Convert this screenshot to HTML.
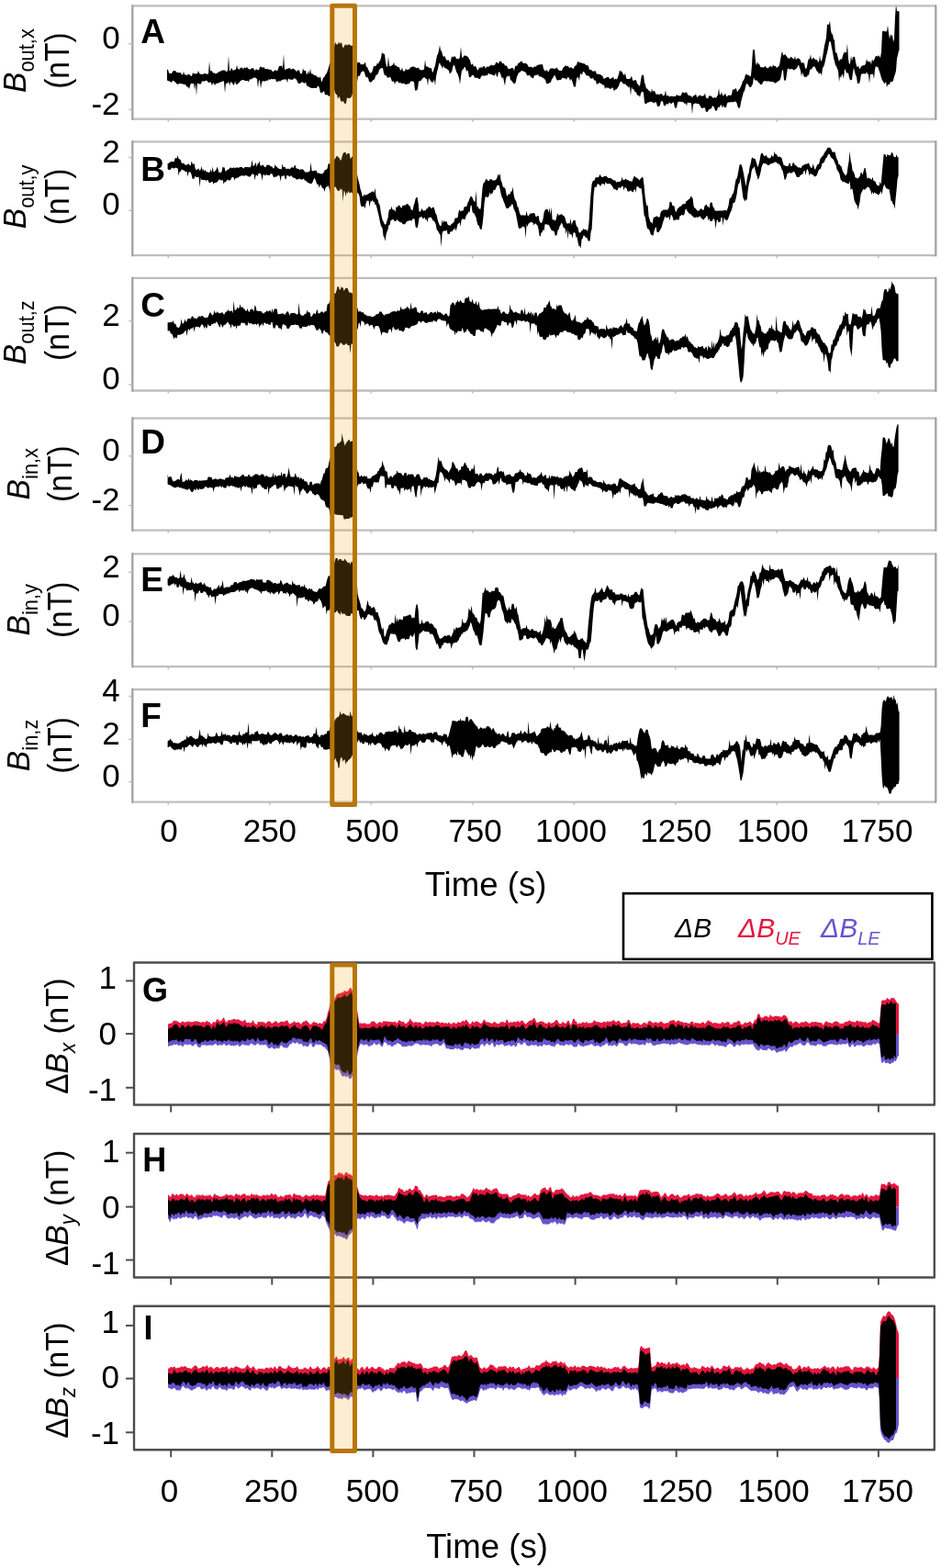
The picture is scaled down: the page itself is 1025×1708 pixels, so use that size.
<!DOCTYPE html><html><head><meta charset="utf-8"><style>html,body{margin:0;padding:0;background:#fff;}svg{display:block;}</style></head><body><svg width="1025" height="1708" viewBox="0 0 1025 1708" font-family='"Liberation Sans", Arial, sans-serif'>
<rect width="1025" height="1708" fill="#fff"/>
<path d="M182,75.7L183,75.7L184,79.5L185,79.9L186,79.9L187,79.9L188,78.1L189,77L190,77L191,77L192,78.6L193,78.9L194,78.9L195,79L196,79.3L197,79.3L198,81.3L199,81.7L200,77.7L201,81.3L202,81.3L203,81.9L204,81.8L205,80.8L206,80.8L207,82.1L208,82.8L209,82.8L210,78.9L211,80.2L212,80.3L213,80.3L214,80.6L215,80L216,77.1L217,79.5L218,80.8L219,80.8L220,80.8L221,81.2L222,80.1L223,80L224,80L225,81.1L226,80.6L227,80.5L228,66.7L229,77.3L230,77.3L231,77.3L232,79.6L233,79.6L234,79.6L235,80.8L236,79.5L237,79.4L238,78.7L239,77.4L240,78.3L241,76.7L242,76.7L243,76.6L244,76.6L245,76.6L246,77.5L247,78.4L248,76.5L249,60.6L250,77.2L251,76.7L252,73.8L253,75.5L254,77.3L255,76.1L256,76.1L257,75.4L258,70.8L259,75L260,75.2L261,75.8L262,73.1L263,74.4L264,73.2L265,75.7L266,73.3L267,74.1L268,74.1L269,72.7L270,74.5L271,75.2L272,75.5L273,75.5L274,74.2L275,74.2L276,74.2L277,76.2L278,77L279,74.7L280,76.1L281,76.1L282,76.5L283,72.8L284,72.8L285,72.8L286,74L287,73L288,74L289,75.2L290,75.2L291,75L292,75.2L293,75.7L294,75.7L295,75.7L296,76.7L297,78.1L298,78L299,76.5L300,76.5L301,76.5L302,77.7L303,74.9L304,72L305,72L306,72L307,70.9L308,75.1L309,58.6L310,75.7L311,76L312,75L313,75L314,74.5L315,74.3L316,74.3L317,76L318,74.9L319,74.7L320,74.7L321,76.2L322,76.2L323,78.5L324,76.4L325,76.4L326,76.4L327,79.9L328,80.2L329,80.2L330,74.3L331,76.9L332,76.9L333,76.9L334,81.2L335,80.2L336,77L337,81L338,74.4L339,80.2L340,80.2L341,80.7L342,81.9L343,81.9L344,82.2L345,83.1L346,84.2L347,84.2L348,84.8L349,83L350,88.7L351,88.6L352,84.5L353,84.5L354,82.5L355,80.5L356,79.5L357,76.6L358,73.4L359,69.6L360,68L361,57.9L362,52.5L363,51.2L364,51.2L365,45.8L366,47.7L367,48.6L368,48.3L369,45.5L370,47.6L371,47L372,46L373,50.8L374,52.6L375,50L376,48.4L377,48.4L378,49.8L379,48.4L380,48.4L381,48.4L382,49.8L383,49.8L384,49.8L385,48L386,53.4L387,59.7L388,63.8L389,68.8L390,68L391,68L392,68L393,70.4L394,69.9L395,69.9L396,70.6L397,68.7L398,67.8L399,72.9L400,73.1L401,75.5L402,77.4L403,79.7L404,79.3L405,79L406,76L407,72L408,72L409,72L410,71.2L411,68.2L412,70L413,66.9L414,66.2L415,63.1L416,57.3L417,58.1L418,58.8L419,58.9L420,67.2L421,72L422,72.9L423,61.3L424,71.8L425,72L426,72.3L427,70.7L428,70.7L429,67.8L430,71.3L431,71.3L432,71.7L433,73.1L434,73.1L435,73.4L436,76.4L437,76.4L438,73.4L439,77.6L440,77.6L441,77.6L442,74.5L443,76.5L444,75.8L445,75.7L446,75.2L447,73.2L448,73.2L449,72.9L450,72.1L451,73.5L452,72.4L453,74.2L454,74.1L455,74.1L456,73.4L457,75.9L458,75.9L459,76.6L460,76.3L461,76.3L462,75.2L463,65.1L464,72.6L465,72.6L466,72.6L467,73.7L468,73.7L469,74.2L470,74.2L471,79.2L472,77.6L473,74L474,71.6L475,65.8L476,60.8L477,58.8L478,55L479,49.3L480,55L481,55.5L482,59.6L483,62.2L484,60.7L485,62.2L486,65.1L487,65.7L488,65.5L489,65.5L490,68.6L491,66.6L492,60.9L493,62.7L494,61.6L495,61.6L496,61.6L497,64L498,64L499,64L500,64.4L501,61.5L502,50.7L503,61.5L504,63.4L505,61L506,60.4L507,60.4L508,60.9L509,61.6L510,62.3L511,64.2L512,65.5L513,70.3L514,70.4L515,69.1L516,73.1L517,72L518,71.9L519,73.8L520,76.6L521,76.2L522,73L523,74.7L524,72.3L525,74.6L526,72.2L527,72.2L528,72.2L529,75L530,72.6L531,72.7L532,72.4L533,72.4L534,71.2L535,70.8L536,70.8L537,71.5L538,71.1L539,70.7L540,68.6L541,67.6L542,68.6L543,69.5L544,66.7L545,66.7L546,66.7L547,69L548,69L549,69.3L550,71.4L551,71.4L552,71.4L553,73.9L554,75.5L555,74.8L556,75L557,74.1L558,74.1L559,74.1L560,77.2L561,72.8L562,71L563,72.4L564,69.6L565,68.5L566,68.5L567,66.7L568,66.7L569,67.5L570,69.1L571,69.1L572,68.5L573,69.5L574,69.5L575,71.3L576,73.3L577,72.7L578,72.7L579,73L580,73.6L581,73.8L582,72.5L583,72.5L584,72.5L585,70.9L586,70.8L587,70.6L588,70.3L589,70.3L590,70.3L591,69.9L592,74.7L593,76.5L594,77.7L595,76.3L596,76.3L597,78.7L598,77.2L599,74.9L600,74.6L601,74.6L602,74.5L603,74.5L604,75L605,75.1L606,73.6L607,73.9L608,75.9L609,76.8L610,76.8L611,77.3L612,76.9L613,74.7L614,72.8L615,72.8L616,71.1L617,72.1L618,72.1L619,72.1L620,73.9L621,73.5L622,73.5L623,73.5L624,74.9L625,74.5L626,71.7L627,71.7L628,70.4L629,67.8L630,66.4L631,68.8L632,67.7L633,68.3L634,68.9L635,69L636,69.2L637,69.6L638,70.7L639,71.1L640,71.1L641,72L642,75.9L643,75.9L644,75.8L645,77.5L646,77.6L647,77.7L648,76.9L649,78L650,81.2L651,79.9L652,81.1L653,81.1L654,81.1L655,82.2L656,82.2L657,84.4L658,86.2L659,85L660,85L661,84L662,84L663,84L664,85.9L665,85.9L666,84.9L667,84.9L668,83.3L669,87.1L670,85.8L671,85.8L672,86.8L673,83.8L674,81L675,76.3L676,78.1L677,77.3L678,79.2L679,81.1L680,82.2L681,79.2L682,84.5L683,86.2L684,86L685,86L686,86L687,84.7L688,82.6L689,86.9L690,88.3L691,87.2L692,87.2L693,87.2L694,91.1L695,92L696,93.1L697,94L698,87.2L699,81.7L700,81.7L701,81.7L702,89.8L703,92.4L704,96.6L705,96.6L706,97.8L707,99L708,99L709,101.4L710,96.2L711,99.9L712,99L713,99L714,101.3L715,103.4L716,101.9L717,103.3L718,102.7L719,102.7L720,101.9L721,102.2L722,104.1L723,104.5L724,103L725,98.2L726,104.4L727,104.1L728,104.1L729,105.4L730,105.1L731,104.6L732,105.1L733,105.1L734,105.1L735,105L736,104.9L737,102.9L738,103.8L739,104.3L740,104.3L741,104.4L742,103.7L743,100.6L744,100.6L745,101.3L746,101.2L747,100.5L748,100.6L749,102.7L750,104L751,104L752,104.6L753,104.6L754,106.6L755,104.4L756,104L757,104L758,102L759,105.7L760,105.7L761,104.2L762,103.7L763,103.7L764,104.7L765,104.7L766,104.2L767,104.2L768,101.3L769,106.4L770,107L771,107.6L772,105.3L773,104.2L774,104.2L775,104.9L776,105.9L777,107.3L778,106.1L779,106.1L780,106.9L781,104.8L782,103.6L783,96.1L784,103.6L785,103L786,100.3L787,103.8L788,104.6L789,103.2L790,101.6L791,104.4L792,105.5L793,103.7L794,103.7L795,103.7L796,104.3L797,102.7L798,97.5L799,97.5L800,97.5L801,96.3L802,96.6L803,100.5L804,98.8L805,97.1L806,96.7L807,93.7L808,92L809,88.3L810,87.6L811,85.1L812,81.5L813,80.4L814,81.7L815,81.7L816,81.7L817,83.7L818,82.2L819,70.8L820,54.2L821,54.2L822,54.2L823,67.7L824,71.3L825,67.2L826,69.9L827,69.3L828,72.6L829,73.4L830,73L831,73.4L832,73.6L833,72.3L834,72.3L835,74.1L836,74.3L837,74.3L838,72.4L839,72.3L840,72.3L841,73.6L842,70.3L843,72L844,72L845,72L846,74.3L847,72.8L848,72.5L849,71L850,65.6L851,59.8L852,55.7L853,59.8L854,60.4L855,58.7L856,60.3L857,61.5L858,63.3L859,63.3L860,64.2L861,62L862,62L863,63L864,64.1L865,64.6L866,61.1L867,65.5L868,63.7L869,63.6L870,63.6L871,64.2L872,65.8L873,68.9L874,67.8L875,68.8L876,68.8L877,74.2L878,75.1L879,72.9L880,66.8L881,64.1L882,64.1L883,59.2L884,64.9L885,64L886,62.6L887,63.8L888,65L889,65L890,64.9L891,67.4L892,67.4L893,60.5L894,66.5L895,66.3L896,62.2L897,56.3L898,49.8L899,45.8L900,40.7L901,26.4L902,26.7L903,26.7L904,22.5L905,33.6L906,36.9L907,37.2L908,43L909,43.5L910,57.9L911,56.6L912,59.7L913,64L914,67L915,64.5L916,64.5L917,64.4L918,60.8L919,58.1L920,56.5L921,57.4L922,57.1L923,47.3L924,64.3L925,69.9L926,69.1L927,60.8L928,66.2L929,61.9L930,61.9L931,61.5L932,67.2L933,71.8L934,73.6L935,71.3L936,75.1L937,74.5L938,72.5L939,71.6L940,71.5L941,71L942,71L943,69.1L944,63.9L945,67.5L946,66.2L947,68.3L948,66L949,70.7L950,64.1L951,67.1L952,65.4L953,63L954,61L955,61L956,61.8L957,60.1L958,61.8L959,62.8L960,56.4L961,34.6L962,33.7L963,33.7L964,34.2L965,34.2L966,34.2L967,27.6L968,36.1L969,42.4L970,37.1L971,39.6L972,37.7L973,46L974,42.5L975,18.6L976,4.1L977,12.3L978,12.3L979,12.3L979.5,11.9L979.5,55.2L979,55.2L978,59.8L977,63.8L976,77.1L975,80.8L974,83.4L973,87.4L972,89.2L971,89.2L970,88.8L969,92.1L968,92.1L967,92.1L966,95.3L965,88.8L964,90.7L963,90.7L962,88.8L961,87.4L960,84.8L959,81.3L958,77.7L957,75.2L956,72.2L955,73.6L954,71.7L953,75.6L952,86.3L951,80.7L950,80.7L949,80.7L948,81.1L947,91L946,81.1L945,80.6L944,78.2L943,80.6L942,80.6L941,80.1L940,80.4L939,80.4L938,80.7L937,87.4L936,90.9L935,90.9L934,90.9L933,83.7L932,81.8L931,78.4L930,73.5L929,79.2L928,86.7L927,87.3L926,87.3L925,84.4L924,79.4L923,79.4L922,79.4L921,76.5L920,75L919,85.9L918,81.2L917,81.2L916,85.1L915,82.5L914,89.2L913,76.8L912,74.9L911,71.9L910,71L909,66.8L908,63L907,56.8L906,52.2L905,46.1L904,44.8L903,46.4L902,52.6L901,57.5L900,60.7L899,65.7L898,70.2L897,72.8L896,74.3L895,82.7L894,79.6L893,79.6L892,81L891,78L890,78L889,75.9L888,73.6L887,72.2L886,72.8L885,73.5L884,75.9L883,75L882,76.7L881,82.3L880,81.2L879,83.8L878,83.8L877,83.8L876,83.8L875,81.4L874,78.5L873,83.4L872,76.8L871,73.9L870,70.8L869,72L868,74.4L867,74.4L866,75.9L865,76.2L864,76.2L863,75L862,75.1L861,75.5L860,75.5L859,75L858,74.2L857,80.4L856,87.5L855,87.5L854,87.5L853,76.6L852,76.3L851,82.4L850,86.3L849,87.8L848,88.6L847,88.6L846,89.8L845,90.4L844,90.4L843,89.8L842,89.1L841,89.1L840,89.1L839,88.9L838,88.4L837,88.4L836,88.6L835,88.6L834,88.4L833,88L832,88.6L831,89.4L830,92L829,92L828,92L827,89.9L826,89.9L825,87.7L824,87.7L823,87.2L822,87.2L821,84L820,91.3L819,93L818,94.9L817,94.9L816,94.4L815,92L814,91.2L813,91.2L812,94.6L811,99.3L810,100L809,104L808,107.4L807,111.9L806,117.4L805,117.4L804,117.4L803,113.7L802,111.1L801,110.7L800,110.6L799,111.2L798,111.2L797,111.2L796,111.1L795,111.5L794,111.5L793,111.5L792,112.8L791,117L790,117L789,117L788,114.5L787,117.7L786,114.7L785,113.9L784,116.7L783,116.7L782,116.7L781,120.5L780,120.5L779,120.5L778,117L777,116L776,115.1L775,118.3L774,118.3L773,119.2L772,119.2L771,121.7L770,121.7L769,121.7L768,117.8L767,117.1L766,117.8L765,117.8L764,117.8L763,115.9L762,114.2L761,112.9L760,112.9L759,112.7L758,112.7L757,112.2L756,113.5L755,113.6L754,124.6L753,112.5L752,112.1L751,111.9L750,111.9L749,111.3L748,115.5L747,112.1L746,113.5L745,112.1L744,111.1L743,111.1L742,110.7L741,110.7L740,110.8L739,110.8L738,112.1L737,117.4L736,117.4L735,117.4L734,112.2L733,111.1L732,112.8L731,112.8L730,112.7L729,111.1L728,113.7L727,113.6L726,112.7L725,115.1L724,115.4L723,115.1L722,110.6L721,110.3L720,110.3L719,114.5L718,115.9L717,115.9L716,115.8L715,112L714,110.8L713,112.3L712,112.2L711,111.3L710,111.2L709,110.7L708,110.7L707,111.5L706,111.5L705,112L704,113.3L703,113.3L702,111.8L701,101.1L700,100.1L699,99.8L698,102.1L697,105.7L696,104.1L695,104.1L694,103.4L693,100.5L692,100.5L691,99L690,96.4L689,97.7L688,94.6L687,104.6L686,93.7L685,95.9L684,94L683,94L682,92.2L681,91.5L680,91.5L679,91.5L678,90.2L677,88.8L676,88.8L675,90.5L674,93.7L673,95.2L672,96.8L671,97.6L670,97.6L669,99.5L668,96.8L667,94.9L666,96.4L665,96.8L664,96.8L663,95.5L662,95.7L661,95.5L660,95.3L659,97L658,92.6L657,92.8L656,92.1L655,91.2L654,90.7L653,89.8L652,91.1L651,91.1L650,92.4L649,87.7L648,87.7L647,87.1L646,85L645,85.4L644,85.4L643,85.4L642,83.2L641,82.5L640,82.4L639,82.3L638,81.6L637,79.3L636,78.6L635,77.8L634,81.8L633,80.3L632,80.3L631,88.3L630,84.2L629,84.2L628,85.6L627,94.4L626,94.4L625,94.4L624,90.8L623,87.5L622,85.8L621,88.3L620,85L619,84L618,84.6L617,86.9L616,85.2L615,85.2L614,85.6L613,84.5L612,85.6L611,87.1L610,87.1L609,87.1L608,87.5L607,87.5L606,86.3L605,83.3L604,81.4L603,83.6L602,85.3L601,86.5L600,89.6L599,90.1L598,90.4L597,91.2L596,91.2L595,90.7L594,86.6L593,86.6L592,84.7L591,84.7L590,84.1L589,83.2L588,83.4L587,82.9L586,81.1L585,81.6L584,82.1L583,82.1L582,82.3L581,85.2L580,85.2L579,84.3L578,84.1L577,81.5L576,82.3L575,82.3L574,82.3L573,79.5L572,78.5L571,77.8L570,77.8L569,77.3L568,76.7L567,78.2L566,78.9L565,78.9L564,81.8L563,83.4L562,88.4L561,91.2L560,90.9L559,90.5L558,89.1L557,87.6L556,87.5L555,81.9L554,83.3L553,83.3L552,83.2L551,86.1L550,93.4L549,89L548,83.7L547,85.8L546,83.3L545,80L544,78.3L543,78.4L542,83.4L541,83.4L540,78.9L539,82.4L538,82.1L537,82.1L536,81.6L535,80.7L534,80.7L533,80.7L532,79.2L531,82.4L530,81.6L529,82.4L528,82.4L527,82.5L526,82.5L525,82.3L524,83.6L523,86L522,86L521,85.5L520,84.7L519,84.7L518,84.7L517,84.7L516,82.3L515,81.7L514,82L513,83.9L512,83.9L511,84.3L510,78.2L509,76.1L508,78.3L507,73.4L506,72.7L505,74.9L504,75.7L503,77L502,83.4L501,91.9L500,85.3L499,81.8L498,79.7L497,78L496,74.5L495,71L494,71L493,73.9L492,78.8L491,78.8L490,81.1L489,77.3L488,75.7L487,75.5L486,74.5L485,74.3L484,73.8L483,71.3L482,74.9L481,72.1L480,71L479,68.2L478,70.1L477,75.1L476,78.6L475,83.8L474,93.6L473,86.2L472,89.4L471,89.6L470,89.6L469,87.9L468,86.4L467,85.1L466,93.3L465,85.9L464,85.9L463,84.8L462,83.9L461,85.1L460,85.5L459,87.4L458,87.9L457,88.5L456,88.5L455,96.7L454,98.5L453,98.5L452,98.5L451,89.1L450,89.1L449,88.3L448,88.8L447,88.8L446,91.2L445,91.2L444,91.2L443,92.2L442,91.7L441,91.7L440,90.5L439,90.9L438,90.9L437,90.9L436,89.6L435,90.7L434,89.8L433,88L432,89.1L431,89.1L430,91.9L429,88.4L428,88.4L427,89.1L426,85.7L425,83.8L424,84L423,84.8L422,84.8L421,82.4L420,82.3L419,81.9L418,79.3L417,74L416,74.3L415,74.3L414,75L413,76.6L412,79.5L411,81.5L410,81.5L409,83L408,86.4L407,86.7L406,87.4L405,89L404,89.6L403,89.6L402,88.8L401,84.7L400,84.2L399,83.9L398,83L397,78.8L396,77.5L395,77.5L394,78.2L393,79.2L392,82.6L391,82.8L390,82.8L389,89.5L388,92L387,96.7L386,98.1L385,100.6L384,101.5L383,105.2L382,106.3L381,107.1L380,107.1L379,107.1L378,106.3L377,112.7L376,112.7L375,112.7L374,109.7L373,110.8L372,110.8L371,109.5L370,105.5L369,105.5L368,108L367,103L366,103L365,100.7L364,97.7L363,96.4L362,103L361,103.5L360,103.7L359,104.7L358,104.7L357,103.5L356,103.3L355,103.3L354,103.3L353,99L352,99.9L351,101.1L350,101.1L349,101.1L348,96.3L347,93.8L346,93.7L345,96.1L344,96.1L343,96.1L342,95.7L341,96.1L340,96.1L339,96.1L338,95.3L337,95.3L336,94.1L335,94.1L334,92.9L333,89.2L332,90.7L331,90.7L330,89.6L329,89.6L328,89.7L327,90.9L326,90.9L325,90.9L324,89.3L323,86.6L322,86.6L321,84.8L320,86.1L319,86.7L318,86.7L317,86.7L316,86.4L315,86.4L314,85.3L313,90.2L312,86.6L311,86.6L310,86.6L309,86.4L308,86.8L307,87.5L306,87.5L305,89.3L304,87.6L303,89.1L302,89.1L301,89.1L300,86L299,86.2L298,86.2L297,86.2L296,86L295,86L294,87.5L293,85.8L292,87.7L291,87.7L290,87.7L289,88.5L288,88.5L287,88.5L286,88.1L285,90.4L284,96.5L283,87.6L282,87.4L281,96.1L280,85.9L279,85.2L278,84.4L277,84.4L276,84.8L275,85.7L274,85.5L273,87.3L272,85.4L271,89.4L270,88.1L269,88.1L268,88L267,88L266,87.6L265,86.9L264,86.9L263,87.8L262,87.8L261,89.7L260,89.7L259,91.7L258,91.7L257,91.7L256,88.4L255,92.6L254,92.6L253,90.3L252,89.6L251,89.6L250,93.6L249,88.4L248,90.7L247,90.7L246,90.7L245,101.4L244,88.7L243,88L242,88.9L241,89.3L240,89.3L239,90.3L238,90.3L237,90.8L236,90.9L235,90.9L234,93.2L233,90.8L232,90.2L231,93.2L230,90.6L229,89L228,90L227,90L226,88.6L225,87.7L224,87.8L223,88.6L222,88.6L221,88.6L220,88.5L219,91.5L218,91.6L217,91.5L216,91.3L215,90.3L214,103.9L213,90.3L212,98L211,90.9L210,90.9L209,90.9L208,90.7L207,93.6L206,96.9L205,94.7L204,94.7L203,93.8L202,92L201,92L200,91.9L199,91.2L198,91.2L197,91.5L196,90.5L195,91.2L194,91.8L193,91.8L192,90.8L191,89.5L190,89.1L189,88.1L188,87.8L187,90.1L186,89.4L185,88.6L184,88.5L183,88.1L182,87.5Z" fill="#000"/>
<path d="M144.3,6.3H1019.3M144.3,129.7H1019.3" stroke="#bebebe" stroke-width="2.3" fill="none"/>
<path d="M144.3,5.15V130.85M1019.3,5.15V130.85" stroke="#a2a2a2" stroke-width="2.3" fill="none"/>
<line x1="140.3" y1="47.6" x2="144.3" y2="47.6" stroke="#bcbcbc" stroke-width="1.5"/>
<text x="130.6" y="52.8" font-size="35" text-anchor="end" fill="#000">0</text>
<line x1="140.3" y1="119.3" x2="144.3" y2="119.3" stroke="#bcbcbc" stroke-width="1.5"/>
<text x="130.6" y="124.5" font-size="35" text-anchor="end" fill="#000">-2</text>
<line x1="183.3" y1="129.7" x2="183.3" y2="132.7" stroke="#bcbcbc" stroke-width="1.5"/>
<line x1="293.8" y1="129.7" x2="293.8" y2="132.7" stroke="#bcbcbc" stroke-width="1.5"/>
<line x1="404.3" y1="129.7" x2="404.3" y2="132.7" stroke="#bcbcbc" stroke-width="1.5"/>
<line x1="514.8" y1="129.7" x2="514.8" y2="132.7" stroke="#bcbcbc" stroke-width="1.5"/>
<line x1="625.3" y1="129.7" x2="625.3" y2="132.7" stroke="#bcbcbc" stroke-width="1.5"/>
<line x1="735.8" y1="129.7" x2="735.8" y2="132.7" stroke="#bcbcbc" stroke-width="1.5"/>
<line x1="846.3" y1="129.7" x2="846.3" y2="132.7" stroke="#bcbcbc" stroke-width="1.5"/>
<line x1="956.8" y1="129.7" x2="956.8" y2="132.7" stroke="#bcbcbc" stroke-width="1.5"/>
<text x="153.3" y="47" font-size="37" font-weight="bold" fill="#000">A</text>
<g transform="translate(28.3,66.1) rotate(-90) scale(0.95,1)"><text text-anchor="middle" font-size="35.5" fill="#000"><tspan font-style="italic">B</tspan><tspan font-size="23" dy="8.7">out,x</tspan></text></g>
<g transform="translate(75.1,66.1) rotate(-90) scale(0.92,1)"><text text-anchor="middle" font-size="36.5" fill="#000">(nT)</text></g>
<path d="M182.6,178L183.6,178L184.6,176.9L185.6,176.4L186.6,176.1L187.6,176.1L188.6,176.1L189.6,176.3L190.6,172.6L191.6,171.9L192.6,172.6L193.6,169.3L194.6,173.2L195.6,173.2L196.6,174.1L197.6,176.9L198.6,178.3L199.6,177.5L200.6,178.3L201.6,179.5L202.6,180.1L203.6,179.3L204.6,179.3L205.6,178L206.6,179.9L207.6,180.4L208.6,175.4L209.6,178L210.6,179.2L211.6,177.8L212.6,183.4L213.6,184.9L214.6,184.9L215.6,183.9L216.6,183.6L217.6,186.2L218.6,184.6L219.6,180.9L220.6,186L221.6,183.9L222.6,186.7L223.6,185.1L224.6,187.3L225.6,187.3L226.6,187.6L227.6,188L228.6,187.3L229.6,184.2L230.6,188.1L231.6,181.6L232.6,187.2L233.6,187.2L234.6,185.7L235.6,184.7L236.6,181.5L237.6,184.7L238.6,188.4L239.6,187.6L240.6,187.9L241.6,186.7L242.6,181.4L243.6,182.6L244.6,182.6L245.6,186.7L246.6,186.2L247.6,184.8L248.6,184.8L249.6,183.9L250.6,182.5L251.6,182.5L252.6,183.3L253.6,182.9L254.6,182.1L255.6,183.4L256.6,182.5L257.6,182.5L258.6,182.5L259.6,182.8L260.6,182.6L261.6,182.1L262.6,182.1L263.6,182.1L264.6,183.3L265.6,183.4L266.6,181.9L267.6,181.9L268.6,181.9L269.6,182L270.6,182.3L271.6,181.9L272.6,182.5L273.6,180.2L274.6,174.1L275.6,181.1L276.6,180.5L277.6,179.2L278.6,176.7L279.6,182L280.6,178.3L281.6,178.3L282.6,175.3L283.6,180.7L284.6,180.5L285.6,179.7L286.6,179.4L287.6,181L288.6,182.2L289.6,182.1L290.6,179.6L291.6,179.7L292.6,179.7L293.6,179.7L294.6,181.2L295.6,181.2L296.6,181.7L297.6,183.6L298.6,183L299.6,178.9L300.6,181.2L301.6,181.6L302.6,183.2L303.6,183.4L304.6,184.1L305.6,184.1L306.6,184.8L307.6,178.2L308.6,182L309.6,182L310.6,182L311.6,184.3L312.6,183.7L313.6,183.7L314.6,183.7L315.6,184.5L316.6,183.1L317.6,182.3L318.6,182.3L319.6,182.9L320.6,180.6L321.6,179.8L322.6,183.5L323.6,183.5L324.6,183.9L325.6,183.9L326.6,185.4L327.6,183.9L328.6,184.8L329.6,183.9L330.6,185.2L331.6,186.4L332.6,187.7L333.6,187.6L334.6,187.4L335.6,187.4L336.6,187.1L337.6,186.2L338.6,176.4L339.6,186.2L340.6,186.3L341.6,186.3L342.6,185.7L343.6,185.7L344.6,185.7L345.6,188.6L346.6,188.6L347.6,188.6L348.6,189.2L349.6,189.3L350.6,189.3L351.6,189.3L352.6,187.8L353.6,185.7L354.6,184.8L355.6,184.8L356.6,183.6L357.6,178.6L358.6,178.3L359.6,178.6L360.6,176.9L361.6,174.2L362.6,174.2L363.6,173.8L364.6,173.6L365.6,172.1L366.6,170L367.6,170L368.6,171.5L369.6,172.1L370.6,174.6L371.6,174.6L372.6,170.5L373.6,167.5L374.6,166.1L375.6,166L376.6,166L377.6,169L378.6,167.1L379.6,167.1L380.6,167.1L381.6,172.5L382.6,172.5L383.6,170L384.6,172.6L385.6,174.7L386.6,175.5L387.6,186.4L388.6,186.8L389.6,193.3L390.6,197.3L391.6,201.1L392.6,206.2L393.6,209L394.6,213.6L395.6,214.3L396.6,211.6L397.6,212.8L398.6,212.2L399.6,212.2L400.6,211.4L401.6,211L402.6,210.1L403.6,210.1L404.6,209.1L405.6,208.6L406.6,208.6L407.6,210.1L408.6,204.6L409.6,213.9L410.6,216.4L411.6,217.4L412.6,221.8L413.6,223.1L414.6,229.9L415.6,235.2L416.6,239.5L417.6,241.2L418.6,243.8L419.6,244.8L420.6,244.1L421.6,239.9L422.6,237.2L423.6,229.4L424.6,228L425.6,228L426.6,224.7L427.6,228.6L428.6,228.6L429.6,228.6L430.6,230.9L431.6,224.7L432.6,225.9L433.6,224.3L434.6,223.6L435.6,224.3L436.6,226.2L437.6,226.4L438.6,223.8L439.6,223.8L440.6,223.8L441.6,223.4L442.6,222.6L443.6,222L444.6,222.6L445.6,224.1L446.6,224.4L447.6,227.8L448.6,228.7L449.6,229.2L450.6,223.9L451.6,220.9L452.6,216.6L453.6,215L454.6,215L455.6,221.3L456.6,230.7L457.6,230.5L458.6,229.4L459.6,226.8L460.6,229.4L461.6,229.4L462.6,229.3L463.6,229.3L464.6,227.3L465.6,227.3L466.6,225.2L467.6,225.2L468.6,225.2L469.6,227.2L470.6,226.5L471.6,225.8L472.6,225.8L473.6,229L474.6,232.8L475.6,234L476.6,238.9L477.6,242.2L478.6,245.1L479.6,246.1L480.6,246.2L481.6,239.3L482.6,243L483.6,240L484.6,241.8L485.6,241.3L486.6,241.3L487.6,244.4L488.6,245.3L489.6,245.5L490.6,245.8L491.6,243.9L492.6,243.4L493.6,242.7L494.6,241.4L495.6,237.5L496.6,237.5L497.6,237.5L498.6,236.7L499.6,230.4L500.6,228.3L501.6,230.4L502.6,229.6L503.6,229.6L504.6,229.5L505.6,225.2L506.6,225.2L507.6,225.2L508.6,224L509.6,220.5L510.6,218.9L511.6,216.1L512.6,214.1L513.6,214.1L514.6,215.2L515.6,218.2L516.6,219.3L517.6,219.9L518.6,207.5L519.6,225.6L520.6,224.7L521.6,227.6L522.6,227.6L523.6,227.5L524.6,215.4L525.6,204.1L526.6,199.3L527.6,198.8L528.6,196.8L529.6,194.6L530.6,195.8L531.6,197L532.6,197.3L533.6,195.3L534.6,195.3L535.6,195.3L536.6,196.4L537.6,196.4L538.6,196.6L539.6,196.3L540.6,195.3L541.6,193.2L542.6,189.6L543.6,191.8L544.6,188.8L545.6,196.5L546.6,198.5L547.6,202.8L548.6,204.3L549.6,204.3L550.6,206.3L551.6,211.7L552.6,213.9L553.6,211.5L554.6,211.5L555.6,211.5L556.6,208.3L557.6,208.8L558.6,203.4L559.6,211.9L560.6,216.4L561.6,218.3L562.6,220L563.6,225.5L564.6,225.6L565.6,230.4L566.6,233.5L567.6,234.8L568.6,234.3L569.6,234.5L570.6,234.5L571.6,234.5L572.6,234.7L573.6,229.8L574.6,234.7L575.6,235.5L576.6,233.7L577.6,232.5L578.6,232.5L579.6,232.5L580.6,231.9L581.6,231.9L582.6,232.7L583.6,236.1L584.6,236.1L585.6,235L586.6,235L587.6,240.7L588.6,242.6L589.6,243L590.6,241.8L591.6,238L592.6,231.6L593.6,228.9L594.6,227.9L595.6,227.9L596.6,227.7L597.6,231.8L598.6,225.9L599.6,234.3L600.6,225.6L601.6,238.9L602.6,239.4L603.6,239.3L604.6,240.8L605.6,238.9L606.6,235.1L607.6,231.9L608.6,235.1L609.6,233.9L610.6,233.8L611.6,233.1L612.6,234.2L613.6,234.7L614.6,235.5L615.6,237.6L616.6,241.8L617.6,243.5L618.6,243.5L619.6,243.1L620.6,243.7L621.6,237.7L622.6,245.2L623.6,242.3L624.6,240.1L625.6,240.1L626.6,240.1L627.6,245.2L628.6,247L629.6,248.2L630.6,253.3L631.6,253.5L632.6,252.9L633.6,251.3L634.6,250.7L635.6,248.9L636.6,249.9L637.6,249.9L638.6,249.9L639.6,252.1L640.6,249.4L641.6,241.3L642.6,224.8L643.6,210.7L644.6,200.4L645.6,197.4L646.6,196.7L647.6,196.6L648.6,193.3L649.6,193.3L650.6,193.3L651.6,193.2L652.6,191.9L653.6,189.8L654.6,192L655.6,193L656.6,193L657.6,192.6L658.6,191.8L659.6,191.8L660.6,192.1L661.6,193.1L662.6,193.9L663.6,193.9L664.6,193.9L665.6,194.2L666.6,194.7L667.6,195.9L668.6,196.5L669.6,196.3L670.6,197.2L671.6,198.7L672.6,198L673.6,198L674.6,198L675.6,197.4L676.6,196.9L677.6,192.4L678.6,196.4L679.6,195.8L680.6,195.7L681.6,194.4L682.6,195.7L683.6,195.9L684.6,196.3L685.6,197.6L686.6,197.1L687.6,197.7L688.6,197.7L689.6,194.5L690.6,192.1L691.6,192.1L692.6,193.4L693.6,193.4L694.6,194.4L695.6,195.3L696.6,196.5L697.6,194.8L698.6,193.9L699.6,192.4L700.6,193.9L701.6,202.2L702.6,213.4L703.6,220.2L704.6,224.6L705.6,223.3L706.6,235.7L707.6,238.7L708.6,241.9L709.6,241.9L710.6,244.1L711.6,237.7L712.6,236.5L713.6,236.3L714.6,236.3L715.6,234.9L716.6,236.4L717.6,236.4L718.6,236.5L719.6,231.5L720.6,230L721.6,229.2L722.6,228.6L723.6,228.4L724.6,228.4L725.6,228.4L726.6,228.7L727.6,228.1L728.6,226.3L729.6,219.7L730.6,219.7L731.6,220.8L732.6,224.3L733.6,224.3L734.6,224.5L735.6,230.1L736.6,231L737.6,228.1L738.6,226.8L739.6,225.9L740.6,224.7L741.6,224.7L742.6,223.8L743.6,222.3L744.6,222.3L745.6,222.2L746.6,221.8L747.6,218.8L748.6,218.8L749.6,217.5L750.6,216.9L751.6,216.1L752.6,213.6L753.6,214.7L754.6,215.9L755.6,224.6L756.6,226.4L757.6,227L758.6,228.3L759.6,229.7L760.6,229.6L761.6,229.6L762.6,227.5L763.6,227.5L764.6,227.5L765.6,228.9L766.6,228.6L767.6,224.1L768.6,223.4L769.6,222.5L770.6,225L771.6,225L772.6,227.1L773.6,220.7L774.6,220.6L775.6,220.6L776.6,225.3L777.6,226.3L778.6,228.9L779.6,229.7L780.6,229.5L781.6,229.7L782.6,229.6L783.6,229.6L784.6,229.6L785.6,229.4L786.6,229.4L787.6,229.4L788.6,229.1L789.6,229.1L790.6,229.1L791.6,229.7L792.6,226.9L793.6,223.6L794.6,216.6L795.6,215.5L796.6,215.1L797.6,211.8L798.6,210.7L799.6,207.5L800.6,200.7L801.6,195.3L802.6,194.5L803.6,190.5L804.6,184.7L805.6,179.3L806.6,179.3L807.6,179.3L808.6,182.4L809.6,187L810.6,192.2L811.6,198.1L812.6,202.9L813.6,195.7L814.6,190.5L815.6,188.7L816.6,181.8L817.6,178.4L818.6,173.1L819.6,171.2L820.6,172.7L821.6,172.7L822.6,172.9L823.6,175.9L824.6,179.6L825.6,182.3L826.6,178.6L827.6,174.2L828.6,168.3L829.6,166.8L830.6,166.8L831.6,169L832.6,170L833.6,170L834.6,168.5L835.6,171.6L836.6,171.6L837.6,172.6L838.6,172.5L839.6,171.5L840.6,168.5L841.6,170.8L842.6,170.5L843.6,164.8L844.6,167.9L845.6,167.9L846.6,169.5L847.6,171L848.6,170.8L849.6,170.8L850.6,171.4L851.6,172.5L852.6,176.6L853.6,179.7L854.6,179.9L855.6,180.7L856.6,181.1L857.6,181.1L858.6,180.9L859.6,177.8L860.6,177.8L861.6,181.2L862.6,181L863.6,177.2L864.6,177.3L865.6,179.4L866.6,180L867.6,180.8L868.6,181.7L869.6,182.5L870.6,182.5L871.6,182.5L872.6,183.3L873.6,181.1L874.6,179.9L875.6,179.9L876.6,178.7L877.6,178.7L878.6,178.6L879.6,178.6L880.6,177.2L881.6,179.1L882.6,181.7L883.6,182.7L884.6,183.1L885.6,178.3L886.6,181.6L887.6,184.8L888.6,183.8L889.6,180.7L890.6,179.1L891.6,178.9L892.6,176.7L893.6,172.6L894.6,171.8L895.6,169.9L896.6,169.6L897.6,167.2L898.6,165.6L899.6,164.3L900.6,162.4L901.6,160.7L902.6,160.7L903.6,160.7L904.6,161.2L905.6,162.9L906.6,165.5L907.6,165.8L908.6,165.5L909.6,165.8L910.6,170.2L911.6,173.2L912.6,175.1L913.6,179.5L914.6,178.7L915.6,181.1L916.6,181.2L917.6,185.6L918.6,187.7L919.6,189.3L920.6,191L921.6,191L922.6,188.9L923.6,181.6L924.6,175.7L925.6,164.5L926.6,175.1L927.6,178.6L928.6,186.1L929.6,186.7L930.6,189.3L931.6,193.6L932.6,193.6L933.6,194L934.6,194.7L935.6,192.7L936.6,192.3L937.6,188L938.6,188L939.6,190.8L940.6,186.4L941.6,182.9L942.6,182.9L943.6,188.6L944.6,195.1L945.6,193.6L946.6,193.8L947.6,194.7L948.6,194.7L949.6,196L950.6,192.4L951.6,197.2L952.6,197.2L953.6,197.8L954.6,200.8L955.6,201.7L956.6,202.3L957.6,202.4L958.6,198.1L959.6,201L960.6,190L961.6,179.1L962.6,168L963.6,168L964.6,168.4L965.6,171.4L966.6,167.8L967.6,169L968.6,169L969.6,169.7L970.6,167.4L971.6,165.5L972.6,167.4L973.6,170.7L974.6,171.2L975.6,171.2L976.6,168.1L977.6,171.3L978.6,171.3L978.6,191.2L977.6,194.9L976.6,206.6L975.6,216.2L974.6,227.7L973.6,223L972.6,222.3L971.6,219L970.6,219L969.6,212.4L968.6,206.2L967.6,206.2L966.6,205.6L965.6,205.6L964.6,204L963.6,201L962.6,202.2L961.6,206L960.6,212L959.6,208.1L958.6,210.2L957.6,211.7L956.6,212.7L955.6,211.2L954.6,210.9L953.6,210.6L952.6,209.2L951.6,211.7L950.6,208.7L949.6,212.1L948.6,208.3L947.6,206.3L946.6,204.1L945.6,203.8L944.6,203.8L943.6,205.1L942.6,206.3L941.6,206.8L940.6,205.7L939.6,207.2L938.6,209.4L937.6,211.5L936.6,219.7L935.6,223.9L934.6,228.5L933.6,223.6L932.6,222.8L931.6,220.5L930.6,218.6L929.6,212.2L928.6,206.2L927.6,205.5L926.6,207.3L925.6,197.2L924.6,200.2L923.6,200.2L922.6,199.5L921.6,199.5L920.6,198.5L919.6,198.2L918.6,198.2L917.6,197.8L916.6,196.6L915.6,195.6L914.6,189.9L913.6,187.4L912.6,186.3L911.6,184.5L910.6,180.1L909.6,178.2L908.6,175.2L907.6,173.5L906.6,172.7L905.6,171.9L904.6,170.5L903.6,167.9L902.6,167.6L901.6,169.3L900.6,171.8L899.6,172.2L898.6,174.6L897.6,177L896.6,177.5L895.6,178.1L894.6,181.7L893.6,184.3L892.6,184.3L891.6,185.7L890.6,188.8L889.6,191.2L888.6,191.7L887.6,192.5L886.6,191.7L885.6,190.3L884.6,190.3L883.6,189.5L882.6,188.9L881.6,191.6L880.6,186.7L879.6,184.1L878.6,185.4L877.6,191L876.6,185.8L875.6,186.3L874.6,189.4L873.6,189.4L872.6,190.7L871.6,190.7L870.6,193.1L869.6,193.1L868.6,193.1L867.6,192.4L866.6,190.1L865.6,187.8L864.6,186.8L863.6,187.6L862.6,188.5L861.6,188.5L860.6,188.5L859.6,187.8L858.6,189L857.6,189L856.6,193.1L855.6,195.7L854.6,195.7L853.6,190.7L852.6,186L851.6,184.7L850.6,181.6L849.6,180.1L848.6,178.8L847.6,178.3L846.6,178.3L845.6,176.6L844.6,176.6L843.6,176.9L842.6,177.2L841.6,178.1L840.6,178.3L839.6,178.3L838.6,179.1L837.6,179.9L836.6,179.9L835.6,179.6L834.6,178.3L833.6,178.3L832.6,178.3L831.6,177.4L830.6,179.2L829.6,181.7L828.6,187.3L827.6,191.2L826.6,194.3L825.6,195.7L824.6,191.7L823.6,189.1L822.6,185.3L821.6,181.1L820.6,183.5L819.6,183.5L818.6,186.8L817.6,193.7L816.6,197.4L815.6,201.3L814.6,207.9L813.6,218.2L812.6,217.1L811.6,219.4L810.6,217.6L809.6,216.2L808.6,209.2L807.6,201.9L806.6,193.2L805.6,199.5L804.6,200L803.6,203.9L802.6,211.5L801.6,216L800.6,220L799.6,221L798.6,221L797.6,226.1L796.6,229.4L795.6,231.3L794.6,233.9L793.6,237L792.6,239.4L791.6,240L790.6,240L789.6,238.5L788.6,237L787.6,246.1L786.6,237L785.6,236.4L784.6,241.7L783.6,241.7L782.6,242.4L781.6,239.3L780.6,240.6L779.6,249.5L778.6,240.6L777.6,238.1L776.6,239.1L775.6,241.1L774.6,241.1L773.6,241.1L772.6,237.7L771.6,240.6L770.6,235.4L769.6,235.1L768.6,237.2L767.6,237.5L766.6,239.7L765.6,238.7L764.6,238.6L763.6,237.3L762.6,235.4L761.6,235.6L760.6,236.9L759.6,236.6L758.6,236.6L757.6,236.9L756.6,236.9L755.6,236.7L754.6,235.5L753.6,234.7L752.6,233.5L751.6,232.7L750.6,232.7L749.6,230.9L748.6,230.1L747.6,227.8L746.6,227.8L745.6,232.9L744.6,234.6L743.6,234.6L742.6,233.7L741.6,235L740.6,235L739.6,239.2L738.6,239.5L737.6,239.5L736.6,238.8L735.6,240L734.6,240L733.6,240L732.6,236.3L731.6,234.2L730.6,234.2L729.6,240.6L728.6,235.9L727.6,236.9L726.6,236.9L725.6,236.9L724.6,235.4L723.6,237.7L722.6,240.8L721.6,243.9L720.6,247.7L719.6,249.4L718.6,251.2L717.6,252.9L716.6,252.9L715.6,252.9L714.6,247L713.6,248.6L712.6,251.5L711.6,256.7L710.6,256.2L709.6,255.9L708.6,254.7L707.6,251.2L706.6,249.6L705.6,249.6L704.6,247.3L703.6,241.2L702.6,236L701.6,234.6L700.6,223.7L699.6,213.1L698.6,205.3L697.6,205.2L696.6,205.2L695.6,203.5L694.6,203.5L693.6,202.7L692.6,209.8L691.6,205.8L690.6,206.9L689.6,209.2L688.6,209.2L687.6,207.7L686.6,207.2L685.6,208.6L684.6,208.6L683.6,208.6L682.6,205.2L681.6,204.4L680.6,203.8L679.6,207.8L678.6,202.8L677.6,202.8L676.6,203.8L675.6,205.3L674.6,204.1L673.6,204.5L672.6,207.3L671.6,207.3L670.6,206.6L669.6,205.8L668.6,206.2L667.6,203.8L666.6,202.6L665.6,200.9L664.6,200.3L663.6,199.9L662.6,200.3L661.6,200.3L660.6,199.7L659.6,198.1L658.6,202L657.6,200.3L656.6,200.3L655.6,200L654.6,202.6L653.6,202.6L652.6,201L651.6,200.3L650.6,200.5L649.6,203.9L648.6,203.6L647.6,204L646.6,212.5L645.6,232.6L644.6,249.7L643.6,252.6L642.6,262.4L641.6,262.4L640.6,262.6L639.6,259.3L638.6,259.1L637.6,258.3L636.6,256.7L635.6,256.3L634.6,260.1L633.6,260.6L632.6,270.7L631.6,267.8L630.6,268.6L629.6,264.1L628.6,258.3L627.6,258.7L626.6,254L625.6,253.2L624.6,253.2L623.6,259.7L622.6,255.3L621.6,255.3L620.6,255.3L619.6,250.9L618.6,260.8L617.6,249.6L616.6,255.3L615.6,248.8L614.6,248.5L613.6,247.5L612.6,244.1L611.6,242.4L610.6,245L609.6,246.3L608.6,250.2L607.6,250.5L606.6,255.8L605.6,257.1L604.6,256.1L603.6,252L602.6,251.6L601.6,251.6L600.6,250.4L599.6,248.8L598.6,246.4L597.6,245.1L596.6,244.7L595.6,244.4L594.6,244.3L593.6,244.3L592.6,251.5L591.6,249.9L590.6,253.2L589.6,253.2L588.6,257.7L587.6,256.7L586.6,249.7L585.6,245.7L584.6,244.7L583.6,243.4L582.6,243.5L581.6,245.6L580.6,242.6L579.6,242.6L578.6,241.8L577.6,242L576.6,243.2L575.6,243.4L574.6,247.3L573.6,244L572.6,260.1L571.6,247.6L570.6,247.6L569.6,246L568.6,248L567.6,248L566.6,249L565.6,249L564.6,247.2L563.6,241.7L562.6,236.6L561.6,231.8L560.6,229.4L559.6,227.4L558.6,223L557.6,222L556.6,224.6L555.6,224.6L554.6,226.1L553.6,227.1L552.6,227.1L551.6,227.1L550.6,224.8L549.6,221.7L548.6,219.5L547.6,216.6L546.6,214.4L545.6,210.9L544.6,205.7L543.6,202L542.6,201.8L541.6,201.8L540.6,204.1L539.6,206.4L538.6,207L537.6,207L536.6,210.4L535.6,210.5L534.6,212.2L533.6,209.2L532.6,213.2L531.6,215L530.6,215L529.6,214.1L528.6,214.8L527.6,221L526.6,234.9L525.6,244L524.6,250L523.6,250L522.6,248.8L521.6,245.5L520.6,245.5L519.6,242L518.6,237.1L517.6,235L516.6,232.5L515.6,232L514.6,231.1L513.6,223.6L512.6,223.9L511.6,231.4L510.6,230.3L509.6,232.8L508.6,233.6L507.6,235.4L506.6,238.9L505.6,238.9L504.6,238.4L503.6,238.4L502.6,239.8L501.6,246.8L500.6,241.9L499.6,243.6L498.6,244L497.6,248.1L496.6,251.8L495.6,248.1L494.6,249.9L493.6,250.3L492.6,252.3L491.6,252.3L490.6,252.3L489.6,255L488.6,255L487.6,255L486.6,250.3L485.6,251.6L484.6,251.6L483.6,251.6L482.6,251.8L481.6,254.4L480.6,269.2L479.6,256.1L478.6,254.4L477.6,252.4L476.6,251.3L475.6,249.4L474.6,243.9L473.6,241.9L472.6,240.5L471.6,240.5L470.6,238.3L469.6,236.4L468.6,236.9L467.6,236.9L466.6,236.9L465.6,242.3L464.6,238.8L463.6,239.7L462.6,236.8L461.6,237.8L460.6,238.5L459.6,236.2L458.6,235.9L457.6,237L456.6,236.9L455.6,244.1L454.6,248.6L453.6,248.1L452.6,247.1L451.6,238.8L450.6,238.2L449.6,238.2L448.6,240.5L447.6,240.5L446.6,240.1L445.6,240.3L444.6,240.8L443.6,240.8L442.6,241.9L441.6,243.6L440.6,244.3L439.6,244.3L438.6,244.3L437.6,242.3L436.6,242.3L435.6,242.2L434.6,240.8L433.6,240.7L432.6,238.8L431.6,240.8L430.6,241.1L429.6,241.1L428.6,239.1L427.6,239.1L426.6,239.7L425.6,240L424.6,245L423.6,245L422.6,250L421.6,252.3L420.6,255.6L419.6,262.7L418.6,258.5L417.6,257.3L416.6,248.8L415.6,247.2L414.6,244.7L413.6,240.2L412.6,234.9L411.6,231.1L410.6,226.8L409.6,223L408.6,223L407.6,219.3L406.6,220.5L405.6,217.8L404.6,219.6L403.6,219.3L402.6,225.7L401.6,218.5L400.6,218.7L399.6,218.5L398.6,221.2L397.6,227.6L396.6,224.3L395.6,225.1L394.6,225.2L393.6,225.1L392.6,222.1L391.6,214L390.6,211.2L389.6,210.3L388.6,208.7L387.6,208.7L386.6,209.6L385.6,209.6L384.6,210.6L383.6,210.6L382.6,209.1L381.6,210.3L380.6,210.3L379.6,208.1L378.6,210.9L377.6,209.1L376.6,214L375.6,209.1L374.6,207.5L373.6,219.7L372.6,205.2L371.6,207.2L370.6,205.2L369.6,207.9L368.6,207.9L367.6,207.6L366.6,205.7L365.6,203.5L364.6,203.5L363.6,205.2L362.6,205.2L361.6,209.9L360.6,212.8L359.6,209.9L358.6,205.3L357.6,202.1L356.6,203.2L355.6,203.5L354.6,204.5L353.6,209L352.6,205.8L351.6,204.9L350.6,203.9L349.6,201.4L348.6,201.4L347.6,204.7L346.6,200.6L345.6,201.3L344.6,199.1L343.6,195.8L342.6,193.7L341.6,195.4L340.6,198.2L339.6,200.1L338.6,200.1L337.6,200.1L336.6,199.3L335.6,199.3L334.6,198.2L333.6,197.3L332.6,196.7L331.6,196L330.6,194.4L329.6,195.5L328.6,195.5L327.6,195.5L326.6,194.7L325.6,194.6L324.6,195.6L323.6,195.6L322.6,195.6L321.6,194L320.6,193.8L319.6,193.8L318.6,192.9L317.6,191.6L316.6,191.2L315.6,192.8L314.6,191.5L313.6,191.5L312.6,190.6L311.6,195.2L310.6,195.1L309.6,190.9L308.6,191.6L307.6,191.8L306.6,191.8L305.6,197.7L304.6,191.6L303.6,191.3L302.6,191.1L301.6,192.4L300.6,192.4L299.6,192.4L298.6,193.6L297.6,192.3L296.6,189.5L295.6,189.1L294.6,189.4L293.6,191L292.6,191L291.6,191L290.6,190.3L289.6,190.3L288.6,191.7L287.6,189.7L286.6,190.7L285.6,196.7L284.6,190.7L283.6,189.1L282.6,188.4L281.6,188.9L280.6,192L279.6,190.8L278.6,190.8L277.6,196.4L276.6,189.9L275.6,189.6L274.6,189.4L273.6,191.1L272.6,192.5L271.6,192.5L270.6,192.5L269.6,191.6L268.6,191.6L267.6,190.8L266.6,191.4L265.6,191.4L264.6,191.4L263.6,191.3L262.6,191.3L261.6,192.3L260.6,192.3L259.6,193.4L258.6,193.4L257.6,194.1L256.6,194.1L255.6,196.4L254.6,193.4L253.6,192.9L252.6,192.9L251.6,195.3L250.6,196.4L249.6,196.4L248.6,196.2L247.6,195.6L246.6,197.5L245.6,198.2L244.6,198.2L243.6,200.7L242.6,195.7L241.6,196.4L240.6,196.4L239.6,195.7L238.6,195.3L237.6,197.2L236.6,198L235.6,198.9L234.6,198.9L233.6,198.9L232.6,200.8L231.6,198.3L230.6,197.6L229.6,198.9L228.6,198.9L227.6,198.9L226.6,196L225.6,196L224.6,197.6L223.6,195.8L222.6,196.1L221.6,196.1L220.6,196.1L219.6,196L218.6,193.7L217.6,204.1L216.6,192.5L215.6,192.9L214.6,192.9L213.6,192.9L212.6,191.4L211.6,194.7L210.6,194.7L209.6,194.7L208.6,190.2L207.6,187.8L206.6,187.6L205.6,187.1L204.6,192.5L203.6,187L202.6,187L201.6,187L200.6,185.6L199.6,185.6L198.6,184.7L197.6,184.7L196.6,186.9L195.6,186.9L194.6,191.7L193.6,183.2L192.6,183.2L191.6,182.5L190.6,182.9L189.6,183.6L188.6,183.6L187.6,182.6L186.6,183.3L185.6,185L184.6,185L183.6,185L182.6,183.9Z" fill="#000"/>
<path d="M144.3,154.4H1019.3M144.3,278.2H1019.3" stroke="#bebebe" stroke-width="2.3" fill="none"/>
<path d="M144.3,153.25V279.34999999999997M1019.3,153.25V279.34999999999997" stroke="#a2a2a2" stroke-width="2.3" fill="none"/>
<line x1="140.3" y1="171.4" x2="144.3" y2="171.4" stroke="#bcbcbc" stroke-width="1.5"/>
<text x="130.6" y="176.6" font-size="35" text-anchor="end" fill="#000">2</text>
<line x1="140.3" y1="229.2" x2="144.3" y2="229.2" stroke="#bcbcbc" stroke-width="1.5"/>
<text x="130.6" y="234.4" font-size="35" text-anchor="end" fill="#000">0</text>
<line x1="183.3" y1="278.2" x2="183.3" y2="281.2" stroke="#bcbcbc" stroke-width="1.5"/>
<line x1="293.8" y1="278.2" x2="293.8" y2="281.2" stroke="#bcbcbc" stroke-width="1.5"/>
<line x1="404.3" y1="278.2" x2="404.3" y2="281.2" stroke="#bcbcbc" stroke-width="1.5"/>
<line x1="514.8" y1="278.2" x2="514.8" y2="281.2" stroke="#bcbcbc" stroke-width="1.5"/>
<line x1="625.3" y1="278.2" x2="625.3" y2="281.2" stroke="#bcbcbc" stroke-width="1.5"/>
<line x1="735.8" y1="278.2" x2="735.8" y2="281.2" stroke="#bcbcbc" stroke-width="1.5"/>
<line x1="846.3" y1="278.2" x2="846.3" y2="281.2" stroke="#bcbcbc" stroke-width="1.5"/>
<line x1="956.8" y1="278.2" x2="956.8" y2="281.2" stroke="#bcbcbc" stroke-width="1.5"/>
<text x="153.3" y="197" font-size="37" font-weight="bold" fill="#000">B</text>
<g transform="translate(28.3,214.4) rotate(-90) scale(0.95,1)"><text text-anchor="middle" font-size="35.5" fill="#000"><tspan font-style="italic">B</tspan><tspan font-size="23" dy="8.7">out,y</tspan></text></g>
<g transform="translate(75.1,214.4) rotate(-90) scale(0.92,1)"><text text-anchor="middle" font-size="36.5" fill="#000">(nT)</text></g>
<path d="M182.6,351.2L183.6,351.2L184.6,351.2L185.6,351.1L186.6,351.1L187.6,351.1L188.6,348.9L189.6,352.4L190.6,352.4L191.6,353.5L192.6,356.6L193.6,356.6L194.6,357.2L195.6,356L196.6,353.6L197.6,347.3L198.6,352.6L199.6,352.6L200.6,350.7L201.6,347.5L202.6,351.1L203.6,349.5L204.6,347.1L205.6,347.1L206.6,347.1L207.6,347.8L208.6,345.3L209.6,344.3L210.6,345.3L211.6,347.2L212.6,346.2L213.6,347.3L214.6,347.3L215.6,345.2L216.6,344.6L217.6,344.6L218.6,344.9L219.6,344L220.6,344L221.6,345.1L222.6,346.1L223.6,346L224.6,346L225.6,346L226.6,345.3L227.6,342.4L228.6,340.5L229.6,340.5L230.6,342.8L231.6,343.7L232.6,342.1L233.6,337.9L234.6,341L235.6,341L236.6,339.3L237.6,340.8L238.6,340.8L239.6,341.7L240.6,340.5L241.6,340.5L242.6,340.5L243.6,342.6L244.6,342.3L245.6,340.1L246.6,339.4L247.6,338.9L248.6,337.1L249.6,338.9L250.6,338.9L251.6,338.6L252.6,338.6L253.6,341.3L254.6,327.2L255.6,337.9L256.6,337.7L257.6,336.8L258.6,334.5L259.6,336.1L260.6,335.6L261.6,331.2L262.6,335.1L263.6,334.5L264.6,334.5L265.6,336.6L266.6,336.7L267.6,338.8L268.6,338.8L269.6,336.1L270.6,338.9L271.6,339.9L272.6,337.4L273.6,336.6L274.6,336.6L275.6,337.5L276.6,339.5L277.6,332.3L278.6,334L279.6,338.8L280.6,338.8L281.6,338.8L282.6,339.1L283.6,339.1L284.6,339.1L285.6,340.7L286.6,341.3L287.6,341.4L288.6,339.9L289.6,339.9L290.6,338L291.6,339.2L292.6,339.2L293.6,338.3L294.6,338.3L295.6,340.8L296.6,335.7L297.6,341.1L298.6,336.5L299.6,336.5L300.6,336.5L301.6,336.4L302.6,342.3L303.6,342.3L304.6,342.1L305.6,342.1L306.6,341.6L307.6,341.6L308.6,341.6L309.6,342.4L310.6,342.8L311.6,340.8L312.6,339.6L313.6,339.1L314.6,341.1L315.6,343.8L316.6,341L317.6,341L318.6,340.9L319.6,340.9L320.6,340.7L321.6,341.4L322.6,342.2L323.6,342.8L324.6,341.8L325.6,329.4L326.6,341.3L327.6,342.8L328.6,343.8L329.6,343.8L330.6,343.8L331.6,342.5L332.6,341.7L333.6,341.4L334.6,337.6L335.6,340.2L336.6,340.2L337.6,340.2L338.6,345L339.6,344.7L340.6,343.1L341.6,341.2L342.6,341.2L343.6,342.6L344.6,339.3L345.6,336.8L346.6,341.6L347.6,341.2L348.6,341.2L349.6,339.5L350.6,339.5L351.6,339.5L352.6,341.3L353.6,339.2L354.6,339.2L355.6,339.1L356.6,331.2L357.6,331.4L358.6,329.9L359.6,326.7L360.6,326.7L361.6,326.2L362.6,321.7L363.6,321.1L364.6,319.6L365.6,319.6L366.6,316.3L367.6,311.9L368.6,311.9L369.6,315L370.6,316L371.6,312.1L372.6,313.7L373.6,312.9L374.6,317.1L375.6,315.5L376.6,313.7L377.6,313.7L378.6,313.7L379.6,316.9L380.6,318.8L381.6,318.8L382.6,318.8L383.6,319.7L384.6,319.7L385.6,322.6L386.6,328.1L387.6,332.7L388.6,334L389.6,336.6L390.6,340L391.6,339L392.6,339L393.6,340.2L394.6,340.2L395.6,339.9L396.6,342.3L397.6,342.3L398.6,343.6L399.6,343.6L400.6,344.6L401.6,344.3L402.6,344.3L403.6,344.3L404.6,345.3L405.6,345.3L406.6,345L407.6,344.2L408.6,344.2L409.6,342.2L410.6,342.2L411.6,342.2L412.6,341.5L413.6,339.2L414.6,339.5L415.6,339.5L416.6,341.8L417.6,342.6L418.6,344L419.6,342.2L420.6,342.2L421.6,342.2L422.6,341.5L423.6,341.9L424.6,341L425.6,340.6L426.6,339.6L427.6,339.6L428.6,338.9L429.6,338.9L430.6,338.9L431.6,339.9L432.6,338.3L433.6,338.3L434.6,338.9L435.6,338.1L436.6,333.5L437.6,336.7L438.6,336.7L439.6,337.3L440.6,336.5L441.6,335.8L442.6,335.8L443.6,333.5L444.6,335.6L445.6,335.6L446.6,337.8L447.6,329.3L448.6,336.8L449.6,335.9L450.6,335.4L451.6,335.1L452.6,334.6L453.6,335.1L454.6,339.9L455.6,340.1L456.6,341.1L457.6,341.1L458.6,338.6L459.6,338.6L460.6,338.6L461.6,341.8L462.6,340.4L463.6,340.4L464.6,339.9L465.6,342.6L466.6,342.6L467.6,341.3L468.6,340.6L469.6,339.8L470.6,339.8L471.6,341.6L472.6,340.3L473.6,340.3L474.6,339.2L475.6,341.9L476.6,338.1L477.6,340.4L478.6,340.2L479.6,340.1L480.6,341.2L481.6,341.7L482.6,342.9L483.6,343.4L484.6,341.9L485.6,341.6L486.6,341.6L487.6,343.9L488.6,344.8L489.6,343.6L490.6,331.9L491.6,331.8L492.6,329.6L493.6,329.6L494.6,330.6L495.6,332.9L496.6,329.4L497.6,328.9L498.6,326.8L499.6,329.3L500.6,328.7L501.6,326.4L502.6,328.7L503.6,329.8L504.6,330.1L505.6,330.3L506.6,325.1L507.6,324.4L508.6,324.4L509.6,324.4L510.6,322.2L511.6,328.2L512.6,328.5L513.6,329.5L514.6,325.3L515.6,330.1L516.6,330.9L517.6,330.9L518.6,327.6L519.6,332.2L520.6,332.3L521.6,327.9L522.6,335.1L523.6,336.8L524.6,337.4L525.6,337.8L526.6,337.4L527.6,337.2L528.6,337.2L529.6,337L530.6,337L531.6,336.6L532.6,336.6L533.6,336.8L534.6,336.7L535.6,336.7L536.6,336.7L537.6,336.5L538.6,336.5L539.6,336.5L540.6,336.8L541.6,336.3L542.6,333.1L543.6,338.1L544.6,337.1L545.6,341.6L546.6,341.6L547.6,339.5L548.6,339.5L549.6,339.5L550.6,341.5L551.6,341.5L552.6,342.5L553.6,341.8L554.6,340L555.6,331.3L556.6,337.3L557.6,337.3L558.6,339.3L559.6,340.7L560.6,340.2L561.6,339.3L562.6,340.2L563.6,340.7L564.6,341.3L565.6,341.3L566.6,342.4L567.6,337.6L568.6,337.6L569.6,338.8L570.6,342.4L571.6,334.8L572.6,343L573.6,342.6L574.6,341.9L575.6,339.1L576.6,341.4L577.6,341.4L578.6,339L579.6,343.7L580.6,340.2L581.6,344.7L582.6,340.4L583.6,340.4L584.6,340.4L585.6,345.5L586.6,343L587.6,341.6L588.6,341.3L589.6,340.6L590.6,340L591.6,338.9L592.6,334.7L593.6,334.7L594.6,335.5L595.6,331.7L596.6,331.7L597.6,329.1L598.6,327.3L599.6,333.2L600.6,334L601.6,336.7L602.6,335.9L603.6,335.9L604.6,337.3L605.6,337.6L606.6,331.3L607.6,334.5L608.6,332.2L609.6,332.4L610.6,332.4L611.6,332.4L612.6,335.9L613.6,339.1L614.6,340.4L615.6,341.6L616.6,341.6L617.6,342.4L618.6,343.8L619.6,341L620.6,340L621.6,346.9L622.6,349L623.6,349.5L624.6,348.1L625.6,346.3L626.6,342.6L627.6,350L628.6,350.6L629.6,350.6L630.6,351L631.6,351L632.6,352.1L633.6,352.2L634.6,351L635.6,350.4L636.6,348.6L637.6,348.6L638.6,348.6L639.6,345.2L640.6,346.2L641.6,348.3L642.6,348.3L643.6,348.3L644.6,349.3L645.6,350.8L646.6,351.5L647.6,354.8L648.6,354.8L649.6,354.9L650.6,355.4L651.6,355.4L652.6,359.5L653.6,358.2L654.6,358.2L655.6,358.2L656.6,358.3L657.6,358.2L658.6,358.2L659.6,360L660.6,353.2L661.6,357.6L662.6,359L663.6,358.1L664.6,358.1L665.6,356.9L666.6,358.8L667.6,356.5L668.6,356.5L669.6,356.9L670.6,356.9L671.6,356.9L672.6,357.8L673.6,357.8L674.6,356.1L675.6,354.9L676.6,354L677.6,355.8L678.6,357.1L679.6,354L680.6,352.6L681.6,352.1L682.6,346.1L683.6,352.5L684.6,352.5L685.6,352.2L686.6,355.5L687.6,356L688.6,356.9L689.6,357.1L690.6,360.3L691.6,360.3L692.6,360.8L693.6,361.2L694.6,357.1L695.6,351.9L696.6,350.9L697.6,347.7L698.6,346.4L699.6,343.7L700.6,350.1L701.6,354.6L702.6,353.6L703.6,351.5L704.6,346.9L705.6,346.9L706.6,349.2L707.6,354.3L708.6,364.1L709.6,366.1L710.6,371.3L711.6,371.3L712.6,369.1L713.6,369.1L714.6,366.4L715.6,371.1L716.6,365.9L717.6,374.5L718.6,373.1L719.6,369.2L720.6,361.5L721.6,358.6L722.6,358.5L723.6,359.7L724.6,362.9L725.6,364.8L726.6,367.2L727.6,367.2L728.6,369.4L729.6,370.9L730.6,370.3L731.6,369.5L732.6,369.5L733.6,369.5L734.6,371.1L735.6,371.9L736.6,371L737.6,371L738.6,370.8L739.6,370.8L740.6,369.1L741.6,368.1L742.6,368.1L743.6,366.6L744.6,366.6L745.6,366.6L746.6,363.6L747.6,368.2L748.6,366.1L749.6,368.9L750.6,371.9L751.6,372L752.6,373.7L753.6,374.5L754.6,375.2L755.6,376.8L756.6,378.5L757.6,378.1L758.6,379.3L759.6,379.3L760.6,376.7L761.6,377.9L762.6,377.9L763.6,377.7L764.6,376.9L765.6,376.9L766.6,379.8L767.6,380L768.6,377.9L769.6,377.5L770.6,382.6L771.6,376L772.6,378.3L773.6,378.3L774.6,380.8L775.6,370.6L776.6,379.9L777.6,372.1L778.6,379.4L779.6,374.2L780.6,374.2L781.6,372.8L782.6,370.3L783.6,366.8L784.6,357.4L785.6,365.4L786.6,365.6L787.6,366.4L788.6,366.4L789.6,366.4L790.6,366.4L791.6,365L792.6,365.3L793.6,365L794.6,363.1L795.6,360.1L796.6,360.1L797.6,357.2L798.6,357.1L799.6,354.4L800.6,351L801.6,351L802.6,351L803.6,352L804.6,356.7L805.6,356.7L806.6,369.1L807.6,380.8L808.6,374.7L809.6,361.9L810.6,353.9L811.6,341.8L812.6,345.5L813.6,344.3L814.6,344.3L815.6,349.2L816.6,354.8L817.6,358.9L818.6,360.2L819.6,362.6L820.6,362.9L821.6,364.2L822.6,360.8L823.6,355.3L824.6,341.9L825.6,348.9L826.6,348.9L827.6,353.5L828.6,355.3L829.6,361.3L830.6,361.3L831.6,362.6L832.6,363.2L833.6,363.2L834.6,363.4L835.6,361L836.6,361L837.6,357.4L838.6,356.8L839.6,358.4L840.6,352.9L841.6,358.4L842.6,358.4L843.6,359.9L844.6,360.9L845.6,342.9L846.6,358.2L847.6,360.4L848.6,360.4L849.6,361.8L850.6,362.3L851.6,362L852.6,353.6L853.6,349.7L854.6,349.7L855.6,349.7L856.6,353.5L857.6,354.5L858.6,354.8L859.6,357.8L860.6,358.2L861.6,360.3L862.6,357.1L863.6,348.4L864.6,355.4L865.6,352.9L866.6,352.9L867.6,351L868.6,348.6L869.6,348.6L870.6,350.1L871.6,353.7L872.6,357L873.6,359.1L874.6,362.8L875.6,363.4L876.6,365.6L877.6,365.6L878.6,362L879.6,360.2L880.6,360.2L881.6,359.9L882.6,359.3L883.6,356.4L884.6,356.5L885.6,356.4L886.6,358.3L887.6,358.3L888.6,358.3L889.6,362.2L890.6,363L891.6,364.6L892.6,364.2L893.6,366.9L894.6,369.5L895.6,370.9L896.6,373.2L897.6,373.2L898.6,374.1L899.6,376.1L900.6,376.8L901.6,379.1L902.6,384.2L903.6,384.8L904.6,384.1L905.6,374.7L906.6,375.7L907.6,370L908.6,369.8L909.6,367.3L910.6,363.9L911.6,360.6L912.6,359.1L913.6,357.3L914.6,354L915.6,353.7L916.6,352.2L917.6,349.3L918.6,342.7L919.6,344.7L920.6,339.2L921.6,341.7L922.6,342.3L923.6,341.4L924.6,352.6L925.6,353.4L926.6,353.6L927.6,348L928.6,341.2L929.6,341.2L930.6,342.4L931.6,342.3L932.6,342.3L933.6,342.3L934.6,345L935.6,345L936.6,345L937.6,344.8L938.6,347.3L939.6,342.8L940.6,336.2L941.6,337.5L942.6,337.5L943.6,341.6L944.6,342.3L945.6,342.3L946.6,341.9L947.6,341.9L948.6,341.9L949.6,333.1L950.6,343.9L951.6,343.9L952.6,343.4L953.6,341.4L954.6,337.5L955.6,336.1L956.6,335.8L957.6,335.8L958.6,335.8L959.6,331.5L960.6,327.7L961.6,327.1L962.6,317.9L963.6,315.1L964.6,315.1L965.6,315.1L966.6,318.6L967.6,317.4L968.6,312.9L969.6,315.7L970.6,311.7L971.6,306.3L972.6,309.8L973.6,309.8L974.6,312.7L975.6,318.9L976.6,319.8L977.6,319.8L978.6,320.8L978.6,392.9L977.6,393.6L976.6,393.6L975.6,391.6L974.6,389.9L973.6,391L972.6,393.8L971.6,395.9L970.6,396.2L969.6,400.7L968.6,400.7L967.6,399L966.6,394.4L965.6,396.3L964.6,392.4L963.6,392.5L962.6,392.5L961.6,391.7L960.6,381L959.6,360.7L958.6,352.9L957.6,346.4L956.6,347.1L955.6,348.2L954.6,351.7L953.6,351.7L952.6,354.9L951.6,355.2L950.6,359.8L949.6,354.5L948.6,350.6L947.6,350.4L946.6,353.2L945.6,353.2L944.6,353.2L943.6,355.5L942.6,366.2L941.6,366.2L940.6,366.2L939.6,364L938.6,355.8L937.6,356.3L936.6,357.6L935.6,357.9L934.6,359.3L933.6,357.9L932.6,355.3L931.6,354.6L930.6,354.6L929.6,356.7L928.6,374.7L927.6,388.8L926.6,383.3L925.6,378L924.6,361L923.6,360.2L922.6,366.1L921.6,354.4L920.6,355.5L919.6,358.8L918.6,357.9L917.6,360.5L916.6,363.9L915.6,366.2L914.6,366.5L913.6,371.6L912.6,372.1L911.6,375.7L910.6,376.7L909.6,377.2L908.6,380.7L907.6,382.9L906.6,389.3L905.6,392.3L904.6,406.4L903.6,404.1L902.6,404.1L901.6,394.2L900.6,389.2L899.6,385.9L898.6,385.9L897.6,395.6L896.6,385.9L895.6,384L894.6,383.8L893.6,381.5L892.6,378.6L891.6,377.5L890.6,374.5L889.6,373.1L888.6,375L887.6,368.5L886.6,369.5L885.6,369.5L884.6,373L883.6,364.9L882.6,368.9L881.6,370.4L880.6,373.6L879.6,375.2L878.6,376.6L877.6,376.6L876.6,376.2L875.6,373.4L874.6,373.2L873.6,371.8L872.6,371.8L871.6,365.8L870.6,362L869.6,360.8L868.6,359.2L867.6,360.3L866.6,362.2L865.6,362.2L864.6,364.8L863.6,368.2L862.6,369.3L861.6,369.6L860.6,369.6L859.6,369.6L858.6,369.1L857.6,367.7L856.6,366.3L855.6,364.6L854.6,367.8L853.6,371.3L852.6,376.9L851.6,383L850.6,383L849.6,384.2L848.6,379.4L847.6,373.6L846.6,372.8L845.6,370L844.6,371.6L843.6,371.6L842.6,371.1L841.6,370.8L840.6,370.8L839.6,370.8L838.6,373.3L837.6,374L836.6,380.1L835.6,380.7L834.6,380.7L833.6,383.3L832.6,383.3L831.6,389.4L830.6,383.4L829.6,388.2L828.6,378.3L827.6,378.4L826.6,374.5L825.6,367.7L824.6,368.1L823.6,372L822.6,374.5L821.6,374.5L820.6,377.8L819.6,374.6L818.6,374.6L817.6,372.4L816.6,371.6L815.6,369.7L814.6,367.9L813.6,362.1L812.6,366.2L811.6,375.1L810.6,395.8L809.6,410.1L808.6,414.1L807.6,416.4L806.6,416.4L805.6,411.3L804.6,399.4L803.6,389.8L802.6,378.3L801.6,369.4L800.6,364.9L799.6,366.8L798.6,366.8L797.6,372.5L796.6,372.5L795.6,372.9L794.6,376.6L793.6,377.4L792.6,378L791.6,378L790.6,376.6L789.6,376.6L788.6,376.6L787.6,373.6L786.6,375.2L785.6,377.8L784.6,377.8L783.6,380.4L782.6,381.8L781.6,383.5L780.6,384.4L779.6,385.8L778.6,387.9L777.6,390.1L776.6,390.1L775.6,390.1L774.6,389.3L773.6,390.2L772.6,390.2L771.6,390.9L770.6,390.9L769.6,390.8L768.6,389.8L767.6,388.8L766.6,391.1L765.6,388.5L764.6,388.3L763.6,387.3L762.6,387.7L761.6,396.1L760.6,390.5L759.6,390.5L758.6,390.5L757.6,389.8L756.6,389.4L755.6,388.4L754.6,386.6L753.6,384.5L752.6,383.2L751.6,383.6L750.6,383.6L749.6,383.6L748.6,379.5L747.6,378L746.6,378.2L745.6,378.2L744.6,379.6L743.6,378.1L742.6,378.1L741.6,380.4L740.6,380.4L739.6,380.4L738.6,380.7L737.6,381.6L736.6,382.2L735.6,382.2L734.6,382.6L733.6,381L732.6,382L731.6,383.9L730.6,383.9L729.6,383.9L728.6,387.1L727.6,384.9L726.6,384.7L725.6,384.7L724.6,384L723.6,377.8L722.6,374.4L721.6,379L720.6,384.1L719.6,385.7L718.6,390.9L717.6,390.9L716.6,390.9L715.6,388.5L714.6,387.6L713.6,390.1L712.6,392.3L711.6,397.7L710.6,402.9L709.6,402.9L708.6,400.4L707.6,391.7L706.6,389.5L705.6,384.4L704.6,386.1L703.6,389.3L702.6,392.2L701.6,392.5L700.6,392.5L699.6,392.5L698.6,389L697.6,388.1L696.6,388.3L695.6,381.5L694.6,374.1L693.6,369.9L692.6,369.1L691.6,369.1L690.6,367.1L689.6,366L688.6,365.3L687.6,364.9L686.6,363.2L685.6,363.1L684.6,362.8L683.6,362.4L682.6,359.3L681.6,364.9L680.6,364.9L679.6,364.9L678.6,365.5L677.6,363.7L676.6,362.2L675.6,363.5L674.6,363.5L673.6,364.5L672.6,364.7L671.6,364.7L670.6,365.7L669.6,366.2L668.6,367.3L667.6,366.2L666.6,381L665.6,369.5L664.6,369.6L663.6,366.8L662.6,366.8L661.6,365.1L660.6,366.9L659.6,367.4L658.6,368.5L657.6,367.9L656.6,367.9L655.6,366.5L654.6,366.5L653.6,367.8L652.6,369.9L651.6,367.3L650.6,367.3L649.6,361.7L648.6,365.7L647.6,363.6L646.6,363.6L645.6,362.7L644.6,361.4L643.6,363.4L642.6,366.5L641.6,358.8L640.6,358.3L639.6,358.3L638.6,358L637.6,362.5L636.6,363.8L635.6,364.4L634.6,368.8L633.6,367.2L632.6,368.7L631.6,370.3L630.6,370.3L629.6,370L628.6,364.9L627.6,365.7L626.6,364.7L625.6,364.7L624.6,363.6L623.6,363.6L622.6,363.6L621.6,362.3L620.6,362L619.6,362L618.6,362L617.6,361.4L616.6,360.2L615.6,360.2L614.6,360.2L613.6,360.7L612.6,362L611.6,362L610.6,361.4L609.6,362.7L608.6,365.6L607.6,365.6L606.6,364.7L605.6,368.6L604.6,365.7L603.6,363.9L602.6,364.9L601.6,364.9L600.6,364.9L599.6,365.9L598.6,363.4L597.6,367.2L596.6,367.2L595.6,367.2L594.6,369.9L593.6,369.9L592.6,369.9L591.6,369.6L590.6,366.5L589.6,367L588.6,367L587.6,366.2L586.6,360.5L585.6,365.4L584.6,354.1L583.6,354.8L582.6,352.7L581.6,352.6L580.6,352.6L579.6,352.6L578.6,352.2L577.6,362.9L576.6,351.2L575.6,351L574.6,349.6L573.6,350.5L572.6,350.5L571.6,350.5L570.6,348.8L569.6,349.8L568.6,349.8L567.6,349.8L566.6,349.3L565.6,349.3L564.6,348.8L563.6,348.4L562.6,354.6L561.6,349.4L560.6,349.4L559.6,354.5L558.6,356.9L557.6,356.9L556.6,352.2L555.6,351.5L554.6,351.5L553.6,354.6L552.6,354.6L551.6,351.1L550.6,351.1L549.6,351.1L548.6,350L547.6,349.6L546.6,349.6L545.6,354.5L544.6,354.8L543.6,354.8L542.6,353.9L541.6,353.9L540.6,357.1L539.6,358.7L538.6,361L537.6,362.9L536.6,363.1L535.6,367.4L534.6,362.6L533.6,360.3L532.6,360.3L531.6,359.1L530.6,359L529.6,357.6L528.6,357.7L527.6,357.7L526.6,362.7L525.6,360.9L524.6,360.9L523.6,360.9L522.6,359.4L521.6,359L520.6,359L519.6,359.3L518.6,359.2L517.6,365.9L516.6,365.9L515.6,365.9L514.6,364.3L513.6,363.7L512.6,363.7L511.6,361.5L510.6,360.9L509.6,358.4L508.6,358.4L507.6,361.6L506.6,361.6L505.6,363.1L504.6,360L503.6,356.7L502.6,360.8L501.6,360.8L500.6,360.8L499.6,360.5L498.6,360.5L497.6,363.5L496.6,361.1L495.6,365.4L494.6,360.4L493.6,360.4L492.6,360.1L491.6,359.1L490.6,358.4L489.6,357.3L488.6,352.4L487.6,352.4L486.6,356.4L485.6,349.5L484.6,349.5L483.6,349.5L482.6,349.2L481.6,348.9L480.6,348.9L479.6,347.4L478.6,347.4L477.6,347.4L476.6,348.2L475.6,351L474.6,350L473.6,350L472.6,348.5L471.6,350.5L470.6,350.5L469.6,350.5L468.6,350.8L467.6,350.8L466.6,350.8L465.6,351.7L464.6,351.7L463.6,351.7L462.6,351.2L461.6,349.8L460.6,349.7L459.6,350L458.6,351.8L457.6,350.6L456.6,349.5L455.6,350.2L454.6,353.1L453.6,353.4L452.6,354L451.6,354.4L450.6,354.8L449.6,354.8L448.6,355.2L447.6,355.7L446.6,357L445.6,358.2L444.6,357L443.6,356.9L442.6,356.9L441.6,356.6L440.6,359.4L439.6,360.9L438.6,361.4L437.6,360.2L436.6,360.2L435.6,360.2L434.6,360L433.6,357.6L432.6,359.2L431.6,359.2L430.6,359.2L429.6,358.4L428.6,356L427.6,356.8L426.6,362.8L425.6,358.6L424.6,358.7L423.6,358.7L422.6,362.8L421.6,362.8L420.6,362.8L419.6,362.2L418.6,361.8L417.6,361.8L416.6,361.8L415.6,365.7L414.6,361.7L413.6,358.1L412.6,355.8L411.6,354.9L410.6,355.1L409.6,355.3L408.6,355.3L407.6,358.9L406.6,356.6L405.6,353.9L404.6,353.9L403.6,353.8L402.6,355.8L401.6,353.8L400.6,352.2L399.6,352.8L398.6,352.8L397.6,354.8L396.6,350.8L395.6,350.8L394.6,349.6L393.6,349.3L392.6,356.4L391.6,351.2L390.6,352.4L389.6,359.1L388.6,357.1L387.6,360.4L386.6,367.4L385.6,370.5L384.6,374.5L383.6,374.5L382.6,374.5L381.6,385.1L380.6,376L379.6,376L378.6,376L377.6,374.2L376.6,374.2L375.6,375.8L374.6,375.8L373.6,375.8L372.6,374.5L371.6,373.5L370.6,373.5L369.6,375.9L368.6,377.4L367.6,377.4L366.6,377.4L365.6,373.9L364.6,372.4L363.6,371.6L362.6,370.7L361.6,368L360.6,368L359.6,365.5L358.6,365.5L357.6,363.7L356.6,362.6L355.6,362L354.6,362L353.6,359.5L352.6,359.9L351.6,363.4L350.6,363.4L349.6,359.8L348.6,358.8L347.6,357.6L346.6,359.8L345.6,359.8L344.6,359.8L343.6,357.6L342.6,355L341.6,354.3L340.6,353.9L339.6,354.2L338.6,353.6L337.6,355.6L336.6,354L335.6,355.1L334.6,355.4L333.6,356.2L332.6,356L331.6,356L330.6,356L329.6,355.4L328.6,357.8L327.6,357.8L326.6,357.8L325.6,355.3L324.6,354L323.6,354L322.6,354L321.6,353.2L320.6,353.9L319.6,353.9L318.6,353.9L317.6,353.9L316.6,354.7L315.6,356.4L314.6,358L313.6,358L312.6,357.9L311.6,354.5L310.6,354.5L309.6,353.6L308.6,353.1L307.6,354.3L306.6,359.8L305.6,357.6L304.6,357.6L303.6,357.6L302.6,355L301.6,354.1L300.6,353.9L299.6,357.6L298.6,357.6L297.6,357.6L296.6,350.9L295.6,350.8L294.6,353.8L293.6,353.8L292.6,353.8L291.6,352.5L290.6,352.8L289.6,352.8L288.6,351.5L287.6,351.4L286.6,355.6L285.6,352L284.6,353.9L283.6,353.9L282.6,357.1L281.6,352.4L280.6,352.4L279.6,354.3L278.6,352.6L277.6,353.3L276.6,353.3L275.6,353.3L274.6,353.3L273.6,351.7L272.6,352.5L271.6,352.5L270.6,350.6L269.6,354.4L268.6,354.4L267.6,354.2L266.6,352L265.6,352L264.6,352L263.6,351.3L262.6,352.1L261.6,354.7L260.6,354.7L259.6,354.7L258.6,354.4L257.6,358.6L256.6,354.6L255.6,355.8L254.6,355.8L253.6,354.2L252.6,353.1L251.6,358.2L250.6,353.5L249.6,353.4L248.6,351.1L247.6,351.1L246.6,352.2L245.6,353.7L244.6,353.7L243.6,354.2L242.6,357.1L241.6,355.2L240.6,352.5L239.6,356.7L238.6,355.4L237.6,353.3L236.6,351.3L235.6,350.3L234.6,352.2L233.6,352.2L232.6,352.2L231.6,353.2L230.6,352.8L229.6,354.9L228.6,354.9L227.6,354.9L226.6,352.5L225.6,356.9L224.6,357.7L223.6,355.1L222.6,358.2L221.6,355.1L220.6,353.5L219.6,353.4L218.6,355L217.6,357.3L216.6,356L215.6,356L214.6,356L213.6,355.8L212.6,356.2L211.6,361.7L210.6,356L209.6,357.8L208.6,357.8L207.6,357.8L206.6,360.4L205.6,358L204.6,359.6L203.6,366.2L202.6,359.7L201.6,360.4L200.6,361.7L199.6,363.2L198.6,363.8L197.6,363.8L196.6,364.8L195.6,364.8L194.6,364.8L193.6,364.4L192.6,368.3L191.6,368.3L190.6,367L189.6,369.5L188.6,367L187.6,363.8L186.6,363.8L185.6,362.6L184.6,360L183.6,360.6L182.6,360.6Z" fill="#000"/>
<path d="M144.3,302.8H1019.3M144.3,425.5H1019.3" stroke="#bebebe" stroke-width="2.3" fill="none"/>
<path d="M144.3,301.65000000000003V426.65M1019.3,301.65000000000003V426.65" stroke="#a2a2a2" stroke-width="2.3" fill="none"/>
<line x1="140.3" y1="349.7" x2="144.3" y2="349.7" stroke="#bcbcbc" stroke-width="1.5"/>
<text x="130.6" y="354.9" font-size="35" text-anchor="end" fill="#000">2</text>
<line x1="140.3" y1="419" x2="144.3" y2="419" stroke="#bcbcbc" stroke-width="1.5"/>
<text x="130.6" y="424.2" font-size="35" text-anchor="end" fill="#000">0</text>
<line x1="183.3" y1="425.5" x2="183.3" y2="428.5" stroke="#bcbcbc" stroke-width="1.5"/>
<line x1="293.8" y1="425.5" x2="293.8" y2="428.5" stroke="#bcbcbc" stroke-width="1.5"/>
<line x1="404.3" y1="425.5" x2="404.3" y2="428.5" stroke="#bcbcbc" stroke-width="1.5"/>
<line x1="514.8" y1="425.5" x2="514.8" y2="428.5" stroke="#bcbcbc" stroke-width="1.5"/>
<line x1="625.3" y1="425.5" x2="625.3" y2="428.5" stroke="#bcbcbc" stroke-width="1.5"/>
<line x1="735.8" y1="425.5" x2="735.8" y2="428.5" stroke="#bcbcbc" stroke-width="1.5"/>
<line x1="846.3" y1="425.5" x2="846.3" y2="428.5" stroke="#bcbcbc" stroke-width="1.5"/>
<line x1="956.8" y1="425.5" x2="956.8" y2="428.5" stroke="#bcbcbc" stroke-width="1.5"/>
<text x="153.3" y="345" font-size="37" font-weight="bold" fill="#000">C</text>
<g transform="translate(28.3,362.2) rotate(-90) scale(0.95,1)"><text text-anchor="middle" font-size="35.5" fill="#000"><tspan font-style="italic">B</tspan><tspan font-size="23" dy="8.7">out,z</tspan></text></g>
<g transform="translate(75.1,362.2) rotate(-90) scale(0.92,1)"><text text-anchor="middle" font-size="36.5" fill="#000">(nT)</text></g>
<path d="M182.6,516.8L183.6,520.4L184.6,519.2L185.6,519.2L186.6,519.2L187.6,522.6L188.6,524.2L189.6,524.4L190.6,523.5L191.6,523.7L192.6,522.2L193.6,522.2L194.6,521.7L195.6,523.2L196.6,518L197.6,514.4L198.6,524.4L199.6,525.1L200.6,524.4L201.6,524.2L202.6,521.9L203.6,523.6L204.6,523.2L205.6,520.6L206.6,524L207.6,522L208.6,523.3L209.6,523.6L210.6,524.7L211.6,523L212.6,523L213.6,523L214.6,523L215.6,523.8L216.6,523.7L217.6,523.3L218.6,523.7L219.6,523.6L220.6,523.6L221.6,523.3L222.6,523.3L223.6,523.3L224.6,523L225.6,523L226.6,519.4L227.6,519.4L228.6,519.4L229.6,520.1L230.6,520.1L231.6,522.8L232.6,522.3L233.6,521.4L234.6,521.4L235.6,521.4L236.6,522.4L237.6,522.2L238.6,521.4L239.6,521.4L240.6,521.4L241.6,521.8L242.6,522.3L243.6,522.3L244.6,523L245.6,520.8L246.6,520.5L247.6,520.3L248.6,520.1L249.6,519.8L250.6,516.6L251.6,519.9L252.6,520L253.6,520L254.6,520.9L255.6,517.7L256.6,518.9L257.6,518.9L258.6,519.5L259.6,519.6L260.6,520L261.6,518.9L262.6,518.4L263.6,517.6L264.6,516.5L265.6,517.6L266.6,519.1L267.6,518.9L268.6,518.9L269.6,518.9L270.6,517L271.6,517L272.6,519.3L273.6,519.3L274.6,519.4L275.6,518.1L276.6,518.1L277.6,516.4L278.6,516.5L279.6,516.5L280.6,516.5L281.6,517.8L282.6,517.8L283.6,517.8L284.6,516.5L285.6,516.5L286.6,516.5L287.6,517.8L288.6,519.7L289.6,518.1L290.6,518.1L291.6,519.3L292.6,519.5L293.6,519.5L294.6,520.2L295.6,519.2L296.6,519.2L297.6,514.6L298.6,520.5L299.6,517.1L300.6,518L301.6,519.4L302.6,518L303.6,517.7L304.6,517.7L305.6,518.4L306.6,513.2L307.6,519.2L308.6,515.9L309.6,515.9L310.6,516.1L311.6,520.7L312.6,518.9L313.6,515.8L314.6,508.9L315.6,515.8L316.6,519.2L317.6,519.6L318.6,519.6L319.6,519.4L320.6,519.4L321.6,515.1L322.6,518L323.6,520L324.6,520L325.6,519.3L326.6,522.3L327.6,520.1L328.6,520.9L329.6,522.7L330.6,521.2L331.6,524.3L332.6,524.3L333.6,524.4L334.6,525.2L335.6,528.4L336.6,528.4L337.6,524.7L338.6,524.7L339.6,524.7L340.6,528.8L341.6,527.8L342.6,526.8L343.6,526.8L344.6,526.4L345.6,526.4L346.6,526.4L347.6,526.3L348.6,528.1L349.6,524.2L350.6,522.7L351.6,518.9L352.6,515.6L353.6,515.6L354.6,510.7L355.6,509.8L356.6,510.1L357.6,507.7L358.6,502.2L359.6,499.8L360.6,493.9L361.6,491L362.6,485.8L363.6,486.7L364.6,486.7L365.6,486.7L366.6,485.6L367.6,482.7L368.6,482.5L369.6,482.7L370.6,481L371.6,481L372.6,471.9L373.6,478.1L374.6,481.6L375.6,485.5L376.6,483.6L377.6,481.5L378.6,480.8L379.6,479.1L380.6,479.1L381.6,481.6L382.6,480.5L383.6,480.5L384.6,481.7L385.6,491.1L386.6,496.3L387.6,505.4L388.6,509.1L389.6,513.8L390.6,515.1L391.6,519.4L392.6,518.9L393.6,517.5L394.6,518.9L395.6,519.4L396.6,517.9L397.6,519L398.6,519L399.6,518.6L400.6,521.6L401.6,521.2L402.6,521.2L403.6,521.2L404.6,519.8L405.6,518.7L406.6,518.1L407.6,518.1L408.6,517.2L409.6,516.2L410.6,515.9L411.6,513.1L412.6,513L413.6,510L414.6,509.3L415.6,508L416.6,501.6L417.6,506.6L418.6,508.4L419.6,512.7L420.6,513.4L421.6,513.4L422.6,519.8L423.6,521.5L424.6,519.1L425.6,518.2L426.6,519.1L427.6,520.5L428.6,518.2L429.6,517.6L430.6,516.4L431.6,515.9L432.6,512.2L433.6,515.1L434.6,515.1L435.6,515.2L436.6,515.2L437.6,516.3L438.6,518.1L439.6,518.1L440.6,515L441.6,514.9L442.6,515L443.6,518.8L444.6,516.5L445.6,516.5L446.6,517.1L447.6,516.6L448.6,516.6L449.6,516.6L450.6,517.8L451.6,519.9L452.6,519.4L453.6,517.3L454.6,516.6L455.6,516.6L456.6,516.6L457.6,519.6L458.6,521.8L459.6,522.8L460.6,521.9L461.6,520L462.6,520L463.6,520.4L464.6,519.5L465.6,520.2L466.6,522L467.6,521.6L468.6,522.6L469.6,523L470.6,523L471.6,523.9L472.6,524.1L473.6,522L474.6,518.4L475.6,512.2L476.6,505.3L477.6,497.2L478.6,502.2L479.6,502.2L480.6,502L481.6,505.5L482.6,508.4L483.6,509.5L484.6,511L485.6,511.2L486.6,512.1L487.6,512.7L488.6,515.1L489.6,513.1L490.6,510.9L491.6,509.4L492.6,503.3L493.6,503.3L494.6,505.3L495.6,507L496.6,509.7L497.6,510.5L498.6,510.5L499.6,514.2L500.6,511.8L501.6,512L502.6,508.1L503.6,507.9L504.6,507.9L505.6,504.8L506.6,503.6L507.6,506.1L508.6,507.7L509.6,510.1L510.6,509.7L511.6,513.3L512.6,513.2L513.6,510.4L514.6,510.4L515.6,511.6L516.6,504.9L517.6,515.9L518.6,515.9L519.6,516.1L520.6,516.2L521.6,518.5L522.6,515.7L523.6,515.7L524.6,515.7L525.6,518.2L526.6,518.2L527.6,517.3L528.6,516.3L529.6,514.9L530.6,515.8L531.6,515.5L532.6,515.5L533.6,515.5L534.6,515.9L535.6,516.1L536.6,517.6L537.6,517.7L538.6,515.6L539.6,516L540.6,515.3L541.6,510L542.6,508.1L543.6,514.5L544.6,513.3L545.6,513.3L546.6,513.3L547.6,514.7L548.6,512.9L549.6,517.7L550.6,519L551.6,517.3L552.6,517.3L553.6,517.3L554.6,516.5L555.6,516.5L556.6,518.1L557.6,519.3L558.6,519.2L559.6,519.1L560.6,516.8L561.6,515.2L562.6,515.2L563.6,515.2L564.6,514.2L565.6,513.7L566.6,510.7L567.6,513.9L568.6,514.1L569.6,515L570.6,515.2L571.6,518L572.6,518.2L573.6,517.7L574.6,513.8L575.6,515.9L576.6,515.9L577.6,515.9L578.6,517.4L579.6,520.4L580.6,520.4L581.6,519.6L582.6,520.6L583.6,520.6L584.6,520.6L585.6,518.7L586.6,518.4L587.6,517.2L588.6,517.1L589.6,513.7L590.6,517.3L591.6,519.5L592.6,518.3L593.6,517.6L594.6,517L595.6,521.5L596.6,520.8L597.6,520.8L598.6,516.9L599.6,521.8L600.6,518.3L601.6,518.3L602.6,519.1L603.6,518.7L604.6,518.7L605.6,520L606.6,519L607.6,519L608.6,520.4L609.6,520.6L610.6,520.2L611.6,520.2L612.6,521.5L613.6,520.7L614.6,519.2L615.6,519.2L616.6,518.6L617.6,518.6L618.6,518.6L619.6,517.9L620.6,512.3L621.6,515.6L622.6,516.8L623.6,519.6L624.6,518.7L625.6,517L626.6,514.1L627.6,514.1L628.6,514.1L629.6,510.9L630.6,510.9L631.6,509.8L632.6,509.8L633.6,509.1L634.6,510.4L635.6,514.8L636.6,513.9L637.6,513.9L638.6,513.9L639.6,510.7L640.6,520.4L641.6,520.2L642.6,518.7L643.6,520.2L644.6,519.2L645.6,521.9L646.6,523.4L647.6,523.6L648.6,523.6L649.6,524.5L650.6,525.2L651.6,525.3L652.6,525L653.6,525L654.6,525L655.6,525.7L656.6,526.8L657.6,522.5L658.6,525.9L659.6,526.5L660.6,527.9L661.6,527.4L662.6,527.3L663.6,527.3L664.6,527.7L665.6,528.1L666.6,527.6L667.6,527.6L668.6,526.5L669.6,526.5L670.6,527.3L671.6,529.5L672.6,529.5L673.6,525L674.6,521.2L675.6,521.2L676.6,521.2L677.6,522.7L678.6,523L679.6,524.2L680.6,524.2L681.6,525L682.6,525.5L683.6,526.1L684.6,526.9L685.6,526.9L686.6,528.5L687.6,528.3L688.6,528.2L689.6,527.7L690.6,526.7L691.6,526.7L692.6,530.4L693.6,530.2L694.6,532L695.6,533L696.6,533L697.6,532.6L698.6,526.5L699.6,524.3L700.6,520.3L701.6,530.5L702.6,535.5L703.6,535.5L704.6,537.4L705.6,538.7L706.6,539.7L707.6,539.6L708.6,538.4L709.6,538.4L710.6,538.4L711.6,537L712.6,541.2L713.6,541.2L714.6,541.8L715.6,541.5L716.6,540.1L717.6,538.3L718.6,538.3L719.6,536.7L720.6,536.2L721.6,536.7L722.6,539.5L723.6,540.1L724.6,540.1L725.6,540.1L726.6,540.4L727.6,541.1L728.6,543.2L729.6,542.1L730.6,540.9L731.6,540.9L732.6,542L733.6,542L734.6,542.1L735.6,539L736.6,539.8L737.6,539.8L738.6,539.4L739.6,539.4L740.6,540.4L741.6,539.9L742.6,538.7L743.6,538.7L744.6,538.4L745.6,538.3L746.6,538.3L747.6,539L748.6,540.1L749.6,540.1L750.6,540.9L751.6,539.6L752.6,542.7L753.6,542.6L754.6,542.6L755.6,542.6L756.6,544.1L757.6,543.4L758.6,541.9L759.6,543.6L760.6,543.6L761.6,544.8L762.6,539.7L763.6,544.8L764.6,544.6L765.6,544.6L766.6,544.9L767.6,545.3L768.6,545.3L769.6,539.7L770.6,544.1L771.6,544.1L772.6,545.2L773.6,545.8L774.6,545.9L775.6,540.2L776.6,546.6L777.6,546.4L778.6,542L779.6,542.9L780.6,543L781.6,542.6L782.6,542.6L783.6,539.9L784.6,541.2L785.6,539.4L786.6,538.2L787.6,539.9L788.6,543.1L789.6,543.1L790.6,543.1L791.6,544.6L792.6,543.9L793.6,541.6L794.6,540.8L795.6,540.4L796.6,539.2L797.6,539.2L798.6,539.5L799.6,537.7L800.6,537.7L801.6,537.7L802.6,534.4L803.6,536.3L804.6,536.3L805.6,535.9L806.6,535L807.6,531.6L808.6,529.6L809.6,529.6L810.6,529.1L811.6,525.7L812.6,520L813.6,520.3L814.6,520.3L815.6,523.5L816.6,522.2L817.6,522.2L818.6,511.2L819.6,509.3L820.6,506.8L821.6,503.5L822.6,509.6L823.6,512.1L824.6,514.9L825.6,505.7L826.6,515.5L827.6,511.7L828.6,515L829.6,514L830.6,513.9L831.6,512.8L832.6,514L833.6,506.2L834.6,514L835.6,514L836.6,514.6L837.6,514.8L838.6,514.3L839.6,516L840.6,517.5L841.6,517.5L842.6,516.7L843.6,515.7L844.6,512.6L845.6,513.3L846.6,512.2L847.6,512.1L848.6,503.4L849.6,509.5L850.6,510.3L851.6,507.9L852.6,507.9L853.6,507.9L854.6,509.7L855.6,514.1L856.6,511.7L857.6,510.9L858.6,510.9L859.6,506.9L860.6,508.2L861.6,508.2L862.6,509.2L863.6,509.5L864.6,509.5L865.6,510.3L866.6,509.7L867.6,509L868.6,508.9L869.6,508.2L870.6,508.9L871.6,514L872.6,504.7L873.6,515L874.6,516.1L875.6,511.7L876.6,515.7L877.6,515.7L878.6,518.9L879.6,514.9L880.6,511L881.6,513.6L882.6,513L883.6,511.1L884.6,509.7L885.6,506.9L886.6,511.2L887.6,511.2L888.6,511.2L889.6,511.5L890.6,511.5L891.6,513.1L892.6,513.1L893.6,513.7L894.6,513.1L895.6,512.7L896.6,508.9L897.6,499.8L898.6,502.1L899.6,492.5L900.6,492.5L901.6,485.9L902.6,484.8L903.6,484.7L904.6,484.7L905.6,487.1L906.6,491.8L907.6,489.3L908.6,499.8L909.6,502.1L910.6,504.6L911.6,510.8L912.6,511L913.6,511L914.6,511.2L915.6,511.8L916.6,512.2L917.6,511.3L918.6,505.4L919.6,501.6L920.6,495.1L921.6,501.6L922.6,506L923.6,509.7L924.6,511.8L925.6,513.3L926.6,513.9L927.6,511.6L928.6,509.9L929.6,509.9L930.6,509.5L931.6,509.5L932.6,509.5L933.6,513.5L934.6,513.5L935.6,514.2L936.6,519.7L937.6,517.9L938.6,516.1L939.6,514.8L940.6,510.9L941.6,514.3L942.6,514.3L943.6,514.8L944.6,514.8L945.6,515.8L946.6,512.8L947.6,505.3L948.6,512.2L949.6,512.2L950.6,515L951.6,516L952.6,516.4L953.6,513.1L954.6,510.1L955.6,510.1L956.6,510.1L957.6,511.1L958.6,512.9L959.6,498.2L960.6,489.4L961.6,476.4L962.6,476.4L963.6,476.4L964.6,478.7L965.6,483.4L966.6,481.1L967.6,477.6L968.6,477.6L969.6,480.6L970.6,484.2L971.6,482.1L972.6,487L973.6,486.3L974.6,477.3L975.6,470.9L976.6,465.2L977.6,462.2L978.6,462.2L978.6,513.7L977.6,517.3L976.6,526.5L975.6,531.7L974.6,532.6L973.6,533.4L972.6,540.2L971.6,541.7L970.6,541.7L969.6,540.8L968.6,540.8L967.6,540.8L966.6,536.9L965.6,538.1L964.6,538.7L963.6,540.1L962.6,540.1L961.6,540L960.6,527.6L959.6,521.6L958.6,521.6L957.6,519.3L956.6,519.3L955.6,522.6L954.6,523.8L953.6,525.2L952.6,524.6L951.6,525.6L950.6,525.6L949.6,525.6L948.6,524.8L947.6,524.8L946.6,525L945.6,528.6L944.6,525.7L943.6,524.6L942.6,524.6L941.6,525.2L940.6,524.6L939.6,526.5L938.6,526.5L937.6,528.6L936.6,528.6L935.6,528.9L934.6,528.9L933.6,528.9L932.6,522.5L931.6,527.2L930.6,520.3L929.6,521.1L928.6,525.5L927.6,535.9L926.6,529.7L925.6,527.3L924.6,526.5L923.6,525L922.6,524L921.6,521.1L920.6,518.8L919.6,518.8L918.6,520.5L917.6,520.8L916.6,533.2L915.6,529.7L914.6,524L913.6,522.2L912.6,521.1L911.6,521.1L910.6,521.1L909.6,517.4L908.6,511.5L907.6,507.1L906.6,506.6L905.6,503.8L904.6,500L903.6,498.1L902.6,502.1L901.6,504.7L900.6,509.5L899.6,512.1L898.6,513.9L897.6,517.7L896.6,518.4L895.6,523.6L894.6,520L893.6,521.7L892.6,521.2L891.6,522.9L890.6,521.2L889.6,520L888.6,520L887.6,520L886.6,517.4L885.6,517.4L884.6,518L883.6,527.3L882.6,520.9L881.6,524.2L880.6,523.9L879.6,526L878.6,530.4L877.6,527.1L876.6,525.4L875.6,525.4L874.6,524.5L873.6,522.1L872.6,522.1L871.6,523.4L870.6,520.2L869.6,519L868.6,516.9L867.6,517.3L866.6,517.9L865.6,517.9L864.6,517.4L863.6,515.7L862.6,515.7L861.6,516.5L860.6,518L859.6,519.6L858.6,526.1L857.6,530.4L856.6,531.8L855.6,530.4L854.6,532.6L853.6,538L852.6,527.1L851.6,524.6L850.6,526.6L849.6,526.9L848.6,530.3L847.6,533.2L846.6,533.2L845.6,533.2L844.6,532.1L843.6,531.1L842.6,532.2L841.6,532.2L840.6,537.7L839.6,535.8L838.6,535.8L837.6,534.2L836.6,534.5L835.6,535L834.6,535L833.6,534.9L832.6,535.4L831.6,535.4L830.6,538.5L829.6,538.5L828.6,536.1L827.6,534.3L826.6,534.3L825.6,536.4L824.6,536.4L823.6,543.9L822.6,531.2L821.6,528.7L820.6,528L819.6,530L818.6,531.2L817.6,531.2L816.6,531.4L815.6,533.3L814.6,535.3L813.6,531.8L812.6,534.4L811.6,535.3L810.6,541.4L809.6,541.4L808.6,542.7L807.6,547.3L806.6,551L805.6,552.4L804.6,552.4L803.6,549.6L802.6,546.9L801.6,548.6L800.6,546L799.6,549.5L798.6,551.4L797.6,551.4L796.6,550.1L795.6,549.6L794.6,548.9L793.6,549.7L792.6,549.8L791.6,553.2L790.6,552.3L789.6,552.3L788.6,552.7L787.6,552.7L786.6,551.8L785.6,550.4L784.6,550.4L783.6,551.5L782.6,552.2L781.6,554.8L780.6,550.9L779.6,551.9L778.6,552.5L777.6,553L776.6,553L775.6,553.9L774.6,553.9L773.6,553.7L772.6,553.7L771.6,556L770.6,556L769.6,555.6L768.6,555.6L767.6,553.7L766.6,553.7L765.6,553.7L764.6,552.9L763.6,552L762.6,551.6L761.6,555.2L760.6,555.2L759.6,555.6L758.6,551.8L757.6,559.9L756.6,552.3L755.6,552.3L754.6,549.1L753.6,548.4L752.6,549.3L751.6,549.3L750.6,552.3L749.6,548.4L748.6,548.4L747.6,548.4L746.6,548.4L745.6,547L744.6,546.1L743.6,547.1L742.6,546.4L741.6,547.5L740.6,547.9L739.6,548.9L738.6,548.9L737.6,548.9L736.6,547.6L735.6,548.6L734.6,548.6L733.6,550.1L732.6,553.4L731.6,553.4L730.6,553.4L729.6,550.7L728.6,553.2L727.6,550L726.6,551L725.6,551L724.6,551L723.6,549.8L722.6,549.8L721.6,549.2L720.6,549.1L719.6,548.7L718.6,548.7L717.6,548L716.6,548L715.6,547.4L714.6,547.4L713.6,547.4L712.6,548.5L711.6,548.8L710.6,548.8L709.6,548.3L708.6,548.3L707.6,548.3L706.6,547.7L705.6,547.7L704.6,549.2L703.6,551.6L702.6,551.6L701.6,551.6L700.6,544.5L699.6,541.8L698.6,542.6L697.6,542.6L696.6,542.5L695.6,542.5L694.6,540.8L693.6,539.1L692.6,541.2L691.6,538.9L690.6,539.9L689.6,538.6L688.6,537.5L687.6,537.5L686.6,535.7L685.6,542.7L684.6,533.5L683.6,533.2L682.6,533.2L681.6,532.8L680.6,532.8L679.6,531.1L678.6,530.6L677.6,530.7L676.6,531.4L675.6,537.7L674.6,534.7L673.6,536L672.6,537.4L671.6,536.4L670.6,539.2L669.6,538.4L668.6,538.4L667.6,543.8L666.6,536.5L665.6,534.1L664.6,535L663.6,533.8L662.6,533.8L661.6,535.7L660.6,535.7L659.6,535.7L658.6,535L657.6,533.4L656.6,536.9L655.6,533.4L654.6,532.8L653.6,531.6L652.6,531.6L651.6,531.3L650.6,530.6L649.6,530.6L648.6,530.3L647.6,530.2L646.6,529.7L645.6,529.7L644.6,528.8L643.6,527.4L642.6,527L641.6,527L640.6,530L639.6,529.1L638.6,529.1L637.6,527.3L636.6,530.7L635.6,530.7L634.6,526.8L633.6,524.3L632.6,524.1L631.6,522.5L630.6,525.6L629.6,527.3L628.6,530.3L627.6,531.5L626.6,534.9L625.6,534.9L624.6,533.8L623.6,533.2L622.6,532.7L621.6,531.8L620.6,529.8L619.6,529.8L618.6,529.2L617.6,536.7L616.6,529.7L615.6,531.6L614.6,536.2L613.6,531.7L612.6,532.9L611.6,532.9L610.6,531.9L609.6,529.3L608.6,529.3L607.6,529.7L606.6,527L605.6,527.9L604.6,527.9L603.6,545L602.6,528.4L601.6,528.4L600.6,528.3L599.6,528.4L598.6,529.8L597.6,536.3L596.6,533.4L595.6,533.4L594.6,532L593.6,531.8L592.6,528.3L591.6,527.7L590.6,526.9L589.6,524.8L588.6,526.3L587.6,526.3L586.6,526.3L585.6,529L584.6,529.2L583.6,529L582.6,528.8L581.6,528.8L580.6,527.7L579.6,527.9L578.6,527.9L577.6,527L576.6,525.8L575.6,526.6L574.6,526.6L573.6,525.6L572.6,525.6L571.6,525.6L570.6,524.6L569.6,528.2L568.6,522.3L567.6,522.1L566.6,521.3L565.6,522.4L564.6,524.1L563.6,524.9L562.6,524.9L561.6,524.8L560.6,533.6L559.6,536.9L558.6,536.9L557.6,532.7L556.6,527.3L555.6,527.3L554.6,527.3L553.6,527.2L552.6,527.9L551.6,527.9L550.6,525.7L549.6,525.7L548.6,525.7L547.6,524.4L546.6,524.4L545.6,519.9L544.6,523.1L543.6,528.3L542.6,523.2L541.6,524.8L540.6,526L539.6,527.3L538.6,527.3L537.6,527.7L536.6,526.9L535.6,522.7L534.6,522.6L533.6,521.4L532.6,523.2L531.6,524.1L530.6,524.1L529.6,523.8L528.6,523.8L527.6,526.6L526.6,525.7L525.6,527L524.6,534.9L523.6,527L522.6,525.7L521.6,525.1L520.6,525.1L519.6,525.7L518.6,526.7L517.6,529L516.6,530.1L515.6,530.1L514.6,530.1L513.6,529.6L512.6,531.5L511.6,531.5L510.6,531.5L509.6,529.2L508.6,524.5L507.6,524.5L506.6,522.9L505.6,523.1L504.6,523.1L503.6,522.1L502.6,528.7L501.6,525.8L500.6,526.2L499.6,526.2L498.6,526.2L497.6,527.2L496.6,529.7L495.6,527.2L494.6,523.6L493.6,523.6L492.6,523.6L491.6,521.7L490.6,521.7L489.6,526.7L488.6,523.8L487.6,522.6L486.6,522L485.6,520.3L484.6,524.7L483.6,520.2L482.6,517.8L481.6,514.9L480.6,514.8L479.6,513.4L478.6,516.5L477.6,526.1L476.6,526.1L475.6,530.1L474.6,533.9L473.6,538L472.6,529.9L471.6,530.4L470.6,531.1L469.6,531.1L468.6,531.1L467.6,530.4L466.6,532.3L465.6,530L464.6,529.9L463.6,531.4L462.6,530.1L461.6,529.8L460.6,532.1L459.6,533.1L458.6,541L457.6,528.8L456.6,529.1L455.6,528.7L454.6,533.6L453.6,541.5L452.6,541.5L451.6,536.3L450.6,529.4L449.6,529.4L448.6,530.1L447.6,537.2L446.6,532.1L445.6,533L444.6,533.1L443.6,534.3L442.6,532.3L441.6,532.9L440.6,535.1L439.6,531.1L438.6,531.7L437.6,531.7L436.6,531.5L435.6,539.6L434.6,534.4L433.6,534.4L432.6,532.2L431.6,529.5L430.6,529.5L429.6,528.8L428.6,531.9L427.6,531.9L426.6,531.9L425.6,528.1L424.6,528L423.6,528L422.6,528L421.6,527.3L420.6,531.5L419.6,531.7L418.6,519.1L417.6,519.1L416.6,518.5L415.6,518.6L414.6,518.6L413.6,520.9L412.6,525.4L411.6,525.4L410.6,525.5L409.6,525.5L408.6,525.5L407.6,524.4L406.6,527.2L405.6,531L404.6,529.5L403.6,537.2L402.6,532.2L401.6,532.2L400.6,532.3L399.6,530L398.6,526.7L397.6,526.7L396.6,526.7L395.6,527.7L394.6,525L393.6,525.9L392.6,527.2L391.6,527.2L390.6,527.2L389.6,528.8L388.6,532.5L387.6,539.1L386.6,548.5L385.6,557.1L384.6,561.9L383.6,562.9L382.6,564.3L381.6,562.9L380.6,565L379.6,565L378.6,565L377.6,565L376.6,565.6L375.6,565.6L374.6,565.6L373.6,561.3L372.6,561.3L371.6,561.3L370.6,561.1L369.6,561.1L368.6,560.8L367.6,560.8L366.6,560.8L365.6,560.3L364.6,560.3L363.6,559.1L362.6,560.1L361.6,560.1L360.6,558.4L359.6,561L358.6,554.9L357.6,552.7L356.6,552.7L355.6,552.7L354.6,551L353.6,546.3L352.6,545.3L351.6,545.3L350.6,543.9L349.6,543.9L348.6,541.7L347.6,539.8L346.6,538.7L345.6,537.9L344.6,538.8L343.6,539.6L342.6,539.6L341.6,538.1L340.6,538.1L339.6,535.5L338.6,534.4L337.6,534.4L336.6,535.6L335.6,537.6L334.6,537.6L333.6,537.6L332.6,534.4L331.6,534.4L330.6,532.6L329.6,532.6L328.6,534.6L327.6,534.9L326.6,540.2L325.6,534.9L324.6,531L323.6,530.1L322.6,530.1L321.6,528L320.6,539.7L319.6,530.6L318.6,530.6L317.6,529.8L316.6,529.8L315.6,529.8L314.6,529.5L313.6,529.5L312.6,531.2L311.6,531.2L310.6,533.3L309.6,535.5L308.6,528.2L307.6,528.3L306.6,530.4L305.6,530.8L304.6,530.8L303.6,532.8L302.6,531.9L301.6,533L300.6,528.6L299.6,527.7L298.6,528.5L297.6,529.2L296.6,530L295.6,530.8L294.6,531.8L293.6,531.8L292.6,539.2L291.6,529.3L290.6,532.9L289.6,532.9L288.6,532.9L287.6,532.3L286.6,530.9L285.6,531.3L284.6,529.5L283.6,528.2L282.6,527.3L281.6,528L280.6,528L279.6,531.8L278.6,531.8L277.6,531.8L276.6,533.4L275.6,530.1L274.6,539L273.6,532.5L272.6,531L271.6,531L270.6,531L269.6,530.7L268.6,529.1L267.6,530.4L266.6,530.4L265.6,528.9L264.6,529.7L263.6,530.5L262.6,535.5L261.6,530.5L260.6,531.5L259.6,531.6L258.6,531.5L257.6,530.5L256.6,530.8L255.6,530.5L254.6,529.4L253.6,529.4L252.6,529.4L251.6,528.4L250.6,529.8L249.6,529.8L248.6,529.8L247.6,528.2L246.6,530.9L245.6,531.4L244.6,531.4L243.6,531.5L242.6,529.5L241.6,530.7L240.6,530.7L239.6,528.8L238.6,530.5L237.6,530.3L236.6,530.3L235.6,530.3L234.6,530.5L233.6,531.3L232.6,536L231.6,531.3L230.6,531.3L229.6,531.2L228.6,530.6L227.6,531.6L226.6,531.6L225.6,531.6L224.6,529.9L223.6,530.1L222.6,531.6L221.6,532.6L220.6,532.6L219.6,533.1L218.6,533.1L217.6,531.9L216.6,533.4L215.6,534L214.6,531.6L213.6,533.8L212.6,533.8L211.6,532.4L210.6,535L209.6,535.9L208.6,535.9L207.6,534.5L206.6,532.7L205.6,532.2L204.6,533.8L203.6,533.2L202.6,533.2L201.6,533L200.6,532.2L199.6,532.2L198.6,532.2L197.6,531.3L196.6,531.3L195.6,531.4L194.6,530.2L193.6,530.5L192.6,530.5L191.6,531.2L190.6,531.2L189.6,531.2L188.6,530.2L187.6,530.2L186.6,529.2L185.6,528.5L184.6,528.2L183.6,528.1L182.6,527.6Z" fill="#000"/>
<path d="M144.3,455.7H1019.3M144.3,577.7H1019.3" stroke="#bebebe" stroke-width="2.3" fill="none"/>
<path d="M144.3,454.55V578.85M1019.3,454.55V578.85" stroke="#a2a2a2" stroke-width="2.3" fill="none"/>
<line x1="140.3" y1="496.8" x2="144.3" y2="496.8" stroke="#bcbcbc" stroke-width="1.5"/>
<text x="130.6" y="502.0" font-size="35" text-anchor="end" fill="#000">0</text>
<line x1="140.3" y1="550.6" x2="144.3" y2="550.6" stroke="#bcbcbc" stroke-width="1.5"/>
<text x="130.6" y="555.8" font-size="35" text-anchor="end" fill="#000">-2</text>
<line x1="183.3" y1="577.7" x2="183.3" y2="580.7" stroke="#bcbcbc" stroke-width="1.5"/>
<line x1="293.8" y1="577.7" x2="293.8" y2="580.7" stroke="#bcbcbc" stroke-width="1.5"/>
<line x1="404.3" y1="577.7" x2="404.3" y2="580.7" stroke="#bcbcbc" stroke-width="1.5"/>
<line x1="514.8" y1="577.7" x2="514.8" y2="580.7" stroke="#bcbcbc" stroke-width="1.5"/>
<line x1="625.3" y1="577.7" x2="625.3" y2="580.7" stroke="#bcbcbc" stroke-width="1.5"/>
<line x1="735.8" y1="577.7" x2="735.8" y2="580.7" stroke="#bcbcbc" stroke-width="1.5"/>
<line x1="846.3" y1="577.7" x2="846.3" y2="580.7" stroke="#bcbcbc" stroke-width="1.5"/>
<line x1="956.8" y1="577.7" x2="956.8" y2="580.7" stroke="#bcbcbc" stroke-width="1.5"/>
<text x="153.3" y="494" font-size="37" font-weight="bold" fill="#000">D</text>
<g transform="translate(31.8,516.2) rotate(-90) scale(0.95,1)"><text text-anchor="middle" font-size="35.5" fill="#000"><tspan font-style="italic">B</tspan><tspan font-size="23" dy="8.7">in,x</tspan></text></g>
<g transform="translate(78.0,516.2) rotate(-90) scale(0.92,1)"><text text-anchor="middle" font-size="36.5" fill="#000">(nT)</text></g>
<path d="M182.6,630.2L183.6,630.2L184.6,627.8L185.6,627.8L186.6,627.8L187.6,627.6L188.6,626.1L189.6,627.6L190.6,629.1L191.6,628.8L192.6,628.8L193.6,630.2L194.6,629.7L195.6,629.3L196.6,621.1L197.6,629L198.6,629.4L199.6,628.4L200.6,624.9L201.6,630.2L202.6,631.7L203.6,634.2L204.6,633.8L205.6,634.5L206.6,634.5L207.6,635.2L208.6,628.2L209.6,634.5L210.6,634.5L211.6,636.2L212.6,635.6L213.6,634.2L214.6,636.2L215.6,635.5L216.6,635.5L217.6,634.7L218.6,633.9L219.6,634.7L220.6,637L221.6,636.7L222.6,634.6L223.6,636.9L224.6,638.7L225.6,638.5L226.6,639.3L227.6,639.4L228.6,640.3L229.6,639L230.6,642.8L231.6,643.4L232.6,642.3L233.6,641.1L234.6,641.8L235.6,641.6L236.6,640.2L237.6,638.6L238.6,637L239.6,641.1L240.6,637.9L241.6,637.9L242.6,631.5L243.6,640.2L244.6,640.5L245.6,639.8L246.6,639.6L247.6,639.6L248.6,639.4L249.6,639.4L250.6,639.3L251.6,637.2L252.6,637.2L253.6,637.2L254.6,634.7L255.6,633.9L256.6,633.9L257.6,633.9L258.6,636.1L259.6,635.2L260.6,634.3L261.6,634.3L262.6,633.7L263.6,633.7L264.6,632.4L265.6,632.8L266.6,632.8L267.6,632.8L268.6,633.1L269.6,632.1L270.6,631.9L271.6,631.9L272.6,630.9L273.6,630.7L274.6,630.7L275.6,631.2L276.6,631.2L277.6,631.6L278.6,633.1L279.6,630.5L280.6,631.4L281.6,631.4L282.6,631.4L283.6,631.2L284.6,631.2L285.6,631.2L286.6,634.4L287.6,634.4L288.6,634.6L289.6,634.9L290.6,631.8L291.6,631.8L292.6,631.8L293.6,632.4L294.6,632.4L295.6,634.1L296.6,634.1L297.6,635.9L298.6,635L299.6,635L300.6,635L301.6,636.4L302.6,635.6L303.6,635.6L304.6,635.6L305.6,631.5L306.6,632.9L307.6,635.8L308.6,637.5L309.6,635.7L310.6,635.7L311.6,634.7L312.6,634.7L313.6,634.7L314.6,636.6L315.6,636.6L316.6,636.5L317.6,637.9L318.6,632L319.6,636L320.6,635.5L321.6,637.1L322.6,637.5L323.6,637.5L324.6,637.4L325.6,636.9L326.6,636.9L327.6,639.9L328.6,638.6L329.6,638.6L330.6,639.6L331.6,636.2L332.6,640.2L333.6,640.2L334.6,641.3L335.6,642.7L336.6,640.8L337.6,640.8L338.6,642.5L339.6,640.8L340.6,643.6L341.6,644L342.6,644.5L343.6,644.5L344.6,644.9L345.6,644.5L346.6,642.4L347.6,641.1L348.6,641.1L349.6,641.8L350.6,640.8L351.6,639.7L352.6,639.1L353.6,638.5L354.6,638.5L355.6,634L356.6,630.2L357.6,627.5L358.6,627.5L359.6,626.5L360.6,623.4L361.6,617.8L362.6,615.6L363.6,614L364.6,612.1L365.6,608.1L366.6,608.1L367.6,608.1L368.6,611.2L369.6,609L370.6,609L371.6,609L372.6,611.1L373.6,610.8L374.6,610.8L375.6,608.2L376.6,610.5L377.6,611L378.6,613.1L379.6,613.1L380.6,612.4L381.6,615L382.6,611.7L383.6,611.7L384.6,617.5L385.6,621L386.6,626.8L387.6,631.5L388.6,631.9L389.6,646.9L390.6,651.4L391.6,654.5L392.6,658L393.6,662.6L394.6,662.6L395.6,664.2L396.6,666L397.6,666L398.6,663.4L399.6,658L400.6,653.5L401.6,659.1L402.6,660.3L403.6,660.3L404.6,662.8L405.6,662L406.6,661.3L407.6,661.3L408.6,663.2L409.6,667.1L410.6,667.1L411.6,667.1L412.6,671.3L413.6,673.6L414.6,678.9L415.6,683.7L416.6,685.7L417.6,683.4L418.6,693.4L419.6,693.3L420.6,690.5L421.6,686.6L422.6,684.4L423.6,681L424.6,680.2L425.6,680.2L426.6,678.3L427.6,678.3L428.6,679.1L429.6,679.2L430.6,668.8L431.6,678.3L432.6,672.7L433.6,677.5L434.6,674.5L435.6,674.5L436.6,674.5L437.6,675.4L438.6,675L439.6,670.9L440.6,671.4L441.6,671.4L442.6,671L443.6,670.6L444.6,670.5L445.6,669.4L446.6,669.4L447.6,670.1L448.6,673.4L449.6,672.8L450.6,672.8L451.6,673.2L452.6,662.7L453.6,658.2L454.6,658.2L455.6,664.1L456.6,678.4L457.6,680L458.6,679.3L459.6,674.4L460.6,678.9L461.6,678.9L462.6,678.7L463.6,677.2L464.6,677.2L465.6,676.4L466.6,677L467.6,678.8L468.6,680.1L469.6,678.6L470.6,680.1L471.6,680.3L472.6,682.4L473.6,683.8L474.6,684.2L475.6,685.4L476.6,689.9L477.6,692.3L478.6,695.1L479.6,696L480.6,695.2L481.6,695L482.6,694.1L483.6,692.7L484.6,692.6L485.6,692.6L486.6,693L487.6,691.8L488.6,691.8L489.6,691.8L490.6,693.6L491.6,693.6L492.6,691.1L493.6,688.7L494.6,683.9L495.6,687L496.6,683.6L497.6,683.6L498.6,684.5L499.6,683.6L500.6,683.6L501.6,683.2L502.6,681.3L503.6,673.2L504.6,678.4L505.6,678.4L506.6,678.7L507.6,678L508.6,676L509.6,673L510.6,662.6L511.6,664.1L512.6,666.1L513.6,659.6L514.6,667.6L515.6,668.6L516.6,669.4L517.6,672.5L518.6,672.5L519.6,673.6L520.6,677.4L521.6,677.5L522.6,679.8L523.6,675.5L524.6,662.2L525.6,645.6L526.6,646.1L527.6,643.6L528.6,639.6L529.6,643.2L530.6,643.2L531.6,643.2L532.6,644.7L533.6,645.5L534.6,644.8L535.6,643.7L536.6,643.7L537.6,643.8L538.6,644.1L539.6,640.1L540.6,639.7L541.6,640.1L542.6,640.4L543.6,644.9L544.6,644.9L545.6,646.5L546.6,648.5L547.6,648.5L548.6,649.8L549.6,655.8L550.6,659.9L551.6,662.9L552.6,665.2L553.6,663.9L554.6,660.7L555.6,663.9L556.6,663.9L557.6,657.8L558.6,657.8L559.6,657.8L560.6,663.3L561.6,663.3L562.6,660.3L563.6,668L564.6,669.9L565.6,676.4L566.6,681.5L567.6,685.9L568.6,685.3L569.6,684.3L570.6,684.2L571.6,684.2L572.6,684.2L573.6,680.6L574.6,685.2L575.6,685.2L576.6,685.8L577.6,687.5L578.6,685.2L579.6,685.2L580.6,685.2L581.6,687.3L582.6,687.2L583.6,687.2L584.6,687.2L585.6,688.7L586.6,688.7L587.6,688.7L588.6,686.2L589.6,692.1L590.6,689.9L591.6,686.7L592.6,681.6L593.6,671.7L594.6,678.8L595.6,669.5L596.6,674.8L597.6,674.8L598.6,674.8L599.6,675.3L600.6,678L601.6,685L602.6,682.3L603.6,685.3L604.6,684.5L605.6,684.5L606.6,681.8L607.6,680L608.6,677.8L609.6,676.6L610.6,672.9L611.6,672.9L612.6,672.9L613.6,678.7L614.6,684.2L615.6,686.9L616.6,688.5L617.6,689.9L618.6,693L619.6,694.1L620.6,693.7L621.6,692.9L622.6,691.6L623.6,690.9L624.6,690.3L625.6,686.4L626.6,688.7L627.6,690.7L628.6,694.2L629.6,696.8L630.6,697L631.6,697L632.6,695.7L633.6,695.7L634.6,694.8L635.6,697.4L636.6,698.4L637.6,699.6L638.6,700.7L639.6,695.7L640.6,682L641.6,672.3L642.6,662L643.6,654.3L644.6,648.9L645.6,647.5L646.6,646.6L647.6,644.6L648.6,639.5L649.6,646.3L650.6,645.6L651.6,645.5L652.6,645.1L653.6,643.2L654.6,642L655.6,639.9L656.6,642.8L657.6,645L658.6,644.9L659.6,642L660.6,639.5L661.6,637.2L662.6,639.5L663.6,641.4L664.6,642.6L665.6,642.6L666.6,641.4L667.6,645.3L668.6,645.3L669.6,645.3L670.6,647.7L671.6,647.5L672.6,647.5L673.6,647.5L674.6,647.9L675.6,646.4L676.6,646.4L677.6,646.4L678.6,647.8L679.6,647.9L680.6,647.9L681.6,647.6L682.6,649L683.6,649.9L684.6,646.6L685.6,650.2L686.6,650.1L687.6,647.9L688.6,647.9L689.6,647.9L690.6,646.8L691.6,644.8L692.6,644.8L693.6,644.8L694.6,647.1L695.6,648.3L696.6,648.3L697.6,643.4L698.6,640.2L699.6,641.6L700.6,642.2L701.6,653.5L702.6,663.2L703.6,669.7L704.6,676.8L705.6,683L706.6,685.1L707.6,689.1L708.6,691.8L709.6,691.9L710.6,691L711.6,690.6L712.6,683.8L713.6,679.9L714.6,679.9L715.6,679.9L716.6,682.2L717.6,685.3L718.6,683L719.6,682.1L720.6,673.2L721.6,675.8L722.6,675.8L723.6,672.3L724.6,677L725.6,671.6L726.6,679.5L727.6,677.6L728.6,677.5L729.6,676.2L730.6,675.7L731.6,674.7L732.6,674.7L733.6,675.2L734.6,676.9L735.6,679.5L736.6,682.1L737.6,678.6L738.6,677.7L739.6,676.9L740.6,676.8L741.6,676.2L742.6,670.2L743.6,669.3L744.6,670.2L745.6,670.4L746.6,667.7L747.6,667.6L748.6,667.6L749.6,667.5L750.6,667.2L751.6,667.2L752.6,664.2L753.6,668L754.6,670.8L755.6,674.4L756.6,673.1L757.6,678L758.6,679L759.6,677.2L760.6,678.1L761.6,678.1L762.6,678L763.6,676.1L764.6,676.1L765.6,674.6L766.6,673.8L767.6,673.8L768.6,673.8L769.6,674.4L770.6,675.7L771.6,675.4L772.6,675.6L773.6,670.5L774.6,666.7L775.6,668.7L776.6,673L777.6,674.2L778.6,674.2L779.6,675.2L780.6,677.3L781.6,677.3L782.6,676.5L783.6,673.1L784.6,676.3L785.6,678.9L786.6,678.3L787.6,677.9L788.6,677.9L789.6,675.4L790.6,681L791.6,680.1L792.6,678.3L793.6,674.5L794.6,666.7L795.6,665.8L796.6,664.5L797.6,664.5L798.6,663.1L799.6,658.5L800.6,653.8L801.6,650.6L802.6,646.1L803.6,638.4L804.6,637.8L805.6,635L806.6,633.4L807.6,633.4L808.6,632.9L809.6,635.1L810.6,638L811.6,647.6L812.6,654.8L813.6,651.3L814.6,644.3L815.6,640L816.6,635.7L817.6,627.3L818.6,627.6L819.6,622.9L820.6,622.2L821.6,622.2L822.6,624.8L823.6,626.6L824.6,631.1L825.6,631.4L826.6,629.6L827.6,623.4L828.6,623.8L829.6,619.5L830.6,614L831.6,618.4L832.6,619.3L833.6,620.8L834.6,620.8L835.6,620.8L836.6,621.8L837.6,621.8L838.6,614.3L839.6,620.1L840.6,620.1L841.6,620.1L842.6,619.7L843.6,621.6L844.6,621.3L845.6,621.3L846.6,620.9L847.6,619.8L848.6,619.8L849.6,621.8L850.6,619.5L851.6,619.5L852.6,620.2L853.6,626L854.6,629.8L855.6,632.9L856.6,633L857.6,633L858.6,633L859.6,632.2L860.6,632.1L861.6,632.1L862.6,633.5L863.6,633.7L864.6,634.3L865.6,635.4L866.6,636.3L867.6,636.3L868.6,637.5L869.6,636.9L870.6,635.5L871.6,633.4L872.6,631.3L873.6,631.8L874.6,630.9L875.6,628.5L876.6,631.7L877.6,632.6L878.6,632.6L879.6,628.1L880.6,633.4L881.6,633.4L882.6,633.4L883.6,636.2L884.6,637.2L885.6,635.2L886.6,634.2L887.6,634.6L888.6,635.9L889.6,632.8L890.6,635.1L891.6,634L892.6,631.7L893.6,628.1L894.6,627.4L895.6,622.6L896.6,622.1L897.6,619.1L898.6,619.1L899.6,617.7L900.6,617.5L901.6,617.3L902.6,617.1L903.6,616L904.6,616L905.6,617.7L906.6,619.6L907.6,617.7L908.6,618.9L909.6,618.9L910.6,624.7L911.6,617.3L912.6,627.4L913.6,627.4L914.6,627.3L915.6,634.6L916.6,638.4L917.6,642.5L918.6,644.1L919.6,645.4L920.6,645.8L921.6,646.2L922.6,641.7L923.6,635L924.6,630.9L925.6,629L926.6,629L927.6,632.9L928.6,635L929.6,638.9L930.6,644.7L931.6,645.5L932.6,645.3L933.6,645.3L934.6,642.7L935.6,645L936.6,644.4L937.6,642.9L938.6,641.2L939.6,641.2L940.6,638.4L941.6,633.4L942.6,633.4L943.6,637.1L944.6,645.3L945.6,646.4L946.6,649.3L947.6,648.5L948.6,646.5L949.6,645.4L950.6,647.2L951.6,650L952.6,643.4L953.6,649.4L954.6,649.4L955.6,649.4L956.6,650.7L957.6,652L958.6,651.6L959.6,650.4L960.6,638.6L961.6,627.1L962.6,618.1L963.6,618L964.6,618L965.6,618.4L966.6,616.3L967.6,611.9L968.6,610.3L969.6,611L970.6,611.1L971.6,614.3L972.6,616.1L973.6,618.2L974.6,617.3L975.6,617.3L976.6,619.3L977.6,619.6L978.6,614.5L978.6,643.7L977.6,644.3L976.6,661.4L975.6,677L974.6,676.9L973.6,680.2L972.6,676.9L971.6,670L970.6,666.6L969.6,662.8L968.6,662.8L967.6,663.2L966.6,663.2L965.6,663.2L964.6,659.1L963.6,659.1L962.6,654.1L961.6,656.1L960.6,657.3L959.6,658.8L958.6,667.5L957.6,663.3L956.6,663.3L955.6,663.3L954.6,663.2L953.6,663.5L952.6,662.4L951.6,660.3L950.6,660.1L949.6,660.1L948.6,659.5L947.6,659.5L946.6,659.5L945.6,657.9L944.6,657.9L943.6,661.7L942.6,663.3L941.6,663.3L940.6,661.3L939.6,657.4L938.6,658.2L937.6,661.6L936.6,668.5L935.6,676.7L934.6,673.2L933.6,670.8L932.6,665.3L931.6,665.3L930.6,663.8L929.6,659.3L928.6,659.1L927.6,658.4L926.6,658.2L925.6,649.3L924.6,649.3L923.6,651.3L922.6,653.7L921.6,653.3L920.6,653.3L919.6,655.5L918.6,652.4L917.6,652.4L916.6,649.1L915.6,647.5L914.6,643.9L913.6,642.2L912.6,640.3L911.6,636.4L910.6,634.4L909.6,633.1L908.6,637.7L907.6,626.3L906.6,626L905.6,626.9L904.6,627.5L903.6,633.4L902.6,623.7L901.6,623.8L900.6,626.3L899.6,626.3L898.6,629.2L897.6,632.1L896.6,632.8L895.6,633.1L894.6,636.7L893.6,639.5L892.6,640.2L891.6,642.6L890.6,655L889.6,643.8L888.6,644.7L887.6,645.7L886.6,644.7L885.6,644.1L884.6,645.9L883.6,646.2L882.6,643.3L881.6,641.2L880.6,642.1L879.6,640L878.6,639.6L877.6,642L876.6,642L875.6,642L874.6,638.7L873.6,640.5L872.6,641.3L871.6,653.4L870.6,645.4L869.6,645.9L868.6,645.9L867.6,649.5L866.6,643.1L865.6,645.4L864.6,645.4L863.6,645.4L862.6,640.9L861.6,640.4L860.6,638.5L859.6,639.9L858.6,645.3L857.6,647.6L856.6,648.8L855.6,649.7L854.6,649.7L853.6,645.4L852.6,642L851.6,636.6L850.6,633.8L849.6,633.2L848.6,630.6L847.6,629.8L846.6,628.9L845.6,628.8L844.6,629L843.6,630.3L842.6,631L841.6,631L840.6,631L839.6,633L838.6,630.2L837.6,635.2L836.6,633.1L835.6,633.1L834.6,633.1L833.6,630.6L832.6,631.4L831.6,638.2L830.6,631.2L829.6,638.8L828.6,641.8L827.6,647.1L826.6,651L825.6,651L824.6,652.1L823.6,644.9L822.6,639.1L821.6,634.9L820.6,634L819.6,636.7L818.6,640.7L817.6,645.1L816.6,650.8L815.6,660.7L814.6,659.8L813.6,665.7L812.6,672L811.6,669.9L810.6,672.3L809.6,665.4L808.6,658.4L807.6,650.2L806.6,642.8L805.6,649.5L804.6,654.9L803.6,662.7L802.6,659.6L801.6,663.5L800.6,669.8L799.6,671.4L798.6,671.4L797.6,671.4L796.6,681L795.6,682.9L794.6,683.3L793.6,688L792.6,692.5L791.6,692.5L790.6,692.5L789.6,689.8L788.6,688.4L787.6,687.7L786.6,689L785.6,690.6L784.6,692.8L783.6,692.8L782.6,692.8L781.6,689.5L780.6,687.3L779.6,685.7L778.6,685.8L777.6,686.6L776.6,686.6L775.6,689L774.6,688.9L773.6,687.6L772.6,687.6L771.6,684.8L770.6,682.7L769.6,682.7L768.6,682.7L767.6,684.9L766.6,682.8L765.6,685.7L764.6,685.7L763.6,685.7L762.6,685.3L761.6,691.2L760.6,688L759.6,688.3L758.6,688.3L757.6,688.7L756.6,688.7L755.6,688.7L754.6,686.1L753.6,686.5L752.6,686.5L751.6,685.8L750.6,683.9L749.6,683.9L748.6,683.9L747.6,686.4L746.6,681.8L745.6,681.8L744.6,681.8L743.6,681.2L742.6,683.4L741.6,684L740.6,682.7L739.6,688.6L738.6,687.3L737.6,687.3L736.6,688.3L735.6,688.3L734.6,692L733.6,686.4L732.6,684.4L731.6,685.3L730.6,685.2L729.6,685.2L728.6,686.8L727.6,686.8L726.6,688.1L725.6,688.1L724.6,687.6L723.6,687.3L722.6,687.5L721.6,690.1L720.6,694.2L719.6,697.5L718.6,699.6L717.6,701.6L716.6,701.6L715.6,701.6L714.6,691.9L713.6,697.4L712.6,702.7L711.6,704.2L710.6,705.3L709.6,707.1L708.6,704.9L707.6,703.2L706.6,701.9L705.6,700.1L704.6,696L703.6,692.1L702.6,686L701.6,681.6L700.6,675.6L699.6,673L698.6,655.4L697.6,656.2L696.6,656.2L695.6,655.9L694.6,654.7L693.6,656.4L692.6,656.4L691.6,656.7L690.6,661.5L689.6,662.9L688.6,662.9L687.6,663.2L686.6,663.2L685.6,661.4L684.6,656.8L683.6,655.8L682.6,655.8L681.6,655.1L680.6,654.7L679.6,654.7L678.6,654.7L677.6,660.8L676.6,652.9L675.6,653.3L674.6,654L673.6,654L672.6,654L671.6,654.6L670.6,655.5L669.6,659.8L668.6,657.1L667.6,657.1L666.6,653.5L665.6,653.6L664.6,653.6L663.6,653.6L662.6,651.1L661.6,649.5L660.6,651.9L659.6,652.7L658.6,652.7L657.6,653.5L656.6,653.5L655.6,656.3L654.6,656.3L653.6,656.3L652.6,653.1L651.6,654.8L650.6,654.8L649.6,654.8L648.6,654.6L647.6,656.2L646.6,663.4L645.6,675.1L644.6,688.5L643.6,698.7L642.6,700.5L641.6,704.4L640.6,707.8L639.6,707.6L638.6,707.6L637.6,713.3L636.6,721.1L635.6,714.8L634.6,707.1L633.6,707.9L632.6,717L631.6,717L630.6,717L629.6,708.3L628.6,706.4L627.6,706.4L626.6,705L625.6,705L624.6,703.3L623.6,702L622.6,703.3L621.6,702L620.6,702L619.6,700.6L618.6,702.7L617.6,702.7L616.6,701.2L615.6,700.6L614.6,698.5L613.6,693.7L612.6,693.5L611.6,695.6L610.6,700.5L609.6,695.6L608.6,699L607.6,701.8L606.6,706.6L605.6,707.8L604.6,707.8L603.6,712.3L602.6,706.6L601.6,703.2L600.6,698L599.6,702L598.6,696.5L597.6,696.2L596.6,695.2L595.6,694.9L594.6,695.9L593.6,698.2L592.6,699.9L591.6,701.9L590.6,703L589.6,703L588.6,700.8L587.6,700.3L586.6,700L585.6,697.6L584.6,695.8L583.6,694.1L582.6,694.9L581.6,695.4L580.6,695.4L579.6,694.9L578.6,694.4L577.6,694.4L576.6,695.2L575.6,696.3L574.6,696.3L573.6,695.7L572.6,691.9L571.6,692.5L570.6,692L569.6,696.2L568.6,696.5L567.6,697.4L566.6,697.4L565.6,697.4L564.6,690.9L563.6,686.2L562.6,684.5L561.6,680.1L560.6,679.1L559.6,676.4L558.6,675.5L557.6,673.6L556.6,678.6L555.6,678.6L554.6,678.6L553.6,677.3L552.6,680L551.6,677.4L550.6,677.4L549.6,675.8L548.6,669.2L547.6,665.9L546.6,663.8L545.6,658.7L544.6,654.7L543.6,653.8L542.6,653.8L541.6,655.3L540.6,659.9L539.6,662.5L538.6,663.3L537.6,663.7L536.6,663.7L535.6,665.3L534.6,666.8L533.6,672.5L532.6,672.5L531.6,672.5L530.6,668.6L529.6,668.6L528.6,667.3L527.6,676.3L526.6,688.1L525.6,695.7L524.6,703.1L523.6,703.1L522.6,703.1L521.6,700.6L520.6,695.9L519.6,692L518.6,692.7L517.6,691.6L516.6,688.3L515.6,686.8L514.6,683.2L513.6,679.4L512.6,677.6L511.6,681.7L510.6,683.5L509.6,686L508.6,687.3L507.6,687.3L506.6,688.4L505.6,688.4L504.6,688.7L503.6,690.7L502.6,690.7L501.6,693.4L500.6,694.2L499.6,697.2L498.6,698.6L497.6,699.8L496.6,699.8L495.6,699.8L494.6,700.6L493.6,700.6L492.6,702.9L491.6,706.9L490.6,700.9L489.6,700.4L488.6,700.4L487.6,700.7L486.6,700.7L485.6,700.1L484.6,699.9L483.6,700L482.6,702.8L481.6,702.8L480.6,705.7L479.6,706.7L478.6,706.7L477.6,704L476.6,700.8L475.6,702.2L474.6,699L473.6,696.5L472.6,693.8L471.6,691.4L470.6,690.6L469.6,690.7L468.6,690.7L467.6,688.9L466.6,687.9L465.6,687.9L464.6,688L463.6,688L462.6,688L461.6,686.6L460.6,687.1L459.6,688.6L458.6,688.7L457.6,690.3L456.6,690.3L455.6,699.7L454.6,708L453.6,708L452.6,704.9L451.6,689L450.6,691.8L449.6,693.8L448.6,693.8L447.6,691.8L446.6,692.5L445.6,696.2L444.6,696.2L443.6,696.2L442.6,696.1L441.6,697.5L440.6,695.5L439.6,695.5L438.6,695.5L437.6,696.2L436.6,696.3L435.6,699.2L434.6,699.2L433.6,698.8L432.6,696.3L431.6,692.7L430.6,690.8L429.6,690.8L428.6,690.8L427.6,690.5L426.6,690.4L425.6,690L424.6,692.3L423.6,696.7L422.6,698.9L421.6,702.3L420.6,702.3L419.6,702.3L418.6,701.4L417.6,700.6L416.6,698.4L415.6,695L414.6,691.5L413.6,690L412.6,687.9L411.6,683L410.6,677.8L409.6,675.5L408.6,675.5L407.6,675.5L406.6,672.1L405.6,670.3L404.6,670.5L403.6,670.5L402.6,669.3L401.6,669.3L400.6,669.3L399.6,672.1L398.6,673.3L397.6,675.1L396.6,675.2L395.6,672.3L394.6,672.3L393.6,675L392.6,673L391.6,670.5L390.6,664.9L389.6,664.9L388.6,664.2L387.6,666.1L386.6,667.9L385.6,667.9L384.6,668.1L383.6,668.6L382.6,668.1L381.6,670.8L380.6,671.1L379.6,671.1L378.6,670.9L377.6,670.5L376.6,670.6L375.6,668.5L374.6,668.5L373.6,668.5L372.6,669.1L371.6,665.7L370.6,670.2L369.6,668L368.6,668L367.6,665.4L366.6,665.4L365.6,666.9L364.6,666.9L363.6,670.6L362.6,668.2L361.6,665.6L360.6,662L359.6,662.9L358.6,664.7L357.6,664.7L356.6,664.7L355.6,669.4L354.6,660L353.6,660.5L352.6,661.5L351.6,662.8L350.6,657.6L349.6,654.4L348.6,653.8L347.6,651.4L346.6,653.7L345.6,655.2L344.6,655.6L343.6,655.6L342.6,657.4L341.6,658.7L340.6,655.6L339.6,654.6L338.6,654.8L337.6,653L336.6,655L335.6,655.3L334.6,653.3L333.6,652.7L332.6,653.6L331.6,650L330.6,650.5L329.6,651.1L328.6,651.1L327.6,651.8L326.6,650.6L325.6,652.1L324.6,650.6L323.6,661.8L322.6,648.8L321.6,648.8L320.6,647.3L319.6,646.6L318.6,646L317.6,647.5L316.6,647L315.6,650.4L314.6,646.9L313.6,645.7L312.6,644.8L311.6,647.2L310.6,646.1L309.6,646.1L308.6,646.8L307.6,644.3L306.6,643.7L305.6,643.7L304.6,645.7L303.6,648.1L302.6,644.4L301.6,644.4L300.6,645.6L299.6,645.8L298.6,647.5L297.6,646.7L296.6,645.8L295.6,644.6L294.6,647.5L293.6,645.2L292.6,645.2L291.6,645.2L290.6,643.5L289.6,643.3L288.6,643.7L287.6,643.9L286.6,643.9L285.6,643.9L284.6,647.3L283.6,644.6L282.6,644.6L281.6,643.3L280.6,643.1L279.6,642.5L278.6,641.9L277.6,641.9L276.6,641.5L275.6,640.6L274.6,640.6L273.6,640.6L272.6,641L271.6,641.9L270.6,643L269.6,647L268.6,644.3L267.6,644.7L266.6,642.6L265.6,643.2L264.6,643.2L263.6,643.2L262.6,643L261.6,643.5L260.6,645.2L259.6,642.6L258.6,642.7L257.6,643.2L256.6,644.2L255.6,644.8L254.6,645L253.6,645L252.6,645L251.6,645.2L250.6,645.2L249.6,646.4L248.6,646.4L247.6,646.4L246.6,647L245.6,647.8L244.6,647.8L243.6,649.6L242.6,647.5L241.6,647L240.6,647.2L239.6,647.2L238.6,647.1L237.6,649.2L236.6,649.2L235.6,649.2L234.6,659.1L233.6,649.8L232.6,649.8L231.6,650L230.6,650.8L229.6,648.4L228.6,647.8L227.6,651.6L226.6,648.6L225.6,648.3L224.6,646L223.6,644.5L222.6,644.5L221.6,644.3L220.6,646L219.6,646L218.6,646L217.6,643L216.6,643.9L215.6,646.4L214.6,646.6L213.6,646.4L212.6,656.1L211.6,644.4L210.6,644.4L209.6,641.7L208.6,642.7L207.6,642.9L206.6,642.9L205.6,642.7L204.6,642.7L203.6,643.7L202.6,641.6L201.6,640.6L200.6,640.6L199.6,648.6L198.6,639L197.6,638.9L196.6,638.9L195.6,636.3L194.6,639.7L193.6,639.7L192.6,639.7L191.6,635.2L190.6,638L189.6,635.6L188.6,635.6L187.6,636.6L186.6,636.4L185.6,637.5L184.6,637.9L183.6,637.9L182.6,637.1Z" fill="#000"/>
<path d="M144.3,603.4H1019.3M144.3,726.2H1019.3" stroke="#bebebe" stroke-width="2.3" fill="none"/>
<path d="M144.3,602.25V727.35M1019.3,602.25V727.35" stroke="#a2a2a2" stroke-width="2.3" fill="none"/>
<line x1="140.3" y1="623.4" x2="144.3" y2="623.4" stroke="#bcbcbc" stroke-width="1.5"/>
<text x="130.6" y="628.6" font-size="35" text-anchor="end" fill="#000">2</text>
<line x1="140.3" y1="677" x2="144.3" y2="677" stroke="#bcbcbc" stroke-width="1.5"/>
<text x="130.6" y="682.2" font-size="35" text-anchor="end" fill="#000">0</text>
<line x1="183.3" y1="726.2" x2="183.3" y2="729.2" stroke="#bcbcbc" stroke-width="1.5"/>
<line x1="293.8" y1="726.2" x2="293.8" y2="729.2" stroke="#bcbcbc" stroke-width="1.5"/>
<line x1="404.3" y1="726.2" x2="404.3" y2="729.2" stroke="#bcbcbc" stroke-width="1.5"/>
<line x1="514.8" y1="726.2" x2="514.8" y2="729.2" stroke="#bcbcbc" stroke-width="1.5"/>
<line x1="625.3" y1="726.2" x2="625.3" y2="729.2" stroke="#bcbcbc" stroke-width="1.5"/>
<line x1="735.8" y1="726.2" x2="735.8" y2="729.2" stroke="#bcbcbc" stroke-width="1.5"/>
<line x1="846.3" y1="726.2" x2="846.3" y2="729.2" stroke="#bcbcbc" stroke-width="1.5"/>
<line x1="956.8" y1="726.2" x2="956.8" y2="729.2" stroke="#bcbcbc" stroke-width="1.5"/>
<text x="153.3" y="644" font-size="37" font-weight="bold" fill="#000">E</text>
<g transform="translate(31.8,664.3) rotate(-90) scale(0.95,1)"><text text-anchor="middle" font-size="35.5" fill="#000"><tspan font-style="italic">B</tspan><tspan font-size="23" dy="8.7">in,y</tspan></text></g>
<g transform="translate(78.0,664.3) rotate(-90) scale(0.92,1)"><text text-anchor="middle" font-size="36.5" fill="#000">(nT)</text></g>
<path d="M182.6,807.4L183.6,806.6L184.6,806.4L185.6,804.6L186.6,806.4L187.6,807.3L188.6,809.3L189.6,809.3L190.6,809.3L191.6,809.6L192.6,809.5L193.6,810L194.6,809.4L195.6,809.3L196.6,808.8L197.6,807.8L198.6,807L199.6,807L200.6,806.1L201.6,805.4L202.6,805.4L203.6,800.9L204.6,803.4L205.6,803.4L206.6,802L207.6,801.8L208.6,801.8L209.6,802.7L210.6,804.1L211.6,804.1L212.6,805.6L213.6,804.7L214.6,804.7L215.6,804.5L216.6,800.9L217.6,794.1L218.6,801.2L219.6,801.2L220.6,801.5L221.6,802.7L222.6,803.2L223.6,804.8L224.6,804.9L225.6,804.2L226.6,798.1L227.6,802L228.6,802L229.6,802.6L230.6,802.5L231.6,802.5L232.6,802.3L233.6,802.3L234.6,801.2L235.6,797.4L236.6,799.4L237.6,802.1L238.6,802.1L239.6,801.8L240.6,801.6L241.6,795.9L242.6,801L243.6,799.4L244.6,800.4L245.6,798.8L246.6,801.4L247.6,800.6L248.6,800.6L249.6,801L250.6,801L251.6,802.8L252.6,801.5L253.6,800.4L254.6,800.3L255.6,800.3L256.6,801.1L257.6,800.9L258.6,800.9L259.6,800.7L260.6,795.8L261.6,800.7L262.6,800.7L263.6,801.7L264.6,799.6L265.6,799.6L266.6,799.6L267.6,797.8L268.6,797.8L269.6,797.8L270.6,786.8L271.6,801.2L272.6,800.4L273.6,799.4L274.6,799.4L275.6,799.4L276.6,800.2L277.6,797.5L278.6,797.5L279.6,796.6L280.6,796.1L281.6,799.3L282.6,800L283.6,800L284.6,799L285.6,799L286.6,798.9L287.6,799.9L288.6,800L289.6,800L290.6,799.9L291.6,797.2L292.6,797.2L293.6,799.5L294.6,800.7L295.6,800.7L296.6,800.4L297.6,799.2L298.6,799L299.6,797.5L300.6,798.9L301.6,799.2L302.6,800.5L303.6,800.3L304.6,798.4L305.6,798.4L306.6,798.4L307.6,800.9L308.6,802L309.6,801.3L310.6,801.3L311.6,800.1L312.6,800.1L313.6,800.1L314.6,801.4L315.6,800.6L316.6,800.6L317.6,800.6L318.6,802.3L319.6,802L320.6,801.6L321.6,800.3L322.6,800.3L323.6,800.8L324.6,802.2L325.6,802.3L326.6,801.2L327.6,801.9L328.6,802.7L329.6,802.3L330.6,802.3L331.6,803.3L332.6,802.1L333.6,801.6L334.6,801.4L335.6,800.7L336.6,801.4L337.6,803.2L338.6,803.2L339.6,802.4L340.6,802.1L341.6,799L342.6,799L343.6,799L344.6,791.5L345.6,800.8L346.6,800.8L347.6,802.9L348.6,802.8L349.6,800.5L350.6,800.5L351.6,800.5L352.6,801.1L353.6,799.4L354.6,799.4L355.6,799.4L356.6,795.9L357.6,796.3L358.6,796.3L359.6,792L360.6,791.3L361.6,791.1L362.6,789.6L363.6,788.1L364.6,784.7L365.6,782.9L366.6,782.2L367.6,780.9L368.6,780.9L369.6,779.2L370.6,774.4L371.6,778.5L372.6,778.3L373.6,777.1L374.6,777.1L375.6,778.3L376.6,778.6L377.6,779.4L378.6,779.4L379.6,778.9L380.6,781.1L381.6,774.4L382.6,779.6L383.6,779.6L384.6,783.3L385.6,781.9L386.6,786.3L387.6,793L388.6,794.3L389.6,796.7L390.6,798.1L391.6,797.9L392.6,798.1L393.6,797.8L394.6,800.5L395.6,801L396.6,798.6L397.6,799.9L398.6,799.9L399.6,800.3L400.6,801.5L401.6,801.6L402.6,800.4L403.6,800.2L404.6,800.2L405.6,797.5L406.6,801.5L407.6,801.7L408.6,802.4L409.6,801.4L410.6,799.4L411.6,801.4L412.6,799.3L413.6,798.2L414.6,797.8L415.6,797.8L416.6,799.3L417.6,800L418.6,800L419.6,797.7L420.6,797.2L421.6,797.2L422.6,796.8L423.6,796.8L424.6,796.8L425.6,797.2L426.6,796.8L427.6,796.8L428.6,796.8L429.6,795.5L430.6,795.5L431.6,795.5L432.6,798.1L433.6,798.3L434.6,789.5L435.6,793.9L436.6,793.9L437.6,796.7L438.6,798.3L439.6,798.5L440.6,790L441.6,797.1L442.6,797.1L443.6,797.3L444.6,796.8L445.6,794.8L446.6,794.8L447.6,795L448.6,797.2L449.6,797.2L450.6,797.3L451.6,798.1L452.6,798.1L453.6,799.8L454.6,800.3L455.6,800.3L456.6,799L457.6,799L458.6,800.1L459.6,799.4L460.6,799.4L461.6,798.6L462.6,799.8L463.6,799.7L464.6,798.9L465.6,798.6L466.6,798.4L467.6,798.4L468.6,797.9L469.6,797.9L470.6,798.6L471.6,799.7L472.6,797.4L473.6,797.4L474.6,797.4L475.6,796.9L476.6,799.6L477.6,801L478.6,801L479.6,801L480.6,801.5L481.6,801.8L482.6,801.6L483.6,799.1L484.6,799.7L485.6,799.7L486.6,800.3L487.6,803.7L488.6,801.4L489.6,797.7L490.6,793.6L491.6,790.1L492.6,785.1L493.6,785.1L494.6,785.1L495.6,785.6L496.6,785.6L497.6,786.5L498.6,785.1L499.6,785L500.6,785L501.6,782.6L502.6,785.6L503.6,784.8L504.6,784.8L505.6,785.4L506.6,785.4L507.6,780.8L508.6,780.8L509.6,780.8L510.6,786.4L511.6,784.2L512.6,783.3L513.6,783.3L514.6,785L515.6,786.2L516.6,788.3L517.6,789L518.6,790.9L519.6,790.5L520.6,793.6L521.6,794.6L522.6,793.3L523.6,792L524.6,793.1L525.6,793.6L526.6,794.1L527.6,792.6L528.6,794.1L529.6,792.2L530.6,790.9L531.6,791.2L532.6,791.3L533.6,792.4L534.6,793.4L535.6,795.7L536.6,793.5L537.6,793L538.6,795.5L539.6,797.8L540.6,798L541.6,799.9L542.6,799.3L543.6,799.3L544.6,799L545.6,801.4L546.6,799.2L547.6,799.2L548.6,799.2L549.6,801.1L550.6,802.2L551.6,802L552.6,797L553.6,796.5L554.6,803.3L555.6,803.2L556.6,801.8L557.6,798.5L558.6,798.3L559.6,798.3L560.6,798.3L561.6,800.1L562.6,800.1L563.6,798.9L564.6,798.9L565.6,798.9L566.6,797.4L567.6,795.1L568.6,799.2L569.6,799.5L570.6,797.6L571.6,796.5L572.6,797.7L573.6,798.7L574.6,799.7L575.6,785.5L576.6,799.6L577.6,798.6L578.6,798.9L579.6,798L580.6,798L581.6,796.7L582.6,796.7L583.6,799.5L584.6,802.2L585.6,801.2L586.6,800.3L587.6,799L588.6,798L589.6,794.2L590.6,793.4L591.6,793.4L592.6,793.3L593.6,793.3L594.6,793.3L595.6,792.1L596.6,790.9L597.6,792.5L598.6,792.5L599.6,785.4L600.6,793.8L601.6,793.8L602.6,796.5L603.6,792.7L604.6,793.7L605.6,789.8L606.6,789.8L607.6,787.2L608.6,792.5L609.6,792.5L610.6,792.5L611.6,795.4L612.6,795.7L613.6,795.7L614.6,796.7L615.6,796.7L616.6,799.2L617.6,799.4L618.6,801L619.6,801.6L620.6,800.8L621.6,800.8L622.6,800.8L623.6,801.5L624.6,804.5L625.6,803.8L626.6,805.7L627.6,804.8L628.6,804.8L629.6,803.8L630.6,803.2L631.6,802.5L632.6,799.8L633.6,796.5L634.6,802.4L635.6,806.4L636.6,806.4L637.6,805.7L638.6,805.7L639.6,805.7L640.6,801.3L641.6,800.4L642.6,802.7L643.6,806.3L644.6,806.3L645.6,805.9L646.6,807.2L647.6,807.4L648.6,807.4L649.6,808.8L650.6,810.9L651.6,802.5L652.6,809.7L653.6,809.7L654.6,809.6L655.6,809.6L656.6,811.3L657.6,810.4L658.6,806.4L659.6,806.4L660.6,805.4L661.6,811.5L662.6,799.6L663.6,812.1L664.6,812.1L665.6,810.8L666.6,811.7L667.6,811.5L668.6,809.7L669.6,809.7L670.6,809.8L671.6,808.8L672.6,810L673.6,809.6L674.6,807.5L675.6,809.6L676.6,809.2L677.6,806.8L678.6,806.8L679.6,807.5L680.6,806.9L681.6,806.9L682.6,806.9L683.6,806.1L684.6,809.8L685.6,809.8L686.6,802.5L687.6,809.7L688.6,809.8L689.6,811.1L690.6,811.1L691.6,812.7L692.6,812.3L693.6,812.3L694.6,804.3L695.6,798.9L696.6,794.6L697.6,793.3L698.6,793.3L699.6,794.4L700.6,796.5L701.6,798.2L702.6,798.2L703.6,794.8L704.6,794.8L705.6,794.8L706.6,799.8L707.6,802L708.6,805.8L709.6,814.3L710.6,816.6L711.6,815L712.6,814.7L713.6,815L714.6,815.2L715.6,818.3L716.6,820.1L717.6,817.3L718.6,816.2L719.6,815.2L720.6,808.8L721.6,806.6L722.6,806.6L723.6,808.4L724.6,812L725.6,812L726.6,812L727.6,811L728.6,814.8L729.6,814.7L730.6,814.4L731.6,811.8L732.6,813.1L733.6,813.1L734.6,814.5L735.6,814.5L736.6,814.5L737.6,811.2L738.6,815.5L739.6,815.5L740.6,816.5L741.6,813.8L742.6,813.8L743.6,813.8L744.6,814.4L745.6,814.9L746.6,810.5L747.6,813.8L748.6,813.8L749.6,818.2L750.6,818.2L751.6,818.2L752.6,820.8L753.6,820.7L754.6,820.7L755.6,821.3L756.6,824L757.6,823.3L758.6,824.2L759.6,820.6L760.6,821.6L761.6,823.9L762.6,825.3L763.6,825.3L764.6,825.7L765.6,822.9L766.6,822.9L767.6,822.9L768.6,826.3L769.6,826.3L770.6,826.4L771.6,826.4L772.6,826.4L773.6,826.4L774.6,822.5L775.6,821.7L776.6,821.7L777.6,823.5L778.6,825.3L779.6,825.3L780.6,821.4L781.6,821.4L782.6,823.2L783.6,821.3L784.6,820.4L785.6,818.9L786.6,818.9L787.6,816.4L788.6,817.3L789.6,817.3L790.6,817.3L791.6,817.3L792.6,817L793.6,814.8L794.6,805.5L795.6,812.7L796.6,811.9L797.6,811.9L798.6,811.9L799.6,811.1L800.6,810L801.6,807.9L802.6,806.9L803.6,807.9L804.6,810.2L805.6,811.4L806.6,818L807.6,829.9L808.6,817.6L809.6,816.5L810.6,806.1L811.6,806.5L812.6,799.7L813.6,807.5L814.6,808L815.6,808L816.6,808.5L817.6,811.9L818.6,813.7L819.6,814.1L820.6,809.1L821.6,810.8L822.6,810.7L823.6,806.3L824.6,803.7L825.6,804.9L826.6,804.9L827.6,804.9L828.6,807.6L829.6,812.9L830.6,812.9L831.6,814.4L832.6,812.3L833.6,812.3L834.6,812.3L835.6,813.5L836.6,811.7L837.6,811.6L838.6,811.6L839.6,804.4L840.6,812.5L841.6,811.8L842.6,809.2L843.6,809.2L844.6,810.6L845.6,811.1L846.6,810.3L847.6,808L848.6,809.1L849.6,810.9L850.6,813.4L851.6,809.6L852.6,807L853.6,807L854.6,808L855.6,808L856.6,808L857.6,810.7L858.6,811L859.6,811.7L860.6,813.4L861.6,811.5L862.6,811.5L863.6,807.8L864.6,807.8L865.6,802.1L866.6,805.8L867.6,806L868.6,806L869.6,806L870.6,806L871.6,808.9L872.6,810.2L873.6,810.2L874.6,810.2L875.6,812L876.6,812.9L877.6,813.3L878.6,809.4L879.6,809.4L880.6,809.4L881.6,799.8L882.6,809.3L883.6,808.9L884.6,808.9L885.6,809.9L886.6,810L887.6,810.9L888.6,811.1L889.6,811.1L890.6,811.8L891.6,814.3L892.6,815.5L893.6,817.2L894.6,818.7L895.6,818.7L896.6,819L897.6,817.7L898.6,823.5L899.6,824.7L900.6,825L901.6,822.5L902.6,828.6L903.6,827.2L904.6,827.2L905.6,823.8L906.6,821L907.6,817.6L908.6,815.3L909.6,813.6L910.6,813.6L911.6,812.9L912.6,810.5L913.6,810.5L914.6,806.7L915.6,804.8L916.6,804.8L917.6,804.8L918.6,804.4L919.6,800.8L920.6,800.8L921.6,800.8L922.6,802.1L923.6,804.1L924.6,806.2L925.6,806.2L926.6,806.7L927.6,806.7L928.6,802.8L929.6,798.7L930.6,798.7L931.6,799.7L932.6,798.6L933.6,798.6L934.6,801.3L935.6,801.3L936.6,802.2L937.6,804.2L938.6,800.1L939.6,800.1L940.6,798.2L941.6,798.2L942.6,797.1L943.6,790.6L944.6,796.7L945.6,799.2L946.6,801L947.6,800.5L948.6,800.5L949.6,800.6L950.6,800.6L951.6,801.3L952.6,800.4L953.6,799.3L954.6,798.6L955.6,798.6L956.6,798.6L957.6,798.1L958.6,798.1L959.6,790.9L960.6,772L961.6,764.4L962.6,762.6L963.6,762.6L964.6,764.5L965.6,761.1L966.6,758.4L967.6,758.4L968.6,760.5L969.6,759.7L970.6,759.4L971.6,759.4L972.6,763L973.6,757L974.6,761.7L975.6,762.2L976.6,767.7L977.6,764.9L978.6,774L979.6,775.8L979.6,849.1L978.6,854L977.6,854L976.6,854L975.6,857.1L974.6,857.5L973.6,857.5L972.6,860.2L971.6,860.1L970.6,864.5L969.6,864.5L968.6,864.5L967.6,861.1L966.6,858.2L965.6,857.6L964.6,857.6L963.6,855L962.6,859.3L961.6,856.9L960.6,845.7L959.6,824.7L958.6,804.9L957.6,808.9L956.6,806L955.6,809.1L954.6,809.6L953.6,808.2L952.6,808.6L951.6,808.6L950.6,808.6L949.6,810L948.6,810L947.6,809L946.6,808.3L945.6,809.3L944.6,809.3L943.6,809L942.6,812.8L941.6,812.8L940.6,814.5L939.6,811.5L938.6,813.2L937.6,811.5L936.6,811.5L935.6,809.2L934.6,808.7L933.6,808.3L932.6,808.3L931.6,808.7L930.6,809.7L929.6,812.5L928.6,820.1L927.6,826.4L926.6,826.4L925.6,824.2L924.6,815.4L923.6,812.5L922.6,811.8L921.6,809.8L920.6,810.1L919.6,812L918.6,812L917.6,817L916.6,817.3L915.6,817.3L914.6,817.1L913.6,817.9L912.6,821.5L911.6,821.5L910.6,821.5L909.6,826.1L908.6,826.1L907.6,829.4L906.6,833.6L905.6,837.6L904.6,840.7L903.6,840.7L902.6,840.7L901.6,837.4L900.6,835.5L899.6,832.4L898.6,838.3L897.6,829.9L896.6,828.5L895.6,825.9L894.6,826.6L893.6,826.6L892.6,824.4L891.6,822.2L890.6,821L889.6,819.3L888.6,820.4L887.6,818.4L886.6,819.3L885.6,817.8L884.6,819.5L883.6,819.5L882.6,819L881.6,820.7L880.6,821.8L879.6,822.8L878.6,823L877.6,824.2L876.6,823.7L875.6,823.5L874.6,822.1L873.6,822.6L872.6,818.7L871.6,818.7L870.6,815.7L869.6,814.4L868.6,815.7L867.6,816.4L866.6,816.4L865.6,816.4L864.6,818.8L863.6,818.8L862.6,819L861.6,822.9L860.6,820.7L859.6,820.7L858.6,820.5L857.6,820.5L856.6,820.5L855.6,819L854.6,818.7L853.6,818.7L852.6,822.5L851.6,824.7L850.6,825.9L849.6,825.9L848.6,825.9L847.6,824.8L846.6,821.3L845.6,822.4L844.6,821.6L843.6,825L842.6,820L841.6,822.4L840.6,819.4L839.6,819.4L838.6,819.5L837.6,820.1L836.6,820.1L835.6,823.2L834.6,823.9L833.6,826.4L832.6,826.4L831.6,826.4L830.6,826.9L829.6,826.9L828.6,824.3L827.6,821.2L826.6,823.3L825.6,815.8L824.6,816.5L823.6,819.7L822.6,822.7L821.6,827.2L820.6,821.7L819.6,823.4L818.6,823.4L817.6,823.4L816.6,820.5L815.6,816.9L814.6,816L813.6,819.2L812.6,816L811.6,823.8L810.6,833.3L809.6,841.7L808.6,846.2L807.6,850.3L806.6,850.3L805.6,843.3L804.6,837.1L803.6,831.2L802.6,826.3L801.6,822.9L800.6,818.9L799.6,818.3L798.6,818.3L797.6,818.3L796.6,819.6L795.6,821.4L794.6,822L793.6,822.7L792.6,825.1L791.6,825.1L790.6,825.1L789.6,829.3L788.6,824.9L787.6,824.4L786.6,825.8L785.6,829L784.6,833.2L783.6,833L782.6,831.3L781.6,831.3L780.6,830.8L779.6,832.9L778.6,833.4L777.6,833.4L776.6,835.6L775.6,833.5L774.6,833.5L773.6,833.5L772.6,832.9L771.6,833.2L770.6,833.5L769.6,834.4L768.6,834.4L767.6,834.4L766.6,832L765.6,831.9L764.6,831.9L763.6,831.9L762.6,832.5L761.6,832.5L760.6,831.1L759.6,830.9L758.6,830.9L757.6,831.2L756.6,831.2L755.6,830.8L754.6,830.1L753.6,827.9L752.6,828L751.6,827.7L750.6,826.9L749.6,831.9L748.6,827.2L747.6,826.1L746.6,826.1L745.6,825.4L744.6,826.7L743.6,827.1L742.6,827.1L741.6,828.5L740.6,826.8L739.6,827.6L738.6,830.4L737.6,830.4L736.6,831.7L735.6,834.3L734.6,833L733.6,831.8L732.6,831.8L731.6,832.2L730.6,832.2L729.6,832.2L728.6,831.6L727.6,831L726.6,833.3L725.6,834.7L724.6,835.5L723.6,831.3L722.6,828.6L721.6,830.3L720.6,831.6L719.6,834.9L718.6,834.8L717.6,835.2L716.6,835.2L715.6,834.6L714.6,832.6L713.6,831.7L712.6,835.8L711.6,840.3L710.6,842.4L709.6,844.7L708.6,842.4L707.6,842.4L706.6,842.4L705.6,841.1L704.6,845.3L703.6,843.2L702.6,842.4L701.6,848L700.6,848L699.6,845.9L698.6,849.1L697.6,843.6L696.6,836.8L695.6,833L694.6,829.2L693.6,828.2L692.6,819.9L691.6,821L690.6,823.3L689.6,821L688.6,818.4L687.6,816.5L686.6,816.5L685.6,816.5L684.6,816.7L683.6,816.7L682.6,816.7L681.6,814.4L680.6,817.1L679.6,815.6L678.6,819L677.6,816L676.6,816.3L675.6,816.3L674.6,816.3L673.6,815.6L672.6,818.2L671.6,818.4L670.6,818.4L669.6,817.2L668.6,816.7L667.6,818.6L666.6,819.5L665.6,820.9L664.6,820.9L663.6,818.7L662.6,820.6L661.6,820.6L660.6,820.6L659.6,816.5L658.6,817.1L657.6,818.7L656.6,819.6L655.6,818.7L654.6,816.8L653.6,816.8L652.6,817.6L651.6,817.7L650.6,817.7L649.6,816.7L648.6,815.9L647.6,813.8L646.6,812.9L645.6,812.9L644.6,821.9L643.6,820.3L642.6,815.6L641.6,812.1L640.6,813L639.6,813.2L638.6,813.2L637.6,827.8L636.6,815.4L635.6,817.7L634.6,815L633.6,817.3L632.6,819L631.6,819L630.6,818.4L629.6,818.4L628.6,815.1L627.6,814.6L626.6,813.4L625.6,814.1L624.6,814.1L623.6,814.2L622.6,814.4L621.6,821.5L620.6,822.4L619.6,819.7L618.6,816.1L617.6,816.1L616.6,816.1L615.6,818.5L614.6,818.5L613.6,818.5L612.6,819.7L611.6,820.3L610.6,819.7L609.6,817.7L608.6,817.2L607.6,817.2L606.6,817.1L605.6,817.6L604.6,819.2L603.6,819.2L602.6,817.3L601.6,815.4L600.6,819.5L599.6,819.5L598.6,819.5L597.6,821.1L596.6,821.1L595.6,823.2L594.6,823.2L593.6,823.2L592.6,821.1L591.6,820.2L590.6,820.2L589.6,820.2L588.6,819.2L587.6,815.1L586.6,813.8L585.6,810.9L584.6,810.7L583.6,810.5L582.6,809.6L581.6,808.8L580.6,807.6L579.6,810.9L578.6,809.1L577.6,807.6L576.6,809.3L575.6,809.3L574.6,809.3L573.6,807.5L572.6,806.4L571.6,807L570.6,808L569.6,808L568.6,809.7L567.6,806.7L566.6,806.7L565.6,806.7L564.6,806.2L563.6,807.6L562.6,808.6L561.6,810.8L560.6,812.9L559.6,815.8L558.6,812.9L557.6,810.6L556.6,810.6L555.6,811.2L554.6,811.2L553.6,811.2L552.6,809.5L551.6,809.3L550.6,808.6L549.6,808.6L548.6,808.2L547.6,807.5L546.6,807.5L545.6,808.1L544.6,810.5L543.6,810.7L542.6,810.6L541.6,812.2L540.6,812.2L539.6,814.6L538.6,814.9L537.6,814.9L536.6,813.4L535.6,812.6L534.6,813.9L533.6,813.9L532.6,813.9L531.6,812.9L530.6,813L529.6,813.9L528.6,813.9L527.6,813.9L526.6,811.4L525.6,810.7L524.6,812.2L523.6,813.8L522.6,814.5L521.6,814.5L520.6,815.1L519.6,813.1L518.6,812.8L517.6,818.4L516.6,823.8L515.6,823.8L514.6,829.1L513.6,821.8L512.6,826.9L511.6,821.4L510.6,823.3L509.6,820.8L508.6,819.7L507.6,817.1L506.6,816.2L505.6,820.3L504.6,824.6L503.6,824.6L502.6,824.6L501.6,822.2L500.6,822.2L499.6,821.9L498.6,817.7L497.6,823.5L496.6,821.3L495.6,820.7L494.6,822L493.6,822L492.6,826.3L491.6,820.6L490.6,816.1L489.6,812.1L488.6,812.1L487.6,813.9L486.6,810.3L485.6,810.3L484.6,807.5L483.6,807.5L482.6,809L481.6,812.3L480.6,808.7L479.6,808.7L478.6,808.1L477.6,807.6L476.6,806.8L475.6,806.4L474.6,805.2L473.6,804.7L472.6,809.1L471.6,808.4L470.6,808.4L469.6,808.4L468.6,805.9L467.6,805.5L466.6,805.8L465.6,805.1L464.6,805.3L463.6,807.2L462.6,808.9L461.6,808.9L460.6,808.9L459.6,808.7L458.6,806.9L457.6,806.5L456.6,808L455.6,808.8L454.6,814.5L453.6,810.4L452.6,810.4L451.6,811.9L450.6,812.3L449.6,812.3L448.6,812.3L447.6,822.2L446.6,811L445.6,810L444.6,811.9L443.6,811.9L442.6,811.9L441.6,810.9L440.6,812.6L439.6,814.1L438.6,815.6L437.6,815.6L436.6,816.3L435.6,814.1L434.6,812.1L433.6,812.1L432.6,814.2L431.6,813.6L430.6,811.4L429.6,811.9L428.6,811.9L427.6,812L426.6,812.4L425.6,813.3L424.6,816.3L423.6,818.6L422.6,816.3L421.6,816L420.6,814.8L419.6,818.8L418.6,814.8L417.6,814.3L416.6,814.3L415.6,811.4L414.6,809.7L413.6,809.7L412.6,808.9L411.6,809.8L410.6,809.8L409.6,811.4L408.6,811.4L407.6,811.4L406.6,809.5L405.6,808.9L404.6,809.4L403.6,812.5L402.6,809.1L401.6,812.7L400.6,808.7L399.6,808.7L398.6,808.7L397.6,807.6L396.6,810.2L395.6,810.2L394.6,810.2L393.6,807.6L392.6,809.7L391.6,807.3L390.6,805.4L389.6,807.8L388.6,811L387.6,816L386.6,819.2L385.6,822.1L384.6,822.1L383.6,822.7L382.6,825.3L381.6,826L380.6,827.6L379.6,827.6L378.6,829.7L377.6,829.7L376.6,833L375.6,827.5L374.6,827.5L373.6,829.8L372.6,825.9L371.6,824.4L370.6,827.2L369.6,836.2L368.6,836.7L367.6,830.2L366.6,829.6L365.6,825.4L364.6,828.1L363.6,828.1L362.6,828.1L361.6,825.9L360.6,822L359.6,816.2L358.6,816L357.6,816L356.6,816.6L355.6,816.7L354.6,816.4L353.6,816.4L352.6,816.4L351.6,813.9L350.6,813.9L349.6,813.3L348.6,810.7L347.6,810.7L346.6,816.1L345.6,813.4L344.6,813.4L343.6,810L342.6,809.8L341.6,809.8L340.6,810.8L339.6,809L338.6,809L337.6,809.4L336.6,809.4L335.6,809.4L334.6,808L333.6,813.8L332.6,814.8L331.6,814.4L330.6,813.9L329.6,813.6L328.6,813.6L327.6,817.3L326.6,808.1L325.6,809.4L324.6,809.4L323.6,812.4L322.6,807.2L321.6,807.9L320.6,809.3L319.6,810.7L318.6,808.8L317.6,808.6L316.6,808.4L315.6,809.7L314.6,809L313.6,809L312.6,809L311.6,808.7L310.6,808.3L309.6,808.3L308.6,811.7L307.6,809.6L306.6,808L305.6,808.8L304.6,811.3L303.6,808.4L302.6,806.9L301.6,806L300.6,806L299.6,806.8L298.6,806.8L297.6,808.1L296.6,808.1L295.6,810.6L294.6,810L293.6,810L292.6,807.9L291.6,809.8L290.6,811L289.6,811L288.6,810.3L287.6,812.5L286.6,810.7L285.6,810.7L284.6,808.9L283.6,810.2L282.6,806.5L281.6,806.5L280.6,807.3L279.6,807.3L278.6,807.3L277.6,807.2L276.6,807.3L275.6,807.3L274.6,806.7L273.6,811.5L272.6,808.7L271.6,810.6L270.6,808.8L269.6,815.9L268.6,808.8L267.6,809.2L266.6,811.5L265.6,809.3L264.6,812L263.6,810.2L262.6,808.8L261.6,808.8L260.6,807.7L259.6,811.4L258.6,811.4L257.6,811.4L256.6,808.2L255.6,809.3L254.6,809.3L253.6,808.1L252.6,810.2L251.6,810.2L250.6,810L249.6,808.1L248.6,808.1L247.6,807L246.6,807L245.6,806.9L244.6,806.8L243.6,806.8L242.6,811.3L241.6,811.3L240.6,811.3L239.6,809.6L238.6,808.7L237.6,808.7L236.6,808.6L235.6,810L234.6,810L233.6,810L232.6,809.1L231.6,809.1L230.6,809.7L229.6,809.7L228.6,809.7L227.6,809.4L226.6,810.3L225.6,810.3L224.6,814.6L223.6,812.2L222.6,812.2L221.6,810L220.6,814L219.6,810.6L218.6,811.3L217.6,811.3L216.6,813L215.6,813.8L214.6,813.8L213.6,812.6L212.6,811.2L211.6,810.9L210.6,812.5L209.6,813.9L208.6,812.5L207.6,811.7L206.6,811.1L205.6,811.8L204.6,813.1L203.6,813.9L202.6,813.9L201.6,813.9L200.6,819.8L199.6,813.9L198.6,813.9L197.6,816.5L196.6,816.5L195.6,816.5L194.6,815.8L193.6,816.6L192.6,816.6L191.6,816.6L190.6,817.2L189.6,817.2L188.6,815.7L187.6,815.8L186.6,814.4L185.6,813L184.6,813.2L183.6,814L182.6,814Z" fill="#000"/>
<path d="M144.3,751H1019.3M144.3,873.7H1019.3" stroke="#bebebe" stroke-width="2.3" fill="none"/>
<path d="M144.3,749.85V874.85M1019.3,749.85V874.85" stroke="#a2a2a2" stroke-width="2.3" fill="none"/>
<line x1="140.3" y1="758.5" x2="144.3" y2="758.5" stroke="#bcbcbc" stroke-width="1.5"/>
<text x="130.6" y="763.7" font-size="35" text-anchor="end" fill="#000">4</text>
<line x1="140.3" y1="805.4" x2="144.3" y2="805.4" stroke="#bcbcbc" stroke-width="1.5"/>
<text x="130.6" y="810.6" font-size="35" text-anchor="end" fill="#000">2</text>
<line x1="140.3" y1="851.6" x2="144.3" y2="851.6" stroke="#bcbcbc" stroke-width="1.5"/>
<text x="130.6" y="856.8" font-size="35" text-anchor="end" fill="#000">0</text>
<line x1="183.3" y1="873.7" x2="183.3" y2="876.7" stroke="#bcbcbc" stroke-width="1.5"/>
<line x1="293.8" y1="873.7" x2="293.8" y2="876.7" stroke="#bcbcbc" stroke-width="1.5"/>
<line x1="404.3" y1="873.7" x2="404.3" y2="876.7" stroke="#bcbcbc" stroke-width="1.5"/>
<line x1="514.8" y1="873.7" x2="514.8" y2="876.7" stroke="#bcbcbc" stroke-width="1.5"/>
<line x1="625.3" y1="873.7" x2="625.3" y2="876.7" stroke="#bcbcbc" stroke-width="1.5"/>
<line x1="735.8" y1="873.7" x2="735.8" y2="876.7" stroke="#bcbcbc" stroke-width="1.5"/>
<line x1="846.3" y1="873.7" x2="846.3" y2="876.7" stroke="#bcbcbc" stroke-width="1.5"/>
<line x1="956.8" y1="873.7" x2="956.8" y2="876.7" stroke="#bcbcbc" stroke-width="1.5"/>
<text x="153.3" y="792" font-size="37" font-weight="bold" fill="#000">F</text>
<g transform="translate(31.8,811.9) rotate(-90) scale(0.95,1)"><text text-anchor="middle" font-size="35.5" fill="#000"><tspan font-style="italic">B</tspan><tspan font-size="23" dy="8.7">in,z</tspan></text></g>
<g transform="translate(78.0,811.9) rotate(-90) scale(0.92,1)"><text text-anchor="middle" font-size="36.5" fill="#000">(nT)</text></g>
<text x="183.9" y="916.8" font-size="35" text-anchor="middle" fill="#000">0</text>
<text x="293.9" y="916.8" font-size="35" text-anchor="middle" fill="#000">250</text>
<text x="405.5" y="916.8" font-size="35" text-anchor="middle" fill="#000">500</text>
<text x="517.6" y="916.8" font-size="35" text-anchor="middle" fill="#000">750</text>
<text x="622.0" y="916.8" font-size="35" text-anchor="middle" fill="#000">1000</text>
<text x="736.3" y="916.8" font-size="35" text-anchor="middle" fill="#000">1250</text>
<text x="841.7" y="916.8" font-size="35" text-anchor="middle" fill="#000">1500</text>
<text x="955.5" y="916.8" font-size="35" text-anchor="middle" fill="#000">1750</text>
<text x="529" y="976" font-size="36.6" text-anchor="middle" fill="#000">Time (s)</text>
<path d="M183,1116L184,1114.7L185,1114.8L186,1115.1L187,1114.3L188,1113.8L189,1111.5L190,1112.1L191,1112.3L192,1111.3L193,1113.1L194,1112.3L195,1114.1L196,1114L197,1114.4L198,1112.2L199,1112.9L200,1112.7L201,1113.7L202,1113.8L203,1112.6L204,1113.3L205,1112.8L206,1111.9L207,1113.8L208,1112.7L209,1113.5L210,1113L211,1113.3L212,1112L213,1112.4L214,1112.7L215,1112.1L216,1113L217,1113.3L218,1113.1L219,1114.4L220,1112.8L221,1113.3L222,1113.3L223,1113.8L224,1113.3L225,1111.4L226,1112.5L227,1113L228,1113.6L229,1114L230,1115.8L231,1115.3L232,1113.2L233,1112.8L234,1114.1L235,1112.7L236,1110.2L237,1110.5L238,1110.2L239,1112.9L240,1111.4L241,1112.1L242,1110.6L243,1108.9L244,1108.3L245,1111.3L246,1113.1L247,1113.7L248,1112.1L249,1111.3L250,1110.8L251,1111.6L252,1110.9L253,1110.4L254,1110.3L255,1110.1L256,1109.7L257,1111L258,1110.4L259,1110.4L260,1110.3L261,1111.3L262,1112.1L263,1111.6L264,1113.1L265,1112L266,1111.6L267,1110.2L268,1113.2L269,1114.1L270,1114.2L271,1113.3L272,1114.6L273,1114L274,1114.2L275,1111.7L276,1111.5L277,1114.2L278,1115.3L279,1115.8L280,1116L281,1112.6L282,1113L283,1113.5L284,1112.5L285,1114L286,1112.2L287,1114.1L288,1113.3L289,1114.9L290,1114.4L291,1113L292,1112.9L293,1111.7L294,1113.1L295,1113.3L296,1114.9L297,1114.5L298,1113.5L299,1113.6L300,1111.8L301,1112.6L302,1113.6L303,1114.8L304,1114.1L305,1113.6L306,1112.5L307,1113.2L308,1112.3L309,1113.5L310,1112.4L311,1112.5L312,1111.3L313,1111.6L314,1112.9L315,1115.2L316,1115.4L317,1114.4L318,1114.6L319,1113.3L320,1113.6L321,1111.7L322,1113.9L323,1113.9L324,1113.4L325,1113.7L326,1113.6L327,1115.2L328,1115.7L329,1114.2L330,1113.1L331,1112.7L332,1112.7L333,1111.2L334,1111.7L335,1112.9L336,1113.4L337,1115.3L338,1116.1L339,1115.8L340,1114.5L341,1113.6L342,1112.6L343,1114L344,1113.7L345,1113.8L346,1115L347,1115.2L348,1114.1L349,1114.4L350,1115L351,1115.3L352,1112.7L353,1112.3L354,1112.6L355,1110.2L356,1108.6L357,1102.5L358,1100.9L359,1095.3L360,1092.2L361,1089.9L362,1089.6L363,1090.6L364,1089.1L365,1086.8L366,1084.7L367,1083.1L368,1082.3L369,1082.6L370,1081.2L371,1082.6L372,1080.9L373,1080.9L374,1080.9L375,1078.6L376,1080L377,1079.7L378,1079.7L379,1079.7L380,1077.7L381,1076.7L382,1075.6L383,1077.2L384,1079.8L385,1084.1L386,1089.4L387,1093.4L388,1095.9L389,1100.2L390,1105.7L391,1113.2L392,1115.4L393,1113.6L394,1115.5L395,1114.3L396,1115.2L397,1113.7L398,1114.7L399,1115.6L400,1115.7L401,1115L402,1115.7L403,1115.2L404,1113.2L405,1112.6L406,1112.9L407,1112.1L408,1112.9L409,1114L410,1114.9L411,1115.4L412,1113.7L413,1113.6L414,1113.4L415,1113L416,1114.7L417,1113L418,1111.7L419,1113.1L420,1111.9L421,1112.5L422,1113.3L423,1112.6L424,1113L425,1112.9L426,1112.9L427,1113.3L428,1113.2L429,1113.5L430,1112.6L431,1113L432,1114.7L433,1113.9L434,1112L435,1111L436,1111.9L437,1112.5L438,1113.3L439,1113.1L440,1112.5L441,1115.4L442,1114.5L443,1114.9L444,1113.2L445,1113L446,1110.7L447,1109L448,1112L449,1112L450,1113.9L451,1114.2L452,1112.7L453,1113.7L454,1113L455,1114.4L456,1113.1L457,1113.7L458,1114.1L459,1114.2L460,1115.9L461,1115.2L462,1114.8L463,1112.6L464,1112.4L465,1113.7L466,1113.2L467,1114.3L468,1112.6L469,1113.6L470,1113.2L471,1114L472,1113L473,1113.4L474,1114.4L475,1112.9L476,1112.5L477,1112.5L478,1113.5L479,1113.8L480,1114.7L481,1113.3L482,1113.9L483,1113.9L484,1114.7L485,1114.3L486,1114L487,1115.5L488,1114.1L489,1113.4L490,1114.9L491,1114.9L492,1116.1L493,1113.9L494,1114.6L495,1113L496,1115.5L497,1114.4L498,1114.8L499,1112.7L500,1113.8L501,1114L502,1114L503,1112.7L504,1111.6L505,1112.2L506,1112.7L507,1111.2L508,1110.3L509,1112.5L510,1112.9L511,1115.2L512,1115.4L513,1115.3L514,1112.9L515,1112.1L516,1114.1L517,1113.7L518,1112.2L519,1112.4L520,1112.7L521,1113L522,1114.3L523,1114.4L524,1115.1L525,1114.3L526,1111.9L527,1111L528,1110.4L529,1112.8L530,1113.5L531,1113.2L532,1113.5L533,1113.7L534,1114.6L535,1114.3L536,1114.9L537,1114.2L538,1113L539,1113.1L540,1113.9L541,1114.5L542,1115.4L543,1114.5L544,1115.6L545,1112.5L546,1114.2L547,1112.6L548,1113.1L549,1113.7L550,1114.2L551,1112.6L552,1110.1L553,1111.5L554,1113.7L555,1114.6L556,1112.8L557,1113.4L558,1114.2L559,1112.6L560,1112.9L561,1113.3L562,1113.2L563,1113L564,1111.7L565,1112.5L566,1114L567,1112.5L568,1111.4L569,1111.7L570,1112.3L571,1114.6L572,1114.7L573,1115.8L574,1114L575,1113.6L576,1112.2L577,1111.7L578,1111.5L579,1111.2L580,1111L581,1108.9L582,1108.8L583,1110.3L584,1112.7L585,1114.4L586,1113.6L587,1113.5L588,1112.6L589,1112.5L590,1112.3L591,1113.3L592,1113.1L593,1113.7L594,1115.1L595,1114.5L596,1115L597,1114.2L598,1112.4L599,1114.2L600,1114.8L601,1114.4L602,1114.2L603,1113.8L604,1112.7L605,1111.5L606,1111.1L607,1110.9L608,1113.2L609,1114.8L610,1115.2L611,1115.3L612,1114.2L613,1112.7L614,1114L615,1114.5L616,1114.9L617,1114.2L618,1112.4L619,1111.3L620,1112.4L621,1114.9L622,1116.8L623,1113.7L624,1110.2L625,1109.6L626,1110.5L627,1112.9L628,1112.2L629,1116L630,1114.8L631,1114.3L632,1114.7L633,1114.9L634,1113.5L635,1113.4L636,1113.5L637,1114.5L638,1114.1L639,1112.2L640,1114.5L641,1114.4L642,1114.2L643,1114.4L644,1114L645,1114.4L646,1112.6L647,1112.1L648,1111.1L649,1112.9L650,1113.3L651,1112.6L652,1113.8L653,1113L654,1114.2L655,1114L656,1114.1L657,1113.2L658,1112.4L659,1113.3L660,1113.6L661,1113L662,1111.8L663,1113.5L664,1112.3L665,1113.1L666,1112.2L667,1112.6L668,1110.3L669,1111.9L670,1112.3L671,1113.4L672,1113L673,1111.7L674,1112.1L675,1112.6L676,1114.4L677,1114.6L678,1114.9L679,1113.7L680,1114.3L681,1114.2L682,1113.7L683,1113L684,1110.9L685,1110.8L686,1111.9L687,1114.8L688,1116L689,1113.5L690,1114.8L691,1114L692,1114.5L693,1115.2L694,1113.9L695,1114.3L696,1114.9L697,1115.9L698,1116.5L699,1115.9L700,1115L701,1113.8L702,1114L703,1114.4L704,1114.3L705,1116L706,1112.3L707,1112.8L708,1111.4L709,1112.7L710,1113.6L711,1114.1L712,1114.8L713,1113.1L714,1113.8L715,1112.9L716,1114.5L717,1114.2L718,1113.9L719,1113L720,1112.6L721,1112.9L722,1114.1L723,1114.7L724,1115L725,1114.8L726,1114.3L727,1114L728,1114.5L729,1112.5L730,1112.1L731,1111.7L732,1111.5L733,1111.3L734,1111.3L735,1111.4L736,1114.1L737,1112.6L738,1111.9L739,1111.5L740,1111.8L741,1113.4L742,1112.5L743,1113.1L744,1113.8L745,1114.2L746,1113.6L747,1114.3L748,1113.5L749,1115.1L750,1114.5L751,1115L752,1114.1L753,1112.2L754,1113.2L755,1112.6L756,1115.7L757,1114L758,1114.1L759,1114.5L760,1114.3L761,1114.4L762,1114.9L763,1114.7L764,1114.3L765,1113.6L766,1113.6L767,1113.8L768,1116.1L769,1113.6L770,1113.3L771,1111.3L772,1111.7L773,1112.6L774,1112.7L775,1113.6L776,1114.4L777,1114.8L778,1113.4L779,1114.6L780,1113.7L781,1115.3L782,1113.8L783,1115.7L784,1114.6L785,1115.4L786,1113.6L787,1113.3L788,1113.7L789,1114.8L790,1113.9L791,1114.2L792,1112.6L793,1113.2L794,1112.9L795,1115.1L796,1116.4L797,1115.2L798,1115.8L799,1113.5L800,1113.8L801,1113.5L802,1113.6L803,1113.1L804,1111.7L805,1112L806,1112.5L807,1115.5L808,1115.7L809,1116L810,1115.3L811,1114.1L812,1113.1L813,1114.8L814,1114L815,1113.9L816,1113L817,1112.6L818,1113.4L819,1114.8L820,1115.4L821,1113.4L822,1110.9L823,1110.9L824,1109.8L825,1106.2L826,1103.5L827,1104.7L828,1105.9L829,1108.8L830,1108.4L831,1108.2L832,1107.7L833,1106.9L834,1106.9L835,1106.2L836,1107.5L837,1108.4L838,1107.7L839,1104.7L840,1106.5L841,1107.3L842,1107.7L843,1107.3L844,1106.5L845,1107.1L846,1106.4L847,1106.9L848,1106.9L849,1107.5L850,1107L851,1108.6L852,1106.9L853,1106.2L854,1105.8L855,1105.7L856,1107.1L857,1107.5L858,1109.6L859,1112.3L860,1113.8L861,1111.8L862,1112.7L863,1113.8L864,1115.1L865,1113.6L866,1112.7L867,1112.7L868,1112.7L869,1114.2L870,1114.3L871,1115.5L872,1113.5L873,1114L874,1113.1L875,1113.8L876,1113.6L877,1112.5L878,1112.5L879,1113.3L880,1114L881,1114.6L882,1114.9L883,1114L884,1113.2L885,1113.1L886,1113.5L887,1113L888,1113.1L889,1113.3L890,1113.6L891,1113.4L892,1114L893,1113.5L894,1114.3L895,1114.1L896,1115.9L897,1116.5L898,1114.5L899,1112.6L900,1112.7L901,1112.5L902,1114.3L903,1113.1L904,1114.5L905,1113.8L906,1115.1L907,1114.5L908,1113.4L909,1112.5L910,1112.9L911,1112L912,1112.9L913,1113.6L914,1113.6L915,1116.2L916,1114.2L917,1115.2L918,1114.8L919,1114.8L920,1113.6L921,1112.8L922,1113.3L923,1112.5L924,1112.7L925,1111.1L926,1111.9L927,1112.6L928,1112.8L929,1113.3L930,1112.4L931,1114.1L932,1113L933,1112.1L934,1111.6L935,1112.1L936,1113.5L937,1112.1L938,1112.8L939,1113.3L940,1112.7L941,1114L942,1113.2L943,1112.7L944,1115L945,1114L946,1114.2L947,1112.7L948,1113.6L949,1113.2L950,1111.1L951,1110.9L952,1111.6L953,1112.2L954,1112.6L955,1113.1L956,1114.2L957,1114.3L958,1114.6L959,1101.9L960,1090.8L961,1089.6L962,1089.6L963,1089.6L964,1089.3L965,1089.5L966,1086.8L967,1087.5L968,1088.6L969,1088.7L970,1088.6L971,1086.3L972,1087.3L973,1087.4L974,1086.7L975,1088.9L976,1090.2L977,1091.8L978,1093L979,1093.7L979,1126L978,1126L977,1126L976,1126L975,1126L974,1126L973,1126L972,1126L971,1126L970,1126L969,1126L968,1126L967,1126L966,1126L965,1126L964,1126L963,1126L962,1126L961,1126L960,1126L959,1126L958,1126L957,1126L956,1126L955,1126L954,1126L953,1126L952,1126L951,1126L950,1126L949,1126L948,1126L947,1126L946,1126L945,1126L944,1126L943,1126L942,1126L941,1126L940,1126L939,1126L938,1126L937,1126L936,1126L935,1126L934,1126L933,1126L932,1126L931,1126L930,1126L929,1126L928,1126L927,1126L926,1126L925,1126L924,1126L923,1126L922,1126L921,1126L920,1126L919,1126L918,1126L917,1126L916,1126L915,1126L914,1126L913,1126L912,1126L911,1126L910,1126L909,1126L908,1126L907,1126L906,1126L905,1126L904,1126L903,1126L902,1126L901,1126L900,1126L899,1126L898,1126L897,1126L896,1126L895,1126L894,1126L893,1126L892,1126L891,1126L890,1126L889,1126L888,1126L887,1126L886,1126L885,1126L884,1126L883,1126L882,1126L881,1126L880,1126L879,1126L878,1126L877,1126L876,1126L875,1126L874,1126L873,1126L872,1126L871,1126L870,1126L869,1126L868,1126L867,1126L866,1126L865,1126L864,1126L863,1126L862,1126L861,1126L860,1126L859,1126L858,1126L857,1126L856,1126L855,1126L854,1126L853,1126L852,1126L851,1126L850,1126L849,1126L848,1126L847,1126L846,1126L845,1126L844,1126L843,1126L842,1126L841,1126L840,1126L839,1126L838,1126L837,1126L836,1126L835,1126L834,1126L833,1126L832,1126L831,1126L830,1126L829,1126L828,1126L827,1126L826,1126L825,1126L824,1126L823,1126L822,1126L821,1126L820,1126L819,1126L818,1126L817,1126L816,1126L815,1126L814,1126L813,1126L812,1126L811,1126L810,1126L809,1126L808,1126L807,1126L806,1126L805,1126L804,1126L803,1126L802,1126L801,1126L800,1126L799,1126L798,1126L797,1126L796,1126L795,1126L794,1126L793,1126L792,1126L791,1126L790,1126L789,1126L788,1126L787,1126L786,1126L785,1126L784,1126L783,1126L782,1126L781,1126L780,1126L779,1126L778,1126L777,1126L776,1126L775,1126L774,1126L773,1126L772,1126L771,1126L770,1126L769,1126L768,1126L767,1126L766,1126L765,1126L764,1126L763,1126L762,1126L761,1126L760,1126L759,1126L758,1126L757,1126L756,1126L755,1126L754,1126L753,1126L752,1126L751,1126L750,1126L749,1126L748,1126L747,1126L746,1126L745,1126L744,1126L743,1126L742,1126L741,1126L740,1126L739,1126L738,1126L737,1126L736,1126L735,1126L734,1126L733,1126L732,1126L731,1126L730,1126L729,1126L728,1126L727,1126L726,1126L725,1126L724,1126L723,1126L722,1126L721,1126L720,1126L719,1126L718,1126L717,1126L716,1126L715,1126L714,1126L713,1126L712,1126L711,1126L710,1126L709,1126L708,1126L707,1126L706,1126L705,1126L704,1126L703,1126L702,1126L701,1126L700,1126L699,1126L698,1126L697,1126L696,1126L695,1126L694,1126L693,1126L692,1126L691,1126L690,1126L689,1126L688,1126L687,1126L686,1126L685,1126L684,1126L683,1126L682,1126L681,1126L680,1126L679,1126L678,1126L677,1126L676,1126L675,1126L674,1126L673,1126L672,1126L671,1126L670,1126L669,1126L668,1126L667,1126L666,1126L665,1126L664,1126L663,1126L662,1126L661,1126L660,1126L659,1126L658,1126L657,1126L656,1126L655,1126L654,1126L653,1126L652,1126L651,1126L650,1126L649,1126L648,1126L647,1126L646,1126L645,1126L644,1126L643,1126L642,1126L641,1126L640,1126L639,1126L638,1126L637,1126L636,1126L635,1126L634,1126L633,1126L632,1126L631,1126L630,1126L629,1126L628,1126L627,1126L626,1126L625,1126L624,1126L623,1126L622,1126L621,1126L620,1126L619,1126L618,1126L617,1126L616,1126L615,1126L614,1126L613,1126L612,1126L611,1126L610,1126L609,1126L608,1126L607,1126L606,1126L605,1126L604,1126L603,1126L602,1126L601,1126L600,1126L599,1126L598,1126L597,1126L596,1126L595,1126L594,1126L593,1126L592,1126L591,1126L590,1126L589,1126L588,1126L587,1126L586,1126L585,1126L584,1126L583,1126L582,1126L581,1126L580,1126L579,1126L578,1126L577,1126L576,1126L575,1126L574,1126L573,1126L572,1126L571,1126L570,1126L569,1126L568,1126L567,1126L566,1126L565,1126L564,1126L563,1126L562,1126L561,1126L560,1126L559,1126L558,1126L557,1126L556,1126L555,1126L554,1126L553,1126L552,1126L551,1126L550,1126L549,1126L548,1126L547,1126L546,1126L545,1126L544,1126L543,1126L542,1126L541,1126L540,1126L539,1126L538,1126L537,1126L536,1126L535,1126L534,1126L533,1126L532,1126L531,1126L530,1126L529,1126L528,1126L527,1126L526,1126L525,1126L524,1126L523,1126L522,1126L521,1126L520,1126L519,1126L518,1126L517,1126L516,1126L515,1126L514,1126L513,1126L512,1126L511,1126L510,1126L509,1126L508,1126L507,1126L506,1126L505,1126L504,1126L503,1126L502,1126L501,1126L500,1126L499,1126L498,1126L497,1126L496,1126L495,1126L494,1126L493,1126L492,1126L491,1126L490,1126L489,1126L488,1126L487,1126L486,1126L485,1126L484,1126L483,1126L482,1126L481,1126L480,1126L479,1126L478,1126L477,1126L476,1126L475,1126L474,1126L473,1126L472,1126L471,1126L470,1126L469,1126L468,1126L467,1126L466,1126L465,1126L464,1126L463,1126L462,1126L461,1126L460,1126L459,1126L458,1126L457,1126L456,1126L455,1126L454,1126L453,1126L452,1126L451,1126L450,1126L449,1126L448,1126L447,1126L446,1126L445,1126L444,1126L443,1126L442,1126L441,1126L440,1126L439,1126L438,1126L437,1126L436,1126L435,1126L434,1126L433,1126L432,1126L431,1126L430,1126L429,1126L428,1126L427,1126L426,1126L425,1126L424,1126L423,1126L422,1126L421,1126L420,1126L419,1126L418,1126L417,1126L416,1126L415,1126L414,1126L413,1126L412,1126L411,1126L410,1126L409,1126L408,1126L407,1126L406,1126L405,1126L404,1126L403,1126L402,1126L401,1126L400,1126L399,1126L398,1126L397,1126L396,1126L395,1126L394,1126L393,1126L392,1126L391,1126L390,1126L389,1126L388,1126L387,1126L386,1126L385,1126L384,1126L383,1126L382,1126L381,1126L380,1126L379,1126L378,1126L377,1126L376,1126L375,1126L374,1126L373,1126L372,1126L371,1126L370,1126L369,1126L368,1126L367,1126L366,1126L365,1126L364,1126L363,1126L362,1126L361,1126L360,1126L359,1126L358,1126L357,1126L356,1126L355,1126L354,1126L353,1126L352,1126L351,1126L350,1126L349,1126L348,1126L347,1126L346,1126L345,1126L344,1126L343,1126L342,1126L341,1126L340,1126L339,1126L338,1126L337,1126L336,1126L335,1126L334,1126L333,1126L332,1126L331,1126L330,1126L329,1126L328,1126L327,1126L326,1126L325,1126L324,1126L323,1126L322,1126L321,1126L320,1126L319,1126L318,1126L317,1126L316,1126L315,1126L314,1126L313,1126L312,1126L311,1126L310,1126L309,1126L308,1126L307,1126L306,1126L305,1126L304,1126L303,1126L302,1126L301,1126L300,1126L299,1126L298,1126L297,1126L296,1126L295,1126L294,1126L293,1126L292,1126L291,1126L290,1126L289,1126L288,1126L287,1126L286,1126L285,1126L284,1126L283,1126L282,1126L281,1126L280,1126L279,1126L278,1126L277,1126L276,1126L275,1126L274,1126L273,1126L272,1126L271,1126L270,1126L269,1126L268,1126L267,1126L266,1126L265,1126L264,1126L263,1126L262,1126L261,1126L260,1126L259,1126L258,1126L257,1126L256,1126L255,1126L254,1126L253,1126L252,1126L251,1126L250,1126L249,1126L248,1126L247,1126L246,1126L245,1126L244,1126L243,1126L242,1126L241,1126L240,1126L239,1126L238,1126L237,1126L236,1126L235,1126L234,1126L233,1126L232,1126L231,1126L230,1126L229,1126L228,1126L227,1126L226,1126L225,1126L224,1126L223,1126L222,1126L221,1126L220,1126L219,1126L218,1126L217,1126L216,1126L215,1126L214,1126L213,1126L212,1126L211,1126L210,1126L209,1126L208,1126L207,1126L206,1126L205,1126L204,1126L203,1126L202,1126L201,1126L200,1126L199,1126L198,1126L197,1126L196,1126L195,1126L194,1126L193,1126L192,1126L191,1126L190,1126L189,1126L188,1126L187,1126L186,1126L185,1126L184,1126L183,1126Z" fill="#e3173e"/>
<path d="M183,1126L184,1126L185,1126L186,1126L187,1126L188,1126L189,1126L190,1126L191,1126L192,1126L193,1126L194,1126L195,1126L196,1126L197,1126L198,1126L199,1126L200,1126L201,1126L202,1126L203,1126L204,1126L205,1126L206,1126L207,1126L208,1126L209,1126L210,1126L211,1126L212,1126L213,1126L214,1126L215,1126L216,1126L217,1126L218,1126L219,1126L220,1126L221,1126L222,1126L223,1126L224,1126L225,1126L226,1126L227,1126L228,1126L229,1126L230,1126L231,1126L232,1126L233,1126L234,1126L235,1126L236,1126L237,1126L238,1126L239,1126L240,1126L241,1126L242,1126L243,1126L244,1126L245,1126L246,1126L247,1126L248,1126L249,1126L250,1126L251,1126L252,1126L253,1126L254,1126L255,1126L256,1126L257,1126L258,1126L259,1126L260,1126L261,1126L262,1126L263,1126L264,1126L265,1126L266,1126L267,1126L268,1126L269,1126L270,1126L271,1126L272,1126L273,1126L274,1126L275,1126L276,1126L277,1126L278,1126L279,1126L280,1126L281,1126L282,1126L283,1126L284,1126L285,1126L286,1126L287,1126L288,1126L289,1126L290,1126L291,1126L292,1126L293,1126L294,1126L295,1126L296,1126L297,1126L298,1126L299,1126L300,1126L301,1126L302,1126L303,1126L304,1126L305,1126L306,1126L307,1126L308,1126L309,1126L310,1126L311,1126L312,1126L313,1126L314,1126L315,1126L316,1126L317,1126L318,1126L319,1126L320,1126L321,1126L322,1126L323,1126L324,1126L325,1126L326,1126L327,1126L328,1126L329,1126L330,1126L331,1126L332,1126L333,1126L334,1126L335,1126L336,1126L337,1126L338,1126L339,1126L340,1126L341,1126L342,1126L343,1126L344,1126L345,1126L346,1126L347,1126L348,1126L349,1126L350,1126L351,1126L352,1126L353,1126L354,1126L355,1126L356,1126L357,1126L358,1126L359,1126L360,1126L361,1126L362,1126L363,1126L364,1126L365,1126L366,1126L367,1126L368,1126L369,1126L370,1126L371,1126L372,1126L373,1126L374,1126L375,1126L376,1126L377,1126L378,1126L379,1126L380,1126L381,1126L382,1126L383,1126L384,1126L385,1126L386,1126L387,1126L388,1126L389,1126L390,1126L391,1126L392,1126L393,1126L394,1126L395,1126L396,1126L397,1126L398,1126L399,1126L400,1126L401,1126L402,1126L403,1126L404,1126L405,1126L406,1126L407,1126L408,1126L409,1126L410,1126L411,1126L412,1126L413,1126L414,1126L415,1126L416,1126L417,1126L418,1126L419,1126L420,1126L421,1126L422,1126L423,1126L424,1126L425,1126L426,1126L427,1126L428,1126L429,1126L430,1126L431,1126L432,1126L433,1126L434,1126L435,1126L436,1126L437,1126L438,1126L439,1126L440,1126L441,1126L442,1126L443,1126L444,1126L445,1126L446,1126L447,1126L448,1126L449,1126L450,1126L451,1126L452,1126L453,1126L454,1126L455,1126L456,1126L457,1126L458,1126L459,1126L460,1126L461,1126L462,1126L463,1126L464,1126L465,1126L466,1126L467,1126L468,1126L469,1126L470,1126L471,1126L472,1126L473,1126L474,1126L475,1126L476,1126L477,1126L478,1126L479,1126L480,1126L481,1126L482,1126L483,1126L484,1126L485,1126L486,1126L487,1126L488,1126L489,1126L490,1126L491,1126L492,1126L493,1126L494,1126L495,1126L496,1126L497,1126L498,1126L499,1126L500,1126L501,1126L502,1126L503,1126L504,1126L505,1126L506,1126L507,1126L508,1126L509,1126L510,1126L511,1126L512,1126L513,1126L514,1126L515,1126L516,1126L517,1126L518,1126L519,1126L520,1126L521,1126L522,1126L523,1126L524,1126L525,1126L526,1126L527,1126L528,1126L529,1126L530,1126L531,1126L532,1126L533,1126L534,1126L535,1126L536,1126L537,1126L538,1126L539,1126L540,1126L541,1126L542,1126L543,1126L544,1126L545,1126L546,1126L547,1126L548,1126L549,1126L550,1126L551,1126L552,1126L553,1126L554,1126L555,1126L556,1126L557,1126L558,1126L559,1126L560,1126L561,1126L562,1126L563,1126L564,1126L565,1126L566,1126L567,1126L568,1126L569,1126L570,1126L571,1126L572,1126L573,1126L574,1126L575,1126L576,1126L577,1126L578,1126L579,1126L580,1126L581,1126L582,1126L583,1126L584,1126L585,1126L586,1126L587,1126L588,1126L589,1126L590,1126L591,1126L592,1126L593,1126L594,1126L595,1126L596,1126L597,1126L598,1126L599,1126L600,1126L601,1126L602,1126L603,1126L604,1126L605,1126L606,1126L607,1126L608,1126L609,1126L610,1126L611,1126L612,1126L613,1126L614,1126L615,1126L616,1126L617,1126L618,1126L619,1126L620,1126L621,1126L622,1126L623,1126L624,1126L625,1126L626,1126L627,1126L628,1126L629,1126L630,1126L631,1126L632,1126L633,1126L634,1126L635,1126L636,1126L637,1126L638,1126L639,1126L640,1126L641,1126L642,1126L643,1126L644,1126L645,1126L646,1126L647,1126L648,1126L649,1126L650,1126L651,1126L652,1126L653,1126L654,1126L655,1126L656,1126L657,1126L658,1126L659,1126L660,1126L661,1126L662,1126L663,1126L664,1126L665,1126L666,1126L667,1126L668,1126L669,1126L670,1126L671,1126L672,1126L673,1126L674,1126L675,1126L676,1126L677,1126L678,1126L679,1126L680,1126L681,1126L682,1126L683,1126L684,1126L685,1126L686,1126L687,1126L688,1126L689,1126L690,1126L691,1126L692,1126L693,1126L694,1126L695,1126L696,1126L697,1126L698,1126L699,1126L700,1126L701,1126L702,1126L703,1126L704,1126L705,1126L706,1126L707,1126L708,1126L709,1126L710,1126L711,1126L712,1126L713,1126L714,1126L715,1126L716,1126L717,1126L718,1126L719,1126L720,1126L721,1126L722,1126L723,1126L724,1126L725,1126L726,1126L727,1126L728,1126L729,1126L730,1126L731,1126L732,1126L733,1126L734,1126L735,1126L736,1126L737,1126L738,1126L739,1126L740,1126L741,1126L742,1126L743,1126L744,1126L745,1126L746,1126L747,1126L748,1126L749,1126L750,1126L751,1126L752,1126L753,1126L754,1126L755,1126L756,1126L757,1126L758,1126L759,1126L760,1126L761,1126L762,1126L763,1126L764,1126L765,1126L766,1126L767,1126L768,1126L769,1126L770,1126L771,1126L772,1126L773,1126L774,1126L775,1126L776,1126L777,1126L778,1126L779,1126L780,1126L781,1126L782,1126L783,1126L784,1126L785,1126L786,1126L787,1126L788,1126L789,1126L790,1126L791,1126L792,1126L793,1126L794,1126L795,1126L796,1126L797,1126L798,1126L799,1126L800,1126L801,1126L802,1126L803,1126L804,1126L805,1126L806,1126L807,1126L808,1126L809,1126L810,1126L811,1126L812,1126L813,1126L814,1126L815,1126L816,1126L817,1126L818,1126L819,1126L820,1126L821,1126L822,1126L823,1126L824,1126L825,1126L826,1126L827,1126L828,1126L829,1126L830,1126L831,1126L832,1126L833,1126L834,1126L835,1126L836,1126L837,1126L838,1126L839,1126L840,1126L841,1126L842,1126L843,1126L844,1126L845,1126L846,1126L847,1126L848,1126L849,1126L850,1126L851,1126L852,1126L853,1126L854,1126L855,1126L856,1126L857,1126L858,1126L859,1126L860,1126L861,1126L862,1126L863,1126L864,1126L865,1126L866,1126L867,1126L868,1126L869,1126L870,1126L871,1126L872,1126L873,1126L874,1126L875,1126L876,1126L877,1126L878,1126L879,1126L880,1126L881,1126L882,1126L883,1126L884,1126L885,1126L886,1126L887,1126L888,1126L889,1126L890,1126L891,1126L892,1126L893,1126L894,1126L895,1126L896,1126L897,1126L898,1126L899,1126L900,1126L901,1126L902,1126L903,1126L904,1126L905,1126L906,1126L907,1126L908,1126L909,1126L910,1126L911,1126L912,1126L913,1126L914,1126L915,1126L916,1126L917,1126L918,1126L919,1126L920,1126L921,1126L922,1126L923,1126L924,1126L925,1126L926,1126L927,1126L928,1126L929,1126L930,1126L931,1126L932,1126L933,1126L934,1126L935,1126L936,1126L937,1126L938,1126L939,1126L940,1126L941,1126L942,1126L943,1126L944,1126L945,1126L946,1126L947,1126L948,1126L949,1126L950,1126L951,1126L952,1126L953,1126L954,1126L955,1126L956,1126L957,1126L958,1126L959,1126L960,1126L961,1126L962,1126L963,1126L964,1126L965,1126L966,1126L967,1126L968,1126L969,1126L970,1126L971,1126L972,1126L973,1126L974,1126L975,1126L976,1126L977,1126L978,1126L979,1126L979,1149.8L978,1150.8L977,1153.3L976,1155.6L975,1156.4L974,1154.9L973,1158.2L972,1157.2L971,1157.9L970,1158.9L969,1158.9L968,1158.3L967,1157.5L966,1158.1L965,1158.3L964,1157.7L963,1155.2L962,1157.4L961,1158L960,1157L959,1147.7L958,1137.2L957,1137.5L956,1135.3L955,1137L954,1136.9L953,1138.6L952,1136.7L951,1136.8L950,1138.5L949,1138.6L948,1138.9L947,1137.8L946,1139.3L945,1137.9L944,1137.5L943,1139L942,1139L941,1140.4L940,1139.7L939,1139L938,1138.1L937,1138.6L936,1139L935,1138.3L934,1138.7L933,1138.3L932,1140L931,1140.2L930,1139.7L929,1137L928,1138L927,1139.4L926,1141L925,1140.3L924,1138.6L923,1135.8L922,1136.7L921,1137.9L920,1137.1L919,1137.5L918,1136.9L917,1137.4L916,1138.6L915,1136.9L914,1137.7L913,1137.6L912,1138.7L911,1137.9L910,1137.8L909,1137.7L908,1138.5L907,1137.1L906,1137.3L905,1137.6L904,1137.4L903,1137.5L902,1138.2L901,1138.3L900,1139.6L899,1140L898,1139.3L897,1140.1L896,1139.1L895,1137.8L894,1137.5L893,1138.3L892,1137.6L891,1137L890,1138.3L889,1139.5L888,1139.2L887,1138.9L886,1138.7L885,1138.5L884,1138.5L883,1139.1L882,1137.5L881,1136.3L880,1135.1L879,1136.1L878,1137L877,1139L876,1138.9L875,1138.4L874,1138.8L873,1137.2L872,1136L871,1136.3L870,1136.9L869,1137.6L868,1137.9L867,1138.9L866,1138.3L865,1138.5L864,1139.6L863,1140.8L862,1140.5L861,1139.7L860,1141.5L859,1141.7L858,1143.5L857,1145L856,1146.6L855,1143.4L854,1143.8L853,1144.3L852,1145.8L851,1144.3L850,1146.1L849,1145L848,1145.9L847,1146.2L846,1146.7L845,1146.1L844,1144L843,1143.6L842,1143.9L841,1144.8L840,1144.3L839,1142.9L838,1142.6L837,1141.8L836,1143.3L835,1144.5L834,1143.7L833,1144L832,1144.1L831,1144.1L830,1142.8L829,1142.9L828,1142L827,1144.9L826,1143.9L825,1144.3L824,1142.4L823,1143L822,1140.3L821,1139.4L820,1136.7L819,1138L818,1137.3L817,1138L816,1137.3L815,1138.6L814,1137.4L813,1137.6L812,1137.5L811,1137.7L810,1137.9L809,1137.7L808,1137.4L807,1138.1L806,1139.7L805,1138.6L804,1138.4L803,1137.4L802,1138.2L801,1139.6L800,1140.7L799,1139.9L798,1138.5L797,1138.1L796,1136.9L795,1136.7L794,1137.1L793,1138.4L792,1138.2L791,1140.5L790,1140.6L789,1140.4L788,1139L787,1139.8L786,1139.3L785,1139.1L784,1139.4L783,1138.9L782,1138.4L781,1137.6L780,1138.5L779,1139.6L778,1137.9L777,1137.6L776,1136.5L775,1136.5L774,1138.3L773,1138.6L772,1138.4L771,1138.9L770,1137.6L769,1139L768,1137.9L767,1138.7L766,1137.5L765,1139.6L764,1138.1L763,1137.4L762,1138.6L761,1138.2L760,1137.2L759,1138.2L758,1136.8L757,1136.9L756,1136.3L755,1137.9L754,1136.5L753,1136.8L752,1136.9L751,1137.6L750,1137.7L749,1138.5L748,1138.1L747,1138.5L746,1137.3L745,1138.1L744,1137.3L743,1137.1L742,1136.7L741,1136.4L740,1135.5L739,1136L738,1136.3L737,1137.4L736,1136.9L735,1137.5L734,1137.9L733,1137.5L732,1137.1L731,1137.5L730,1139L729,1137.8L728,1136.8L727,1137.1L726,1137.8L725,1136.4L724,1136.8L723,1136.8L722,1136.8L721,1136.8L720,1137.6L719,1137.3L718,1137.8L717,1138L716,1137.4L715,1138.5L714,1138.2L713,1139.4L712,1138.5L711,1139.2L710,1137L709,1136.5L708,1135.5L707,1136.3L706,1136.8L705,1135.3L704,1136L703,1138.2L702,1138.6L701,1138.1L700,1136.9L699,1138L698,1138.1L697,1138.2L696,1138.6L695,1137.8L694,1137.6L693,1137.1L692,1137L691,1137.6L690,1136.2L689,1137.6L688,1137.2L687,1137.5L686,1135.4L685,1136.5L684,1137.8L683,1139.4L682,1139.3L681,1138.7L680,1138.8L679,1136.7L678,1136.8L677,1135.7L676,1136.7L675,1135.5L674,1136.8L673,1138.5L672,1139.5L671,1140.5L670,1138.1L669,1138.2L668,1138.4L667,1139.2L666,1139.7L665,1137.8L664,1139.6L663,1139.2L662,1138.1L661,1135.8L660,1136.9L659,1137.5L658,1138.7L657,1139L656,1138.6L655,1140.9L654,1140L653,1140.3L652,1138.5L651,1139.5L650,1138.8L649,1139.6L648,1140.1L647,1139.2L646,1138.6L645,1137.4L644,1137.2L643,1137.4L642,1138.5L641,1138.4L640,1138.5L639,1139.2L638,1139.3L637,1139.1L636,1140.3L635,1140.3L634,1138.8L633,1140.3L632,1138.9L631,1138.2L630,1136.6L629,1139.8L628,1139.9L627,1140.6L626,1140.5L625,1140.3L624,1139.9L623,1137.9L622,1137.8L621,1137.3L620,1139.2L619,1137.7L618,1138.2L617,1137.3L616,1137.7L615,1139L614,1139.5L613,1138.5L612,1138.7L611,1138.4L610,1139.2L609,1137.4L608,1136.9L607,1136.4L606,1138.2L605,1138.3L604,1141.2L603,1138.9L602,1140.3L601,1139.2L600,1139.6L599,1138.2L598,1138.1L597,1138.4L596,1138.2L595,1138.7L594,1138.3L593,1138L592,1137.2L591,1139.5L590,1139.7L589,1139.4L588,1138.5L587,1139.5L586,1140.7L585,1138.8L584,1138.4L583,1138.6L582,1138.1L581,1139.4L580,1138L579,1138.1L578,1138.6L577,1139.5L576,1139.3L575,1139.5L574,1138.6L573,1138.2L572,1135.1L571,1136.2L570,1135.8L569,1138.8L568,1136.9L567,1138.8L566,1136.3L565,1136.2L564,1135.8L563,1139.2L562,1139.9L561,1140.6L560,1138.1L559,1138.7L558,1139.3L557,1139.7L556,1139.7L555,1138.3L554,1137.7L553,1139.2L552,1138.8L551,1139.2L550,1139.4L549,1139.5L548,1137.4L547,1137.3L546,1137.6L545,1137.7L544,1138.3L543,1139L542,1138.1L541,1137.3L540,1139.3L539,1140.9L538,1139.9L537,1137.3L536,1135.5L535,1137.1L534,1137.9L533,1138.8L532,1138.1L531,1136.4L530,1137L529,1137.8L528,1139.6L527,1139.7L526,1137L525,1137.5L524,1137.7L523,1139.3L522,1142.2L521,1142.3L520,1141.6L519,1142.2L518,1142.3L517,1142.8L516,1141.7L515,1141.1L514,1141.1L513,1142.9L512,1143.4L511,1142.9L510,1141.8L509,1142L508,1142.2L507,1141.3L506,1141.9L505,1142.7L504,1144L503,1143.7L502,1143.6L501,1143.4L500,1142.1L499,1141.9L498,1143.5L497,1141.6L496,1142.1L495,1142L494,1143.6L493,1143.2L492,1143.1L491,1142.9L490,1143.1L489,1142.7L488,1141.6L487,1142.8L486,1142L485,1140L484,1136.6L483,1136.1L482,1137.8L481,1138.5L480,1139.1L479,1139.4L478,1138.4L477,1137.5L476,1137.3L475,1137.1L474,1137L473,1138.2L472,1137.3L471,1138.6L470,1140.4L469,1139L468,1139.1L467,1138.1L466,1138.8L465,1138.3L464,1138.1L463,1139L462,1137.5L461,1138.1L460,1137.8L459,1139L458,1138.5L457,1138L456,1137.2L455,1137L454,1136.8L453,1136.6L452,1137.5L451,1137.6L450,1138.8L449,1139.5L448,1139L447,1140.2L446,1138.2L445,1139.7L444,1138.8L443,1140.5L442,1140.1L441,1140.1L440,1139.9L439,1140.1L438,1140.2L437,1138.5L436,1137.5L435,1137.3L434,1136.9L433,1135.8L432,1137.2L431,1137.9L430,1138.2L429,1138.6L428,1139.8L427,1140.3L426,1139.7L425,1137.9L424,1138.4L423,1138.2L422,1138.6L421,1136.3L420,1136.1L419,1134.8L418,1136.3L417,1139.4L416,1140.6L415,1139L414,1138.4L413,1136.1L412,1137.8L411,1137.7L410,1138.2L409,1138L408,1136.1L407,1136.4L406,1138.3L405,1138.7L404,1138.7L403,1139.1L402,1140.3L401,1139.2L400,1138L399,1137.3L398,1138.5L397,1137.5L396,1139.3L395,1137.4L394,1137.6L393,1136.6L392,1138.7L391,1140.4L390,1145.9L389,1150.6L388,1154.8L387,1160.5L386,1163L385,1169.2L384,1171.8L383,1173.8L382,1175.4L381,1174.7L380,1174.5L379,1172.3L378,1171.8L377,1174L376,1172.3L375,1171.7L374,1172.5L373,1172.7L372,1171.3L371,1169L370,1166.3L369,1165.6L368,1165L367,1165.5L366,1165.4L365,1164.7L364,1163.6L363,1161.6L362,1161.6L361,1161.8L360,1159L359,1154L358,1148.7L357,1145L356,1143.6L355,1142.8L354,1140.8L353,1140.4L352,1140.6L351,1139.1L350,1138.4L349,1138L348,1137.7L347,1137.9L346,1138.3L345,1137.6L344,1137.5L343,1139.1L342,1140.5L341,1140.7L340,1139.5L339,1136.6L338,1136.6L337,1138.1L336,1139.5L335,1140.5L334,1139.6L333,1139.9L332,1138.8L331,1139.5L330,1139.9L329,1137.1L328,1137.6L327,1136.4L326,1137.8L325,1137.2L324,1134.7L323,1136.3L322,1135.9L321,1137.3L320,1135.8L319,1135.3L318,1136.2L317,1137.8L316,1137.1L315,1138.9L314,1140.2L313,1141.5L312,1141.4L311,1141.5L310,1140.8L309,1141.3L308,1140.5L307,1138.6L306,1138.8L305,1140.1L304,1142.4L303,1141.4L302,1142.2L301,1141.1L300,1142.4L299,1142.7L298,1142L297,1141.7L296,1140.3L295,1141.6L294,1142L293,1142.1L292,1141.6L291,1139.7L290,1138.3L289,1137.9L288,1138L287,1138.3L286,1138.6L285,1137.6L284,1138.8L283,1138.3L282,1137.7L281,1136.3L280,1137.1L279,1137.9L278,1139.1L277,1138.3L276,1138.1L275,1137.5L274,1136.2L273,1137.2L272,1137.5L271,1139.6L270,1138.6L269,1138.7L268,1138.5L267,1138.2L266,1138.6L265,1138.1L264,1136.8L263,1139L262,1139L261,1140.5L260,1139.2L259,1137.8L258,1138.1L257,1139.3L256,1138.4L255,1139.6L254,1139.3L253,1138.5L252,1139.2L251,1139.2L250,1137.5L249,1138.2L248,1138.1L247,1139.3L246,1139.3L245,1137.5L244,1136.9L243,1137.8L242,1138.8L241,1138.3L240,1138.4L239,1138.2L238,1138.4L237,1139.4L236,1137.7L235,1137.1L234,1137.1L233,1138.1L232,1138.7L231,1138.9L230,1138L229,1139.1L228,1138L227,1139L226,1138.2L225,1139.2L224,1139L223,1137.6L222,1138.8L221,1138.4L220,1138L219,1139.5L218,1141.4L217,1140.4L216,1140.9L215,1139.6L214,1137.4L213,1137L212,1137.6L211,1139.3L210,1139.6L209,1139.1L208,1138.2L207,1137.4L206,1137.6L205,1138.1L204,1138.6L203,1137.5L202,1137.8L201,1137.3L200,1139.4L199,1140L198,1139.8L197,1138.1L196,1138.6L195,1139.1L194,1139L193,1137.3L192,1138L191,1137.9L190,1137.4L189,1138L188,1138.4L187,1138.9L186,1139L185,1139.3L184,1139.5L183,1140.2Z" fill="#6a52cc"/>
<path d="M183,1121.4L184,1120.6L185,1119.4L186,1119.7L187,1119.3L188,1119.2L189,1116.7L190,1116.3L191,1116.3L192,1115L193,1117L194,1117.5L195,1120.2L196,1119.5L197,1118.9L198,1115.9L199,1116.9L200,1117L201,1118.9L202,1119.9L203,1118.1L204,1117.7L205,1116.4L206,1116.6L207,1119.2L208,1118.2L209,1118.7L210,1117.5L211,1116.9L212,1116.1L213,1117.4L214,1117.6L215,1116.6L216,1116.9L217,1118.2L218,1116.9L219,1117.5L220,1117.8L221,1119.3L222,1119.1L223,1119.3L224,1118.3L225,1116.1L226,1117L227,1116.5L228,1117.5L229,1118.5L230,1121.1L231,1120.5L232,1117.2L233,1118L234,1120.6L235,1118.3L236,1114.6L237,1114.6L238,1114.5L239,1117.4L240,1115.6L241,1116.1L242,1115.5L243,1113.8L244,1113.4L245,1116.6L246,1117.8L247,1118.9L248,1116.6L249,1114.9L250,1114.6L251,1115.7L252,1115.3L253,1115.1L254,1115.4L255,1114.1L256,1114.1L257,1116.1L258,1115.1L259,1115.1L260,1115.3L261,1116.2L262,1117.3L263,1116.7L264,1118.6L265,1118.9L266,1117.9L267,1115.8L268,1118.7L269,1118.9L270,1118.9L271,1118.3L272,1118.9L273,1119.1L274,1119.5L275,1116.9L276,1116.8L277,1118.7L278,1118.6L279,1119.3L280,1121.2L281,1118.4L282,1118.8L283,1119.1L284,1116.9L285,1117.3L286,1117.4L287,1119.3L288,1117.3L289,1120.2L290,1120.5L291,1118.5L292,1118.5L293,1117.9L294,1118.8L295,1119.4L296,1120.2L297,1118.9L298,1118.3L299,1118.5L300,1117.8L301,1118.6L302,1118.1L303,1119.9L304,1118.5L305,1118.5L306,1117.6L307,1117.2L308,1117.1L309,1118.5L310,1117.7L311,1118.1L312,1116.8L313,1117.4L314,1118.5L315,1120.5L316,1121L317,1119.5L318,1119.1L319,1118L320,1118.1L321,1115.6L322,1118.2L323,1119L324,1119.5L325,1120.4L326,1119.7L327,1121.3L328,1121.7L329,1118.7L330,1118.2L331,1118L332,1117.3L333,1117.1L334,1117.5L335,1118L336,1119.2L337,1122.2L338,1122.5L339,1120.9L340,1119L341,1117.4L342,1116.9L343,1118.5L344,1116.9L345,1117.4L346,1118.6L347,1119.3L348,1118.3L349,1119.9L350,1121.6L351,1121.5L352,1119.6L353,1117.5L354,1115.5L355,1114.2L356,1113.9L357,1107.5L358,1106.2L359,1100.7L360,1097.1L361,1095.5L362,1095.8L363,1095.7L364,1092.1L365,1089.9L366,1089.3L367,1087.5L368,1086.1L369,1087.1L370,1086.1L371,1087.7L372,1086L373,1085.6L374,1085.4L375,1082.5L376,1084.7L377,1085.8L378,1085.4L379,1084.5L380,1084.1L381,1082.4L382,1080.1L383,1082.4L384,1085.2L385,1089.3L386,1094.7L387,1098.7L388,1100.9L389,1106L390,1111.1L391,1118.2L392,1120.6L393,1119.2L394,1121L395,1119.7L396,1120.7L397,1119L398,1119.8L399,1119.9L400,1120L401,1119.9L402,1120.2L403,1120.3L404,1119L405,1118.7L406,1118.8L407,1117.6L408,1118.9L409,1119.7L410,1120.4L411,1120L412,1118.9L413,1118.4L414,1117.3L415,1119.2L416,1120.4L417,1118.3L418,1118L419,1118.6L420,1116L421,1116.9L422,1119L423,1118L424,1118.4L425,1117.7L426,1116.3L427,1116.3L428,1116.4L429,1118.2L430,1117.3L431,1117.7L432,1120.5L433,1119.2L434,1116.8L435,1115.2L436,1117.2L437,1118.4L438,1118.3L439,1117.9L440,1116.7L441,1119.4L442,1119.3L443,1120.4L444,1118L445,1117.8L446,1116.6L447,1114.4L448,1117.9L449,1117.8L450,1119.5L451,1120.1L452,1117.4L453,1117.3L454,1117.4L455,1120.8L456,1118.4L457,1117.7L458,1118.3L459,1119.4L460,1121.2L461,1119.8L462,1120.2L463,1118.1L464,1117.4L465,1118.7L466,1118.2L467,1119.3L468,1116.7L469,1118.6L470,1118.2L471,1118.6L472,1118.7L473,1118.6L474,1118L475,1116.6L476,1116.9L477,1117.1L478,1117.6L479,1117.6L480,1120.1L481,1118.6L482,1119.2L483,1118.6L484,1118.4L485,1118.5L486,1117.9L487,1119.1L488,1117.8L489,1117.7L490,1119.7L491,1120.1L492,1121.4L493,1118.4L494,1119.1L495,1118.1L496,1120.7L497,1120.2L498,1120.1L499,1117.2L500,1118.8L501,1118.7L502,1118.9L503,1118.8L504,1116.9L505,1117.7L506,1119.2L507,1116.8L508,1115.6L509,1117.7L510,1118.2L511,1119.9L512,1120.7L513,1120.7L514,1117.7L515,1117L516,1118.7L517,1119.3L518,1118.3L519,1118L520,1117.9L521,1118.7L522,1120.1L523,1119.7L524,1119.9L525,1119.2L526,1116.1L527,1115.1L528,1114.6L529,1115.9L530,1117.2L531,1117.5L532,1118L533,1118.8L534,1119.2L535,1117.9L536,1119L537,1118.9L538,1117.7L539,1119.4L540,1119.6L541,1118L542,1119.9L543,1119.2L544,1119.5L545,1117.3L546,1119.4L547,1117.7L548,1118.4L549,1118.4L550,1118.7L551,1116.9L552,1115.5L553,1117.7L554,1120.2L555,1121.8L556,1118.5L557,1117.9L558,1118.6L559,1117.3L560,1118.1L561,1118.5L562,1119.5L563,1119.9L564,1118.3L565,1118.2L566,1119.4L567,1118.5L568,1117.1L569,1116.8L570,1115.6L571,1118.6L572,1120.5L573,1121.3L574,1119.6L575,1119.7L576,1117.2L577,1116.4L578,1117L579,1116.9L580,1116.5L581,1113.7L582,1113.3L583,1115.7L584,1118.7L585,1120.2L586,1119.1L587,1116.8L588,1116.1L589,1115.9L590,1116.5L591,1119.3L592,1118.2L593,1118.9L594,1120.2L595,1120.2L596,1120.6L597,1118.5L598,1115.8L599,1118.4L600,1119.6L601,1119.2L602,1119.3L603,1118.8L604,1118.6L605,1117.8L606,1115.8L607,1116.3L608,1118.6L609,1118.7L610,1119.3L611,1119.4L612,1118.7L613,1117.5L614,1119.4L615,1120L616,1119.3L617,1119.1L618,1117.1L619,1115.5L620,1117.2L621,1119.7L622,1121.6L623,1118L624,1115.6L625,1115.9L626,1116L627,1117.3L628,1116.1L629,1120.7L630,1119.2L631,1118.3L632,1118.2L633,1120L634,1119.1L635,1118.2L636,1118.6L637,1120.4L638,1120.4L639,1118.1L640,1119.9L641,1118.6L642,1118.9L643,1119.5L644,1118.9L645,1119.4L646,1117.8L647,1117.4L648,1116.4L649,1116.8L650,1116.5L651,1117.2L652,1118.9L653,1118.4L654,1120.4L655,1119.5L656,1120.4L657,1119.3L658,1118.2L659,1120.6L660,1120.4L661,1118.3L662,1116.5L663,1118.8L664,1117.3L665,1118.8L666,1118.4L667,1117.4L668,1114.8L669,1116.5L670,1116.8L671,1117.8L672,1117.5L673,1116.2L674,1116.2L675,1117.3L676,1119.6L677,1118.4L678,1119.2L679,1118.9L680,1118.5L681,1118.6L682,1119.1L683,1118.6L684,1115.7L685,1114.3L686,1115.3L687,1118.7L688,1120.4L689,1118.9L690,1120.5L691,1120L692,1120L693,1120.1L694,1118.6L695,1119.2L696,1120.4L697,1120.3L698,1120L699,1120.3L700,1120.2L701,1119L702,1119L703,1119.4L704,1119L705,1119.7L706,1115.8L707,1117.3L708,1116.6L709,1118.2L710,1119.4L711,1119.4L712,1120.2L713,1117.7L714,1116.9L715,1117.4L716,1119.9L717,1119.1L718,1118.6L719,1118.3L720,1118.8L721,1118.4L722,1120.6L723,1122.1L724,1121.4L725,1119.9L726,1119.3L727,1120L728,1120.8L729,1118L730,1116.6L731,1115.2L732,1115.6L733,1115.2L734,1116.2L735,1117.4L736,1119.5L737,1118.2L738,1116.4L739,1115.6L740,1115.9L741,1118.1L742,1116.4L743,1116.6L744,1119.4L745,1120.4L746,1118.6L747,1117.8L748,1116.9L749,1119.5L750,1119.8L751,1119.7L752,1117.7L753,1115.8L754,1117.7L755,1118L756,1120.6L757,1117.8L758,1118.5L759,1120L760,1120L761,1119.6L762,1120L763,1119.5L764,1119.1L765,1120L766,1119.7L767,1118.6L768,1121.5L769,1118.4L770,1118.2L771,1116.7L772,1116.6L773,1117.5L774,1117.4L775,1118.5L776,1118.6L777,1119L778,1119.6L779,1120.6L780,1119.8L781,1122L782,1119L783,1120.9L784,1120.6L785,1121.1L786,1119.7L787,1119.2L788,1118L789,1118.4L790,1118.5L791,1120.3L792,1118.1L793,1118.7L794,1119.6L795,1120.6L796,1120.9L797,1119.5L798,1120L799,1118.7L800,1119.8L801,1119.4L802,1119.1L803,1118.1L804,1116.4L805,1117.2L806,1116.8L807,1118.6L808,1120.3L809,1122.1L810,1119.5L811,1118.7L812,1118.9L813,1119.7L814,1118.2L815,1118.1L816,1117.6L817,1117.1L818,1117.8L819,1120.6L820,1121.2L821,1116.8L822,1113.9L823,1116L824,1115.3L825,1110.6L826,1108.1L827,1108.8L828,1110.3L829,1113.3L830,1112.7L831,1112.1L832,1111.1L833,1111.2L834,1112.2L835,1110.7L836,1111.8L837,1112.9L838,1112.8L839,1111.4L840,1112.6L841,1111.9L842,1112.7L843,1112.4L844,1110.3L845,1111.8L846,1112.2L847,1111.6L848,1110.6L849,1111.5L850,1111.6L851,1113.3L852,1113.1L853,1112.3L854,1110.9L855,1109.9L856,1110.5L857,1111.3L858,1113.7L859,1116L860,1117L861,1116.2L862,1117.4L863,1119.2L864,1121.9L865,1119.4L866,1119.3L867,1119.3L868,1118.5L869,1119.6L870,1119.3L871,1120.6L872,1117.6L873,1118.6L874,1119L875,1119.5L876,1118.7L877,1118.2L878,1118.2L879,1118.5L880,1117.9L881,1118.8L882,1120.3L883,1119.2L884,1117.9L885,1118.1L886,1119.1L887,1118.4L888,1117.3L889,1117.6L890,1118.6L891,1117.9L892,1119.3L893,1119.5L894,1119.4L895,1118.9L896,1121.4L897,1121.4L898,1118.4L899,1116.8L900,1118.3L901,1117.6L902,1119.4L903,1118.8L904,1118.7L905,1118.1L906,1120.2L907,1119.6L908,1118.8L909,1117.5L910,1117.8L911,1117.6L912,1118.2L913,1118.3L914,1118.4L915,1121.8L916,1119.8L917,1120.4L918,1120.5L919,1119.5L920,1117.2L921,1117.2L922,1118.1L923,1117.4L924,1118L925,1116.1L926,1115.7L927,1116.1L928,1117.9L929,1119.4L930,1117.8L931,1119.4L932,1119.2L933,1117.7L934,1116.2L935,1117.2L936,1119.2L937,1118.7L938,1119.6L939,1118.7L940,1117.2L941,1119.4L942,1119.8L943,1118.9L944,1119.7L945,1119L946,1120.7L947,1119L948,1118.7L949,1118.5L950,1116.1L951,1116.1L952,1117.1L953,1117.6L954,1117.9L955,1117.4L956,1118.5L957,1119.4L958,1120.5L959,1106.9L960,1095.6L961,1094.1L962,1093.8L963,1094.6L964,1094.4L965,1094.7L966,1091.4L967,1092.7L968,1094L969,1092.8L970,1091.6L971,1090.1L972,1093.4L973,1093.7L974,1091.4L975,1093L976,1094.3L976,1151.9L975,1151.6L974,1149.1L973,1153.9L972,1152.9L971,1152.5L970,1154.2L969,1154.5L968,1152.9L967,1152.8L966,1154.2L965,1154.5L964,1153.8L963,1149.3L962,1150.9L961,1152.3L960,1151.4L959,1142.7L958,1132L957,1131.9L956,1130.2L955,1133.2L954,1132.3L953,1132.3L952,1131.8L951,1132.3L950,1133.1L949,1133.2L948,1133.3L947,1131L946,1133.3L945,1132.9L944,1133.1L943,1134.4L942,1133.7L941,1135.8L940,1135.8L939,1135L938,1133.5L937,1134.1L936,1133.7L935,1132.2L934,1133.2L933,1133.2L932,1134.5L931,1135.6L930,1136.1L929,1132.6L928,1133.5L927,1134.8L926,1136.5L925,1136.6L924,1133.7L923,1129.6L922,1131.6L921,1133.1L920,1132.9L919,1133.2L918,1131.9L917,1131.8L916,1131.7L915,1131L914,1133.3L913,1134.3L912,1135.5L911,1134.1L910,1132.7L909,1132.1L908,1133.6L907,1132L906,1133.2L905,1132.6L904,1132.2L903,1133.4L902,1133.8L901,1134L900,1134.5L899,1134.8L898,1135.3L897,1135.8L896,1134.6L895,1133.9L894,1132.7L893,1132.2L892,1131.4L891,1131.6L890,1133.4L889,1134.4L888,1134.1L887,1134.3L886,1133.8L885,1133.5L884,1134.1L883,1135.6L882,1133.7L881,1131.9L880,1130.1L879,1130.4L878,1132.5L877,1134.5L876,1134.3L875,1133.6L874,1133.5L873,1133.3L872,1131L871,1130.6L870,1132.6L869,1133L868,1132.2L867,1132.7L866,1133.2L865,1133.5L864,1134.4L863,1135.8L862,1136.6L861,1135.5L860,1134.9L859,1134.3L858,1137.4L857,1140.2L856,1141L855,1137.4L854,1138.2L853,1138.4L852,1141L851,1139.9L850,1141.1L849,1140.3L848,1141.3L847,1141.6L846,1142.4L845,1141.1L844,1138.6L843,1139.8L842,1139.1L841,1139.1L840,1140.2L839,1138.9L838,1138.4L837,1138.1L836,1138.2L835,1138.1L834,1138.3L833,1139.3L832,1138.9L831,1138.8L830,1137.3L829,1137.4L828,1137.7L827,1141.2L826,1138.8L825,1138.4L824,1136.4L823,1136.4L822,1135.4L821,1136.2L820,1132.3L819,1133.5L818,1132.4L817,1132.9L816,1132.4L815,1133.4L814,1132.3L813,1132.1L812,1132L811,1132.8L810,1133.4L809,1132.9L808,1132.3L807,1133.8L806,1135L805,1133.7L804,1133.6L803,1133L802,1134.5L801,1135.2L800,1137.2L799,1135.5L798,1133.7L797,1133.3L796,1132.2L795,1133.1L794,1131.5L793,1131.5L792,1132.1L791,1135.2L790,1135.5L789,1134.6L788,1133.4L787,1135.4L786,1134.9L785,1133.7L784,1133.4L783,1133L782,1133.7L781,1133.1L780,1133.6L779,1134.6L778,1132.8L777,1132.8L776,1132L775,1133.3L774,1134.5L773,1133.9L772,1133.7L771,1134.1L770,1133.2L769,1134.5L768,1132.9L767,1133L766,1131.6L765,1134.8L764,1134.5L763,1133.2L762,1133.5L761,1134.1L760,1133.6L759,1134.3L758,1133L757,1132.9L756,1131.5L755,1132.2L754,1130L753,1131.8L752,1133.3L751,1134.3L750,1132.7L749,1133L748,1133.3L747,1132.2L746,1131.1L745,1132L744,1132.8L743,1133.4L742,1132.5L741,1131.6L740,1130.8L739,1131.6L738,1131.6L737,1133.1L736,1131.8L735,1131.4L734,1133.1L733,1133.2L732,1131.7L731,1131.7L730,1133.5L729,1133.3L728,1132.7L727,1132.3L726,1133.8L725,1132.5L724,1131.4L723,1131.4L722,1132.3L721,1133.3L720,1134L719,1133.6L718,1134.8L717,1132.8L716,1130.4L715,1133L714,1133.9L713,1134.2L712,1133.5L711,1135L710,1132.6L709,1131.7L708,1130.7L707,1131.5L706,1132.4L705,1130.5L704,1131L703,1133.8L702,1133.2L701,1132.9L700,1132.3L699,1133L698,1132.8L697,1132.8L696,1132.7L695,1132.6L694,1132.7L693,1132.2L692,1131.3L691,1132.2L690,1131.3L689,1133L688,1133.4L687,1132.4L686,1130.5L685,1132.1L684,1132.5L683,1134L682,1133.7L681,1133L680,1134.2L679,1133L678,1134L677,1132.7L676,1132.1L675,1130.8L674,1132.2L673,1134.6L672,1136.4L671,1135.7L670,1133L669,1134L668,1133.2L667,1133.2L666,1134.4L665,1134.5L664,1136.5L663,1135.3L662,1133.3L661,1130.1L660,1130.5L659,1131.8L658,1133.9L657,1133.9L656,1134.3L655,1135.7L654,1135.4L653,1137.2L652,1135.8L651,1135.4L650,1133.7L649,1136.1L648,1136.3L647,1133L646,1131.9L645,1132.4L644,1133L643,1132.7L642,1133.5L641,1134.8L640,1133.6L639,1132.9L638,1133.5L637,1133.1L636,1135.3L635,1137L634,1135.3L633,1135.2L632,1134L631,1133.5L630,1131L629,1133.1L628,1133.3L627,1134.7L626,1136.1L625,1135.4L624,1133.5L623,1132.4L622,1133.5L621,1132.2L620,1133.7L619,1132.9L618,1133.7L617,1133.4L616,1133L615,1133.6L614,1135.1L613,1134.5L612,1134.4L611,1134.2L610,1134.2L609,1132.2L608,1131.9L607,1131.4L606,1133.8L605,1134L604,1136.9L603,1133.7L602,1135.2L601,1134.8L600,1135.4L599,1133L598,1133.1L597,1134L596,1133.1L595,1132.9L594,1131.9L593,1131.8L592,1131L591,1134.1L590,1135.3L589,1134.9L588,1134.1L587,1135.4L586,1135.7L585,1133.4L584,1132.8L583,1132.9L582,1132.9L581,1135L580,1133.7L579,1133L578,1133.5L577,1134.7L576,1133.6L575,1132.7L574,1132.9L573,1133.7L572,1130.7L571,1131.7L570,1130.8L569,1134.8L568,1132.3L567,1133.5L566,1131.7L565,1130.5L564,1129.4L563,1133.5L562,1135.1L561,1136L560,1132.5L559,1133.6L558,1133.8L557,1132.9L556,1134.3L555,1134.7L554,1133.6L553,1134L552,1135L551,1135.6L550,1135.6L549,1136.1L548,1132.8L547,1132.7L546,1133.1L545,1133.2L544,1133.2L543,1133.8L542,1133.5L541,1131.4L540,1133.4L539,1135.5L538,1134.5L537,1132.8L536,1131.3L535,1132.1L534,1132.9L533,1134.5L532,1134.1L531,1130.5L530,1130.7L529,1132.8L528,1135L527,1133.6L526,1130.5L525,1132.5L524,1132L523,1132.4L522,1136.1L521,1137.5L520,1136.9L519,1138.1L518,1137.8L517,1138.2L516,1137.7L515,1136.9L514,1136.1L513,1138.6L512,1138.8L511,1137.1L510,1136.5L509,1136.6L508,1136.5L507,1135.3L506,1135.8L505,1137.5L504,1140.2L503,1139.5L502,1138.5L501,1136.9L500,1136.7L499,1138.1L498,1138.9L497,1136.6L496,1137.4L495,1137.4L494,1139.6L493,1139.5L492,1139.3L491,1138.8L490,1138.8L489,1138.8L488,1137.8L487,1138.5L486,1137.7L485,1136.1L484,1132L483,1131.5L482,1133L481,1133.9L480,1134.4L479,1134.6L478,1133.8L477,1131.8L476,1132.7L475,1132.6L474,1132.2L473,1133.9L472,1131.8L471,1132.5L470,1134.4L469,1132.7L468,1134.2L467,1133.8L466,1132.7L465,1132.2L464,1133.3L463,1133.8L462,1131.2L461,1132.7L460,1133.6L459,1133.6L458,1133.1L457,1133.4L456,1133L455,1133.6L454,1133.6L453,1133.7L452,1135L451,1134.8L450,1134.3L449,1133.5L448,1133.3L447,1135L446,1132.9L445,1134.4L444,1133.9L443,1135.7L442,1134.7L441,1135.2L440,1134.1L439,1134L438,1135L437,1133.1L436,1132.8L435,1132.4L434,1131.3L433,1130.8L432,1132.5L431,1132.7L430,1133.4L429,1133.5L428,1134.8L427,1135.3L426,1134.1L425,1133.3L424,1133.7L423,1133L422,1134L421,1131.9L420,1130.6L419,1128.6L418,1131.5L417,1135.7L416,1137.8L415,1135L414,1133.6L413,1131.8L412,1133.1L411,1132.4L410,1132.4L409,1133.1L408,1132.8L407,1133.3L406,1133.6L405,1132.5L404,1132.1L403,1132.9L402,1134.7L401,1134.9L400,1133.5L399,1131.1L398,1133.4L397,1132.7L396,1133.9L395,1132.4L394,1132.2L393,1131.8L392,1134.5L391,1136.3L390,1141.5L389,1145.3L388,1149.6L387,1156L386,1158.6L385,1163.5L384,1166.3L383,1168.8L382,1170.2L381,1170.5L380,1170L379,1166.6L378,1165.3L377,1168.8L376,1168.6L375,1168.4L374,1168.3L373,1166.9L372,1166.1L371,1164.5L370,1161.1L369,1159.4L368,1159.4L367,1160.3L366,1159.4L365,1159.5L364,1158.6L363,1156.2L362,1156.6L361,1156.7L360,1154L359,1150.2L358,1145.6L357,1141.2L356,1138.1L355,1137.5L354,1136.3L353,1135.9L352,1136.1L351,1134.7L350,1134.4L349,1133.8L348,1133L347,1132.9L346,1134.5L345,1133.5L344,1132.9L343,1134.8L342,1136L341,1135.9L340,1133.7L339,1131L338,1131.2L337,1132.4L336,1134.3L335,1136L334,1134.6L333,1134.8L332,1134.6L331,1134.8L330,1134.2L329,1131.2L328,1132.6L327,1131.6L326,1131.8L325,1131.4L324,1130.4L323,1132.9L322,1131.1L321,1130.7L320,1130.2L319,1130.1L318,1131.6L317,1133.7L316,1132.5L315,1134.1L314,1134.6L313,1135.6L312,1136.5L311,1136.7L310,1134.8L309,1136.5L308,1135.3L307,1133.6L306,1135.6L305,1136.1L304,1138.6L303,1138.4L302,1139.7L301,1137.3L300,1137.4L299,1138.5L298,1138.1L297,1136.1L296,1134.5L295,1136L294,1136.4L293,1138.2L292,1136.8L291,1133.2L290,1132.2L289,1132.5L288,1132.4L287,1133.4L286,1133.9L285,1133.2L284,1134.5L283,1133.7L282,1132.5L281,1130L280,1131.7L279,1134.4L278,1134.8L277,1132.3L276,1132.1L275,1131.5L274,1131.2L273,1132.9L272,1132.7L271,1133L270,1131L269,1132L268,1133.7L267,1134.5L266,1134L265,1133.6L264,1132.8L263,1134.1L262,1134.4L261,1136.3L260,1134.5L259,1133.8L258,1133.8L257,1134.7L256,1133.1L255,1134.2L254,1135.2L253,1133.3L252,1133.8L251,1134.6L250,1132.4L249,1132.5L248,1132.8L247,1134.3L246,1134.5L245,1133.5L244,1133L243,1134.4L242,1135.8L241,1134.1L240,1134.1L239,1133.5L238,1133.2L237,1135.1L236,1133.1L235,1132.2L234,1132.4L233,1132.9L232,1133.6L231,1134.3L230,1132.5L229,1133.5L228,1133.3L227,1134.6L226,1134.4L225,1134.7L224,1133.1L223,1132.8L222,1134.9L221,1134.2L220,1134.6L219,1135.5L218,1136.8L217,1137L216,1137L215,1135.4L214,1132.9L213,1131.7L212,1132.1L211,1133.7L210,1134.3L209,1135.3L208,1133.5L207,1131.3L206,1132.2L205,1132L204,1131.9L203,1131.7L202,1131.8L201,1132L200,1134.4L199,1134.9L198,1134.9L197,1133.2L196,1133.5L195,1134.7L194,1135.2L193,1132.4L192,1132.2L191,1132.8L190,1133L189,1133.6L188,1133L187,1133.2L186,1133.9L185,1134.2L184,1134.7L183,1135.7Z" fill="#000"/>
<rect x="146" y="1048.5" width="871.8" height="155.0" fill="none" stroke="#4d4d4d" stroke-width="2.4" stroke-linejoin="round"/>
<line x1="137" y1="1068.4" x2="146" y2="1068.4" stroke="#4d4d4d" stroke-width="2"/>
<text x="127.0" y="1077.2" font-size="35" text-anchor="end" fill="#000">1</text>
<line x1="137" y1="1126.1" x2="146" y2="1126.1" stroke="#4d4d4d" stroke-width="2"/>
<text x="127.0" y="1137.9" font-size="35" text-anchor="end" fill="#000">0</text>
<line x1="137" y1="1184.8" x2="146" y2="1184.8" stroke="#4d4d4d" stroke-width="2"/>
<text x="127.0" y="1198.6" font-size="35" text-anchor="end" fill="#000">-1</text>
<line x1="186.2" y1="1203.5" x2="186.2" y2="1211.5" stroke="#4d4d4d" stroke-width="2"/>
<line x1="296.29999999999995" y1="1203.5" x2="296.29999999999995" y2="1211.5" stroke="#4d4d4d" stroke-width="2"/>
<line x1="406.4" y1="1203.5" x2="406.4" y2="1211.5" stroke="#4d4d4d" stroke-width="2"/>
<line x1="516.5" y1="1203.5" x2="516.5" y2="1211.5" stroke="#4d4d4d" stroke-width="2"/>
<line x1="626.5999999999999" y1="1203.5" x2="626.5999999999999" y2="1211.5" stroke="#4d4d4d" stroke-width="2"/>
<line x1="736.7" y1="1203.5" x2="736.7" y2="1211.5" stroke="#4d4d4d" stroke-width="2"/>
<line x1="846.8" y1="1203.5" x2="846.8" y2="1211.5" stroke="#4d4d4d" stroke-width="2"/>
<line x1="956.8999999999999" y1="1203.5" x2="956.8999999999999" y2="1211.5" stroke="#4d4d4d" stroke-width="2"/>
<text x="155" y="1090.5" font-size="36" font-weight="bold" fill="#000">G</text>
<g transform="translate(74,1128.5) rotate(-90) scale(0.93,1)"><text text-anchor="middle" font-size="36" fill="#000">Δ<tspan font-style="italic">B</tspan><tspan font-style="italic" font-size="24" dy="7.5">x</tspan><tspan dy="-7.5"> (nT)</tspan></text></g>
<path d="M183,1301.2L184,1302L185,1303.2L186,1304.1L187,1301.2L188,1299.8L189,1300.9L190,1301.7L191,1302.5L192,1299.9L193,1301.3L194,1302.4L195,1301.4L196,1300.4L197,1300.9L198,1300.1L199,1301.3L200,1301.1L201,1302.9L202,1301.8L203,1300.8L204,1299.6L205,1302.3L206,1301.2L207,1303.6L208,1301.1L209,1302L210,1302.3L211,1304.8L212,1303.2L213,1304.2L214,1300.3L215,1303.2L216,1300.2L217,1302.5L218,1301.2L219,1303.1L220,1300.8L221,1301.7L222,1302.5L223,1301.9L224,1303.3L225,1301.6L226,1303.1L227,1301.6L228,1302.5L229,1301L230,1302.7L231,1304L232,1303.4L233,1300.9L234,1299.7L235,1302L236,1301.4L237,1302.5L238,1302.5L239,1303.1L240,1303.5L241,1303.8L242,1302.9L243,1302.9L244,1302.3L245,1302.4L246,1300.4L247,1300.7L248,1301.9L249,1301.4L250,1302.2L251,1300.9L252,1302.1L253,1301.4L254,1303.1L255,1303.3L256,1301.5L257,1300L258,1300.5L259,1301.9L260,1301.3L261,1301.5L262,1303L263,1301.6L264,1300.9L265,1300.8L266,1300.2L267,1300.3L268,1302.3L269,1302.7L270,1301.5L271,1302.2L272,1302.9L273,1301.7L274,1299.6L275,1301.4L276,1301.7L277,1300.4L278,1302.8L279,1300.1L280,1302L281,1301.9L282,1302.2L283,1303.2L284,1302.3L285,1303.5L286,1301.4L287,1301.7L288,1302L289,1302L290,1302.7L291,1300.6L292,1302L293,1302.3L294,1301.9L295,1300.5L296,1299.4L297,1301.1L298,1301.9L299,1301.2L300,1300.4L301,1301.1L302,1303.3L303,1303.7L304,1304.2L305,1302.9L306,1301.9L307,1303.9L308,1302.4L309,1304.4L310,1302.6L311,1301.4L312,1301.7L313,1301.6L314,1301.7L315,1300.7L316,1301.5L317,1301.8L318,1304.4L319,1302.1L320,1299.6L321,1300.2L322,1301.6L323,1301.6L324,1301.8L325,1302.1L326,1301.6L327,1302L328,1302.8L329,1303.7L330,1303.8L331,1303.7L332,1302L333,1301.9L334,1301.1L335,1302.8L336,1302.4L337,1303L338,1303.3L339,1301.9L340,1302.2L341,1301.5L342,1300.9L343,1302.8L344,1301.7L345,1301.4L346,1301.6L347,1302.3L348,1302.6L349,1302.2L350,1302.1L351,1302.8L352,1302.5L353,1302.1L354,1302.9L355,1298.7L356,1292.8L357,1288.6L358,1286L359,1286L360,1282.8L361,1281.3L362,1279.8L363,1280.9L364,1280.3L365,1280.6L366,1279.5L367,1280.5L368,1278.2L369,1277.6L370,1276.8L371,1278.9L372,1277.5L373,1278.3L374,1280L375,1279.9L376,1277.2L377,1276.9L378,1276.9L379,1278.9L380,1278.5L381,1279.7L382,1278.8L383,1280.6L384,1280.7L385,1282.8L386,1284.3L387,1288.6L388,1291.1L389,1292.5L390,1295.3L391,1298.9L392,1300.8L393,1301.4L394,1301.4L395,1301.9L396,1302.5L397,1302.1L398,1302.1L399,1302.1L400,1303L401,1302.9L402,1301.4L403,1302L404,1302.1L405,1302.5L406,1301.9L407,1303L408,1302.7L409,1302.1L410,1300.9L411,1302L412,1302.7L413,1303L414,1302.8L415,1303.5L416,1301L417,1303.7L418,1303L419,1301.4L420,1302.3L421,1301.8L422,1302.1L423,1300.9L424,1302.2L425,1301.6L426,1302.5L427,1302.6L428,1302.7L429,1302.6L430,1302.7L431,1300.5L432,1300.1L433,1297.7L434,1294.3L435,1293.7L436,1295.1L437,1295.4L438,1295.6L439,1296.3L440,1298L441,1297.9L442,1296.6L443,1296.3L444,1296.9L445,1295.5L446,1294.6L447,1294.9L448,1296L449,1296.7L450,1295.7L451,1295.3L452,1291.6L453,1291.8L454,1292L455,1292.4L456,1296.7L457,1295.9L458,1296.5L459,1299.1L460,1300.3L461,1301.6L462,1304.2L463,1303.6L464,1300.7L465,1301.4L466,1302.2L467,1303.4L468,1303.1L469,1303L470,1302.1L471,1302.5L472,1301.4L473,1302.2L474,1301.5L475,1301.6L476,1302L477,1303.7L478,1303.4L479,1302.4L480,1303.6L481,1302.8L482,1304L483,1304.1L484,1304L485,1304.2L486,1302.2L487,1302.5L488,1302.4L489,1302.6L490,1302.3L491,1302.2L492,1302.6L493,1303.8L494,1303.4L495,1303.4L496,1303.2L497,1302.6L498,1302L499,1303.6L500,1302.6L501,1303.5L502,1300.6L503,1300.4L504,1300.5L505,1300.5L506,1302.3L507,1302.1L508,1303.8L509,1304.4L510,1303.5L511,1302.7L512,1301.6L513,1299.4L514,1297.9L515,1295.3L516,1293.6L517,1296.8L518,1295L519,1295.7L520,1294.9L521,1296.1L522,1296.7L523,1295.5L524,1295.6L525,1296.7L526,1295.9L527,1296.5L528,1295.6L529,1294.3L530,1293.3L531,1295.2L532,1295.5L533,1295.7L534,1296L535,1297.4L536,1296.8L537,1294.9L538,1295.5L539,1294.6L540,1294.6L541,1294.2L542,1295.5L543,1297.9L544,1299.6L545,1300.5L546,1299.9L547,1301.1L548,1300.9L549,1300.1L550,1301.1L551,1300.7L552,1300.1L553,1301L554,1302.3L555,1304.4L556,1303.4L557,1304.3L558,1302.5L559,1302.4L560,1302L561,1302.1L562,1301.4L563,1301.3L564,1299.7L565,1299.9L566,1299.9L567,1300.9L568,1301.4L569,1301.1L570,1301.7L571,1301.1L572,1302.1L573,1300.7L574,1304.1L575,1301.5L576,1302.6L577,1303.3L578,1303.9L579,1303L580,1302.5L581,1300.8L582,1300.4L583,1299.8L584,1301L585,1301.9L586,1301.2L587,1301.7L588,1299.8L589,1295.4L590,1296.1L591,1294.1L592,1294.5L593,1293.2L594,1293.5L595,1295.5L596,1296.2L597,1296.6L598,1294.5L599,1293.3L600,1292.8L601,1296.9L602,1298.7L603,1299.3L604,1297.7L605,1296L606,1296.3L607,1295.5L608,1296.1L609,1296.2L610,1295.4L611,1295.4L612,1293.7L613,1295.4L614,1295.8L615,1297.5L616,1299.1L617,1299.8L618,1301.2L619,1301.4L620,1302.4L621,1304.1L622,1304.1L623,1304.1L624,1301.2L625,1303.1L626,1304L627,1302.9L628,1302.7L629,1302.6L630,1303.9L631,1302.4L632,1301.5L633,1301.5L634,1300.5L635,1301.5L636,1300.7L637,1300.2L638,1300.1L639,1300.3L640,1300.3L641,1299.7L642,1298.5L643,1298.4L644,1298.7L645,1299.9L646,1301.6L647,1301.3L648,1301.9L649,1301.7L650,1300.9L651,1302.8L652,1302L653,1302.8L654,1303.6L655,1303.5L656,1301.9L657,1301.8L658,1301.2L659,1301.3L660,1302.2L661,1301.2L662,1301.2L663,1301.1L664,1300L665,1300.5L666,1300.7L667,1299.6L668,1300.9L669,1299.7L670,1302L671,1300.8L672,1301.3L673,1302.4L674,1301.7L675,1302L676,1301L677,1302.9L678,1303.1L679,1302L680,1299.8L681,1299.7L682,1302.2L683,1302.2L684,1302.9L685,1301.9L686,1302.5L687,1302.4L688,1302.3L689,1302.4L690,1302.8L691,1302.2L692,1301.7L693,1303L694,1303.9L695,1301.4L696,1298.6L697,1296.3L698,1296.2L699,1296.5L700,1296.1L701,1296.2L702,1295.6L703,1296.6L704,1295.5L705,1296.2L706,1296.4L707,1296L708,1297.3L709,1298.4L710,1299.5L711,1298.1L712,1298.5L713,1298.2L714,1297.7L715,1297.9L716,1298.3L717,1298L718,1299.9L719,1301.2L720,1304.5L721,1302.4L722,1302.8L723,1301.1L724,1299.6L725,1299.3L726,1301.8L727,1302.9L728,1304.1L729,1302.2L730,1301.5L731,1300.5L732,1300.6L733,1300.6L734,1301.6L735,1302.7L736,1302.6L737,1302L738,1300.8L739,1302.1L740,1303.3L741,1304.7L742,1304.3L743,1303.4L744,1303.1L745,1301.8L746,1302.2L747,1302.3L748,1302.2L749,1301.6L750,1300.1L751,1301.4L752,1302.8L753,1302.7L754,1302L755,1301.6L756,1301.5L757,1301.4L758,1299.8L759,1300.5L760,1300.5L761,1299.9L762,1301.6L763,1300.1L764,1301L765,1300.9L766,1302.7L767,1302.5L768,1303L769,1304.2L770,1302.1L771,1302.2L772,1303L773,1303.4L774,1303.6L775,1302.9L776,1303.2L777,1303L778,1302L779,1301.7L780,1300.9L781,1299.8L782,1300.2L783,1300.5L784,1300.9L785,1302.6L786,1302.7L787,1301.9L788,1302.4L789,1300.7L790,1301.1L791,1300.1L792,1301.7L793,1302.9L794,1303.1L795,1301.7L796,1302.3L797,1301.8L798,1300.2L799,1299.4L800,1298.4L801,1299.6L802,1301.2L803,1302.7L804,1301L805,1301.1L806,1300.4L807,1300.6L808,1300.8L809,1301.7L810,1303.3L811,1303.1L812,1302.3L813,1300.9L814,1303L815,1302.8L816,1301.7L817,1301.6L818,1301.3L819,1302.7L820,1301L821,1300.6L822,1300.7L823,1298.5L824,1299.4L825,1300.9L826,1300.7L827,1300.4L828,1300.4L829,1300.1L830,1299.2L831,1297.7L832,1296.2L833,1297.8L834,1298.5L835,1301L836,1300.6L837,1299.6L838,1299.7L839,1297.9L840,1298.4L841,1298.2L842,1298.7L843,1298.7L844,1298.5L845,1299.3L846,1297.5L847,1298.3L848,1297.6L849,1299.2L850,1300.2L851,1301.8L852,1300.9L853,1298.3L854,1297.3L855,1297.1L856,1298.2L857,1297.9L858,1298.3L859,1298.1L860,1298.3L861,1298.8L862,1300.5L863,1298.4L864,1298.3L865,1298.6L866,1299.2L867,1300.6L868,1301.4L869,1300.1L870,1299L871,1300.3L872,1298.5L873,1300.1L874,1298.9L875,1299.7L876,1297.9L877,1297.5L878,1296.8L879,1297.8L880,1298.2L881,1299.6L882,1299.7L883,1299.6L884,1300.3L885,1300.4L886,1303.2L887,1301.3L888,1302.4L889,1302.6L890,1303L891,1301.4L892,1302.4L893,1303.2L894,1302.3L895,1301.5L896,1302L897,1300.9L898,1301.4L899,1301.8L900,1303.1L901,1304L902,1302L903,1303.2L904,1300.8L905,1301.1L906,1301.8L907,1300.4L908,1301.8L909,1302.4L910,1302.1L911,1302.9L912,1303.4L913,1303.7L914,1302.2L915,1301.1L916,1300.8L917,1300.6L918,1300.2L919,1302.1L920,1302.6L921,1301.8L922,1300.9L923,1301.5L924,1301.4L925,1301.6L926,1302.8L927,1303.9L928,1303.6L929,1302.2L930,1302.6L931,1301.9L932,1302.3L933,1302.8L934,1302.7L935,1302.4L936,1301L937,1301.6L938,1302.5L939,1299.7L940,1299.1L941,1302.3L942,1303L943,1301.6L944,1300.3L945,1302.2L946,1303.6L947,1304.7L948,1302.2L949,1302.6L950,1302.6L951,1303.3L952,1302.9L953,1302L954,1300.8L955,1301.8L956,1302.3L957,1302.7L958,1300.8L959,1295.1L960,1288.8L961,1289.9L962,1290.2L963,1289.2L964,1289.9L965,1291.2L966,1291.2L967,1288L968,1287.9L969,1286.6L970,1289L971,1290.1L972,1289.7L973,1289.6L974,1288.3L975,1289.6L976,1290.5L977,1290.9L978,1291.5L979,1292.5L979,1314.6L978,1314.6L977,1314.6L976,1314.6L975,1314.6L974,1314.6L973,1314.6L972,1314.6L971,1314.6L970,1314.6L969,1314.6L968,1314.6L967,1314.6L966,1314.6L965,1314.6L964,1314.6L963,1314.6L962,1314.6L961,1314.6L960,1314.6L959,1314.6L958,1314.6L957,1314.6L956,1314.6L955,1314.6L954,1314.6L953,1314.6L952,1314.6L951,1314.6L950,1314.6L949,1314.6L948,1314.6L947,1314.6L946,1314.6L945,1314.6L944,1314.6L943,1314.6L942,1314.6L941,1314.6L940,1314.6L939,1314.6L938,1314.6L937,1314.6L936,1314.6L935,1314.6L934,1314.6L933,1314.6L932,1314.6L931,1314.6L930,1314.6L929,1314.6L928,1314.6L927,1314.6L926,1314.6L925,1314.6L924,1314.6L923,1314.6L922,1314.6L921,1314.6L920,1314.6L919,1314.6L918,1314.6L917,1314.6L916,1314.6L915,1314.6L914,1314.6L913,1314.6L912,1314.6L911,1314.6L910,1314.6L909,1314.6L908,1314.6L907,1314.6L906,1314.6L905,1314.6L904,1314.6L903,1314.6L902,1314.6L901,1314.6L900,1314.6L899,1314.6L898,1314.6L897,1314.6L896,1314.6L895,1314.6L894,1314.6L893,1314.6L892,1314.6L891,1314.6L890,1314.6L889,1314.6L888,1314.6L887,1314.6L886,1314.6L885,1314.6L884,1314.6L883,1314.6L882,1314.6L881,1314.6L880,1314.6L879,1314.6L878,1314.6L877,1314.6L876,1314.6L875,1314.6L874,1314.6L873,1314.6L872,1314.6L871,1314.6L870,1314.6L869,1314.6L868,1314.6L867,1314.6L866,1314.6L865,1314.6L864,1314.6L863,1314.6L862,1314.6L861,1314.6L860,1314.6L859,1314.6L858,1314.6L857,1314.6L856,1314.6L855,1314.6L854,1314.6L853,1314.6L852,1314.6L851,1314.6L850,1314.6L849,1314.6L848,1314.6L847,1314.6L846,1314.6L845,1314.6L844,1314.6L843,1314.6L842,1314.6L841,1314.6L840,1314.6L839,1314.6L838,1314.6L837,1314.6L836,1314.6L835,1314.6L834,1314.6L833,1314.6L832,1314.6L831,1314.6L830,1314.6L829,1314.6L828,1314.6L827,1314.6L826,1314.6L825,1314.6L824,1314.6L823,1314.6L822,1314.6L821,1314.6L820,1314.6L819,1314.6L818,1314.6L817,1314.6L816,1314.6L815,1314.6L814,1314.6L813,1314.6L812,1314.6L811,1314.6L810,1314.6L809,1314.6L808,1314.6L807,1314.6L806,1314.6L805,1314.6L804,1314.6L803,1314.6L802,1314.6L801,1314.6L800,1314.6L799,1314.6L798,1314.6L797,1314.6L796,1314.6L795,1314.6L794,1314.6L793,1314.6L792,1314.6L791,1314.6L790,1314.6L789,1314.6L788,1314.6L787,1314.6L786,1314.6L785,1314.6L784,1314.6L783,1314.6L782,1314.6L781,1314.6L780,1314.6L779,1314.6L778,1314.6L777,1314.6L776,1314.6L775,1314.6L774,1314.6L773,1314.6L772,1314.6L771,1314.6L770,1314.6L769,1314.6L768,1314.6L767,1314.6L766,1314.6L765,1314.6L764,1314.6L763,1314.6L762,1314.6L761,1314.6L760,1314.6L759,1314.6L758,1314.6L757,1314.6L756,1314.6L755,1314.6L754,1314.6L753,1314.6L752,1314.6L751,1314.6L750,1314.6L749,1314.6L748,1314.6L747,1314.6L746,1314.6L745,1314.6L744,1314.6L743,1314.6L742,1314.6L741,1314.6L740,1314.6L739,1314.6L738,1314.6L737,1314.6L736,1314.6L735,1314.6L734,1314.6L733,1314.6L732,1314.6L731,1314.6L730,1314.6L729,1314.6L728,1314.6L727,1314.6L726,1314.6L725,1314.6L724,1314.6L723,1314.6L722,1314.6L721,1314.6L720,1314.6L719,1314.6L718,1314.6L717,1314.6L716,1314.6L715,1314.6L714,1314.6L713,1314.6L712,1314.6L711,1314.6L710,1314.6L709,1314.6L708,1314.6L707,1314.6L706,1314.6L705,1314.6L704,1314.6L703,1314.6L702,1314.6L701,1314.6L700,1314.6L699,1314.6L698,1314.6L697,1314.6L696,1314.6L695,1314.6L694,1314.6L693,1314.6L692,1314.6L691,1314.6L690,1314.6L689,1314.6L688,1314.6L687,1314.6L686,1314.6L685,1314.6L684,1314.6L683,1314.6L682,1314.6L681,1314.6L680,1314.6L679,1314.6L678,1314.6L677,1314.6L676,1314.6L675,1314.6L674,1314.6L673,1314.6L672,1314.6L671,1314.6L670,1314.6L669,1314.6L668,1314.6L667,1314.6L666,1314.6L665,1314.6L664,1314.6L663,1314.6L662,1314.6L661,1314.6L660,1314.6L659,1314.6L658,1314.6L657,1314.6L656,1314.6L655,1314.6L654,1314.6L653,1314.6L652,1314.6L651,1314.6L650,1314.6L649,1314.6L648,1314.6L647,1314.6L646,1314.6L645,1314.6L644,1314.6L643,1314.6L642,1314.6L641,1314.6L640,1314.6L639,1314.6L638,1314.6L637,1314.6L636,1314.6L635,1314.6L634,1314.6L633,1314.6L632,1314.6L631,1314.6L630,1314.6L629,1314.6L628,1314.6L627,1314.6L626,1314.6L625,1314.6L624,1314.6L623,1314.6L622,1314.6L621,1314.6L620,1314.6L619,1314.6L618,1314.6L617,1314.6L616,1314.6L615,1314.6L614,1314.6L613,1314.6L612,1314.6L611,1314.6L610,1314.6L609,1314.6L608,1314.6L607,1314.6L606,1314.6L605,1314.6L604,1314.6L603,1314.6L602,1314.6L601,1314.6L600,1314.6L599,1314.6L598,1314.6L597,1314.6L596,1314.6L595,1314.6L594,1314.6L593,1314.6L592,1314.6L591,1314.6L590,1314.6L589,1314.6L588,1314.6L587,1314.6L586,1314.6L585,1314.6L584,1314.6L583,1314.6L582,1314.6L581,1314.6L580,1314.6L579,1314.6L578,1314.6L577,1314.6L576,1314.6L575,1314.6L574,1314.6L573,1314.6L572,1314.6L571,1314.6L570,1314.6L569,1314.6L568,1314.6L567,1314.6L566,1314.6L565,1314.6L564,1314.6L563,1314.6L562,1314.6L561,1314.6L560,1314.6L559,1314.6L558,1314.6L557,1314.6L556,1314.6L555,1314.6L554,1314.6L553,1314.6L552,1314.6L551,1314.6L550,1314.6L549,1314.6L548,1314.6L547,1314.6L546,1314.6L545,1314.6L544,1314.6L543,1314.6L542,1314.6L541,1314.6L540,1314.6L539,1314.6L538,1314.6L537,1314.6L536,1314.6L535,1314.6L534,1314.6L533,1314.6L532,1314.6L531,1314.6L530,1314.6L529,1314.6L528,1314.6L527,1314.6L526,1314.6L525,1314.6L524,1314.6L523,1314.6L522,1314.6L521,1314.6L520,1314.6L519,1314.6L518,1314.6L517,1314.6L516,1314.6L515,1314.6L514,1314.6L513,1314.6L512,1314.6L511,1314.6L510,1314.6L509,1314.6L508,1314.6L507,1314.6L506,1314.6L505,1314.6L504,1314.6L503,1314.6L502,1314.6L501,1314.6L500,1314.6L499,1314.6L498,1314.6L497,1314.6L496,1314.6L495,1314.6L494,1314.6L493,1314.6L492,1314.6L491,1314.6L490,1314.6L489,1314.6L488,1314.6L487,1314.6L486,1314.6L485,1314.6L484,1314.6L483,1314.6L482,1314.6L481,1314.6L480,1314.6L479,1314.6L478,1314.6L477,1314.6L476,1314.6L475,1314.6L474,1314.6L473,1314.6L472,1314.6L471,1314.6L470,1314.6L469,1314.6L468,1314.6L467,1314.6L466,1314.6L465,1314.6L464,1314.6L463,1314.6L462,1314.6L461,1314.6L460,1314.6L459,1314.6L458,1314.6L457,1314.6L456,1314.6L455,1314.6L454,1314.6L453,1314.6L452,1314.6L451,1314.6L450,1314.6L449,1314.6L448,1314.6L447,1314.6L446,1314.6L445,1314.6L444,1314.6L443,1314.6L442,1314.6L441,1314.6L440,1314.6L439,1314.6L438,1314.6L437,1314.6L436,1314.6L435,1314.6L434,1314.6L433,1314.6L432,1314.6L431,1314.6L430,1314.6L429,1314.6L428,1314.6L427,1314.6L426,1314.6L425,1314.6L424,1314.6L423,1314.6L422,1314.6L421,1314.6L420,1314.6L419,1314.6L418,1314.6L417,1314.6L416,1314.6L415,1314.6L414,1314.6L413,1314.6L412,1314.6L411,1314.6L410,1314.6L409,1314.6L408,1314.6L407,1314.6L406,1314.6L405,1314.6L404,1314.6L403,1314.6L402,1314.6L401,1314.6L400,1314.6L399,1314.6L398,1314.6L397,1314.6L396,1314.6L395,1314.6L394,1314.6L393,1314.6L392,1314.6L391,1314.6L390,1314.6L389,1314.6L388,1314.6L387,1314.6L386,1314.6L385,1314.6L384,1314.6L383,1314.6L382,1314.6L381,1314.6L380,1314.6L379,1314.6L378,1314.6L377,1314.6L376,1314.6L375,1314.6L374,1314.6L373,1314.6L372,1314.6L371,1314.6L370,1314.6L369,1314.6L368,1314.6L367,1314.6L366,1314.6L365,1314.6L364,1314.6L363,1314.6L362,1314.6L361,1314.6L360,1314.6L359,1314.6L358,1314.6L357,1314.6L356,1314.6L355,1314.6L354,1314.6L353,1314.6L352,1314.6L351,1314.6L350,1314.6L349,1314.6L348,1314.6L347,1314.6L346,1314.6L345,1314.6L344,1314.6L343,1314.6L342,1314.6L341,1314.6L340,1314.6L339,1314.6L338,1314.6L337,1314.6L336,1314.6L335,1314.6L334,1314.6L333,1314.6L332,1314.6L331,1314.6L330,1314.6L329,1314.6L328,1314.6L327,1314.6L326,1314.6L325,1314.6L324,1314.6L323,1314.6L322,1314.6L321,1314.6L320,1314.6L319,1314.6L318,1314.6L317,1314.6L316,1314.6L315,1314.6L314,1314.6L313,1314.6L312,1314.6L311,1314.6L310,1314.6L309,1314.6L308,1314.6L307,1314.6L306,1314.6L305,1314.6L304,1314.6L303,1314.6L302,1314.6L301,1314.6L300,1314.6L299,1314.6L298,1314.6L297,1314.6L296,1314.6L295,1314.6L294,1314.6L293,1314.6L292,1314.6L291,1314.6L290,1314.6L289,1314.6L288,1314.6L287,1314.6L286,1314.6L285,1314.6L284,1314.6L283,1314.6L282,1314.6L281,1314.6L280,1314.6L279,1314.6L278,1314.6L277,1314.6L276,1314.6L275,1314.6L274,1314.6L273,1314.6L272,1314.6L271,1314.6L270,1314.6L269,1314.6L268,1314.6L267,1314.6L266,1314.6L265,1314.6L264,1314.6L263,1314.6L262,1314.6L261,1314.6L260,1314.6L259,1314.6L258,1314.6L257,1314.6L256,1314.6L255,1314.6L254,1314.6L253,1314.6L252,1314.6L251,1314.6L250,1314.6L249,1314.6L248,1314.6L247,1314.6L246,1314.6L245,1314.6L244,1314.6L243,1314.6L242,1314.6L241,1314.6L240,1314.6L239,1314.6L238,1314.6L237,1314.6L236,1314.6L235,1314.6L234,1314.6L233,1314.6L232,1314.6L231,1314.6L230,1314.6L229,1314.6L228,1314.6L227,1314.6L226,1314.6L225,1314.6L224,1314.6L223,1314.6L222,1314.6L221,1314.6L220,1314.6L219,1314.6L218,1314.6L217,1314.6L216,1314.6L215,1314.6L214,1314.6L213,1314.6L212,1314.6L211,1314.6L210,1314.6L209,1314.6L208,1314.6L207,1314.6L206,1314.6L205,1314.6L204,1314.6L203,1314.6L202,1314.6L201,1314.6L200,1314.6L199,1314.6L198,1314.6L197,1314.6L196,1314.6L195,1314.6L194,1314.6L193,1314.6L192,1314.6L191,1314.6L190,1314.6L189,1314.6L188,1314.6L187,1314.6L186,1314.6L185,1314.6L184,1314.6L183,1314.6Z" fill="#e3173e"/>
<path d="M183,1314.6L184,1314.6L185,1314.6L186,1314.6L187,1314.6L188,1314.6L189,1314.6L190,1314.6L191,1314.6L192,1314.6L193,1314.6L194,1314.6L195,1314.6L196,1314.6L197,1314.6L198,1314.6L199,1314.6L200,1314.6L201,1314.6L202,1314.6L203,1314.6L204,1314.6L205,1314.6L206,1314.6L207,1314.6L208,1314.6L209,1314.6L210,1314.6L211,1314.6L212,1314.6L213,1314.6L214,1314.6L215,1314.6L216,1314.6L217,1314.6L218,1314.6L219,1314.6L220,1314.6L221,1314.6L222,1314.6L223,1314.6L224,1314.6L225,1314.6L226,1314.6L227,1314.6L228,1314.6L229,1314.6L230,1314.6L231,1314.6L232,1314.6L233,1314.6L234,1314.6L235,1314.6L236,1314.6L237,1314.6L238,1314.6L239,1314.6L240,1314.6L241,1314.6L242,1314.6L243,1314.6L244,1314.6L245,1314.6L246,1314.6L247,1314.6L248,1314.6L249,1314.6L250,1314.6L251,1314.6L252,1314.6L253,1314.6L254,1314.6L255,1314.6L256,1314.6L257,1314.6L258,1314.6L259,1314.6L260,1314.6L261,1314.6L262,1314.6L263,1314.6L264,1314.6L265,1314.6L266,1314.6L267,1314.6L268,1314.6L269,1314.6L270,1314.6L271,1314.6L272,1314.6L273,1314.6L274,1314.6L275,1314.6L276,1314.6L277,1314.6L278,1314.6L279,1314.6L280,1314.6L281,1314.6L282,1314.6L283,1314.6L284,1314.6L285,1314.6L286,1314.6L287,1314.6L288,1314.6L289,1314.6L290,1314.6L291,1314.6L292,1314.6L293,1314.6L294,1314.6L295,1314.6L296,1314.6L297,1314.6L298,1314.6L299,1314.6L300,1314.6L301,1314.6L302,1314.6L303,1314.6L304,1314.6L305,1314.6L306,1314.6L307,1314.6L308,1314.6L309,1314.6L310,1314.6L311,1314.6L312,1314.6L313,1314.6L314,1314.6L315,1314.6L316,1314.6L317,1314.6L318,1314.6L319,1314.6L320,1314.6L321,1314.6L322,1314.6L323,1314.6L324,1314.6L325,1314.6L326,1314.6L327,1314.6L328,1314.6L329,1314.6L330,1314.6L331,1314.6L332,1314.6L333,1314.6L334,1314.6L335,1314.6L336,1314.6L337,1314.6L338,1314.6L339,1314.6L340,1314.6L341,1314.6L342,1314.6L343,1314.6L344,1314.6L345,1314.6L346,1314.6L347,1314.6L348,1314.6L349,1314.6L350,1314.6L351,1314.6L352,1314.6L353,1314.6L354,1314.6L355,1314.6L356,1314.6L357,1314.6L358,1314.6L359,1314.6L360,1314.6L361,1314.6L362,1314.6L363,1314.6L364,1314.6L365,1314.6L366,1314.6L367,1314.6L368,1314.6L369,1314.6L370,1314.6L371,1314.6L372,1314.6L373,1314.6L374,1314.6L375,1314.6L376,1314.6L377,1314.6L378,1314.6L379,1314.6L380,1314.6L381,1314.6L382,1314.6L383,1314.6L384,1314.6L385,1314.6L386,1314.6L387,1314.6L388,1314.6L389,1314.6L390,1314.6L391,1314.6L392,1314.6L393,1314.6L394,1314.6L395,1314.6L396,1314.6L397,1314.6L398,1314.6L399,1314.6L400,1314.6L401,1314.6L402,1314.6L403,1314.6L404,1314.6L405,1314.6L406,1314.6L407,1314.6L408,1314.6L409,1314.6L410,1314.6L411,1314.6L412,1314.6L413,1314.6L414,1314.6L415,1314.6L416,1314.6L417,1314.6L418,1314.6L419,1314.6L420,1314.6L421,1314.6L422,1314.6L423,1314.6L424,1314.6L425,1314.6L426,1314.6L427,1314.6L428,1314.6L429,1314.6L430,1314.6L431,1314.6L432,1314.6L433,1314.6L434,1314.6L435,1314.6L436,1314.6L437,1314.6L438,1314.6L439,1314.6L440,1314.6L441,1314.6L442,1314.6L443,1314.6L444,1314.6L445,1314.6L446,1314.6L447,1314.6L448,1314.6L449,1314.6L450,1314.6L451,1314.6L452,1314.6L453,1314.6L454,1314.6L455,1314.6L456,1314.6L457,1314.6L458,1314.6L459,1314.6L460,1314.6L461,1314.6L462,1314.6L463,1314.6L464,1314.6L465,1314.6L466,1314.6L467,1314.6L468,1314.6L469,1314.6L470,1314.6L471,1314.6L472,1314.6L473,1314.6L474,1314.6L475,1314.6L476,1314.6L477,1314.6L478,1314.6L479,1314.6L480,1314.6L481,1314.6L482,1314.6L483,1314.6L484,1314.6L485,1314.6L486,1314.6L487,1314.6L488,1314.6L489,1314.6L490,1314.6L491,1314.6L492,1314.6L493,1314.6L494,1314.6L495,1314.6L496,1314.6L497,1314.6L498,1314.6L499,1314.6L500,1314.6L501,1314.6L502,1314.6L503,1314.6L504,1314.6L505,1314.6L506,1314.6L507,1314.6L508,1314.6L509,1314.6L510,1314.6L511,1314.6L512,1314.6L513,1314.6L514,1314.6L515,1314.6L516,1314.6L517,1314.6L518,1314.6L519,1314.6L520,1314.6L521,1314.6L522,1314.6L523,1314.6L524,1314.6L525,1314.6L526,1314.6L527,1314.6L528,1314.6L529,1314.6L530,1314.6L531,1314.6L532,1314.6L533,1314.6L534,1314.6L535,1314.6L536,1314.6L537,1314.6L538,1314.6L539,1314.6L540,1314.6L541,1314.6L542,1314.6L543,1314.6L544,1314.6L545,1314.6L546,1314.6L547,1314.6L548,1314.6L549,1314.6L550,1314.6L551,1314.6L552,1314.6L553,1314.6L554,1314.6L555,1314.6L556,1314.6L557,1314.6L558,1314.6L559,1314.6L560,1314.6L561,1314.6L562,1314.6L563,1314.6L564,1314.6L565,1314.6L566,1314.6L567,1314.6L568,1314.6L569,1314.6L570,1314.6L571,1314.6L572,1314.6L573,1314.6L574,1314.6L575,1314.6L576,1314.6L577,1314.6L578,1314.6L579,1314.6L580,1314.6L581,1314.6L582,1314.6L583,1314.6L584,1314.6L585,1314.6L586,1314.6L587,1314.6L588,1314.6L589,1314.6L590,1314.6L591,1314.6L592,1314.6L593,1314.6L594,1314.6L595,1314.6L596,1314.6L597,1314.6L598,1314.6L599,1314.6L600,1314.6L601,1314.6L602,1314.6L603,1314.6L604,1314.6L605,1314.6L606,1314.6L607,1314.6L608,1314.6L609,1314.6L610,1314.6L611,1314.6L612,1314.6L613,1314.6L614,1314.6L615,1314.6L616,1314.6L617,1314.6L618,1314.6L619,1314.6L620,1314.6L621,1314.6L622,1314.6L623,1314.6L624,1314.6L625,1314.6L626,1314.6L627,1314.6L628,1314.6L629,1314.6L630,1314.6L631,1314.6L632,1314.6L633,1314.6L634,1314.6L635,1314.6L636,1314.6L637,1314.6L638,1314.6L639,1314.6L640,1314.6L641,1314.6L642,1314.6L643,1314.6L644,1314.6L645,1314.6L646,1314.6L647,1314.6L648,1314.6L649,1314.6L650,1314.6L651,1314.6L652,1314.6L653,1314.6L654,1314.6L655,1314.6L656,1314.6L657,1314.6L658,1314.6L659,1314.6L660,1314.6L661,1314.6L662,1314.6L663,1314.6L664,1314.6L665,1314.6L666,1314.6L667,1314.6L668,1314.6L669,1314.6L670,1314.6L671,1314.6L672,1314.6L673,1314.6L674,1314.6L675,1314.6L676,1314.6L677,1314.6L678,1314.6L679,1314.6L680,1314.6L681,1314.6L682,1314.6L683,1314.6L684,1314.6L685,1314.6L686,1314.6L687,1314.6L688,1314.6L689,1314.6L690,1314.6L691,1314.6L692,1314.6L693,1314.6L694,1314.6L695,1314.6L696,1314.6L697,1314.6L698,1314.6L699,1314.6L700,1314.6L701,1314.6L702,1314.6L703,1314.6L704,1314.6L705,1314.6L706,1314.6L707,1314.6L708,1314.6L709,1314.6L710,1314.6L711,1314.6L712,1314.6L713,1314.6L714,1314.6L715,1314.6L716,1314.6L717,1314.6L718,1314.6L719,1314.6L720,1314.6L721,1314.6L722,1314.6L723,1314.6L724,1314.6L725,1314.6L726,1314.6L727,1314.6L728,1314.6L729,1314.6L730,1314.6L731,1314.6L732,1314.6L733,1314.6L734,1314.6L735,1314.6L736,1314.6L737,1314.6L738,1314.6L739,1314.6L740,1314.6L741,1314.6L742,1314.6L743,1314.6L744,1314.6L745,1314.6L746,1314.6L747,1314.6L748,1314.6L749,1314.6L750,1314.6L751,1314.6L752,1314.6L753,1314.6L754,1314.6L755,1314.6L756,1314.6L757,1314.6L758,1314.6L759,1314.6L760,1314.6L761,1314.6L762,1314.6L763,1314.6L764,1314.6L765,1314.6L766,1314.6L767,1314.6L768,1314.6L769,1314.6L770,1314.6L771,1314.6L772,1314.6L773,1314.6L774,1314.6L775,1314.6L776,1314.6L777,1314.6L778,1314.6L779,1314.6L780,1314.6L781,1314.6L782,1314.6L783,1314.6L784,1314.6L785,1314.6L786,1314.6L787,1314.6L788,1314.6L789,1314.6L790,1314.6L791,1314.6L792,1314.6L793,1314.6L794,1314.6L795,1314.6L796,1314.6L797,1314.6L798,1314.6L799,1314.6L800,1314.6L801,1314.6L802,1314.6L803,1314.6L804,1314.6L805,1314.6L806,1314.6L807,1314.6L808,1314.6L809,1314.6L810,1314.6L811,1314.6L812,1314.6L813,1314.6L814,1314.6L815,1314.6L816,1314.6L817,1314.6L818,1314.6L819,1314.6L820,1314.6L821,1314.6L822,1314.6L823,1314.6L824,1314.6L825,1314.6L826,1314.6L827,1314.6L828,1314.6L829,1314.6L830,1314.6L831,1314.6L832,1314.6L833,1314.6L834,1314.6L835,1314.6L836,1314.6L837,1314.6L838,1314.6L839,1314.6L840,1314.6L841,1314.6L842,1314.6L843,1314.6L844,1314.6L845,1314.6L846,1314.6L847,1314.6L848,1314.6L849,1314.6L850,1314.6L851,1314.6L852,1314.6L853,1314.6L854,1314.6L855,1314.6L856,1314.6L857,1314.6L858,1314.6L859,1314.6L860,1314.6L861,1314.6L862,1314.6L863,1314.6L864,1314.6L865,1314.6L866,1314.6L867,1314.6L868,1314.6L869,1314.6L870,1314.6L871,1314.6L872,1314.6L873,1314.6L874,1314.6L875,1314.6L876,1314.6L877,1314.6L878,1314.6L879,1314.6L880,1314.6L881,1314.6L882,1314.6L883,1314.6L884,1314.6L885,1314.6L886,1314.6L887,1314.6L888,1314.6L889,1314.6L890,1314.6L891,1314.6L892,1314.6L893,1314.6L894,1314.6L895,1314.6L896,1314.6L897,1314.6L898,1314.6L899,1314.6L900,1314.6L901,1314.6L902,1314.6L903,1314.6L904,1314.6L905,1314.6L906,1314.6L907,1314.6L908,1314.6L909,1314.6L910,1314.6L911,1314.6L912,1314.6L913,1314.6L914,1314.6L915,1314.6L916,1314.6L917,1314.6L918,1314.6L919,1314.6L920,1314.6L921,1314.6L922,1314.6L923,1314.6L924,1314.6L925,1314.6L926,1314.6L927,1314.6L928,1314.6L929,1314.6L930,1314.6L931,1314.6L932,1314.6L933,1314.6L934,1314.6L935,1314.6L936,1314.6L937,1314.6L938,1314.6L939,1314.6L940,1314.6L941,1314.6L942,1314.6L943,1314.6L944,1314.6L945,1314.6L946,1314.6L947,1314.6L948,1314.6L949,1314.6L950,1314.6L951,1314.6L952,1314.6L953,1314.6L954,1314.6L955,1314.6L956,1314.6L957,1314.6L958,1314.6L959,1314.6L960,1314.6L961,1314.6L962,1314.6L963,1314.6L964,1314.6L965,1314.6L966,1314.6L967,1314.6L968,1314.6L969,1314.6L970,1314.6L971,1314.6L972,1314.6L973,1314.6L974,1314.6L975,1314.6L976,1314.6L977,1314.6L978,1314.6L979,1314.6L979,1333.7L978,1335.1L977,1337L976,1340.8L975,1340.5L974,1339.9L973,1339.9L972,1339.4L971,1338.9L970,1338.3L969,1339L968,1338L967,1338.5L966,1338.3L965,1337.8L964,1337.3L963,1339.3L962,1340.5L961,1339.9L960,1336.8L959,1331.9L958,1325.9L957,1326.8L956,1326.5L955,1326.7L954,1326.7L953,1326.8L952,1325.6L951,1325.4L950,1326.6L949,1327.8L948,1328.2L947,1327.8L946,1327.4L945,1326.8L944,1326.1L943,1325.1L942,1326.5L941,1327.2L940,1327.7L939,1326.5L938,1326.7L937,1326.2L936,1328.3L935,1326.7L934,1327.6L933,1329.1L932,1328L931,1325.9L930,1326L929,1325.7L928,1325.4L927,1325.5L926,1325.6L925,1325.7L924,1326.1L923,1326.1L922,1325.3L921,1325.2L920,1327.4L919,1326.1L918,1326.6L917,1325.9L916,1325.4L915,1325.9L914,1325.8L913,1326L912,1326.8L911,1328.1L910,1327.5L909,1327L908,1325.3L907,1326.2L906,1327.1L905,1328.1L904,1328.2L903,1328.1L902,1326.9L901,1326L900,1325L899,1326.4L898,1327.5L897,1325.6L896,1326.7L895,1325.8L894,1328.2L893,1327.1L892,1327.6L891,1327.2L890,1326.8L889,1325.8L888,1326.4L887,1327L886,1327L885,1325.6L884,1326.7L883,1326.6L882,1328.8L881,1327.2L880,1328.4L879,1326.9L878,1329L877,1329.3L876,1327.6L875,1326.8L874,1326.9L873,1328.8L872,1330L871,1328.3L870,1328.9L869,1328.7L868,1330.3L867,1328L866,1329.1L865,1328.3L864,1328.2L863,1327.5L862,1328.1L861,1328.5L860,1327.6L859,1327.5L858,1328.4L857,1328.9L856,1326.9L855,1328.2L854,1329.2L853,1328.1L852,1327.9L851,1326.4L850,1326.1L849,1326.4L848,1327.7L847,1328.8L846,1326.8L845,1326.7L844,1327.1L843,1328.8L842,1329.2L841,1328.1L840,1326.8L839,1326.3L838,1325.7L837,1326.4L836,1326.7L835,1325.8L834,1327L833,1326.3L832,1326.5L831,1328L830,1326.6L829,1328.9L828,1329.2L827,1329.6L826,1326.7L825,1327L824,1326.3L823,1325.8L822,1327.6L821,1324.8L820,1325L819,1325.4L818,1326.7L817,1327.7L816,1326.4L815,1325.5L814,1324.2L813,1325.7L812,1327.1L811,1327.4L810,1328.4L809,1325.9L808,1326.4L807,1324.9L806,1327.6L805,1326.6L804,1327.3L803,1324.3L802,1325.7L801,1324.4L800,1325.2L799,1325.6L798,1327.8L797,1326.3L796,1326.6L795,1325.6L794,1325.5L793,1325.4L792,1324.4L791,1324.4L790,1323.7L789,1326.3L788,1327L787,1327.5L786,1326.7L785,1325.3L784,1326.5L783,1325.4L782,1327.6L781,1327.2L780,1326.5L779,1325.8L778,1325.1L777,1327.1L776,1325.6L775,1326.1L774,1325.9L773,1326.9L772,1327.6L771,1327.8L770,1326.4L769,1325.6L768,1326.3L767,1327.8L766,1327.3L765,1325.5L764,1323.6L763,1324.2L762,1325.5L761,1325.5L760,1325.3L759,1325.2L758,1324.8L757,1324.4L756,1327.3L755,1325.7L754,1327.6L753,1325.9L752,1326.5L751,1325.7L750,1327.3L749,1328.9L748,1328.1L747,1325.4L746,1324.7L745,1325.1L744,1323.5L743,1326.4L742,1325.8L741,1326.1L740,1325.7L739,1325.3L738,1327.3L737,1325.5L736,1326L735,1325.7L734,1326.6L733,1326.8L732,1326.1L731,1326.3L730,1325.8L729,1326.2L728,1325.1L727,1325.1L726,1325.3L725,1325.5L724,1326.3L723,1326.7L722,1326L721,1327.4L720,1326.1L719,1325.2L718,1326.1L717,1325.6L716,1327.5L715,1325.5L714,1325.9L713,1325.6L712,1326.8L711,1326.3L710,1327.7L709,1326.8L708,1325.7L707,1327.2L706,1325.4L705,1326.6L704,1325.2L703,1326.1L702,1327.3L701,1328.9L700,1329.2L699,1328.3L698,1327.7L697,1326.5L696,1325.4L695,1326L694,1327.1L693,1325.6L692,1326.4L691,1323.4L690,1325.7L689,1325.6L688,1326.4L687,1325.6L686,1325L685,1326.1L684,1327.1L683,1325.9L682,1323.8L681,1323.9L680,1323.7L679,1325.5L678,1326.4L677,1326.1L676,1327.1L675,1326.2L674,1328L673,1328.1L672,1327.6L671,1327.1L670,1325.4L669,1325.6L668,1325.2L667,1327.8L666,1328.6L665,1328.8L664,1328.9L663,1327.5L662,1325.1L661,1326.3L660,1326.7L659,1326.5L658,1328.3L657,1327.8L656,1326.3L655,1325.1L654,1325.4L653,1326.7L652,1327.2L651,1326.4L650,1327.4L649,1327.1L648,1328.4L647,1328.7L646,1328.4L645,1328.9L644,1328L643,1328.4L642,1326.6L641,1326.1L640,1325.5L639,1326.6L638,1325.4L637,1325.8L636,1326.2L635,1326.6L634,1328.2L633,1328.2L632,1326.7L631,1327.7L630,1325.9L629,1327.4L628,1325.2L627,1326.3L626,1326.3L625,1326.6L624,1327.7L623,1326.6L622,1326.2L621,1325.8L620,1326.6L619,1327.1L618,1326.5L617,1328.5L616,1332.1L615,1334.1L614,1333.7L613,1333L612,1332.3L611,1333.4L610,1332.7L609,1331.8L608,1333.3L607,1333.9L606,1332.4L605,1331L604,1330.7L603,1331L602,1332.9L601,1330.9L600,1332.2L599,1332.6L598,1333.6L597,1333.6L596,1334L595,1333L594,1334.6L593,1332.6L592,1333.9L591,1332.7L590,1331.1L589,1328.4L588,1327.3L587,1324.9L586,1326.4L585,1326L584,1326.4L583,1327.1L582,1327.4L581,1327.9L580,1326.7L579,1327.5L578,1326.1L577,1325.6L576,1325.6L575,1326.1L574,1325.7L573,1324L572,1323.1L571,1323.3L570,1326.4L569,1326.9L568,1327L567,1326.9L566,1328L565,1326.5L564,1325.2L563,1324.1L562,1325.3L561,1325.9L560,1326.6L559,1326.1L558,1327.2L557,1325.5L556,1327.4L555,1327.3L554,1327.6L553,1326.3L552,1327.1L551,1327L550,1326.4L549,1326.6L548,1326.5L547,1326.2L546,1325.5L545,1325.6L544,1327.3L543,1328.5L542,1327.4L541,1329.6L540,1329.6L539,1331.3L538,1332.7L537,1332.1L536,1332.7L535,1332.4L534,1331.5L533,1330.3L532,1330.1L531,1330.7L530,1331.8L529,1331.2L528,1330.9L527,1330.1L526,1328.9L525,1329.8L524,1331.2L523,1331L522,1331L521,1330.3L520,1331.7L519,1330.8L518,1331.5L517,1330.9L516,1329.6L515,1328.8L514,1327.2L513,1328.3L512,1327.3L511,1326.3L510,1324.5L509,1324.2L508,1325.2L507,1324.4L506,1324.3L505,1324.1L504,1327L503,1326L502,1326.5L501,1324.2L500,1325.8L499,1325.1L498,1326.2L497,1325.3L496,1326.8L495,1325.8L494,1325.3L493,1325.2L492,1325.3L491,1325.5L490,1325L489,1325L488,1325.6L487,1326.1L486,1327.6L485,1325.4L484,1325.4L483,1325.9L482,1326.4L481,1326.5L480,1326.5L479,1326.9L478,1325.1L477,1325.8L476,1327.6L475,1328.8L474,1326.1L473,1326.3L472,1325.9L471,1327.6L470,1326.5L469,1325.8L468,1324.9L467,1326.6L466,1326.9L465,1325.3L464,1327.5L463,1327.2L462,1328L461,1327.6L460,1327.5L459,1327.7L458,1329.6L457,1330.2L456,1332.1L455,1338.8L454,1338.7L453,1334.7L452,1333.6L451,1330L450,1331.2L449,1331.3L448,1331.4L447,1331.2L446,1331L445,1330.4L444,1330L443,1330.5L442,1330.4L441,1332.5L440,1333L439,1331.3L438,1331.1L437,1329.4L436,1330.5L435,1328.6L434,1330L433,1330.2L432,1329.1L431,1327.3L430,1326L429,1325.3L428,1323.2L427,1323.5L426,1324.2L425,1326.9L424,1327.3L423,1327.3L422,1328.1L421,1326.5L420,1325.4L419,1324.1L418,1325.2L417,1323.9L416,1324.1L415,1324.9L414,1326.7L413,1325.5L412,1325.5L411,1325.4L410,1327.1L409,1327L408,1326.5L407,1326.9L406,1324.7L405,1325.9L404,1323.6L403,1326.5L402,1326.5L401,1324.9L400,1324.6L399,1325.4L398,1328.1L397,1328.6L396,1326.6L395,1325.9L394,1325.8L393,1327.9L392,1328L391,1327.2L390,1326.8L389,1328L388,1329.6L387,1333.6L386,1337.4L385,1338.8L384,1341.2L383,1343L382,1343.8L381,1344.7L380,1345.6L379,1348.3L378,1349.9L377,1350.5L376,1348.7L375,1348.3L374,1348.4L373,1348.1L372,1347.3L371,1346.5L370,1346.9L369,1345.9L368,1345.9L367,1347.4L366,1345.6L365,1344.8L364,1343.4L363,1342.4L362,1342.8L361,1343.1L360,1342.3L359,1340.2L358,1337.4L357,1335.5L356,1333L355,1331.1L354,1326.2L353,1325.7L352,1324.2L351,1324L350,1326.2L349,1327.3L348,1328.4L347,1327.5L346,1326.5L345,1326.6L344,1325.2L343,1326.1L342,1325.7L341,1325.5L340,1324.3L339,1323.7L338,1324.4L337,1324.3L336,1326.4L335,1327.5L334,1325.1L333,1322.4L332,1321.5L331,1324.2L330,1324.9L329,1325.8L328,1326.4L327,1326.2L326,1324.9L325,1325L324,1324.7L323,1326.4L322,1326.9L321,1328.1L320,1326.6L319,1326.4L318,1325.8L317,1327.6L316,1325.5L315,1324.5L314,1324.6L313,1325.8L312,1326.8L311,1328.2L310,1327.3L309,1325.1L308,1325.8L307,1325.7L306,1326.5L305,1327.5L304,1327.9L303,1326.3L302,1326.4L301,1326.5L300,1326.8L299,1326.4L298,1327.4L297,1324.7L296,1324.6L295,1325.8L294,1326.8L293,1323.9L292,1323.8L291,1325.2L290,1326.4L289,1327.1L288,1326L287,1326.9L286,1325.7L285,1325.1L284,1325.9L283,1326.1L282,1325.7L281,1326.2L280,1326.8L279,1327.5L278,1327.5L277,1326.9L276,1326.5L275,1325.6L274,1324.7L273,1324.2L272,1323.6L271,1325L270,1326.5L269,1326.5L268,1324.5L267,1325.6L266,1325.3L265,1326L264,1327L263,1326.7L262,1327.7L261,1329.4L260,1328.3L259,1327.8L258,1325.2L257,1327.1L256,1326.7L255,1328.1L254,1326.5L253,1326.6L252,1326.4L251,1326.8L250,1326.8L249,1327.9L248,1326.8L247,1326.8L246,1324.8L245,1323.8L244,1323.5L243,1324.5L242,1326.5L241,1326.8L240,1325.2L239,1326L238,1324.3L237,1325.1L236,1324L235,1324.4L234,1324.8L233,1324.1L232,1324.4L231,1326.1L230,1326.3L229,1326L228,1325.2L227,1326.1L226,1326.3L225,1326.8L224,1326.3L223,1326.4L222,1326.1L221,1326.6L220,1327.6L219,1327.4L218,1328.6L217,1327.5L216,1329.7L215,1327.5L214,1325.7L213,1325L212,1324.9L211,1327.5L210,1327.7L209,1327.2L208,1326.2L207,1325.8L206,1326.9L205,1326.7L204,1326L203,1325.2L202,1325L201,1326.7L200,1325.7L199,1325.8L198,1326.7L197,1327.6L196,1327.5L195,1326L194,1326.4L193,1326.9L192,1328.4L191,1326.9L190,1328.6L189,1328.3L188,1327.1L187,1326.6L186,1329.7L185,1331.4L184,1328.6L183,1327.5Z" fill="#6a52cc"/>
<path d="M183,1306.6L184,1306.7L185,1308.3L186,1309L187,1306.9L188,1305.7L189,1305.6L190,1306.5L191,1308.4L192,1306.8L193,1307.8L194,1307.9L195,1307.2L196,1306.7L197,1306.3L198,1305.5L199,1307L200,1306.4L201,1308L202,1306.1L203,1304.2L204,1303.4L205,1307.1L206,1307.4L207,1310L208,1306.9L209,1307.8L210,1307L211,1309.1L212,1309L213,1310.4L214,1305.8L215,1308.5L216,1305.1L217,1307.1L218,1305.5L219,1307.7L220,1306.6L221,1306.3L222,1306.9L223,1307.7L224,1307.6L225,1305.2L226,1307.2L227,1306.2L228,1307.3L229,1305.9L230,1308.3L231,1310.1L232,1308.1L233,1304.9L234,1305.3L235,1307.4L236,1305.2L237,1306.6L238,1307.5L239,1307.5L240,1307.3L241,1306.5L242,1306.1L243,1307.2L244,1306.1L245,1306.5L246,1304.9L247,1303.7L248,1305.9L249,1306.8L250,1306.9L251,1305.9L252,1307.7L253,1305.9L254,1307.9L255,1310L256,1308.4L257,1305.8L258,1304.8L259,1306.9L260,1306L261,1306.9L262,1309.2L263,1307.3L264,1306.4L265,1305.9L266,1305.1L267,1306.4L268,1309.3L269,1308.9L270,1306.7L271,1307.3L272,1308.1L273,1306.8L274,1304.9L275,1305.4L276,1305.4L277,1304.8L278,1307.4L279,1304.4L280,1305.5L281,1305.4L282,1307.1L283,1309.1L284,1307.3L285,1308L286,1305.7L287,1305.9L288,1306.9L289,1308L290,1308.5L291,1306.1L292,1306.8L293,1306.4L294,1306.6L295,1306.2L296,1305.2L297,1306.8L298,1307.3L299,1306.1L300,1305.2L301,1306.5L302,1309.5L303,1309.4L304,1308.9L305,1307.8L306,1307.9L307,1308.6L308,1306.6L309,1309.6L310,1307L311,1305.2L312,1306.8L313,1307.2L314,1306.4L315,1305.6L316,1307.3L317,1307.9L318,1310.2L319,1307.8L320,1304.5L321,1305.9L322,1307.8L323,1305.7L324,1306.4L325,1307.5L326,1306.8L327,1307.1L328,1307.7L329,1309.8L330,1309.5L331,1309.4L332,1306.7L333,1305.6L334,1306.1L335,1307.9L336,1306.9L337,1308.1L338,1309.1L339,1307.9L340,1306.9L341,1305.5L342,1306L343,1308.6L344,1307.1L345,1306.4L346,1306.4L347,1307L348,1307.5L349,1307.8L350,1308.9L351,1309.2L352,1307.8L353,1306.9L354,1308.7L355,1304.2L356,1296.5L357,1292L358,1289.5L359,1290.6L360,1288.2L361,1287.1L362,1285.8L363,1286.3L364,1285.3L365,1286.6L366,1285L367,1284.1L368,1282.5L369,1283.1L370,1282.6L371,1284.2L372,1282.2L373,1282.8L374,1285.8L375,1285.1L376,1281.6L377,1281.1L378,1281.5L379,1284.3L380,1283.3L381,1284.6L382,1284.4L383,1285.8L384,1285.5L385,1287.7L386,1288.3L387,1292.1L388,1295L389,1296.6L390,1299.1L391,1302.1L392,1304.3L393,1305.2L394,1306.6L395,1307.6L396,1307.2L397,1307.4L398,1308.1L399,1308.3L400,1309L401,1307.8L402,1306.2L403,1306.9L404,1305.9L405,1307.2L406,1306.5L407,1307.6L408,1308.9L409,1308.4L410,1306.7L411,1307.6L412,1308.3L413,1307.6L414,1306.7L415,1307.5L416,1305L417,1308.9L418,1308.2L419,1305.5L420,1307.2L421,1307.8L422,1307L423,1305.7L424,1307.6L425,1306.2L426,1306.5L427,1307.2L428,1307.9L429,1307.2L430,1308.4L431,1306.4L432,1305.7L433,1303.3L434,1299.5L435,1298.8L436,1299.9L437,1301.1L438,1301.3L439,1301.3L440,1302.3L441,1302.6L442,1302.3L443,1302.3L444,1301.9L445,1300L446,1299.2L447,1299.3L448,1300.8L449,1302.3L450,1301.6L451,1300.9L452,1297.2L453,1297.7L454,1298.3L455,1297.9L456,1300.6L457,1300.6L458,1301.3L459,1302.7L460,1304.5L461,1307.2L462,1309.7L463,1308.6L464,1305.2L465,1305.6L466,1306.7L467,1309.6L468,1309.5L469,1308L470,1307L471,1307.2L472,1306.8L473,1308.2L474,1306.3L475,1306.2L476,1306.9L477,1308.5L478,1308.8L479,1307.4L480,1309L481,1309.1L482,1309.4L483,1309.1L484,1309.2L485,1309.6L486,1307.4L487,1307.8L488,1307.2L489,1307.1L490,1307L491,1307.4L492,1307.9L493,1308.8L494,1308.6L495,1308.2L496,1307.9L497,1307.2L498,1306.9L499,1307.3L500,1305.6L501,1307.2L502,1305.2L503,1306.2L504,1306.4L505,1305.3L506,1307.1L507,1307.8L508,1309.5L509,1309.1L510,1308.4L511,1309L512,1308.1L513,1304.4L514,1302.7L515,1299.8L516,1298.3L517,1301.7L518,1299.3L519,1300.3L520,1301.6L521,1303.3L522,1301.4L523,1300L524,1301.1L525,1301.7L526,1300.3L527,1301.8L528,1302.3L529,1301.3L530,1298.6L531,1298.8L532,1299.5L533,1300.6L534,1300.4L535,1301.7L536,1300.8L537,1299.9L538,1301L539,1299.2L540,1298.9L541,1298.9L542,1301.6L543,1304.1L544,1305L545,1304.3L546,1303.1L547,1306.3L548,1306.5L549,1305.5L550,1306.8L551,1304.9L552,1303.4L553,1305.3L554,1307L555,1309L556,1309.2L557,1310.4L558,1308.2L559,1306.9L560,1306.5L561,1306.6L562,1304.7L563,1305.5L564,1304.6L565,1304.3L566,1304.4L567,1306L568,1306.9L569,1306.6L570,1306.1L571,1305.8L572,1306.7L573,1305.7L574,1310.6L575,1307.4L576,1307.5L577,1308.8L578,1308.7L579,1307.4L580,1307.2L581,1306.2L582,1305.6L583,1304.7L584,1306.4L585,1308.3L586,1308.2L587,1307.9L588,1304.4L589,1299.3L590,1300.6L591,1298.4L592,1298.3L593,1297.8L594,1299.7L595,1301.6L596,1300.5L597,1299.7L598,1298.3L599,1298L600,1297.6L601,1303.3L602,1306.1L603,1304.2L604,1301.1L605,1300.9L606,1301.9L607,1300.7L608,1301.2L609,1300.7L610,1299.8L611,1301.1L612,1299.3L613,1300.6L614,1301.5L615,1303.7L616,1305.1L617,1304.6L618,1306L619,1306.4L620,1307.7L621,1308.4L622,1307.9L623,1309L624,1306.2L625,1308.1L626,1308.4L627,1307.1L628,1307.3L629,1307.7L630,1308.9L631,1307.4L632,1307.4L633,1307.2L634,1305.2L635,1306.4L636,1307.3L637,1306.2L638,1304.1L639,1304.4L640,1305.3L641,1304.2L642,1303.6L643,1303.8L644,1302.5L645,1303.9L646,1306.3L647,1305.9L648,1305.8L649,1305.3L650,1305.2L651,1307L652,1306.1L653,1307.6L654,1308.6L655,1308.5L656,1306L657,1305.2L658,1305.5L659,1305.9L660,1306.5L661,1306.4L662,1306.4L663,1306.1L664,1304.6L665,1303.9L666,1304.4L667,1304.9L668,1306.3L669,1305L670,1307.1L671,1304.9L672,1305.7L673,1306.4L674,1306.1L675,1307.1L676,1305.2L677,1308L678,1308.8L679,1307.8L680,1304.5L681,1303L682,1306.1L683,1308L684,1309.6L685,1307L686,1307.8L687,1307.1L688,1305.5L689,1307.6L690,1308.5L691,1306.2L692,1305.5L693,1307.8L694,1309.1L695,1305.7L696,1303.5L697,1301.9L698,1301.2L699,1301.7L700,1300L701,1300.4L702,1301.5L703,1301.5L704,1298.2L705,1299.6L706,1301.7L707,1300.6L708,1301.4L709,1303.3L710,1305.5L711,1302.9L712,1303.2L713,1303.7L714,1302.9L715,1302.5L716,1302.7L717,1302L718,1303.5L719,1306.3L720,1309.8L721,1306.6L722,1306.7L723,1305.1L724,1303.4L725,1304.4L726,1308.1L727,1307.7L728,1308.4L729,1308.5L730,1308.2L731,1305.7L732,1306.1L733,1306.9L734,1306.8L735,1307.2L736,1307L737,1306.5L738,1305.8L739,1308.2L740,1310L741,1311.1L742,1309.1L743,1308.2L744,1309L745,1307.3L746,1307.7L747,1307.2L748,1307.9L749,1307.1L750,1304.2L751,1305.3L752,1307.2L753,1308.3L754,1307.4L755,1305.8L756,1305L757,1305.2L758,1304.2L759,1304.9L760,1306.1L761,1305.8L762,1305.6L763,1303.6L764,1304.9L765,1304.6L766,1307.6L767,1307.4L768,1307.5L769,1309.6L770,1307L771,1306.6L772,1307.8L773,1308L774,1308.6L775,1307.4L776,1307.2L777,1307.2L778,1306.9L779,1307.5L780,1306.1L781,1303.8L782,1304L783,1305.7L784,1305.8L785,1307.4L786,1308.5L787,1307.1L788,1307.1L789,1306L790,1306.3L791,1306L792,1307.2L793,1308.5L794,1309.5L795,1306.3L796,1306L797,1306.3L798,1305.8L799,1304.9L800,1302.1L801,1304.4L802,1307.3L803,1308.5L804,1307.2L805,1307.2L806,1305.1L807,1305.6L808,1306.6L809,1306.4L810,1308L811,1307.6L812,1305.9L813,1305.9L814,1308.3L815,1308.3L816,1307.7L817,1306.3L818,1306.4L819,1308.2L820,1305.5L821,1305.1L822,1305.3L823,1302.7L824,1304.1L825,1304.8L826,1305.5L827,1307.6L828,1306.8L829,1304L830,1304.3L831,1304.1L832,1301.5L833,1303.3L834,1303.7L835,1305.3L836,1305.2L837,1304.3L838,1304.5L839,1303.5L840,1303.9L841,1303.5L842,1303.5L843,1303.2L844,1302.5L845,1302.6L846,1302.1L847,1302.8L848,1301.6L849,1304.8L850,1306.5L851,1307.7L852,1307L853,1304.6L854,1303L855,1302L856,1302.2L857,1303.2L858,1304.2L859,1302.8L860,1302.3L861,1303.5L862,1306.2L863,1303.3L864,1302.9L865,1304.7L866,1305.5L867,1305.9L868,1306.2L869,1304.9L870,1303.5L871,1304.6L872,1303.1L873,1304.5L874,1303.2L875,1305.1L876,1303.1L877,1301.6L878,1301L879,1303L880,1303.6L881,1305.2L882,1305.2L883,1305.3L884,1306.6L885,1306.4L886,1308.5L887,1305.8L888,1306L889,1305.6L890,1308.1L891,1307.4L892,1306.8L893,1307.9L894,1308.2L895,1306.8L896,1306.7L897,1305.3L898,1306.3L899,1308.4L900,1309.1L901,1308.7L902,1307.4L903,1308.6L904,1306L905,1305.5L906,1306.6L907,1306.5L908,1307.5L909,1306.9L910,1306.7L911,1307.8L912,1309.2L913,1309.7L914,1306.6L915,1305.8L916,1305.7L917,1305L918,1305.8L919,1307.6L920,1307.5L921,1307.8L922,1306L923,1305.9L924,1306.7L925,1306L926,1307.1L927,1308.3L928,1307.4L929,1306.3L930,1307.4L931,1307.7L932,1308.6L933,1308.6L934,1308.2L935,1307.8L936,1306.2L937,1306.3L938,1306.4L939,1304.4L940,1305.3L941,1308.1L942,1306.7L943,1304.1L944,1304.5L945,1308.2L946,1309.5L947,1309.1L948,1305.8L949,1307.2L950,1307.6L951,1308.7L952,1309L953,1307.5L954,1306.9L955,1308.2L956,1307.6L957,1307.9L958,1306.3L959,1300.9L960,1294.6L961,1295.1L962,1294.9L963,1295.2L964,1296L965,1296.6L966,1297.2L967,1293L968,1292.4L969,1290L970,1292.3L971,1295.6L972,1295.4L973,1294.7L974,1293.1L975,1294.8L976,1296.3L976,1336.3L975,1334.6L974,1334.7L973,1336.3L972,1335.9L971,1334.7L970,1333.2L969,1332.8L968,1332.9L967,1334.5L966,1333.5L965,1332.8L964,1333.4L963,1335L962,1335.6L961,1334.3L960,1330.5L959,1327.1L958,1322.2L957,1322.6L956,1321.7L955,1321.7L954,1321L953,1320.8L952,1320.2L951,1320L950,1321.4L949,1322.4L948,1322.4L947,1322.9L946,1321.5L945,1320.5L944,1319.5L943,1317.9L942,1320.6L941,1322.7L940,1323.2L939,1321.9L938,1322.2L937,1321.7L936,1324.6L935,1324.2L934,1323.5L933,1323.8L932,1323.7L931,1321.3L930,1321.1L929,1321.5L928,1320.9L927,1319.6L926,1320.1L925,1320.1L924,1319.5L923,1319.6L922,1319L921,1319.3L920,1322L919,1320.2L918,1320.5L917,1321.7L916,1322L915,1321.5L914,1320.4L913,1321.3L912,1322.9L911,1324.4L910,1324.3L909,1322.7L908,1320.2L907,1321L906,1322.4L905,1323.4L904,1322.9L903,1324L902,1322.6L901,1321.9L900,1320.7L899,1321.5L898,1322.4L897,1320.1L896,1321.3L895,1320.3L894,1322.7L893,1320.8L892,1321.2L891,1322L890,1322.4L889,1322L888,1322.7L887,1322.4L886,1321.4L885,1320.4L884,1323L883,1322.6L882,1324L881,1321.8L880,1323L879,1321.1L878,1323.8L877,1325.3L876,1323.8L875,1322.9L874,1322.6L873,1324L872,1324.5L871,1323.8L870,1324.6L869,1323.2L868,1325.4L867,1323L866,1323.8L865,1322.9L864,1322.8L863,1322.9L862,1324.4L861,1324.2L860,1322.5L859,1321.9L858,1323L857,1323.4L856,1323L855,1326.3L854,1325L853,1321.9L852,1322.4L851,1320.9L850,1321.2L849,1322.3L848,1322.4L847,1323.8L846,1323.1L845,1323L844,1324L843,1325.7L842,1325.2L841,1323.9L840,1321.9L839,1321.6L838,1322.4L837,1322.7L836,1321.7L835,1321.2L834,1322.8L833,1321.6L832,1321.4L831,1323.4L830,1323.1L829,1324.6L828,1324.1L827,1324.8L826,1321.1L825,1321.1L824,1322.6L823,1322.6L822,1323.3L821,1320.9L820,1321.9L819,1322L818,1322.5L817,1323.7L816,1322.4L815,1321.2L814,1320L813,1320.5L812,1321.6L811,1322.4L810,1323.3L809,1322.1L808,1323.5L807,1320.7L806,1322.9L805,1320.6L804,1320.3L803,1318.8L802,1321.4L801,1320.6L800,1320.6L799,1320.6L798,1323.8L797,1321.8L796,1322.2L795,1321.2L794,1319.9L793,1320.8L792,1320.5L791,1320L790,1319.8L789,1323.2L788,1323.4L787,1324.6L786,1323L785,1321.1L784,1322.1L783,1319.8L782,1321.6L781,1321.4L780,1320.6L779,1320.3L778,1319.8L777,1321.7L776,1320.4L775,1320L774,1319.8L773,1321.4L772,1323L771,1324.1L770,1322.1L769,1321.2L768,1321.8L767,1322.9L766,1323L765,1319.7L764,1318.3L763,1320.4L762,1321.2L761,1320.8L760,1320.1L759,1319.8L758,1320.2L757,1320.2L756,1322.8L755,1321.1L754,1323.2L753,1322.5L752,1323L751,1320.1L750,1322.3L749,1325.6L748,1324.3L747,1321.8L746,1320.1L745,1320.2L744,1319.2L743,1321.9L742,1321.6L741,1321.3L740,1319.6L739,1319.8L738,1323.3L737,1321.9L736,1322.5L735,1321L734,1320.4L733,1320.5L732,1320.4L731,1321.4L730,1321.5L729,1321L728,1319.3L727,1320.2L726,1320.8L725,1321.2L724,1322L723,1322.4L722,1320.7L721,1323.3L720,1323.4L719,1321.2L718,1321.7L717,1321.9L716,1323.4L715,1319.5L714,1319.9L713,1320.3L712,1321.7L711,1321.6L710,1322.8L709,1321.2L708,1319.9L707,1322.6L706,1320.6L705,1320.9L704,1319.9L703,1321.9L702,1323.2L701,1324.3L700,1324.5L699,1324L698,1323.5L697,1321.7L696,1320.2L695,1320.4L694,1321.1L693,1320.2L692,1321.3L691,1317.3L690,1319.9L689,1320.2L688,1320.6L687,1320.2L686,1319.7L685,1321.2L684,1323L683,1321.1L682,1318.1L681,1318.9L680,1319.1L679,1320.5L678,1321.9L677,1322.2L676,1322.9L675,1322L674,1324.6L673,1323.6L672,1322.8L671,1323.5L670,1321.2L669,1320.8L668,1319.9L667,1322.7L666,1323.2L665,1324L664,1324.7L663,1322.9L662,1320.8L661,1322L660,1322.5L659,1321.2L658,1322.1L657,1322.6L656,1321.6L655,1320.6L654,1321.3L653,1322.2L652,1322.3L651,1321.1L650,1321.4L649,1321.6L648,1323.6L647,1323.4L646,1322.4L645,1323L644,1323.5L643,1324L642,1320.9L641,1321L640,1320L639,1321.7L638,1320.6L637,1319.8L636,1320.6L635,1320.8L634,1323.1L633,1323.1L632,1321.5L631,1323L630,1320.9L629,1322.4L628,1320.2L627,1321.6L626,1321.8L625,1321.9L624,1323.6L623,1323.4L622,1322.6L621,1321.3L620,1321.8L619,1321.4L618,1320.4L617,1323.4L616,1327.9L615,1329.9L614,1328.3L613,1328.2L612,1328.5L611,1328.4L610,1327.4L609,1326.1L608,1327.4L607,1328.9L606,1327.1L605,1325.6L604,1326.7L603,1327.3L602,1327.9L601,1325.1L600,1326.9L599,1327.2L598,1327.6L597,1328L596,1327.9L595,1326.4L594,1328.4L593,1326.7L592,1328.5L591,1326.6L590,1324.8L589,1322.2L588,1321.4L587,1319.6L586,1320.8L585,1320.7L584,1321.7L583,1322.7L582,1323L581,1323.6L580,1321.7L579,1322.2L578,1320.9L577,1320.6L576,1320.4L575,1320.9L574,1320.8L573,1319.4L572,1317.9L571,1317.9L570,1321.4L569,1321.6L568,1322.5L567,1323.5L566,1324.2L565,1322.2L564,1320.9L563,1318.9L562,1320.4L561,1320.9L560,1320.9L559,1320.9L558,1322.6L557,1321.8L556,1323.3L555,1322.5L554,1322.5L553,1321.1L552,1323L551,1322.5L550,1321.1L549,1321.7L548,1321.9L547,1322.2L546,1320.9L545,1319.9L544,1320.7L543,1322.2L542,1321.5L541,1324L540,1324.8L539,1326.1L538,1326.6L537,1325.9L536,1326.7L535,1326.1L534,1325.8L533,1325L532,1325.6L531,1326.1L530,1326.7L529,1327.2L528,1326.5L527,1325.4L526,1324.7L525,1324.3L524,1325.4L523,1326.1L522,1326.7L521,1324.9L520,1325.4L519,1325.9L518,1327.8L517,1326.4L516,1324.3L515,1324.6L514,1323.3L513,1323.6L512,1322.2L511,1321L510,1320.2L509,1320.7L508,1321.3L507,1319.6L506,1318.8L505,1319.4L504,1322.1L503,1321.8L502,1323.2L501,1319.2L500,1320.6L499,1321.3L498,1323.2L497,1322.4L496,1322.8L495,1322.1L494,1321L493,1320.4L492,1320.2L491,1321.5L490,1321.1L489,1319.7L488,1320.6L487,1321.2L486,1322.8L485,1320.7L484,1320.7L483,1321.1L482,1321.6L481,1321.8L480,1321.8L479,1322.1L478,1320.4L477,1321.3L476,1322.2L475,1322.2L474,1319.8L473,1322.1L472,1322.6L471,1323.2L470,1320.5L469,1320.8L468,1321L467,1323L466,1323.2L465,1320.7L464,1322.9L463,1322L462,1322.3L461,1322L460,1321.7L459,1322.2L458,1324.8L457,1325.3L456,1325.5L455,1332.2L454,1333L453,1329.7L452,1329.3L451,1326.5L450,1327.6L449,1326.4L448,1327.1L447,1327.8L446,1326.3L445,1325.1L444,1324.7L443,1325.2L442,1325.3L441,1327.2L440,1328.5L439,1327.1L438,1326.6L437,1324L436,1324.6L435,1323L434,1325.1L433,1326.3L432,1324.9L431,1322.3L430,1320.9L429,1319.5L428,1317.8L427,1318L426,1318.4L425,1321.4L424,1322.7L423,1323.4L422,1323.7L421,1322.4L420,1321.4L419,1319.7L418,1320.9L417,1319.3L416,1318.2L415,1320.4L414,1323.3L413,1321.8L412,1322.3L411,1321.9L410,1323.2L409,1322.9L408,1320.7L407,1320.8L406,1320.1L405,1321.1L404,1318.9L403,1321.9L402,1321L401,1320L400,1320.7L399,1321.3L398,1322.4L397,1322.9L396,1322.2L395,1322.1L394,1322L393,1323.3L392,1322.6L391,1321.9L390,1321.6L389,1322.3L388,1324.4L387,1330L386,1334L385,1334.7L384,1337.4L383,1339.6L382,1339.3L381,1339.7L380,1341.2L379,1344.1L378,1345L377,1345.5L376,1344.6L375,1342.6L374,1342.4L373,1343.2L372,1342.8L371,1341.8L370,1341.9L369,1341.6L368,1342.4L367,1342.7L366,1340.5L365,1340.4L364,1338.4L363,1337.5L362,1337.3L361,1338L360,1337.1L359,1335.1L358,1332.2L357,1330.7L356,1329.8L355,1327.8L354,1321L353,1320.1L352,1319.3L351,1318.9L350,1321.6L349,1322.1L348,1323L347,1322.8L346,1322.2L345,1322.5L344,1320.1L343,1320.7L342,1320.1L341,1320.5L340,1319.6L339,1318.9L338,1319.2L337,1318.8L336,1321.4L335,1322.5L334,1319.5L333,1317.1L332,1316.3L331,1317.4L330,1318.5L329,1320.5L328,1321.6L327,1321.1L326,1319L325,1319.7L324,1320.8L323,1321.9L322,1321.5L321,1323.3L320,1321.8L319,1321.8L318,1321.6L317,1323.5L316,1321.3L315,1319.6L314,1320L313,1321.9L312,1321.4L311,1323L310,1322.2L309,1318.7L308,1320L307,1319.4L306,1320.7L305,1322.2L304,1322.1L303,1322.2L302,1323.1L301,1321.2L300,1322.6L299,1323.1L298,1322.1L297,1319.6L296,1319.3L295,1320.7L294,1322L293,1318.4L292,1318.4L291,1319.9L290,1321.1L289,1321.6L288,1320.3L287,1321.6L286,1320.5L285,1321.6L284,1323.7L283,1321.7L282,1320.5L281,1321.8L280,1321.8L279,1323L278,1323.2L277,1321.2L276,1321.4L275,1322.6L274,1320.9L273,1318.9L272,1318L271,1319.4L270,1320.8L269,1321L268,1319.3L267,1320.3L266,1318.7L265,1320.3L264,1323L263,1321.3L262,1321.8L261,1324.7L260,1324.7L259,1323.3L258,1319.9L257,1322L256,1320.9L255,1322.2L254,1322L253,1322L252,1321.1L251,1321.8L250,1321.7L249,1323L248,1322.7L247,1322.1L246,1319.8L245,1319.9L244,1318.7L243,1318.8L242,1320.9L241,1320.6L240,1319.5L239,1321.1L238,1319.2L237,1320.1L236,1318.6L235,1319.1L234,1320.2L233,1319.1L232,1318.3L231,1320.3L230,1321.5L229,1321L228,1321.3L227,1322.6L226,1321.8L225,1321.9L224,1321.2L223,1321.5L222,1321.6L221,1322.9L220,1324.4L219,1323L218,1323.7L217,1324.1L216,1326L215,1322.7L214,1321L213,1319.4L212,1319.5L211,1322.4L210,1322.1L209,1322L208,1321L207,1320.7L206,1322L205,1321.9L204,1320.4L203,1318.5L202,1318.7L201,1322.5L200,1321.8L199,1320.5L198,1322L197,1324L196,1322.7L195,1320.6L194,1321.1L193,1321.7L192,1323.2L191,1321.5L190,1323.7L189,1324.1L188,1322.8L187,1321.5L186,1324.6L185,1327.2L184,1324.3L183,1322.5Z" fill="#000"/>
<rect x="146" y="1235" width="871.8" height="156.5" fill="none" stroke="#4d4d4d" stroke-width="2.4" stroke-linejoin="round"/>
<line x1="137" y1="1255.7" x2="146" y2="1255.7" stroke="#4d4d4d" stroke-width="2"/>
<text x="130.5" y="1266.0" font-size="35" text-anchor="end" fill="#000">1</text>
<line x1="137" y1="1314.6" x2="146" y2="1314.6" stroke="#4d4d4d" stroke-width="2"/>
<text x="130.5" y="1326.5" font-size="35" text-anchor="end" fill="#000">0</text>
<line x1="137" y1="1372.5" x2="146" y2="1372.5" stroke="#4d4d4d" stroke-width="2"/>
<text x="130.5" y="1387.9" font-size="35" text-anchor="end" fill="#000">-1</text>
<line x1="186.2" y1="1391.5" x2="186.2" y2="1399.5" stroke="#4d4d4d" stroke-width="2"/>
<line x1="296.29999999999995" y1="1391.5" x2="296.29999999999995" y2="1399.5" stroke="#4d4d4d" stroke-width="2"/>
<line x1="406.4" y1="1391.5" x2="406.4" y2="1399.5" stroke="#4d4d4d" stroke-width="2"/>
<line x1="516.5" y1="1391.5" x2="516.5" y2="1399.5" stroke="#4d4d4d" stroke-width="2"/>
<line x1="626.5999999999999" y1="1391.5" x2="626.5999999999999" y2="1399.5" stroke="#4d4d4d" stroke-width="2"/>
<line x1="736.7" y1="1391.5" x2="736.7" y2="1399.5" stroke="#4d4d4d" stroke-width="2"/>
<line x1="846.8" y1="1391.5" x2="846.8" y2="1399.5" stroke="#4d4d4d" stroke-width="2"/>
<line x1="956.8999999999999" y1="1391.5" x2="956.8999999999999" y2="1399.5" stroke="#4d4d4d" stroke-width="2"/>
<text x="155.3" y="1275.6" font-size="36" font-weight="bold" fill="#000">H</text>
<g transform="translate(74,1315.8) rotate(-90) scale(0.93,1)"><text text-anchor="middle" font-size="36" fill="#000">Δ<tspan font-style="italic">B</tspan><tspan font-style="italic" font-size="24" dy="7.5">y</tspan><tspan dy="-7.5"> (nT)</tspan></text></g>
<path d="M183,1490.3L184,1491.1L185,1489.7L186,1489.1L187,1489L188,1489.7L189,1489L190,1488.5L191,1489.5L192,1490.9L193,1489.5L194,1489.9L195,1489.4L196,1490L197,1488L198,1488.8L199,1488.8L200,1489L201,1487.7L202,1488.4L203,1488.7L204,1490.2L205,1490.1L206,1490.2L207,1490.4L208,1490.7L209,1490.9L210,1489.3L211,1488.5L212,1487.4L213,1487.4L214,1487.5L215,1489.3L216,1490.7L217,1490.4L218,1490L219,1489.9L220,1489L221,1487.8L222,1489.1L223,1488.5L224,1488.8L225,1487L226,1487.8L227,1489.6L228,1490.6L229,1488.5L230,1489L231,1489.5L232,1490.6L233,1491.4L234,1490.2L235,1489.6L236,1488.9L237,1488.7L238,1489.5L239,1490.7L240,1490.3L241,1489.5L242,1489.4L243,1488.8L244,1489.6L245,1489.5L246,1488.7L247,1487.7L248,1490.1L249,1491.7L250,1490.8L251,1490.4L252,1489.4L253,1489.8L254,1490.8L255,1489.2L256,1489.2L257,1487.6L258,1489.1L259,1489.2L260,1489.1L261,1490.4L262,1489.7L263,1491.4L264,1490.5L265,1490.3L266,1491.2L267,1489.8L268,1488.7L269,1487.2L270,1486.2L271,1489L272,1489.4L273,1490.4L274,1490.3L275,1489L276,1488.1L277,1489.6L278,1490.7L279,1492.4L280,1492.3L281,1491L282,1490.4L283,1491.2L284,1490.6L285,1491.6L286,1490.3L287,1491.8L288,1491.2L289,1490.5L290,1489.4L291,1490.1L292,1489.7L293,1491.2L294,1489.2L295,1489.8L296,1489.5L297,1490.9L298,1490.6L299,1487.8L300,1488.9L301,1490.8L302,1491.2L303,1489L304,1488.2L305,1488L306,1488.4L307,1489.7L308,1490.6L309,1490.3L310,1491.2L311,1490.9L312,1490.4L313,1489.9L314,1486.3L315,1488.3L316,1488.5L317,1489.4L318,1489.8L319,1490.5L320,1490.3L321,1490.1L322,1490L323,1489L324,1487.9L325,1490.4L326,1491.5L327,1491.8L328,1490.9L329,1491.4L330,1491.6L331,1489.9L332,1489.7L333,1489.4L334,1490.9L335,1491.1L336,1491.7L337,1489.8L338,1488.3L339,1489.3L340,1491.1L341,1491.2L342,1490.7L343,1491.2L344,1489.6L345,1489.9L346,1487.6L347,1489.4L348,1490.6L349,1491.8L350,1491.9L351,1490.3L352,1489.8L353,1489.3L354,1489.5L355,1490.9L356,1491.6L357,1489.1L358,1489L359,1489.1L360,1490L361,1485.7L362,1483.2L363,1482.7L364,1480.7L365,1479.7L366,1477.5L367,1478.1L368,1480.8L369,1481.1L370,1480.2L371,1480.4L372,1480.5L373,1479.4L374,1477.9L375,1478.4L376,1480.7L377,1480.8L378,1479.4L379,1478.9L380,1478.5L381,1481.4L382,1482.5L383,1480L384,1480.4L385,1478.8L386,1480.9L387,1485.3L388,1485.9L389,1490.8L390,1490.6L391,1492.5L392,1491.9L393,1489.2L394,1489.8L395,1488.6L396,1490.8L397,1492.2L398,1490.5L399,1489.3L400,1487.7L401,1490.3L402,1491L403,1490.9L404,1489.5L405,1489.1L406,1488.6L407,1490.3L408,1490.8L409,1491L410,1491.3L411,1490.1L412,1489L413,1488.6L414,1489.5L415,1489.1L416,1491.6L417,1489.6L418,1492.3L419,1492.2L420,1492.8L421,1491.1L422,1491.8L423,1492.2L424,1490.6L425,1490L426,1489.8L427,1490.8L428,1489.4L429,1491L430,1489.2L431,1487.5L432,1487.3L433,1484.1L434,1485.3L435,1485L436,1485.4L437,1483.9L438,1483.6L439,1483.6L440,1483L441,1483.1L442,1484.5L443,1484.8L444,1483.7L445,1482.3L446,1482.5L447,1483.2L448,1484L449,1483.8L450,1485L451,1484.5L452,1485.2L453,1485.9L454,1485.6L455,1486.4L456,1485.6L457,1485.4L458,1484.5L459,1486.4L460,1487L461,1490.4L462,1490.6L463,1489.9L464,1490L465,1490.8L466,1491.1L467,1490.8L468,1490.7L469,1489.5L470,1490.2L471,1489.1L472,1489.6L473,1487.8L474,1489.3L475,1487.7L476,1489.1L477,1488.9L478,1491.1L479,1489.9L480,1489.7L481,1489.5L482,1489L483,1488L484,1486.9L485,1486.6L486,1488.3L487,1488.7L488,1490.1L489,1487.5L490,1486.2L491,1481.3L492,1478.2L493,1477.5L494,1477.8L495,1477.1L496,1477.6L497,1477.1L498,1477.8L499,1476L500,1476L501,1476.8L502,1477.3L503,1477.3L504,1475.6L505,1474.7L506,1471.8L507,1471.4L508,1470.4L509,1473L510,1475.7L511,1478.1L512,1476.1L513,1476.3L514,1476.6L515,1478.2L516,1479.1L517,1478.9L518,1479.2L519,1478L520,1479.6L521,1483.6L522,1486.6L523,1490.2L524,1489.8L525,1491.7L526,1490.3L527,1489.5L528,1489.2L529,1490.5L530,1491.3L531,1489.8L532,1489.6L533,1487.6L534,1486.1L535,1487L536,1486.2L537,1487.7L538,1487.2L539,1489.9L540,1489L541,1491.4L542,1489.2L543,1489.3L544,1487.5L545,1489.6L546,1487.8L547,1488.7L548,1488.8L549,1487.4L550,1488.2L551,1488.2L552,1489.5L553,1490.6L554,1490.6L555,1488.2L556,1488.7L557,1489.7L558,1489.3L559,1488.4L560,1489.6L561,1491.2L562,1491L563,1490.1L564,1490L565,1488.5L566,1489.4L567,1491.2L568,1493L569,1490.9L570,1491.2L571,1491.2L572,1490.2L573,1490.6L574,1489.4L575,1489.4L576,1486.8L577,1488.4L578,1490.1L579,1490.4L580,1489.2L581,1490L582,1490.3L583,1488.4L584,1487.2L585,1487.1L586,1487.7L587,1487L588,1487.6L589,1485.4L590,1485.5L591,1483.7L592,1484.7L593,1483.6L594,1483.3L595,1481L596,1483.6L597,1483.4L598,1484.2L599,1484.9L600,1485.5L601,1483.6L602,1483.6L603,1482.6L604,1483.3L605,1482.8L606,1482.1L607,1484.6L608,1484.5L609,1484.9L610,1483.5L611,1482.9L612,1484.1L613,1484.4L614,1486L615,1482.8L616,1486.7L617,1487.3L618,1488.7L619,1489.6L620,1489.7L621,1488.7L622,1488.3L623,1489.1L624,1489.3L625,1489L626,1487.1L627,1488L628,1489.5L629,1489.6L630,1488.1L631,1489.4L632,1489.6L633,1489.3L634,1487.3L635,1488L636,1487.6L637,1488.3L638,1488.7L639,1489.1L640,1489.4L641,1488.5L642,1487.4L643,1488.3L644,1487.7L645,1488.1L646,1488.6L647,1488.4L648,1488.9L649,1489.5L650,1489.5L651,1487.6L652,1488.6L653,1489.9L654,1488.3L655,1489.1L656,1488.4L657,1490.4L658,1489.1L659,1489.7L660,1490.4L661,1491.3L662,1491L663,1489.7L664,1490.9L665,1491.2L666,1490.4L667,1491.2L668,1489.5L669,1489.5L670,1489L671,1489.1L672,1490.1L673,1488.5L674,1489.5L675,1490.9L676,1490.7L677,1491.3L678,1488.6L679,1488.6L680,1487.5L681,1488.2L682,1489.5L683,1490.3L684,1491.1L685,1491.1L686,1490.8L687,1489.9L688,1489.8L689,1490.6L690,1490.8L691,1490.1L692,1490.3L693,1490.4L694,1490.1L695,1489.6L696,1483L697,1468.3L698,1467.1L699,1465.6L700,1468.4L701,1467.8L702,1469.5L703,1468.8L704,1468.8L705,1468.5L706,1468.2L707,1468L708,1467.4L709,1482.4L710,1489.4L711,1489.1L712,1488.2L713,1488.1L714,1487.6L715,1485.4L716,1482.6L717,1483.8L718,1484.3L719,1485.6L720,1484.1L721,1483.9L722,1484.3L723,1485.5L724,1484.7L725,1485.7L726,1486.9L727,1485.3L728,1484L729,1483L730,1485.9L731,1486.2L732,1485.8L733,1484.8L734,1485.8L735,1485.1L736,1485.6L737,1483.2L738,1485.2L739,1485L740,1486.4L741,1486.6L742,1488.1L743,1485.9L744,1486.8L745,1485.4L746,1487.7L747,1486.1L748,1484.1L749,1485.7L750,1485.8L751,1489L752,1489.5L753,1491L754,1489.2L755,1490.8L756,1488.8L757,1489.4L758,1490.2L759,1490.1L760,1491.3L761,1490.6L762,1491.6L763,1490.9L764,1489L765,1487.6L766,1488.8L767,1488.4L768,1490L769,1490L770,1489L771,1488.8L772,1489.7L773,1490.4L774,1489.2L775,1487.5L776,1487.7L777,1489.5L778,1490.8L779,1491.6L780,1490.6L781,1490.1L782,1489.6L783,1490.4L784,1491.7L785,1490.9L786,1491.2L787,1489.1L788,1487.2L789,1488.1L790,1487.7L791,1489L792,1488.9L793,1488.6L794,1486.5L795,1488.8L796,1490.1L797,1490.9L798,1490.9L799,1491.2L800,1489.6L801,1489.2L802,1489.2L803,1489.3L804,1489.2L805,1489.6L806,1490L807,1488.2L808,1490.1L809,1491.5L810,1491.8L811,1492.4L812,1490.6L813,1491L814,1489.1L815,1491.1L816,1490.7L817,1492.2L818,1491.3L819,1490.3L820,1490.9L821,1490L822,1488.2L823,1486.5L824,1485.4L825,1486.3L826,1485.1L827,1484.1L828,1484.1L829,1484.4L830,1485.4L831,1485.7L832,1485.2L833,1488.3L834,1487.5L835,1485.7L836,1485.1L837,1483.4L838,1485.3L839,1485.7L840,1485.9L841,1487.5L842,1486.4L843,1485.8L844,1486.4L845,1486.2L846,1485.9L847,1484.3L848,1484.9L849,1483.7L850,1483.8L851,1484.2L852,1485L853,1485.7L854,1486.7L855,1486.1L856,1484.9L857,1484.7L858,1486.8L859,1487.1L860,1488.5L861,1488L862,1487.7L863,1490.7L864,1491.2L865,1491.8L866,1491L867,1491.3L868,1489.9L869,1489.3L870,1487L871,1487.7L872,1487.4L873,1491.4L874,1490.3L875,1489.5L876,1488.4L877,1489L878,1489.7L879,1489.8L880,1487.7L881,1488.2L882,1489.6L883,1490.7L884,1490.8L885,1491L886,1491.4L887,1490.1L888,1490.6L889,1490.9L890,1490.2L891,1489.9L892,1490.9L893,1491.6L894,1490.5L895,1490.2L896,1489.5L897,1488.7L898,1487.3L899,1488.3L900,1489L901,1490.3L902,1488.9L903,1489.2L904,1490.9L905,1490.2L906,1488.9L907,1488.4L908,1488.4L909,1490L910,1491.4L911,1491.2L912,1488.3L913,1488.5L914,1490.4L915,1489.3L916,1489.4L917,1489.6L918,1489.2L919,1489.3L920,1488.6L921,1488.3L922,1488.2L923,1488.3L924,1488.6L925,1488.2L926,1490.3L927,1491.2L928,1492.3L929,1492.4L930,1488.9L931,1489.4L932,1488.5L933,1489.4L934,1489.7L935,1489.7L936,1489.4L937,1489.4L938,1488.4L939,1489.7L940,1489.9L941,1490.7L942,1490.4L943,1489.6L944,1488.8L945,1488L946,1489.8L947,1488.4L948,1490.5L949,1490.6L950,1491.5L951,1489.1L952,1489.8L953,1490.4L954,1491.6L955,1491.5L956,1489.5L957,1489.4L958,1473.6L959,1439.9L960,1437.6L961,1435.6L962,1432.9L963,1433.4L964,1434L965,1433.6L966,1430.2L967,1429.2L968,1428.1L969,1429L970,1429.4L971,1431.8L972,1432.1L973,1433.2L974,1435.1L975,1438L976,1441.9L977,1447L978,1449.7L979,1452.8L979,1501.1L978,1501.1L977,1501.1L976,1501.1L975,1501.1L974,1501.1L973,1501.1L972,1501.1L971,1501.1L970,1501.1L969,1501.1L968,1501.1L967,1501.1L966,1501.1L965,1501.1L964,1501.1L963,1501.1L962,1501.1L961,1501.1L960,1501.1L959,1501.1L958,1501.1L957,1501.1L956,1501.1L955,1501.1L954,1501.1L953,1501.1L952,1501.1L951,1501.1L950,1501.1L949,1501.1L948,1501.1L947,1501.1L946,1501.1L945,1501.1L944,1501.1L943,1501.1L942,1501.1L941,1501.1L940,1501.1L939,1501.1L938,1501.1L937,1501.1L936,1501.1L935,1501.1L934,1501.1L933,1501.1L932,1501.1L931,1501.1L930,1501.1L929,1501.1L928,1501.1L927,1501.1L926,1501.1L925,1501.1L924,1501.1L923,1501.1L922,1501.1L921,1501.1L920,1501.1L919,1501.1L918,1501.1L917,1501.1L916,1501.1L915,1501.1L914,1501.1L913,1501.1L912,1501.1L911,1501.1L910,1501.1L909,1501.1L908,1501.1L907,1501.1L906,1501.1L905,1501.1L904,1501.1L903,1501.1L902,1501.1L901,1501.1L900,1501.1L899,1501.1L898,1501.1L897,1501.1L896,1501.1L895,1501.1L894,1501.1L893,1501.1L892,1501.1L891,1501.1L890,1501.1L889,1501.1L888,1501.1L887,1501.1L886,1501.1L885,1501.1L884,1501.1L883,1501.1L882,1501.1L881,1501.1L880,1501.1L879,1501.1L878,1501.1L877,1501.1L876,1501.1L875,1501.1L874,1501.1L873,1501.1L872,1501.1L871,1501.1L870,1501.1L869,1501.1L868,1501.1L867,1501.1L866,1501.1L865,1501.1L864,1501.1L863,1501.1L862,1501.1L861,1501.1L860,1501.1L859,1501.1L858,1501.1L857,1501.1L856,1501.1L855,1501.1L854,1501.1L853,1501.1L852,1501.1L851,1501.1L850,1501.1L849,1501.1L848,1501.1L847,1501.1L846,1501.1L845,1501.1L844,1501.1L843,1501.1L842,1501.1L841,1501.1L840,1501.1L839,1501.1L838,1501.1L837,1501.1L836,1501.1L835,1501.1L834,1501.1L833,1501.1L832,1501.1L831,1501.1L830,1501.1L829,1501.1L828,1501.1L827,1501.1L826,1501.1L825,1501.1L824,1501.1L823,1501.1L822,1501.1L821,1501.1L820,1501.1L819,1501.1L818,1501.1L817,1501.1L816,1501.1L815,1501.1L814,1501.1L813,1501.1L812,1501.1L811,1501.1L810,1501.1L809,1501.1L808,1501.1L807,1501.1L806,1501.1L805,1501.1L804,1501.1L803,1501.1L802,1501.1L801,1501.1L800,1501.1L799,1501.1L798,1501.1L797,1501.1L796,1501.1L795,1501.1L794,1501.1L793,1501.1L792,1501.1L791,1501.1L790,1501.1L789,1501.1L788,1501.1L787,1501.1L786,1501.1L785,1501.1L784,1501.1L783,1501.1L782,1501.1L781,1501.1L780,1501.1L779,1501.1L778,1501.1L777,1501.1L776,1501.1L775,1501.1L774,1501.1L773,1501.1L772,1501.1L771,1501.1L770,1501.1L769,1501.1L768,1501.1L767,1501.1L766,1501.1L765,1501.1L764,1501.1L763,1501.1L762,1501.1L761,1501.1L760,1501.1L759,1501.1L758,1501.1L757,1501.1L756,1501.1L755,1501.1L754,1501.1L753,1501.1L752,1501.1L751,1501.1L750,1501.1L749,1501.1L748,1501.1L747,1501.1L746,1501.1L745,1501.1L744,1501.1L743,1501.1L742,1501.1L741,1501.1L740,1501.1L739,1501.1L738,1501.1L737,1501.1L736,1501.1L735,1501.1L734,1501.1L733,1501.1L732,1501.1L731,1501.1L730,1501.1L729,1501.1L728,1501.1L727,1501.1L726,1501.1L725,1501.1L724,1501.1L723,1501.1L722,1501.1L721,1501.1L720,1501.1L719,1501.1L718,1501.1L717,1501.1L716,1501.1L715,1501.1L714,1501.1L713,1501.1L712,1501.1L711,1501.1L710,1501.1L709,1501.1L708,1501.1L707,1501.1L706,1501.1L705,1501.1L704,1501.1L703,1501.1L702,1501.1L701,1501.1L700,1501.1L699,1501.1L698,1501.1L697,1501.1L696,1501.1L695,1501.1L694,1501.1L693,1501.1L692,1501.1L691,1501.1L690,1501.1L689,1501.1L688,1501.1L687,1501.1L686,1501.1L685,1501.1L684,1501.1L683,1501.1L682,1501.1L681,1501.1L680,1501.1L679,1501.1L678,1501.1L677,1501.1L676,1501.1L675,1501.1L674,1501.1L673,1501.1L672,1501.1L671,1501.1L670,1501.1L669,1501.1L668,1501.1L667,1501.1L666,1501.1L665,1501.1L664,1501.1L663,1501.1L662,1501.1L661,1501.1L660,1501.1L659,1501.1L658,1501.1L657,1501.1L656,1501.1L655,1501.1L654,1501.1L653,1501.1L652,1501.1L651,1501.1L650,1501.1L649,1501.1L648,1501.1L647,1501.1L646,1501.1L645,1501.1L644,1501.1L643,1501.1L642,1501.1L641,1501.1L640,1501.1L639,1501.1L638,1501.1L637,1501.1L636,1501.1L635,1501.1L634,1501.1L633,1501.1L632,1501.1L631,1501.1L630,1501.1L629,1501.1L628,1501.1L627,1501.1L626,1501.1L625,1501.1L624,1501.1L623,1501.1L622,1501.1L621,1501.1L620,1501.1L619,1501.1L618,1501.1L617,1501.1L616,1501.1L615,1501.1L614,1501.1L613,1501.1L612,1501.1L611,1501.1L610,1501.1L609,1501.1L608,1501.1L607,1501.1L606,1501.1L605,1501.1L604,1501.1L603,1501.1L602,1501.1L601,1501.1L600,1501.1L599,1501.1L598,1501.1L597,1501.1L596,1501.1L595,1501.1L594,1501.1L593,1501.1L592,1501.1L591,1501.1L590,1501.1L589,1501.1L588,1501.1L587,1501.1L586,1501.1L585,1501.1L584,1501.1L583,1501.1L582,1501.1L581,1501.1L580,1501.1L579,1501.1L578,1501.1L577,1501.1L576,1501.1L575,1501.1L574,1501.1L573,1501.1L572,1501.1L571,1501.1L570,1501.1L569,1501.1L568,1501.1L567,1501.1L566,1501.1L565,1501.1L564,1501.1L563,1501.1L562,1501.1L561,1501.1L560,1501.1L559,1501.1L558,1501.1L557,1501.1L556,1501.1L555,1501.1L554,1501.1L553,1501.1L552,1501.1L551,1501.1L550,1501.1L549,1501.1L548,1501.1L547,1501.1L546,1501.1L545,1501.1L544,1501.1L543,1501.1L542,1501.1L541,1501.1L540,1501.1L539,1501.1L538,1501.1L537,1501.1L536,1501.1L535,1501.1L534,1501.1L533,1501.1L532,1501.1L531,1501.1L530,1501.1L529,1501.1L528,1501.1L527,1501.1L526,1501.1L525,1501.1L524,1501.1L523,1501.1L522,1501.1L521,1501.1L520,1501.1L519,1501.1L518,1501.1L517,1501.1L516,1501.1L515,1501.1L514,1501.1L513,1501.1L512,1501.1L511,1501.1L510,1501.1L509,1501.1L508,1501.1L507,1501.1L506,1501.1L505,1501.1L504,1501.1L503,1501.1L502,1501.1L501,1501.1L500,1501.1L499,1501.1L498,1501.1L497,1501.1L496,1501.1L495,1501.1L494,1501.1L493,1501.1L492,1501.1L491,1501.1L490,1501.1L489,1501.1L488,1501.1L487,1501.1L486,1501.1L485,1501.1L484,1501.1L483,1501.1L482,1501.1L481,1501.1L480,1501.1L479,1501.1L478,1501.1L477,1501.1L476,1501.1L475,1501.1L474,1501.1L473,1501.1L472,1501.1L471,1501.1L470,1501.1L469,1501.1L468,1501.1L467,1501.1L466,1501.1L465,1501.1L464,1501.1L463,1501.1L462,1501.1L461,1501.1L460,1501.1L459,1501.1L458,1501.1L457,1501.1L456,1501.1L455,1501.1L454,1501.1L453,1501.1L452,1501.1L451,1501.1L450,1501.1L449,1501.1L448,1501.1L447,1501.1L446,1501.1L445,1501.1L444,1501.1L443,1501.1L442,1501.1L441,1501.1L440,1501.1L439,1501.1L438,1501.1L437,1501.1L436,1501.1L435,1501.1L434,1501.1L433,1501.1L432,1501.1L431,1501.1L430,1501.1L429,1501.1L428,1501.1L427,1501.1L426,1501.1L425,1501.1L424,1501.1L423,1501.1L422,1501.1L421,1501.1L420,1501.1L419,1501.1L418,1501.1L417,1501.1L416,1501.1L415,1501.1L414,1501.1L413,1501.1L412,1501.1L411,1501.1L410,1501.1L409,1501.1L408,1501.1L407,1501.1L406,1501.1L405,1501.1L404,1501.1L403,1501.1L402,1501.1L401,1501.1L400,1501.1L399,1501.1L398,1501.1L397,1501.1L396,1501.1L395,1501.1L394,1501.1L393,1501.1L392,1501.1L391,1501.1L390,1501.1L389,1501.1L388,1501.1L387,1501.1L386,1501.1L385,1501.1L384,1501.1L383,1501.1L382,1501.1L381,1501.1L380,1501.1L379,1501.1L378,1501.1L377,1501.1L376,1501.1L375,1501.1L374,1501.1L373,1501.1L372,1501.1L371,1501.1L370,1501.1L369,1501.1L368,1501.1L367,1501.1L366,1501.1L365,1501.1L364,1501.1L363,1501.1L362,1501.1L361,1501.1L360,1501.1L359,1501.1L358,1501.1L357,1501.1L356,1501.1L355,1501.1L354,1501.1L353,1501.1L352,1501.1L351,1501.1L350,1501.1L349,1501.1L348,1501.1L347,1501.1L346,1501.1L345,1501.1L344,1501.1L343,1501.1L342,1501.1L341,1501.1L340,1501.1L339,1501.1L338,1501.1L337,1501.1L336,1501.1L335,1501.1L334,1501.1L333,1501.1L332,1501.1L331,1501.1L330,1501.1L329,1501.1L328,1501.1L327,1501.1L326,1501.1L325,1501.1L324,1501.1L323,1501.1L322,1501.1L321,1501.1L320,1501.1L319,1501.1L318,1501.1L317,1501.1L316,1501.1L315,1501.1L314,1501.1L313,1501.1L312,1501.1L311,1501.1L310,1501.1L309,1501.1L308,1501.1L307,1501.1L306,1501.1L305,1501.1L304,1501.1L303,1501.1L302,1501.1L301,1501.1L300,1501.1L299,1501.1L298,1501.1L297,1501.1L296,1501.1L295,1501.1L294,1501.1L293,1501.1L292,1501.1L291,1501.1L290,1501.1L289,1501.1L288,1501.1L287,1501.1L286,1501.1L285,1501.1L284,1501.1L283,1501.1L282,1501.1L281,1501.1L280,1501.1L279,1501.1L278,1501.1L277,1501.1L276,1501.1L275,1501.1L274,1501.1L273,1501.1L272,1501.1L271,1501.1L270,1501.1L269,1501.1L268,1501.1L267,1501.1L266,1501.1L265,1501.1L264,1501.1L263,1501.1L262,1501.1L261,1501.1L260,1501.1L259,1501.1L258,1501.1L257,1501.1L256,1501.1L255,1501.1L254,1501.1L253,1501.1L252,1501.1L251,1501.1L250,1501.1L249,1501.1L248,1501.1L247,1501.1L246,1501.1L245,1501.1L244,1501.1L243,1501.1L242,1501.1L241,1501.1L240,1501.1L239,1501.1L238,1501.1L237,1501.1L236,1501.1L235,1501.1L234,1501.1L233,1501.1L232,1501.1L231,1501.1L230,1501.1L229,1501.1L228,1501.1L227,1501.1L226,1501.1L225,1501.1L224,1501.1L223,1501.1L222,1501.1L221,1501.1L220,1501.1L219,1501.1L218,1501.1L217,1501.1L216,1501.1L215,1501.1L214,1501.1L213,1501.1L212,1501.1L211,1501.1L210,1501.1L209,1501.1L208,1501.1L207,1501.1L206,1501.1L205,1501.1L204,1501.1L203,1501.1L202,1501.1L201,1501.1L200,1501.1L199,1501.1L198,1501.1L197,1501.1L196,1501.1L195,1501.1L194,1501.1L193,1501.1L192,1501.1L191,1501.1L190,1501.1L189,1501.1L188,1501.1L187,1501.1L186,1501.1L185,1501.1L184,1501.1L183,1501.1Z" fill="#e3173e"/>
<path d="M183,1501.1L184,1501.1L185,1501.1L186,1501.1L187,1501.1L188,1501.1L189,1501.1L190,1501.1L191,1501.1L192,1501.1L193,1501.1L194,1501.1L195,1501.1L196,1501.1L197,1501.1L198,1501.1L199,1501.1L200,1501.1L201,1501.1L202,1501.1L203,1501.1L204,1501.1L205,1501.1L206,1501.1L207,1501.1L208,1501.1L209,1501.1L210,1501.1L211,1501.1L212,1501.1L213,1501.1L214,1501.1L215,1501.1L216,1501.1L217,1501.1L218,1501.1L219,1501.1L220,1501.1L221,1501.1L222,1501.1L223,1501.1L224,1501.1L225,1501.1L226,1501.1L227,1501.1L228,1501.1L229,1501.1L230,1501.1L231,1501.1L232,1501.1L233,1501.1L234,1501.1L235,1501.1L236,1501.1L237,1501.1L238,1501.1L239,1501.1L240,1501.1L241,1501.1L242,1501.1L243,1501.1L244,1501.1L245,1501.1L246,1501.1L247,1501.1L248,1501.1L249,1501.1L250,1501.1L251,1501.1L252,1501.1L253,1501.1L254,1501.1L255,1501.1L256,1501.1L257,1501.1L258,1501.1L259,1501.1L260,1501.1L261,1501.1L262,1501.1L263,1501.1L264,1501.1L265,1501.1L266,1501.1L267,1501.1L268,1501.1L269,1501.1L270,1501.1L271,1501.1L272,1501.1L273,1501.1L274,1501.1L275,1501.1L276,1501.1L277,1501.1L278,1501.1L279,1501.1L280,1501.1L281,1501.1L282,1501.1L283,1501.1L284,1501.1L285,1501.1L286,1501.1L287,1501.1L288,1501.1L289,1501.1L290,1501.1L291,1501.1L292,1501.1L293,1501.1L294,1501.1L295,1501.1L296,1501.1L297,1501.1L298,1501.1L299,1501.1L300,1501.1L301,1501.1L302,1501.1L303,1501.1L304,1501.1L305,1501.1L306,1501.1L307,1501.1L308,1501.1L309,1501.1L310,1501.1L311,1501.1L312,1501.1L313,1501.1L314,1501.1L315,1501.1L316,1501.1L317,1501.1L318,1501.1L319,1501.1L320,1501.1L321,1501.1L322,1501.1L323,1501.1L324,1501.1L325,1501.1L326,1501.1L327,1501.1L328,1501.1L329,1501.1L330,1501.1L331,1501.1L332,1501.1L333,1501.1L334,1501.1L335,1501.1L336,1501.1L337,1501.1L338,1501.1L339,1501.1L340,1501.1L341,1501.1L342,1501.1L343,1501.1L344,1501.1L345,1501.1L346,1501.1L347,1501.1L348,1501.1L349,1501.1L350,1501.1L351,1501.1L352,1501.1L353,1501.1L354,1501.1L355,1501.1L356,1501.1L357,1501.1L358,1501.1L359,1501.1L360,1501.1L361,1501.1L362,1501.1L363,1501.1L364,1501.1L365,1501.1L366,1501.1L367,1501.1L368,1501.1L369,1501.1L370,1501.1L371,1501.1L372,1501.1L373,1501.1L374,1501.1L375,1501.1L376,1501.1L377,1501.1L378,1501.1L379,1501.1L380,1501.1L381,1501.1L382,1501.1L383,1501.1L384,1501.1L385,1501.1L386,1501.1L387,1501.1L388,1501.1L389,1501.1L390,1501.1L391,1501.1L392,1501.1L393,1501.1L394,1501.1L395,1501.1L396,1501.1L397,1501.1L398,1501.1L399,1501.1L400,1501.1L401,1501.1L402,1501.1L403,1501.1L404,1501.1L405,1501.1L406,1501.1L407,1501.1L408,1501.1L409,1501.1L410,1501.1L411,1501.1L412,1501.1L413,1501.1L414,1501.1L415,1501.1L416,1501.1L417,1501.1L418,1501.1L419,1501.1L420,1501.1L421,1501.1L422,1501.1L423,1501.1L424,1501.1L425,1501.1L426,1501.1L427,1501.1L428,1501.1L429,1501.1L430,1501.1L431,1501.1L432,1501.1L433,1501.1L434,1501.1L435,1501.1L436,1501.1L437,1501.1L438,1501.1L439,1501.1L440,1501.1L441,1501.1L442,1501.1L443,1501.1L444,1501.1L445,1501.1L446,1501.1L447,1501.1L448,1501.1L449,1501.1L450,1501.1L451,1501.1L452,1501.1L453,1501.1L454,1501.1L455,1501.1L456,1501.1L457,1501.1L458,1501.1L459,1501.1L460,1501.1L461,1501.1L462,1501.1L463,1501.1L464,1501.1L465,1501.1L466,1501.1L467,1501.1L468,1501.1L469,1501.1L470,1501.1L471,1501.1L472,1501.1L473,1501.1L474,1501.1L475,1501.1L476,1501.1L477,1501.1L478,1501.1L479,1501.1L480,1501.1L481,1501.1L482,1501.1L483,1501.1L484,1501.1L485,1501.1L486,1501.1L487,1501.1L488,1501.1L489,1501.1L490,1501.1L491,1501.1L492,1501.1L493,1501.1L494,1501.1L495,1501.1L496,1501.1L497,1501.1L498,1501.1L499,1501.1L500,1501.1L501,1501.1L502,1501.1L503,1501.1L504,1501.1L505,1501.1L506,1501.1L507,1501.1L508,1501.1L509,1501.1L510,1501.1L511,1501.1L512,1501.1L513,1501.1L514,1501.1L515,1501.1L516,1501.1L517,1501.1L518,1501.1L519,1501.1L520,1501.1L521,1501.1L522,1501.1L523,1501.1L524,1501.1L525,1501.1L526,1501.1L527,1501.1L528,1501.1L529,1501.1L530,1501.1L531,1501.1L532,1501.1L533,1501.1L534,1501.1L535,1501.1L536,1501.1L537,1501.1L538,1501.1L539,1501.1L540,1501.1L541,1501.1L542,1501.1L543,1501.1L544,1501.1L545,1501.1L546,1501.1L547,1501.1L548,1501.1L549,1501.1L550,1501.1L551,1501.1L552,1501.1L553,1501.1L554,1501.1L555,1501.1L556,1501.1L557,1501.1L558,1501.1L559,1501.1L560,1501.1L561,1501.1L562,1501.1L563,1501.1L564,1501.1L565,1501.1L566,1501.1L567,1501.1L568,1501.1L569,1501.1L570,1501.1L571,1501.1L572,1501.1L573,1501.1L574,1501.1L575,1501.1L576,1501.1L577,1501.1L578,1501.1L579,1501.1L580,1501.1L581,1501.1L582,1501.1L583,1501.1L584,1501.1L585,1501.1L586,1501.1L587,1501.1L588,1501.1L589,1501.1L590,1501.1L591,1501.1L592,1501.1L593,1501.1L594,1501.1L595,1501.1L596,1501.1L597,1501.1L598,1501.1L599,1501.1L600,1501.1L601,1501.1L602,1501.1L603,1501.1L604,1501.1L605,1501.1L606,1501.1L607,1501.1L608,1501.1L609,1501.1L610,1501.1L611,1501.1L612,1501.1L613,1501.1L614,1501.1L615,1501.1L616,1501.1L617,1501.1L618,1501.1L619,1501.1L620,1501.1L621,1501.1L622,1501.1L623,1501.1L624,1501.1L625,1501.1L626,1501.1L627,1501.1L628,1501.1L629,1501.1L630,1501.1L631,1501.1L632,1501.1L633,1501.1L634,1501.1L635,1501.1L636,1501.1L637,1501.1L638,1501.1L639,1501.1L640,1501.1L641,1501.1L642,1501.1L643,1501.1L644,1501.1L645,1501.1L646,1501.1L647,1501.1L648,1501.1L649,1501.1L650,1501.1L651,1501.1L652,1501.1L653,1501.1L654,1501.1L655,1501.1L656,1501.1L657,1501.1L658,1501.1L659,1501.1L660,1501.1L661,1501.1L662,1501.1L663,1501.1L664,1501.1L665,1501.1L666,1501.1L667,1501.1L668,1501.1L669,1501.1L670,1501.1L671,1501.1L672,1501.1L673,1501.1L674,1501.1L675,1501.1L676,1501.1L677,1501.1L678,1501.1L679,1501.1L680,1501.1L681,1501.1L682,1501.1L683,1501.1L684,1501.1L685,1501.1L686,1501.1L687,1501.1L688,1501.1L689,1501.1L690,1501.1L691,1501.1L692,1501.1L693,1501.1L694,1501.1L695,1501.1L696,1501.1L697,1501.1L698,1501.1L699,1501.1L700,1501.1L701,1501.1L702,1501.1L703,1501.1L704,1501.1L705,1501.1L706,1501.1L707,1501.1L708,1501.1L709,1501.1L710,1501.1L711,1501.1L712,1501.1L713,1501.1L714,1501.1L715,1501.1L716,1501.1L717,1501.1L718,1501.1L719,1501.1L720,1501.1L721,1501.1L722,1501.1L723,1501.1L724,1501.1L725,1501.1L726,1501.1L727,1501.1L728,1501.1L729,1501.1L730,1501.1L731,1501.1L732,1501.1L733,1501.1L734,1501.1L735,1501.1L736,1501.1L737,1501.1L738,1501.1L739,1501.1L740,1501.1L741,1501.1L742,1501.1L743,1501.1L744,1501.1L745,1501.1L746,1501.1L747,1501.1L748,1501.1L749,1501.1L750,1501.1L751,1501.1L752,1501.1L753,1501.1L754,1501.1L755,1501.1L756,1501.1L757,1501.1L758,1501.1L759,1501.1L760,1501.1L761,1501.1L762,1501.1L763,1501.1L764,1501.1L765,1501.1L766,1501.1L767,1501.1L768,1501.1L769,1501.1L770,1501.1L771,1501.1L772,1501.1L773,1501.1L774,1501.1L775,1501.1L776,1501.1L777,1501.1L778,1501.1L779,1501.1L780,1501.1L781,1501.1L782,1501.1L783,1501.1L784,1501.1L785,1501.1L786,1501.1L787,1501.1L788,1501.1L789,1501.1L790,1501.1L791,1501.1L792,1501.1L793,1501.1L794,1501.1L795,1501.1L796,1501.1L797,1501.1L798,1501.1L799,1501.1L800,1501.1L801,1501.1L802,1501.1L803,1501.1L804,1501.1L805,1501.1L806,1501.1L807,1501.1L808,1501.1L809,1501.1L810,1501.1L811,1501.1L812,1501.1L813,1501.1L814,1501.1L815,1501.1L816,1501.1L817,1501.1L818,1501.1L819,1501.1L820,1501.1L821,1501.1L822,1501.1L823,1501.1L824,1501.1L825,1501.1L826,1501.1L827,1501.1L828,1501.1L829,1501.1L830,1501.1L831,1501.1L832,1501.1L833,1501.1L834,1501.1L835,1501.1L836,1501.1L837,1501.1L838,1501.1L839,1501.1L840,1501.1L841,1501.1L842,1501.1L843,1501.1L844,1501.1L845,1501.1L846,1501.1L847,1501.1L848,1501.1L849,1501.1L850,1501.1L851,1501.1L852,1501.1L853,1501.1L854,1501.1L855,1501.1L856,1501.1L857,1501.1L858,1501.1L859,1501.1L860,1501.1L861,1501.1L862,1501.1L863,1501.1L864,1501.1L865,1501.1L866,1501.1L867,1501.1L868,1501.1L869,1501.1L870,1501.1L871,1501.1L872,1501.1L873,1501.1L874,1501.1L875,1501.1L876,1501.1L877,1501.1L878,1501.1L879,1501.1L880,1501.1L881,1501.1L882,1501.1L883,1501.1L884,1501.1L885,1501.1L886,1501.1L887,1501.1L888,1501.1L889,1501.1L890,1501.1L891,1501.1L892,1501.1L893,1501.1L894,1501.1L895,1501.1L896,1501.1L897,1501.1L898,1501.1L899,1501.1L900,1501.1L901,1501.1L902,1501.1L903,1501.1L904,1501.1L905,1501.1L906,1501.1L907,1501.1L908,1501.1L909,1501.1L910,1501.1L911,1501.1L912,1501.1L913,1501.1L914,1501.1L915,1501.1L916,1501.1L917,1501.1L918,1501.1L919,1501.1L920,1501.1L921,1501.1L922,1501.1L923,1501.1L924,1501.1L925,1501.1L926,1501.1L927,1501.1L928,1501.1L929,1501.1L930,1501.1L931,1501.1L932,1501.1L933,1501.1L934,1501.1L935,1501.1L936,1501.1L937,1501.1L938,1501.1L939,1501.1L940,1501.1L941,1501.1L942,1501.1L943,1501.1L944,1501.1L945,1501.1L946,1501.1L947,1501.1L948,1501.1L949,1501.1L950,1501.1L951,1501.1L952,1501.1L953,1501.1L954,1501.1L955,1501.1L956,1501.1L957,1501.1L958,1501.1L959,1501.1L960,1501.1L961,1501.1L962,1501.1L963,1501.1L964,1501.1L965,1501.1L966,1501.1L967,1501.1L968,1501.1L969,1501.1L970,1501.1L971,1501.1L972,1501.1L973,1501.1L974,1501.1L975,1501.1L976,1501.1L977,1501.1L978,1501.1L979,1501.1L979,1551.5L978,1556.4L977,1560.8L976,1560.8L975,1562.8L974,1565.7L973,1568.8L972,1569L971,1568.8L970,1569.9L969,1571.1L968,1572.3L967,1571L966,1570.9L965,1569.2L964,1568.8L963,1567.8L962,1565.9L961,1564.4L960,1561.9L959,1557.4L958,1528.7L957,1511L956,1512.3L955,1511L954,1511.2L953,1510.1L952,1511.2L951,1512.3L950,1512.8L949,1512.1L948,1512.6L947,1511.9L946,1512.1L945,1513.9L944,1514.4L943,1514.1L942,1512.3L941,1512L940,1512.4L939,1512.4L938,1512.7L937,1511.2L936,1512L935,1510.6L934,1511.7L933,1512.9L932,1511.8L931,1512.1L930,1511.9L929,1511.5L928,1510.9L927,1510.9L926,1511.3L925,1512.7L924,1513.6L923,1513.3L922,1514.2L921,1514L920,1513.2L919,1513.5L918,1512L917,1511.7L916,1510.9L915,1511.7L914,1511.9L913,1512.4L912,1513L911,1512.6L910,1512.8L909,1513.6L908,1513.4L907,1511.9L906,1510.8L905,1511.3L904,1511.7L903,1511.8L902,1510.6L901,1512L900,1512L899,1511.9L898,1510.9L897,1511.2L896,1512.4L895,1513.7L894,1513.8L893,1512.1L892,1511.5L891,1513.4L890,1513.1L889,1513.8L888,1512.8L887,1513.5L886,1513.5L885,1513.4L884,1510.4L883,1512.6L882,1512.3L881,1511.3L880,1513.9L879,1513.8L878,1514.1L877,1513.2L876,1512.9L875,1514.2L874,1512.8L873,1512.8L872,1510.8L871,1513.7L870,1513.6L869,1516.2L868,1515.2L867,1514.7L866,1512L865,1510.8L864,1509.3L863,1510.7L862,1510.7L861,1511L860,1511L859,1513.7L858,1514.5L857,1516.4L856,1517L855,1518.7L854,1519.2L853,1519.3L852,1518.4L851,1518.7L850,1519L849,1518.4L848,1516.4L847,1517.9L846,1518L845,1517.7L844,1518.3L843,1518.7L842,1518.8L841,1515.9L840,1514.9L839,1517.1L838,1517.5L837,1519.2L836,1518L835,1518.2L834,1517.4L833,1517.1L832,1517.3L831,1518L830,1516.3L829,1516.1L828,1515.4L827,1517L826,1517.6L825,1515.6L824,1516L823,1514.5L822,1515.2L821,1514.8L820,1515.1L819,1515.2L818,1515.3L817,1513.7L816,1513.4L815,1512.8L814,1511.1L813,1511.3L812,1510.3L811,1510.9L810,1511.7L809,1512.8L808,1513L807,1513.4L806,1511.1L805,1511.1L804,1510.4L803,1511.2L802,1512.2L801,1512.6L800,1514.4L799,1514.5L798,1514.2L797,1513.1L796,1514.1L795,1514L794,1512.9L793,1512.2L792,1512L791,1512.1L790,1512.6L789,1511.5L788,1510.4L787,1512.7L786,1513.5L785,1513.3L784,1513.9L783,1514.1L782,1513.9L781,1511.7L780,1512.3L779,1512.5L778,1512.3L777,1512.6L776,1513L775,1511.7L774,1511.5L773,1511.8L772,1512.9L771,1511.8L770,1510.3L769,1510.3L768,1512L767,1512.4L766,1513.3L765,1512.6L764,1512.8L763,1512.9L762,1512L761,1512.8L760,1512.4L759,1512.1L758,1512.9L757,1512.3L756,1512.6L755,1512.5L754,1512.6L753,1513.3L752,1512.9L751,1513L750,1513.6L749,1513.4L748,1515.8L747,1515.6L746,1516.3L745,1517L744,1516.8L743,1517.7L742,1516.5L741,1516L740,1517L739,1517.2L738,1515.7L737,1514.9L736,1514.7L735,1515.3L734,1517.5L733,1517.2L732,1518L731,1517.2L730,1516.8L729,1517.4L728,1515.7L727,1515L726,1515.5L725,1515.4L724,1515.2L723,1515.2L722,1516.6L721,1516L720,1516.9L719,1514.5L718,1516.1L717,1515.4L716,1517.3L715,1513.4L714,1512.4L713,1512L712,1512.8L711,1513.7L710,1512.5L709,1521.3L708,1533.6L707,1535L706,1532.6L705,1532.8L704,1531.6L703,1532.6L702,1532.3L701,1532.7L700,1534.1L699,1534.2L698,1533.3L697,1533.3L696,1520.2L695,1515L694,1513.8L693,1513.6L692,1511.6L691,1513.4L690,1513.9L689,1512.6L688,1514.3L687,1514.2L686,1513L685,1512.1L684,1511.7L683,1511.8L682,1512.7L681,1511.5L680,1511.2L679,1509.8L678,1510.2L677,1511.8L676,1513.1L675,1512.1L674,1513.5L673,1511.9L672,1511.1L671,1510.1L670,1511.1L669,1512.5L668,1514.9L667,1515.5L666,1514.8L665,1514L664,1512.8L663,1511.9L662,1512.5L661,1512.8L660,1513.9L659,1513.7L658,1512.8L657,1512L656,1512.6L655,1512.9L654,1514.9L653,1514.6L652,1513.9L651,1514.4L650,1516.3L649,1515.4L648,1514L647,1513.3L646,1512.1L645,1512.1L644,1511.2L643,1513.1L642,1512.6L641,1512.3L640,1511.8L639,1512.6L638,1512.7L637,1513L636,1511.5L635,1511.1L634,1509.8L633,1510.1L632,1509.9L631,1510.7L630,1512.1L629,1512.2L628,1514.1L627,1513.2L626,1512.4L625,1512.7L624,1513.1L623,1513.7L622,1514.6L621,1514.8L620,1514.5L619,1512.6L618,1515.6L617,1517L616,1519.6L615,1519.6L614,1518.1L613,1520.6L612,1520.6L611,1518.3L610,1518.2L609,1518.9L608,1519.9L607,1519L606,1518.6L605,1520.1L604,1520.3L603,1519.8L602,1519.1L601,1519.3L600,1519.6L599,1520L598,1518.3L597,1519.2L596,1516.6L595,1518.3L594,1518.2L593,1519.7L592,1520.1L591,1517.9L590,1517.7L589,1514.4L588,1515.8L587,1511.1L586,1511.4L585,1511.6L584,1511.6L583,1512.5L582,1511.6L581,1512.3L580,1511.8L579,1511.7L578,1512.2L577,1514.9L576,1513.9L575,1513.4L574,1514.1L573,1512.2L572,1512.9L571,1511.9L570,1513.1L569,1513.3L568,1512L567,1512.4L566,1511.1L565,1511.4L564,1510.8L563,1512.7L562,1512L561,1513.7L560,1514.2L559,1513.8L558,1513L557,1512.5L556,1512.5L555,1514.6L554,1513.1L553,1512.7L552,1511.3L551,1512.1L550,1511.5L549,1513.1L548,1515.2L547,1512.3L546,1511.9L545,1512.3L544,1511.7L543,1511.3L542,1511.1L541,1512.9L540,1513.5L539,1513.4L538,1511.5L537,1512.2L536,1512.3L535,1511.7L534,1511.8L533,1511.9L532,1513.1L531,1512.3L530,1514.4L529,1513.6L528,1513.8L527,1515.3L526,1514.3L525,1512.7L524,1512.2L523,1513.9L522,1516.9L521,1520.9L520,1523.2L519,1526.5L518,1525.4L517,1525.2L516,1524.8L515,1525.7L514,1526L513,1525.7L512,1526.9L511,1526.8L510,1527.5L509,1528.8L508,1528.4L507,1528.1L506,1526.8L505,1526.9L504,1524.9L503,1526L502,1525.9L501,1526L500,1524.7L499,1524.8L498,1523.8L497,1524.6L496,1523.8L495,1524L494,1525L493,1524.8L492,1523.9L491,1521.2L490,1518.3L489,1514.8L488,1511.6L487,1512.2L486,1511.8L485,1512.3L484,1512L483,1511.5L482,1510.9L481,1510.7L480,1510.3L479,1513.3L478,1512.4L477,1512.6L476,1512.6L475,1511.5L474,1511.6L473,1512.2L472,1515.3L471,1514.2L470,1513.1L469,1511.4L468,1512.2L467,1511.7L466,1512.1L465,1511.7L464,1512.1L463,1511.7L462,1512.4L461,1512.5L460,1514.8L459,1515.1L458,1516.2L457,1516.3L456,1525.8L455,1526.9L454,1526.5L453,1516.3L452,1516.4L451,1517.1L450,1516.6L449,1516.5L448,1516.8L447,1517.6L446,1517.3L445,1517.5L444,1517.4L443,1518.4L442,1517.5L441,1515.5L440,1515.1L439,1515.8L438,1517.5L437,1517.3L436,1516.1L435,1516.7L434,1517.7L433,1516.3L432,1515.9L431,1515L430,1513.5L429,1512.9L428,1514.6L427,1513.9L426,1512.8L425,1512.8L424,1512.6L423,1512.6L422,1512.6L421,1513L420,1513.5L419,1512.3L418,1511.7L417,1513.6L416,1514.5L415,1515.8L414,1514.4L413,1513.1L412,1512.6L411,1513.6L410,1514.2L409,1515.7L408,1514.7L407,1516.2L406,1517L405,1515.4L404,1514.2L403,1512.7L402,1513.3L401,1513.1L400,1513.5L399,1513.4L398,1513.7L397,1515.3L396,1512.7L395,1512.7L394,1511.4L393,1512.9L392,1513.3L391,1512.2L390,1513.7L389,1513.7L388,1515.8L387,1518.6L386,1521.3L385,1523L384,1523L383,1520.7L382,1521.4L381,1522.8L380,1524.2L379,1525.4L378,1522.9L377,1523.5L376,1522.6L375,1522.5L374,1521.9L373,1524.4L372,1523.5L371,1523.5L370,1523.3L369,1523.7L368,1522.9L367,1522.3L366,1522L365,1521.5L364,1522.5L363,1524.3L362,1521.6L361,1518.2L360,1515L359,1513.9L358,1514L357,1514L356,1515.7L355,1514.3L354,1513.2L353,1511.3L352,1511.1L351,1511.6L350,1512.2L349,1512L348,1511.4L347,1512.7L346,1514.4L345,1512.6L344,1512.8L343,1513.9L342,1513.6L341,1514.1L340,1513L339,1514.1L338,1512.9L337,1513.3L336,1513.3L335,1514.3L334,1513.3L333,1514.5L332,1513L331,1514.1L330,1514.4L329,1512.4L328,1512.2L327,1513.2L326,1514L325,1512.6L324,1512.9L323,1513.1L322,1512.5L321,1511.9L320,1513.3L319,1511.9L318,1513.1L317,1513L316,1511.9L315,1511.3L314,1511.9L313,1512.4L312,1513.1L311,1512.2L310,1511.7L309,1511.8L308,1512.1L307,1513.5L306,1512.5L305,1509.9L304,1510L303,1509.8L302,1511.6L301,1510.6L300,1512.4L299,1512.1L298,1513.1L297,1510.6L296,1512.4L295,1511.6L294,1510.6L293,1511.6L292,1513.5L291,1515L290,1515L289,1513.3L288,1513.7L287,1511.6L286,1511.8L285,1513.3L284,1513.4L283,1513.4L282,1511.9L281,1512.8L280,1511.6L279,1511.9L278,1512.3L277,1513.3L276,1511.6L275,1512.6L274,1511.4L273,1515.2L272,1514.1L271,1514L270,1512.6L269,1511.8L268,1512.7L267,1512.9L266,1511.1L265,1511.4L264,1510L263,1510L262,1510.8L261,1511.7L260,1512.2L259,1512.8L258,1510.6L257,1510L256,1511.7L255,1514.2L254,1514.1L253,1512.4L252,1512.4L251,1512.6L250,1512.8L249,1512.3L248,1513.3L247,1515.5L246,1514.1L245,1513.7L244,1512.9L243,1514L242,1513.2L241,1513L240,1511.2L239,1511.3L238,1512L237,1514.2L236,1513.3L235,1513L234,1513.1L233,1511.3L232,1509.9L231,1511.1L230,1513.3L229,1513.7L228,1512.3L227,1512.9L226,1513.7L225,1515.2L224,1513.8L223,1511.7L222,1513L221,1512.7L220,1513.6L219,1513.2L218,1511.5L217,1510.2L216,1511.2L215,1510.5L214,1511.7L213,1512.6L212,1513.3L211,1513L210,1514.4L209,1514.2L208,1514.4L207,1514L206,1512.2L205,1512.9L204,1511.3L203,1512.9L202,1512L201,1511.4L200,1510.5L199,1509.4L198,1511.5L197,1513L196,1515.5L195,1513.8L194,1514.7L193,1514L192,1514.7L191,1512.8L190,1512.1L189,1512.3L188,1513.1L187,1512.9L186,1513.4L185,1512L184,1512.1L183,1511.8Z" fill="#6a52cc"/>
<path d="M183,1495.6L184,1496.2L185,1495.2L186,1496.7L187,1496.8L188,1496.3L189,1493.7L190,1491.6L191,1494.3L192,1496.1L193,1494.9L194,1496.2L195,1494.3L196,1494.7L197,1494.8L198,1495.8L199,1494.6L200,1494.6L201,1493.3L202,1492.9L203,1492.6L204,1494.4L205,1495.2L206,1494.6L207,1494.6L208,1496.4L209,1496.5L210,1494L211,1493.8L212,1492.8L213,1491.7L214,1492.4L215,1494.4L216,1495.3L217,1495.3L218,1495L219,1495L220,1494L221,1493L222,1495.4L223,1494.7L224,1494.1L225,1491.6L226,1492.9L227,1495.1L228,1496.5L229,1494.7L230,1493.5L231,1494.6L232,1496.9L233,1496.2L234,1494.7L235,1494.3L236,1494.1L237,1494.7L238,1495L239,1495L240,1494.2L241,1493.4L242,1494.4L243,1494.4L244,1494.4L245,1494.7L246,1493.6L247,1492.5L248,1495.1L249,1497L250,1495.7L251,1494.3L252,1493L253,1493.4L254,1496.7L255,1494.6L256,1493.6L257,1493.1L258,1495.6L259,1495.9L260,1494.8L261,1495L262,1493.3L263,1495.8L264,1495.6L265,1495L266,1496.1L267,1495.2L268,1494.1L269,1492.2L270,1490.8L271,1494L272,1495.2L273,1495.7L274,1494.7L275,1493.2L276,1492.4L277,1495.6L278,1496.6L279,1496.6L280,1498.2L281,1496.5L282,1494.4L283,1494.4L284,1494.4L285,1495.4L286,1494.7L287,1497.5L288,1495.9L289,1494.9L290,1494.9L291,1495.9L292,1495.3L293,1496.9L294,1494.5L295,1494.8L296,1494.7L297,1496.4L298,1495.1L299,1492.2L300,1494L301,1495.4L302,1496.1L303,1494.2L304,1493L305,1492.3L306,1492.7L307,1494L308,1495.7L309,1495.8L310,1496.4L311,1495.8L312,1494.4L313,1494.1L314,1492L315,1495.6L316,1494.6L317,1495.2L318,1495.8L319,1496.2L320,1496L321,1495L322,1494.9L323,1493.8L324,1493L325,1496.4L326,1496.6L327,1495.5L328,1494.7L329,1495.9L330,1497.2L331,1495.4L332,1495.4L333,1495.8L334,1495.7L335,1496.3L336,1498.4L337,1495.6L338,1493.7L339,1494.5L340,1496.2L341,1496.8L342,1496.3L343,1496.4L344,1494.9L345,1494.4L346,1492.1L347,1494.7L348,1496.4L349,1497.2L350,1496.3L351,1495.4L352,1495L353,1494.6L354,1495.1L355,1495.4L356,1496.4L357,1493.8L358,1492.2L359,1492.6L360,1495.2L361,1492.3L362,1489.5L363,1487.4L364,1485L365,1485L366,1481.8L367,1481.9L368,1485.3L369,1486L370,1485.5L371,1484.8L372,1485.1L373,1483.8L374,1482L375,1483.7L376,1486.3L377,1485.4L378,1482.6L379,1481.8L380,1483.4L381,1487.9L382,1488.1L383,1485.1L384,1485.4L385,1484.5L386,1487L387,1490.8L388,1491.5L389,1496.5L390,1496L391,1497.7L392,1497.9L393,1496.3L394,1495.5L395,1492.7L396,1495.6L397,1498.1L398,1495.7L399,1494.1L400,1493.5L401,1496.2L402,1496.8L403,1495.2L404,1493.7L405,1493.7L406,1493.8L407,1496.3L408,1495.8L409,1495.1L410,1496.5L411,1496L412,1493.9L413,1493.4L414,1493.8L415,1494.2L416,1496.7L417,1494.9L418,1498.2L419,1497.9L420,1496.4L421,1493.7L422,1496.4L423,1496.9L424,1494.7L425,1494.3L426,1494.3L427,1495.8L428,1494.5L429,1497L430,1495.6L431,1493.1L432,1493.7L433,1489.3L434,1489.7L435,1490.6L436,1490.3L437,1488.5L438,1488.7L439,1488.9L440,1489L441,1489.3L442,1490.4L443,1490.2L444,1488.2L445,1487.2L446,1488.9L447,1489.1L448,1488.3L449,1487.8L450,1490.4L451,1489.7L452,1490.1L453,1492.1L454,1490.9L455,1490.7L456,1491.1L457,1491.4L458,1489.3L459,1491.6L460,1493.3L461,1496.3L462,1495.6L463,1494.3L464,1495L465,1496.9L466,1496.8L467,1494.8L468,1494.6L469,1494.8L470,1495.5L471,1493.9L472,1494L473,1492.4L474,1495.1L475,1494.1L476,1495.2L477,1495.1L478,1496.3L479,1493.5L480,1494L481,1493.5L482,1491.7L483,1491.7L484,1492.2L485,1492.4L486,1494L487,1495.3L488,1497.1L489,1493.9L490,1491.7L491,1486.1L492,1483.9L493,1483.2L494,1481.7L495,1481.6L496,1482.9L497,1481.7L498,1483.1L499,1481.1L500,1481.3L501,1481.5L502,1480.7L503,1481.6L504,1479.7L505,1480L506,1478L507,1477.8L508,1477.1L509,1478.2L510,1480.9L511,1483.7L512,1480.6L513,1480.1L514,1480.8L515,1483.4L516,1484.4L517,1484.8L518,1485.2L519,1482.9L520,1485.1L521,1488.7L522,1491.1L523,1495.6L524,1495.3L525,1496.1L526,1495.3L527,1494.3L528,1493.3L529,1495.2L530,1495.6L531,1494.2L532,1494.1L533,1493.1L534,1491.5L535,1491.8L536,1491.9L537,1493.3L538,1492.5L539,1494.3L540,1493.8L541,1496.5L542,1494.1L543,1493.8L544,1491.9L545,1494.6L546,1492.5L547,1492.5L548,1493L549,1491.5L550,1492.9L551,1493.8L552,1495.4L553,1496L554,1495.3L555,1493.1L556,1493.9L557,1495.3L558,1494L559,1493L560,1495.2L561,1496.4L562,1495.7L563,1494.9L564,1495.5L565,1494.2L566,1494.6L567,1497L568,1497.6L569,1494.6L570,1495.9L571,1496.4L572,1494.5L573,1494.3L574,1493.5L575,1494.3L576,1492.5L577,1493.5L578,1494.9L579,1496.4L580,1495.4L581,1495.2L582,1494.5L583,1492.6L584,1492L585,1492.6L586,1493.2L587,1493.3L588,1494.2L589,1490.8L590,1490.9L591,1489.4L592,1489.5L593,1489.3L594,1489.1L595,1486.5L596,1489.6L597,1488.1L598,1488.5L599,1489.1L600,1490.3L601,1489.2L602,1489.4L603,1487.5L604,1486.7L605,1486.9L606,1486.5L607,1489.7L608,1489L609,1489.1L610,1488.1L611,1487.4L612,1490L613,1490.2L614,1490L615,1486.9L616,1491.9L617,1491.6L618,1493.7L619,1496.9L620,1495.9L621,1493.3L622,1492.6L623,1493.3L624,1493.6L625,1493.8L626,1492.6L627,1492.7L628,1494.3L629,1495.6L630,1493.6L631,1493.8L632,1493.8L633,1494.2L634,1492.2L635,1492.6L636,1492L637,1492.7L638,1493.4L639,1494.8L640,1496.4L641,1495.1L642,1493L643,1492.6L644,1491.5L645,1492.6L646,1493.1L647,1493.2L648,1494.5L649,1494.3L650,1495.1L651,1494.7L652,1494.2L653,1494.3L654,1492.8L655,1493.1L656,1491.5L657,1495.8L658,1495.2L659,1494.7L660,1494.5L661,1494.8L662,1495L663,1494L664,1496.3L665,1496.1L666,1494.8L667,1496.3L668,1494.2L669,1494L670,1494.4L671,1494.9L672,1495.3L673,1493.6L674,1494.7L675,1495.5L676,1494.8L677,1495.7L678,1493.1L679,1492L680,1491.2L681,1492.4L682,1493.7L683,1494.5L684,1495.9L685,1495.8L686,1494.8L687,1495.1L688,1496.4L689,1495.3L690,1495.3L691,1495L692,1494.6L693,1495.6L694,1495.7L695,1495.5L696,1488.9L697,1473L698,1471.2L699,1470.4L700,1472.7L701,1472L702,1475L703,1475.5L704,1475.7L705,1474.6L706,1474.2L707,1474L708,1473.3L709,1488.4L710,1494.3L711,1493.7L712,1493.8L713,1493.8L714,1492.5L715,1490L716,1488.6L717,1490.1L718,1489.4L719,1489.5L720,1488.1L721,1488.5L722,1489.6L723,1491.5L724,1489.2L725,1490.3L726,1492.1L727,1490.2L728,1489.7L729,1488.6L730,1490.9L731,1491.1L732,1489.2L733,1487.8L734,1490.3L735,1490.6L736,1490.2L737,1486.8L738,1489.7L739,1489.1L740,1490.2L741,1492.1L742,1494.4L743,1491.6L744,1491.7L745,1490.9L746,1492.4L747,1490.7L748,1490.2L749,1491.6L750,1491.2L751,1494.4L752,1494.6L753,1496.6L754,1494.4L755,1495.1L756,1494.4L757,1495.1L758,1494.6L759,1494.5L760,1496.8L761,1497.5L762,1497.3L763,1495.8L764,1494.1L765,1492.4L766,1493.6L767,1494L768,1496.4L769,1495.2L770,1493.1L771,1493.7L772,1494.6L773,1494.9L774,1494.5L775,1491.8L776,1490.2L777,1492.8L778,1496.4L779,1496.2L780,1494.5L781,1495.2L782,1494.6L783,1494.9L784,1497.1L785,1496L786,1495.4L787,1494.4L788,1492.4L789,1493.3L790,1493L791,1493.8L792,1493.2L793,1492.2L794,1490L795,1492.4L796,1495.5L797,1497.3L798,1496.9L799,1496.9L800,1494.3L801,1493.1L802,1492.6L803,1492.7L804,1493.8L805,1494.5L806,1494L807,1493L808,1496.1L809,1496.5L810,1496.7L811,1498.2L812,1496.2L813,1497.1L814,1495.6L815,1496.4L816,1495.4L817,1498L818,1496.7L819,1495.1L820,1496.8L821,1495.2L822,1492.6L823,1491L824,1489.1L825,1491L826,1491L827,1489.6L828,1489.2L829,1490.1L830,1491.2L831,1491.5L832,1491.4L833,1494.7L834,1493L835,1490.6L836,1491L837,1489L838,1490.6L839,1491.3L840,1491.2L841,1492.4L842,1491.8L843,1491.8L844,1492.1L845,1490.8L846,1490L847,1488.6L848,1489.3L849,1488.9L850,1489.3L851,1489L852,1490.5L853,1491.6L854,1490.8L855,1490.5L856,1490.2L857,1489.9L858,1492.6L859,1492.5L860,1492.5L861,1493.1L862,1494.1L863,1496.3L864,1496.7L865,1497L866,1494.8L867,1495.8L868,1495.5L869,1494.7L870,1492.5L871,1492.2L872,1491L873,1495L874,1494.4L875,1494.6L876,1493.6L877,1493.5L878,1494.2L879,1494.5L880,1492.5L881,1491.9L882,1493.4L883,1495.1L884,1495.3L885,1496.7L886,1497.6L887,1494.9L888,1495.2L889,1497.6L890,1496.8L891,1495.3L892,1495.8L893,1496.9L894,1495.5L895,1494L896,1492.5L897,1491.7L898,1491L899,1492.2L900,1492.9L901,1494.1L902,1493.1L903,1495L904,1496.7L905,1496.2L906,1495.8L907,1494.2L908,1493.8L909,1495.2L910,1497.5L911,1497.9L912,1493.7L913,1493.4L914,1495.3L915,1494.9L916,1495.7L917,1495.9L918,1494.5L919,1494.1L920,1494.3L921,1494.1L922,1493.8L923,1493.4L924,1493.4L925,1493.4L926,1496.2L927,1496.1L928,1496.1L929,1497.5L930,1494.4L931,1495.3L932,1494.3L933,1493.9L934,1494.5L935,1494.6L936,1494.3L937,1494.7L938,1493.5L939,1495L940,1495.6L941,1496.5L942,1496.8L943,1495.5L944,1493.3L945,1491.2L946,1493.6L947,1493.4L948,1495.3L949,1494.8L950,1495.4L951,1493.5L952,1494.6L953,1496L954,1498.1L955,1497.9L956,1494.5L957,1493.4L958,1478L959,1444.6L960,1443.2L961,1440.9L962,1438.4L963,1439.3L964,1439L965,1439.6L966,1436.7L967,1434.4L968,1433.6L969,1434.6L970,1435.1L971,1438.1L972,1437.6L973,1438.2L974,1440.2L975,1443.1L976,1446.3L976,1556.7L975,1557.9L974,1560.5L973,1563L972,1563.5L971,1563.6L970,1565.4L969,1566.7L968,1567.5L967,1566.1L966,1565.4L965,1564.3L964,1565.1L963,1563.4L962,1561.6L961,1559.8L960,1556.7L959,1552.3L958,1522.4L957,1505.2L956,1507.8L955,1505.9L954,1506.1L953,1505.3L952,1506.8L951,1507.1L950,1507.2L949,1506.8L948,1507.7L947,1507.4L946,1508.4L945,1510.1L944,1508.7L943,1507.7L942,1506.2L941,1507.8L940,1507.9L939,1506.3L938,1506.8L937,1506.1L936,1507.1L935,1505L934,1506.3L933,1507.5L932,1506.3L931,1506.8L930,1506.2L929,1506.3L928,1506.1L927,1506.5L926,1506.9L925,1506.9L924,1508.8L923,1508.9L922,1508.3L921,1508.5L920,1508L919,1508L918,1507.1L917,1506.9L916,1506.1L915,1506.7L914,1506.5L913,1507.8L912,1508.6L911,1507.4L910,1508.5L909,1510L908,1509.4L907,1508L906,1506.4L905,1505.9L904,1507.3L903,1507.6L902,1505.3L901,1506.4L900,1506.1L899,1506.9L898,1505.8L897,1506.5L896,1508.4L895,1509.1L894,1509.6L893,1506.9L892,1506.2L891,1508.7L890,1509.5L889,1510L888,1507.7L887,1508.9L886,1509L885,1507.4L884,1504L883,1506.9L882,1507.6L881,1506.5L880,1508.8L879,1509L878,1508.3L877,1507.4L876,1507.6L875,1509.3L874,1507.7L873,1508.2L872,1507.4L871,1509.9L870,1509.1L869,1511.2L868,1510.2L867,1509.7L866,1507.1L865,1505.9L864,1504.5L863,1505.7L862,1505.5L861,1506.6L860,1506.5L859,1508.6L858,1508.8L857,1511.4L856,1513.2L855,1513.8L854,1514L853,1514.6L852,1513.4L851,1513L850,1514.3L849,1513.7L848,1510.8L847,1511.7L846,1511.8L845,1512.3L844,1512.2L843,1512.8L842,1512.7L841,1509.5L840,1509.8L839,1512.1L838,1512.6L837,1514.8L836,1512.7L835,1513.1L834,1512.7L833,1511.7L832,1512.4L831,1513.3L830,1511.6L829,1511.5L828,1509.7L827,1511.5L826,1512.5L825,1510.2L824,1510.5L823,1508.9L822,1510.1L821,1509.8L820,1510.6L819,1510.9L818,1510.6L817,1508.3L816,1507.6L815,1508.3L814,1506.8L813,1506.1L812,1505.1L811,1506.1L810,1506.3L809,1507.2L808,1508.8L807,1508.9L806,1506.3L805,1508L804,1506.4L803,1505.9L802,1507.5L801,1507.4L800,1508.8L799,1509.6L798,1509.7L797,1508.1L796,1509.3L795,1509.7L794,1508.4L793,1507.6L792,1506.8L791,1507L790,1508.4L789,1507.4L788,1506.1L787,1507.9L786,1507.9L785,1507.6L784,1509.6L783,1510.2L782,1509.6L781,1507.3L780,1507.1L779,1508.6L778,1508.6L777,1507.8L776,1508.8L775,1507L774,1506.3L773,1508.1L772,1509.9L771,1508L770,1504.7L769,1505.2L768,1507.7L767,1507.3L766,1507.8L765,1507.6L764,1508.6L763,1508.3L762,1507L761,1508.1L760,1508.2L759,1507.6L758,1508.5L757,1507.5L756,1507.5L755,1507.9L754,1508L753,1508.6L752,1508.6L751,1509.1L750,1508.9L749,1507.7L748,1511.4L747,1512.2L746,1512.7L745,1512.8L744,1510.8L743,1511.6L742,1511.4L741,1510.2L740,1511.2L739,1513.3L738,1510.8L737,1508.8L736,1509.3L735,1510.9L734,1513.4L733,1512.2L732,1513.2L731,1512.1L730,1512.6L729,1513.5L728,1510.8L727,1508.8L726,1509.8L725,1510.9L724,1510.4L723,1510.4L722,1511.6L721,1511.4L720,1512.7L719,1510.5L718,1512.1L717,1511.1L716,1513.1L715,1508L714,1506.4L713,1507.1L712,1509.6L711,1510.6L710,1507.7L709,1515.7L708,1527.4L707,1529.2L706,1527.8L705,1528.8L704,1526.9L703,1526.7L702,1526.4L701,1527.7L700,1530.3L699,1530.7L698,1529L697,1528L696,1514.3L695,1508.9L694,1507.7L693,1508.4L692,1507.2L691,1509L690,1509.1L689,1507.3L688,1510.2L687,1510.6L686,1507.7L685,1506.1L684,1506.4L683,1507.6L682,1509.2L681,1507.4L680,1506.3L679,1504.4L678,1504L677,1506.1L676,1509L675,1508.5L674,1509.5L673,1508.1L672,1507.6L671,1505.6L670,1506.4L669,1507.8L668,1509.1L667,1509.4L666,1509.6L665,1510.3L664,1509.3L663,1507.3L662,1507.4L661,1507.9L660,1508.5L659,1508.4L658,1509.3L657,1508.6L656,1508L655,1508.6L654,1509.7L653,1509.2L652,1509.7L651,1509.6L650,1510.9L649,1510.4L648,1509.3L647,1509.3L646,1507.5L645,1507L644,1505.8L643,1507.8L642,1508.2L641,1507.9L640,1508.4L639,1508.8L638,1507.4L637,1508.1L636,1507.1L635,1506.4L634,1505.3L633,1505.6L632,1505.8L631,1506.1L630,1507.8L629,1508.1L628,1508.5L627,1508.8L626,1508.8L625,1508.4L624,1509.3L623,1509.8L622,1509.7L621,1510L620,1509.1L619,1507.6L618,1511.2L617,1513.3L616,1515.4L615,1514.9L614,1513.8L613,1515.4L612,1515.7L611,1513.7L610,1513.5L609,1514.3L608,1515.3L607,1513.5L606,1513.2L605,1516.3L604,1516.7L603,1515.4L602,1514.1L601,1515L600,1516.3L599,1516.7L598,1514.7L597,1514.6L596,1510.9L595,1513.1L594,1513.5L593,1514.7L592,1515.9L591,1513.5L590,1512.7L589,1510.1L588,1512.4L587,1507.3L586,1507.4L585,1506.3L584,1506.2L583,1506.6L582,1504.5L581,1506.4L580,1506.2L579,1506.4L578,1508.2L577,1511.2L576,1508.8L575,1508.5L574,1510.7L573,1508.1L572,1507.8L571,1506.7L570,1508.6L569,1508.2L568,1506.2L567,1507.7L566,1506.7L565,1506.4L564,1505.4L563,1507.5L562,1507.9L561,1509.1L560,1508.5L559,1509.2L558,1508.2L557,1507.1L556,1508L555,1509.5L554,1507.9L553,1508L552,1505.6L551,1507.6L550,1507.8L549,1508.1L548,1510.3L547,1508.3L546,1509.1L545,1509.2L544,1507.9L543,1507.3L542,1507.5L541,1508.9L540,1508.4L539,1508.3L538,1505.9L537,1507.2L536,1507.2L535,1506.1L534,1506.7L533,1507.2L532,1507.9L531,1506.7L530,1509.7L529,1508.2L528,1507.1L527,1508.8L526,1508.6L525,1507.7L524,1507.9L523,1508.9L522,1512L521,1517L520,1519.4L519,1522.4L518,1521.4L517,1521.3L516,1520.1L515,1520.4L514,1520.6L513,1520.9L512,1522.1L511,1521.5L510,1523.7L509,1525.9L508,1524.8L507,1523.8L506,1521.7L505,1522.2L504,1520.2L503,1520.2L502,1521L501,1522.4L500,1520.4L499,1519.7L498,1519L497,1520.1L496,1519.1L495,1517.8L494,1518.1L493,1518.6L492,1518.7L491,1516.2L490,1512.6L489,1509.1L488,1505.8L487,1507.1L486,1507L485,1506.2L484,1506.1L483,1506.3L482,1504.6L481,1504.7L480,1504.7L479,1507L478,1506.4L477,1506.9L476,1507.9L475,1505.8L474,1506L473,1507.8L472,1509.9L471,1508.2L470,1506.7L469,1504.9L468,1504.9L467,1505.7L466,1507.6L465,1506.7L464,1507.7L463,1508.7L462,1509.5L461,1509.1L460,1510.1L459,1510.3L458,1512L457,1511.6L456,1521.5L455,1523L454,1521L453,1510.7L452,1511.9L451,1512.6L450,1511.6L449,1510L448,1510.3L447,1511.1L446,1510.9L445,1512.3L444,1512L443,1513.1L442,1512.6L441,1510.3L440,1510L439,1510.6L438,1512.8L437,1512.1L436,1511.8L435,1513.8L434,1514L433,1512.3L432,1511.6L431,1510.9L430,1508.9L429,1508.6L428,1509.6L427,1508.1L426,1508.3L425,1508.4L424,1508.9L423,1507.7L422,1506.1L421,1506.9L420,1508.4L419,1507.9L418,1506L417,1508.2L416,1510.1L415,1511L414,1509.4L413,1507.6L412,1508.7L411,1510.1L410,1508.7L409,1509.6L408,1509.7L407,1511.7L406,1512.1L405,1510.1L404,1509.9L403,1508.5L402,1507.9L401,1507.5L400,1508.8L399,1509.2L398,1508.1L397,1509.3L396,1507L395,1507.2L394,1507.7L393,1510.1L392,1510.1L391,1509.2L390,1509.6L389,1508.3L388,1511.6L387,1514.5L386,1517.1L385,1519.4L384,1518.4L383,1515.3L382,1516.4L381,1517.5L380,1519.4L379,1521.5L378,1519.2L377,1520.1L376,1518.6L375,1518.2L374,1518L373,1519.7L372,1518L371,1518.3L370,1517.4L369,1517.7L368,1517.1L367,1517.2L366,1518.3L365,1518.2L364,1519.2L363,1519.9L362,1517.2L361,1513.1L360,1509.3L359,1509.6L358,1510.7L357,1510.6L356,1510.9L355,1509.5L354,1509.5L353,1506.5L352,1506.1L351,1508.3L350,1508.6L349,1507.9L348,1506.6L347,1508L346,1510.4L345,1507.9L344,1507.1L343,1507.9L342,1508.9L341,1509.3L340,1507.3L339,1507.9L338,1506.9L337,1507.8L336,1507.9L335,1510L334,1509.8L333,1511.3L332,1509.6L331,1510.6L330,1511.3L329,1508.4L328,1506.5L327,1507.3L326,1508.2L325,1507.9L324,1508.4L323,1509L322,1508.1L321,1505.1L320,1507.3L319,1506.7L318,1507.8L317,1507.8L316,1507.2L315,1506.7L314,1507.2L313,1509L312,1508.4L311,1506.3L310,1506.6L309,1507L308,1508.1L307,1510.6L306,1509.2L305,1505.9L304,1505.3L303,1503.8L302,1505L301,1505.8L300,1508.1L299,1506.8L298,1508L297,1504.9L296,1507.3L295,1507.3L294,1506.4L293,1507.5L292,1508.8L291,1510.6L290,1510.4L289,1509.2L288,1509.5L287,1506.4L286,1506.6L285,1508.3L284,1509.9L283,1509.3L282,1506.2L281,1507.6L280,1506.9L279,1507.2L278,1508.2L277,1510.5L276,1509.3L275,1508.7L274,1506.7L273,1511L272,1509.6L271,1509.6L270,1509L269,1507.9L268,1508.5L267,1508.3L266,1505.7L265,1505.5L264,1504.3L263,1505.1L262,1505.8L261,1506.8L260,1508.2L259,1507.9L258,1505.3L257,1505L256,1506L255,1509.1L254,1509.8L253,1508.7L252,1509.4L251,1508L250,1506.7L249,1506.4L248,1507.9L247,1511L246,1508.9L245,1508.1L244,1508.8L243,1509.8L242,1508.8L241,1509L240,1506.7L239,1506.5L238,1507.8L237,1510L236,1508.8L235,1509.4L234,1509.1L233,1505.3L232,1504.2L231,1506.3L230,1507.9L229,1506.9L228,1505.9L227,1508.5L226,1508.8L225,1510.5L224,1509.6L223,1507L222,1508.1L221,1507L220,1507.5L219,1506.6L218,1505.9L217,1506L216,1506.7L215,1505.8L214,1507.6L213,1508.7L212,1508.7L211,1508.8L210,1510.3L209,1509.4L208,1508.9L207,1508.4L206,1506.2L205,1505.9L204,1505.5L203,1509.3L202,1507.8L201,1505.6L200,1505.2L199,1504.8L198,1507.2L197,1508.4L196,1510.5L195,1509L194,1508.7L193,1508L192,1509.7L191,1508.1L190,1506.9L189,1506.1L188,1506.4L187,1506.4L186,1508.6L185,1507.7L184,1507.7L183,1506.9Z" fill="#000"/>
<rect x="146" y="1422.7" width="871.8" height="156.5" fill="none" stroke="#4d4d4d" stroke-width="2.4" stroke-linejoin="round"/>
<line x1="137" y1="1443.9" x2="146" y2="1443.9" stroke="#4d4d4d" stroke-width="2"/>
<text x="130.0" y="1451.7" font-size="35" text-anchor="end" fill="#000">1</text>
<line x1="137" y1="1501.6" x2="146" y2="1501.6" stroke="#4d4d4d" stroke-width="2"/>
<text x="130.0" y="1511.9" font-size="35" text-anchor="end" fill="#000">0</text>
<line x1="137" y1="1560.3" x2="146" y2="1560.3" stroke="#4d4d4d" stroke-width="2"/>
<text x="130.0" y="1572.6" font-size="35" text-anchor="end" fill="#000">-1</text>
<line x1="186.2" y1="1579.2" x2="186.2" y2="1587.2" stroke="#4d4d4d" stroke-width="2"/>
<line x1="296.29999999999995" y1="1579.2" x2="296.29999999999995" y2="1587.2" stroke="#4d4d4d" stroke-width="2"/>
<line x1="406.4" y1="1579.2" x2="406.4" y2="1587.2" stroke="#4d4d4d" stroke-width="2"/>
<line x1="516.5" y1="1579.2" x2="516.5" y2="1587.2" stroke="#4d4d4d" stroke-width="2"/>
<line x1="626.5999999999999" y1="1579.2" x2="626.5999999999999" y2="1587.2" stroke="#4d4d4d" stroke-width="2"/>
<line x1="736.7" y1="1579.2" x2="736.7" y2="1587.2" stroke="#4d4d4d" stroke-width="2"/>
<line x1="846.8" y1="1579.2" x2="846.8" y2="1587.2" stroke="#4d4d4d" stroke-width="2"/>
<line x1="956.8999999999999" y1="1579.2" x2="956.8999999999999" y2="1587.2" stroke="#4d4d4d" stroke-width="2"/>
<text x="156.6" y="1459.2" font-size="36" font-weight="bold" fill="#000">I</text>
<g transform="translate(74,1503.5) rotate(-90) scale(0.93,1)"><text text-anchor="middle" font-size="36" fill="#000">Δ<tspan font-style="italic">B</tspan><tspan font-style="italic" font-size="24" dy="7.5">z</tspan><tspan dy="-7.5"> (nT)</tspan></text></g>
<text x="184.6" y="1636.2" font-size="35" text-anchor="middle" fill="#000">0</text>
<text x="295.2" y="1636.2" font-size="35" text-anchor="middle" fill="#000">250</text>
<text x="405.9" y="1636.2" font-size="35" text-anchor="middle" fill="#000">500</text>
<text x="518.6" y="1636.2" font-size="35" text-anchor="middle" fill="#000">750</text>
<text x="623.0" y="1636.2" font-size="35" text-anchor="middle" fill="#000">1000</text>
<text x="737.4" y="1636.2" font-size="35" text-anchor="middle" fill="#000">1250</text>
<text x="842.7" y="1636.2" font-size="35" text-anchor="middle" fill="#000">1500</text>
<text x="956.0" y="1636.2" font-size="35" text-anchor="middle" fill="#000">1750</text>
<text x="530.5" y="1697" font-size="36.6" text-anchor="middle" fill="#000">Time (s)</text>
<rect x="679" y="973.2" width="336.4" height="71.6" fill="#fff" stroke="#000" stroke-width="2.6"/>
<text x="735" y="1020.5" font-size="30" font-style="italic" fill="#000">ΔB</text>
<text x="804" y="1020.5" font-size="30" font-style="italic" fill="#e3173e">ΔB<tspan font-size="20" dy="8">UE</tspan></text>
<text x="894" y="1020.5" font-size="30" font-style="italic" fill="#6a52cc">ΔB<tspan font-size="20" dy="8">LE</tspan></text>
<rect x="361.8" y="6.3" width="24.7" height="870.2" fill="rgb(244,171,24)" fill-opacity="0.2" stroke="#b8760a" stroke-width="5" stroke-linejoin="round"/>
<rect x="361.8" y="1051" width="24.7" height="529.5" fill="rgb(244,171,24)" fill-opacity="0.2" stroke="#b8760a" stroke-width="5" stroke-linejoin="round"/>
</svg></body></html>
